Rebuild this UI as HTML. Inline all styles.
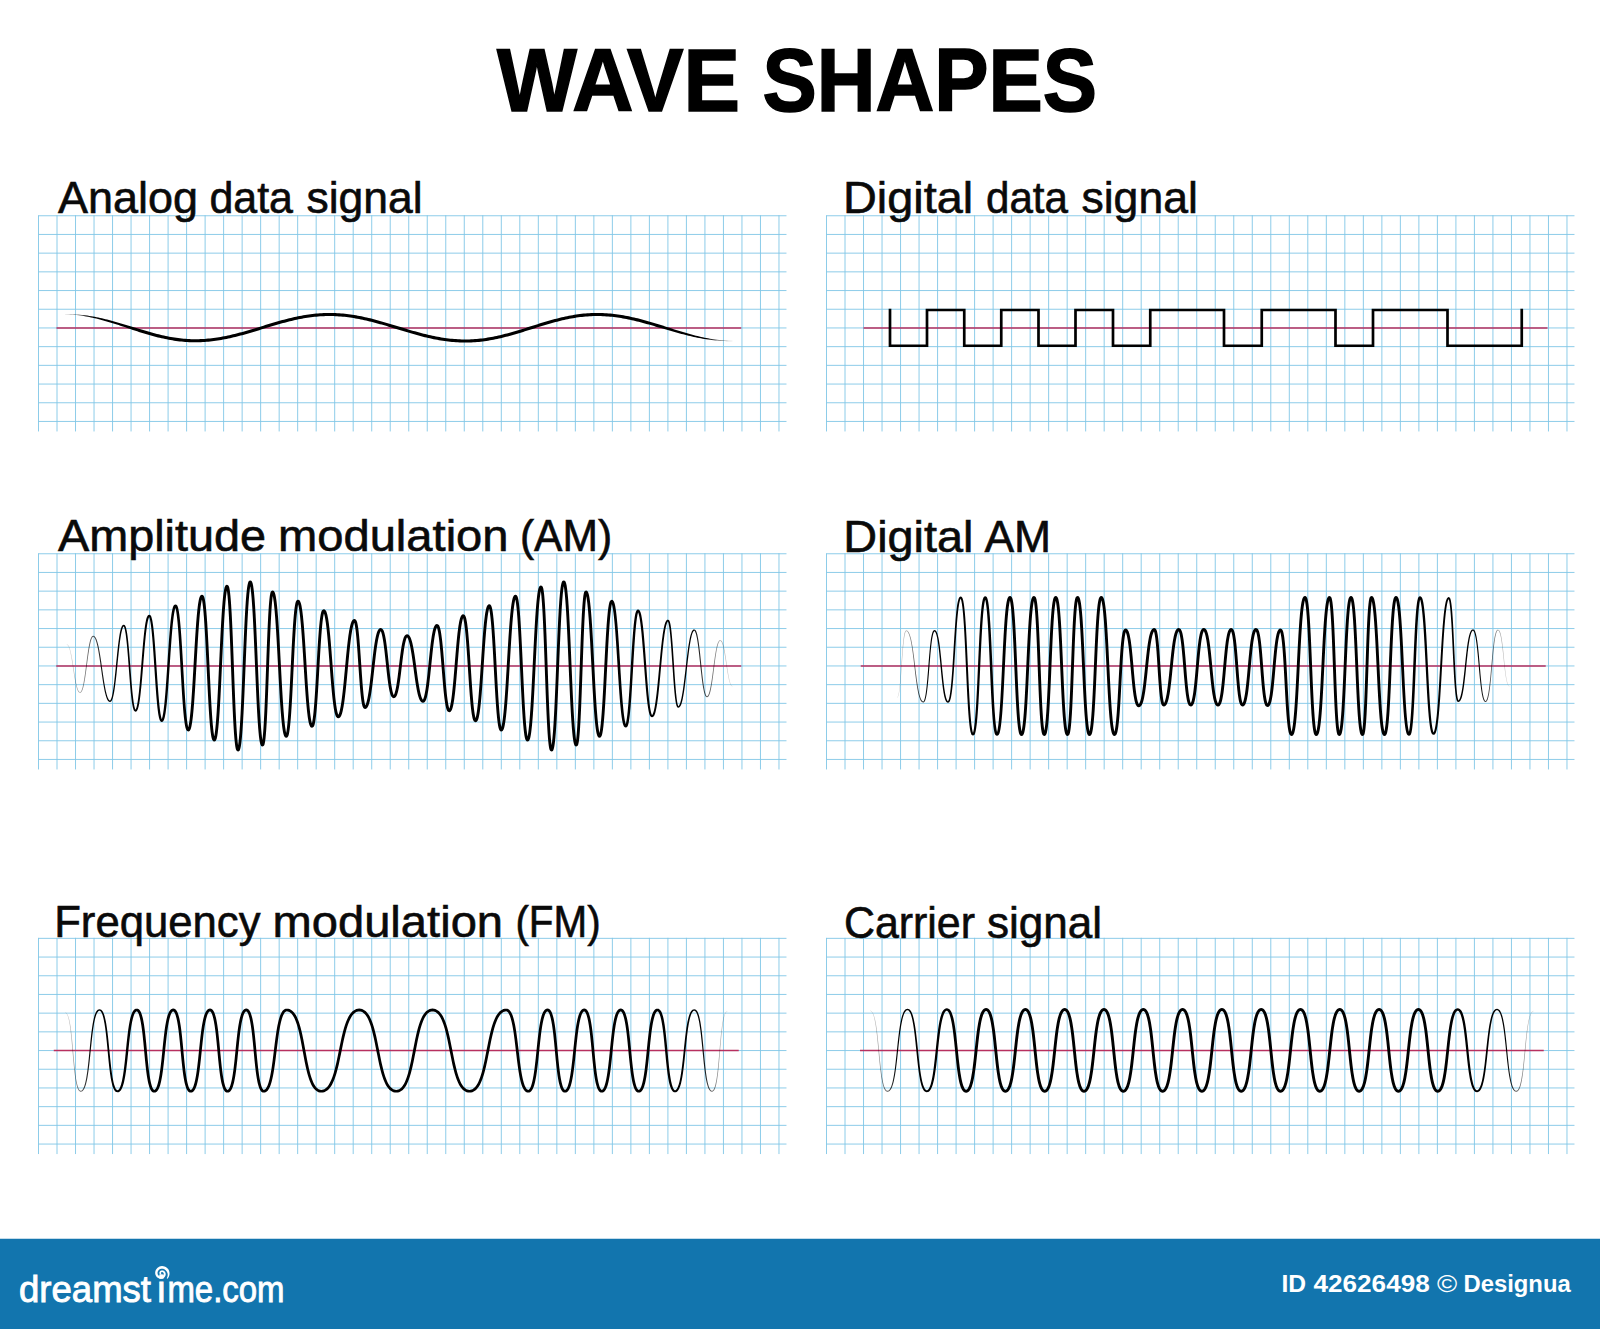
<!DOCTYPE html>
<html lang="en">
<head>
<meta charset="utf-8">
<title>Wave Shapes</title>
<style>
html,body{margin:0;padding:0;background:#fff;}
body{width:1600px;height:1329px;overflow:hidden;font-family:"Liberation Sans",sans-serif;}
svg{display:block;}
.grid{fill:none;stroke:#80c6e7;stroke-width:0.9;}
.mid{fill:none;stroke:#b8305f;stroke-width:1.4;}
.wave{stroke:none;}
.sq{fill:none;stroke:#000;stroke-width:2.7;stroke-linejoin:miter;stroke-linecap:butt;}
.lbl{font-family:"Liberation Sans",sans-serif;fill:#0a0a0a;stroke:#0a0a0a;stroke-width:0.6;}
.title{font-family:"Liberation Sans",sans-serif;font-weight:700;fill:#000;stroke:#000;stroke-width:1.6;}
.brand{font-family:"Liberation Sans",sans-serif;font-weight:400;fill:#fff;stroke:#fff;stroke-width:0.9;}
.credit{font-family:"Liberation Sans",sans-serif;font-weight:700;fill:#fff;}
</style>
</head>
<body>
<svg width="1600" height="1329" viewBox="0 0 1600 1329">
<rect width="1600" height="1329" fill="#fff"/>
<g id="title"><text class="title" y="111.2" font-size="89"><tspan x="497.01" textLength="243.01" lengthAdjust="spacingAndGlyphs">WAVE</tspan> <tspan x="762.48" textLength="334.57" lengthAdjust="spacingAndGlyphs">SHAPES</tspan></text></g>
<g id="analog"><path class="grid" d="M38.5 215.25V431.45M57.01 215.25V431.45M75.52 215.25V431.45M94.04 215.25V431.45M112.55 215.25V431.45M131.06 215.25V431.45M149.57 215.25V431.45M168.08 215.25V431.45M186.6 215.25V431.45M205.11 215.25V431.45M223.62 215.25V431.45M242.13 215.25V431.45M260.64 215.25V431.45M279.16 215.25V431.45M297.67 215.25V431.45M316.18 215.25V431.45M334.69 215.25V431.45M353.2 215.25V431.45M371.72 215.25V431.45M390.23 215.25V431.45M408.74 215.25V431.45M427.25 215.25V431.45M445.76 215.25V431.45M464.28 215.25V431.45M482.79 215.25V431.45M501.3 215.25V431.45M519.81 215.25V431.45M538.32 215.25V431.45M556.84 215.25V431.45M575.35 215.25V431.45M593.86 215.25V431.45M612.37 215.25V431.45M630.88 215.25V431.45M649.4 215.25V431.45M667.91 215.25V431.45M686.42 215.25V431.45M704.93 215.25V431.45M723.44 215.25V431.45M741.96 215.25V431.45M760.47 215.25V431.45M778.98 215.25V431.45M38.5 215.75H786.48M38.5 234.45H786.48M38.5 253.15H786.48M38.5 271.85H786.48M38.5 290.55H786.48M38.5 309.25H786.48M38.5 327.95H786.48M38.5 346.65H786.48M38.5 365.35H786.48M38.5 384.05H786.48M38.5 402.75H786.48M38.5 421.45H786.48"/><path class="mid" d="M56.5 328H741.25"/><linearGradient id="fade1" gradientUnits="userSpaceOnUse" x1="65" y1="0" x2="732.5" y2="0"><stop offset="0" stop-color="#000" stop-opacity="0.12"/><stop offset="0.04" stop-color="#000" stop-opacity="1"/><stop offset="0.96" stop-color="#000" stop-opacity="1"/><stop offset="1" stop-color="#000" stop-opacity="0.12"/></linearGradient><path class="wave" fill="url(#fade1)" d="M65 314.4L66.94 314.45L68.86 314.53L70.77 314.64L72.66 314.77L74.54 314.93L76.41 315.12L78.27 315.33L80.11 315.57L81.95 315.82L83.77 316.1L85.58 316.4L87.39 316.72L89.18 317.07L90.96 317.43L92.74 317.8L94.51 318.2L96.26 318.61L98.02 319.04L99.76 319.48L101.5 319.94L103.23 320.41L104.96 320.89L106.68 321.38L108.39 321.89L110.1 322.4L111.81 322.93L113.51 323.46L115.21 324L116.91 324.55L118.6 325.1L120.29 325.66L121.99 326.23L123.67 326.79L125.36 327.36L127.05 327.94L128.74 328.51L130.43 329.09L132.12 329.66L133.81 330.23L135.5 330.81L137.2 331.37L138.89 331.94L140.6 332.48L142.31 333.01L144.03 333.53L145.75 334.04L147.47 334.55L149.2 335.05L150.94 335.53L152.67 336.01L154.42 336.48L156.17 336.93L157.93 337.38L159.69 337.81L161.46 338.22L163.24 338.62L165.03 339.01L166.83 339.37L168.63 339.72L170.44 340.05L172.27 340.37L174.1 340.66L175.94 340.93L177.8 341.18L179.66 341.4L181.53 341.61L183.42 341.79L185.32 341.94L187.23 342.07L189.15 342.17L191.09 342.24L193.04 342.29L195 342.3L196.95 342.29L198.88 342.25L200.81 342.18L202.72 342.09L204.62 341.97L206.51 341.83L208.38 341.67L210.25 341.48L212.1 341.27L213.95 341.04L215.78 340.79L217.6 340.53L219.42 340.24L221.22 339.93L223.02 339.61L224.81 339.27L226.59 338.92L228.36 338.55L230.13 338.16L231.89 337.76L233.64 337.35L235.38 336.93L237.12 336.5L238.86 336.05L240.58 335.6L242.31 335.13L244.02 334.66L245.74 334.18L247.45 333.69L249.15 333.2L250.85 332.7L252.55 332.19L254.25 331.68L255.94 331.17L257.64 330.66L259.33 330.14L261.02 329.62L262.7 329.11L264.39 328.59L266.08 328.07L267.77 327.56L269.45 327.04L271.14 326.53L272.83 326.03L274.52 325.53L276.22 325.03L277.91 324.54L279.61 324.06L281.31 323.58L283.01 323.11L284.72 322.65L286.43 322.2L288.14 321.76L289.86 321.33L291.58 320.91L293.31 320.51L295.04 320.11L296.78 319.74L298.53 319.37L300.28 319.02L302.04 318.69L303.81 318.37L305.58 318.07L307.36 317.79L309.15 317.53L310.95 317.28L312.76 317.06L314.58 316.85L316.41 316.67L318.24 316.51L320.09 316.37L321.95 316.26L323.82 316.17L325.7 316.1L327.59 316.06L329.5 316.05L331.43 316.06L333.34 316.1L335.24 316.17L337.14 316.26L339.01 316.38L340.88 316.51L342.74 316.68L344.59 316.86L346.43 317.07L348.26 317.29L350.08 317.54L351.89 317.81L353.69 318.09L355.48 318.39L357.27 318.71L359.05 319.05L360.82 319.4L362.59 319.77L364.35 320.15L366.1 320.55L367.85 320.96L369.59 321.38L371.33 321.81L373.06 322.26L374.79 322.71L376.51 323.18L378.24 323.65L379.96 324.13L381.67 324.62L383.38 325.12L385.1 325.62L386.81 326.12L388.51 326.63L390.22 327.15L391.93 327.67L393.63 328.19L395.34 328.71L397.05 329.23L398.75 329.76L400.46 330.28L402.17 330.8L403.88 331.32L405.59 331.83L407.31 332.35L409.03 332.86L410.75 333.36L412.47 333.86L414.2 334.35L415.93 334.84L417.67 335.31L419.41 335.78L421.16 336.24L422.91 336.69L424.67 337.13L426.44 337.56L428.21 337.97L429.98 338.37L431.77 338.76L433.56 339.13L435.36 339.49L437.17 339.83L438.99 340.16L440.81 340.47L442.65 340.76L444.49 341.03L446.35 341.28L448.21 341.51L450.08 341.72L451.97 341.91L453.87 342.08L455.78 342.22L457.7 342.34L459.63 342.43L461.57 342.5L463.53 342.54L465.5 342.55L467.46 342.54L469.4 342.49L471.33 342.42L473.25 342.32L475.16 342.2L477.05 342.05L478.94 341.88L480.81 341.68L482.67 341.46L484.52 341.21L486.36 340.95L488.19 340.67L490.01 340.36L491.82 340.04L493.62 339.7L495.42 339.34L497.2 338.96L498.98 338.57L500.75 338.17L502.51 337.75L504.26 337.31L506.01 336.87L507.76 336.41L509.49 335.94L511.23 335.46L512.95 334.98L514.67 334.48L516.39 333.98L518.11 333.46L519.82 332.95L521.52 332.43L523.23 331.9L524.93 331.37L526.63 330.84L528.33 330.3L530.02 329.76L531.72 329.23L533.41 328.69L535.11 328.15L536.8 327.62L538.5 327.09L540.19 326.56L541.89 326.04L543.58 325.52L545.28 325L546.99 324.5L548.69 324L550.4 323.51L552.11 323.02L553.82 322.55L555.54 322.09L557.26 321.63L558.99 321.19L560.72 320.77L562.46 320.35L564.2 319.95L565.95 319.57L567.71 319.2L569.47 318.85L571.24 318.51L573.02 318.19L574.8 317.89L576.6 317.62L578.4 317.36L580.21 317.12L582.04 316.9L583.87 316.71L585.71 316.54L587.56 316.39L589.43 316.27L591.3 316.18L593.19 316.11L595.09 316.06L597 316.05L598.92 316.06L600.83 316.1L602.72 316.17L604.61 316.26L606.48 316.38L608.34 316.51L610.19 316.68L612.03 316.86L613.86 317.07L615.69 317.29L617.5 317.54L619.3 317.81L621.1 318.09L622.88 318.39L624.66 318.71L626.44 319.05L628.2 319.4L629.96 319.77L631.71 320.15L633.46 320.55L635.2 320.96L636.94 321.38L638.67 321.81L640.4 322.26L642.12 322.71L643.84 323.18L645.55 323.65L647.27 324.13L648.98 324.62L650.68 325.12L652.39 325.62L654.09 326.12L655.79 326.63L657.5 327.14L659.21 327.63L660.92 328.12L662.62 328.61L664.33 329.1L666.04 329.59L667.76 330.09L669.47 330.58L671.18 331.07L672.9 331.55L674.61 332.03L676.33 332.51L678.06 332.99L679.78 333.45L681.51 333.91L683.24 334.37L684.98 334.81L686.72 335.25L688.47 335.68L690.22 336.09L691.97 336.5L693.73 336.89L695.5 337.28L697.27 337.64L699.05 338L700.84 338.34L702.63 338.66L704.43 338.97L706.24 339.26L708.05 339.54L709.88 339.79L711.71 340.03L713.55 340.24L715.4 340.44L717.26 340.61L719.13 340.76L721 340.89L722.89 341L724.79 341.08L726.7 341.14L728.62 341.17L730.56 341.17L732.5 341.15L732.5 340.85L730.56 340.8L728.64 340.72L726.72 340.62L724.82 340.49L722.94 340.34L721.06 340.17L719.2 339.97L717.35 339.75L715.51 339.51L713.68 339.25L711.86 338.96L710.05 338.66L708.25 338.34L706.46 338L704.68 337.65L702.9 337.28L701.13 336.89L699.38 336.49L697.62 336.07L695.88 335.64L694.14 335.2L692.41 334.75L690.68 334.28L688.96 333.8L687.24 333.32L685.52 332.82L683.82 332.32L682.11 331.8L680.41 331.29L678.71 330.76L677.01 330.23L675.31 329.69L673.62 329.15L671.93 328.6L670.24 328.05L668.55 327.5L666.86 326.95L665.17 326.4L663.47 325.84L661.78 325.29L660.09 324.74L658.39 324.19L656.69 323.67L654.98 323.15L653.27 322.64L651.55 322.14L649.83 321.64L648.11 321.15L646.39 320.66L644.66 320.19L642.92 319.72L641.18 319.26L639.43 318.81L637.68 318.37L635.92 317.94L634.16 317.53L632.39 317.13L630.61 316.74L628.82 316.37L627.03 316.01L625.23 315.67L623.42 315.34L621.6 315.03L619.77 314.74L617.93 314.47L616.09 314.22L614.23 313.99L612.36 313.78L610.48 313.59L608.59 313.42L606.69 313.28L604.78 313.16L602.85 313.07L600.91 313L598.96 312.96L597 312.95L595.04 312.96L593.1 313.01L591.17 313.08L589.25 313.18L587.34 313.3L585.45 313.45L583.56 313.62L581.69 313.82L579.83 314.04L577.98 314.29L576.14 314.55L574.31 314.83L572.49 315.14L570.68 315.46L568.88 315.8L567.08 316.16L565.3 316.54L563.52 316.93L561.75 317.33L559.99 317.75L558.24 318.19L556.49 318.63L554.74 319.09L553.01 319.56L551.27 320.04L549.55 320.52L547.83 321.02L546.11 321.52L544.39 322.04L542.68 322.55L540.98 323.07L539.27 323.6L537.57 324.13L535.87 324.66L534.17 325.2L532.48 325.74L530.78 326.27L529.09 326.81L527.39 327.35L525.7 327.88L524 328.41L522.31 328.94L520.61 329.46L518.92 329.98L517.22 330.5L515.51 331L513.81 331.5L512.1 331.99L510.39 332.48L508.68 332.95L506.96 333.41L505.24 333.87L503.51 334.31L501.78 334.73L500.04 335.15L498.3 335.55L496.55 335.93L494.79 336.3L493.03 336.65L491.26 336.99L489.48 337.31L487.7 337.61L485.9 337.88L484.1 338.14L482.29 338.38L480.46 338.6L478.63 338.79L476.79 338.96L474.94 339.11L473.07 339.23L471.2 339.32L469.31 339.39L467.41 339.44L465.5 339.45L463.57 339.44L461.66 339.4L459.76 339.33L457.86 339.24L455.99 339.12L454.12 338.99L452.26 338.82L450.41 338.64L448.57 338.43L446.74 338.21L444.92 337.96L443.11 337.69L441.31 337.41L439.52 337.11L437.73 336.79L435.95 336.45L434.18 336.1L432.41 335.73L430.65 335.35L428.9 334.95L427.15 334.54L425.41 334.12L423.67 333.69L421.94 333.24L420.21 332.79L418.49 332.32L416.76 331.85L415.04 331.37L413.33 330.88L411.62 330.38L409.9 329.88L408.19 329.38L406.49 328.87L404.78 328.35L403.07 327.83L401.37 327.31L399.66 326.79L397.95 326.27L396.25 325.74L394.54 325.22L392.83 324.7L391.12 324.18L389.41 323.67L387.69 323.15L385.97 322.64L384.25 322.14L382.53 321.64L380.8 321.15L379.07 320.66L377.33 320.19L375.59 319.72L373.84 319.26L372.09 318.81L370.33 318.37L368.56 317.94L366.79 317.53L365.02 317.13L363.23 316.74L361.44 316.37L359.64 316.01L357.83 315.67L356.01 315.34L354.19 315.03L352.35 314.74L350.51 314.47L348.65 314.22L346.79 313.99L344.92 313.78L343.03 313.59L341.13 313.42L339.22 313.28L337.3 313.16L335.37 313.07L333.43 313L331.47 312.96L329.5 312.95L327.55 312.96L325.62 313L323.69 313.07L321.78 313.16L319.88 313.28L317.99 313.42L316.12 313.58L314.25 313.77L312.4 313.98L310.55 314.21L308.72 314.46L306.9 314.72L305.08 315.01L303.28 315.32L301.48 315.64L299.69 315.98L297.91 316.33L296.14 316.7L294.37 317.09L292.61 317.49L290.86 317.9L289.12 318.32L287.38 318.75L285.64 319.2L283.92 319.65L282.19 320.12L280.48 320.59L278.76 321.07L277.05 321.56L275.35 322.05L273.65 322.55L271.95 323.06L270.25 323.57L268.56 324.08L266.86 324.59L265.17 325.11L263.48 325.63L261.8 326.14L260.11 326.66L258.42 327.18L256.73 327.69L255.05 328.21L253.36 328.72L251.67 329.22L249.98 329.72L248.28 330.22L246.59 330.71L244.89 331.19L243.19 331.67L241.49 332.14L239.78 332.6L238.07 333.05L236.36 333.49L234.64 333.92L232.92 334.34L231.19 334.74L229.46 335.14L227.72 335.51L225.97 335.88L224.22 336.23L222.46 336.56L220.69 336.88L218.92 337.18L217.14 337.46L215.35 337.72L213.55 337.97L211.74 338.19L209.92 338.4L208.09 338.58L206.26 338.74L204.41 338.88L202.55 338.99L200.68 339.08L198.8 339.15L196.91 339.19L195 339.2L193.08 339.19L191.18 339.14L189.29 339.07L187.41 338.97L185.55 338.85L183.69 338.7L181.85 338.52L180.01 338.33L178.19 338.1L176.37 337.86L174.57 337.59L172.77 337.31L170.98 337L169.21 336.68L167.43 336.33L165.67 335.97L163.91 335.59L162.16 335.2L160.41 334.79L158.67 334.37L156.94 333.93L155.21 333.48L153.49 333.02L151.77 332.55L150.05 332.06L148.34 331.57L146.63 331.07L144.92 330.56L143.22 330.04L141.51 329.52L139.81 329L138.1 328.5L136.39 327.99L134.69 327.48L132.98 326.97L131.27 326.46L129.56 325.94L127.85 325.43L126.14 324.92L124.43 324.41L122.72 323.9L121 323.39L119.29 322.89L117.56 322.4L115.84 321.91L114.11 321.43L112.38 320.95L110.65 320.49L108.91 320.03L107.16 319.58L105.41 319.15L103.66 318.73L101.9 318.32L100.13 317.92L98.36 317.54L96.58 317.17L94.79 316.82L93 316.49L91.2 316.17L89.39 315.88L87.57 315.6L85.75 315.34L83.91 315.11L82.07 314.9L80.21 314.7L78.35 314.54L76.48 314.4L74.59 314.28L72.7 314.19L70.79 314.12L68.87 314.09L66.94 314.08L65 314.1Z"/><text class="lbl" y="213" font-size="44.2"><tspan x="57.99" textLength="140.07" lengthAdjust="spacingAndGlyphs">Analog</tspan> <tspan x="209.46" textLength="83.54" lengthAdjust="spacingAndGlyphs">data</tspan> <tspan x="306.45" textLength="116.13" lengthAdjust="spacingAndGlyphs">signal</tspan></text></g>
<g id="digital"><path class="grid" d="M826.5 215.25V431.45M845.01 215.25V431.45M863.52 215.25V431.45M882.04 215.25V431.45M900.55 215.25V431.45M919.06 215.25V431.45M937.57 215.25V431.45M956.08 215.25V431.45M974.6 215.25V431.45M993.11 215.25V431.45M1011.62 215.25V431.45M1030.13 215.25V431.45M1048.64 215.25V431.45M1067.16 215.25V431.45M1085.67 215.25V431.45M1104.18 215.25V431.45M1122.69 215.25V431.45M1141.2 215.25V431.45M1159.72 215.25V431.45M1178.23 215.25V431.45M1196.74 215.25V431.45M1215.25 215.25V431.45M1233.76 215.25V431.45M1252.28 215.25V431.45M1270.79 215.25V431.45M1289.3 215.25V431.45M1307.81 215.25V431.45M1326.32 215.25V431.45M1344.84 215.25V431.45M1363.35 215.25V431.45M1381.86 215.25V431.45M1400.37 215.25V431.45M1418.88 215.25V431.45M1437.4 215.25V431.45M1455.91 215.25V431.45M1474.42 215.25V431.45M1492.93 215.25V431.45M1511.44 215.25V431.45M1529.96 215.25V431.45M1548.47 215.25V431.45M1566.98 215.25V431.45M826.5 215.75H1574.48M826.5 234.45H1574.48M826.5 253.15H1574.48M826.5 271.85H1574.48M826.5 290.55H1574.48M826.5 309.25H1574.48M826.5 327.95H1574.48M826.5 346.65H1574.48M826.5 365.35H1574.48M826.5 384.05H1574.48M826.5 402.75H1574.48M826.5 421.45H1574.48"/><path class="mid" d="M863.5 328H1547.5"/><path class="sq" d="M890 308.8V345.75H927V310H964.25V345.75H1001.25V310H1038.5V345.75H1075.5V310H1113V345.75H1150.25V310H1224V345.75H1261.75V310H1335.5V345.75H1373V310H1447.5V345.75H1521.75V308.8"/><text class="lbl" y="212.75" font-size="44.2"><tspan x="843.05" textLength="130.1" lengthAdjust="spacingAndGlyphs">Digital</tspan> <tspan x="985.99" textLength="82.01" lengthAdjust="spacingAndGlyphs">data</tspan> <tspan x="1081.45" textLength="116.38" lengthAdjust="spacingAndGlyphs">signal</tspan></text></g>
<g id="am"><path class="grid" d="M38.5 553.25V769.45M57.01 553.25V769.45M75.52 553.25V769.45M94.04 553.25V769.45M112.55 553.25V769.45M131.06 553.25V769.45M149.57 553.25V769.45M168.08 553.25V769.45M186.6 553.25V769.45M205.11 553.25V769.45M223.62 553.25V769.45M242.13 553.25V769.45M260.64 553.25V769.45M279.16 553.25V769.45M297.67 553.25V769.45M316.18 553.25V769.45M334.69 553.25V769.45M353.2 553.25V769.45M371.72 553.25V769.45M390.23 553.25V769.45M408.74 553.25V769.45M427.25 553.25V769.45M445.76 553.25V769.45M464.28 553.25V769.45M482.79 553.25V769.45M501.3 553.25V769.45M519.81 553.25V769.45M538.32 553.25V769.45M556.84 553.25V769.45M575.35 553.25V769.45M593.86 553.25V769.45M612.37 553.25V769.45M630.88 553.25V769.45M649.4 553.25V769.45M667.91 553.25V769.45M686.42 553.25V769.45M704.93 553.25V769.45M723.44 553.25V769.45M741.96 553.25V769.45M760.47 553.25V769.45M778.98 553.25V769.45M38.5 553.75H786.48M38.5 572.45H786.48M38.5 591.15H786.48M38.5 609.85H786.48M38.5 628.55H786.48M38.5 647.25H786.48M38.5 665.95H786.48M38.5 684.65H786.48M38.5 703.35H786.48M38.5 722.05H786.48M38.5 740.75H786.48M38.5 759.45H786.48"/><path class="mid" d="M56.25 666H741.25"/><linearGradient id="fade2" gradientUnits="userSpaceOnUse" x1="66.75" y1="0" x2="732.5" y2="0"><stop offset="0" stop-color="#000" stop-opacity="0.12"/><stop offset="0.06" stop-color="#000" stop-opacity="1"/><stop offset="0.94" stop-color="#000" stop-opacity="1"/><stop offset="1" stop-color="#000" stop-opacity="0.12"/></linearGradient><path class="wave" fill="url(#fade2)" d="M66.69 644.72L67.27 644.89L67.82 645.4L68.36 646.26L68.89 647.44L69.4 648.91L69.89 650.62L70.36 652.56L70.81 654.7L71.24 656.99L71.67 659.42L72.08 661.95L72.49 664.56L72.89 667.21L73.29 669.88L73.69 672.53L74.1 675.14L74.51 677.68L74.94 680.11L75.37 682.42L75.83 684.56L76.3 686.52L76.79 688.27L77.32 689.77L77.87 691.01L78.48 691.97L79.18 692.61L79.99 692.85L80.73 692.65L81.35 692.1L81.89 691.29L82.38 690.22L82.85 688.93L83.3 687.41L83.72 685.69L84.13 683.79L84.53 681.72L84.91 679.52L85.28 677.19L85.64 674.76L86 672.25L86.35 669.68L86.7 667.06L87.04 664.43L87.39 661.8L87.73 659.19L88.08 656.62L88.44 654.11L88.8 651.69L89.17 649.37L89.55 647.17L89.94 645.13L90.35 643.25L90.76 641.56L91.2 640.08L91.64 638.84L92.1 637.86L92.55 637.18L92.95 636.82L93.26 636.73L93.64 636.83L94.08 637.16L94.56 637.75L95.05 638.6L95.54 639.68L96.01 640.99L96.48 642.49L96.93 644.18L97.36 646.03L97.78 648.03L98.2 650.17L98.6 652.42L98.99 654.77L99.38 657.21L99.76 659.72L100.14 662.28L100.51 664.89L100.88 667.51L101.25 670.15L101.62 672.78L101.99 675.38L102.37 677.95L102.75 680.46L103.14 682.91L103.53 685.28L103.94 687.54L104.35 689.69L104.78 691.72L105.23 693.6L105.68 695.32L106.16 696.87L106.66 698.24L107.19 699.42L107.76 700.4L108.39 701.16L109.13 701.69L109.99 701.9L110.76 701.69L111.36 701.17L111.83 700.47L112.26 699.57L112.66 698.49L113.03 697.23L113.4 695.79L113.74 694.19L114.08 692.43L114.41 690.52L114.73 688.48L115.03 686.33L115.34 684.06L115.63 681.69L115.92 679.25L116.21 676.72L116.49 674.14L116.77 671.51L117.04 668.84L117.31 666.15L117.59 663.45L117.86 660.74L118.13 658.05L118.41 655.39L118.69 652.76L118.97 650.18L119.25 647.67L119.54 645.23L119.83 642.87L120.13 640.62L120.44 638.48L120.76 636.46L121.08 634.58L121.41 632.85L121.75 631.28L122.1 629.89L122.45 628.7L122.81 627.72L123.17 626.98L123.49 626.5L123.71 626.3L123.76 626.28L123.64 626.26L123.76 626.41L124 626.84L124.26 627.51L124.54 628.4L124.81 629.49L125.08 630.77L125.34 632.21L125.59 633.8L125.84 635.55L126.08 637.42L126.32 639.43L126.55 641.55L126.78 643.77L127 646.08L127.22 648.49L127.44 650.96L127.65 653.5L127.86 656.1L128.07 658.74L128.27 661.41L128.48 664.11L128.68 666.83L128.89 669.55L129.09 672.26L129.3 674.97L129.5 677.64L129.71 680.29L129.92 682.89L130.14 685.43L130.35 687.91L130.57 690.32L130.8 692.65L131.02 694.88L131.26 697.01L131.5 699.03L131.74 700.93L131.99 702.7L132.25 704.33L132.52 705.81L132.8 707.13L133.09 708.3L133.4 709.3L133.73 710.13L134.12 710.82L134.66 711.37L135.48 711.65L136.3 711.43L136.87 710.94L137.3 710.32L137.66 709.56L138 708.66L138.32 707.62L138.62 706.43L138.91 705.09L139.19 703.63L139.47 702.03L139.74 700.31L140 698.47L140.26 696.52L140.51 694.47L140.75 692.33L140.99 690.1L141.23 687.79L141.46 685.41L141.69 682.96L141.91 680.46L142.14 677.91L142.36 675.31L142.58 672.68L142.8 670.03L143.01 667.36L143.23 664.67L143.45 661.98L143.66 659.3L143.88 656.63L144.1 653.97L144.32 651.35L144.54 648.76L144.76 646.21L144.99 643.71L145.21 641.27L145.45 638.9L145.68 636.6L145.92 634.38L146.16 632.25L146.41 630.22L146.67 628.29L146.92 626.47L147.19 624.78L147.46 623.22L147.73 621.79L148.01 620.51L148.3 619.4L148.59 618.45L148.87 617.68L149.14 617.13L149.35 616.81L149.42 616.74L149.26 616.78L148.97 616.71L148.99 616.75L149.16 617.03L149.38 617.55L149.61 618.26L149.85 619.14L150.08 620.19L150.31 621.38L150.54 622.72L150.77 624.19L150.99 625.79L151.2 627.5L151.41 629.33L151.62 631.26L151.82 633.29L152.02 635.41L152.22 637.62L152.41 639.9L152.6 642.26L152.79 644.68L152.98 647.16L153.16 649.69L153.34 652.27L153.52 654.88L153.7 657.53L153.88 660.2L154.06 662.9L154.23 665.61L154.41 668.32L154.58 671.04L154.76 673.74L154.94 676.44L155.11 679.12L155.29 681.77L155.47 684.39L155.66 686.97L155.84 689.51L156.03 691.99L156.21 694.42L156.4 696.78L156.6 699.07L156.8 701.29L157 703.42L157.2 705.47L157.41 707.42L157.62 709.26L157.84 711L158.07 712.63L158.3 714.13L158.53 715.51L158.78 716.77L159.03 717.89L159.29 718.87L159.57 719.72L159.89 720.45L160.27 721.08L160.84 721.63L161.73 721.91L162.62 721.67L163.2 721.17L163.6 720.59L163.93 719.91L164.23 719.12L164.5 718.22L164.76 717.19L165.02 716.04L165.26 714.78L165.5 713.39L165.73 711.9L165.96 710.3L166.18 708.59L166.4 706.79L166.62 704.89L166.83 702.9L167.03 700.83L167.24 698.69L167.44 696.47L167.63 694.18L167.83 691.83L168.02 689.42L168.21 686.96L168.39 684.45L168.58 681.9L168.76 679.32L168.95 676.7L169.13 674.06L169.31 671.39L169.49 668.71L169.67 666.02L169.85 663.33L170.02 660.64L170.2 657.95L170.38 655.27L170.56 652.61L170.75 649.97L170.93 647.35L171.11 644.77L171.3 642.23L171.48 639.72L171.67 637.27L171.86 634.87L172.06 632.53L172.25 630.25L172.45 628.04L172.65 625.9L172.86 623.85L173.07 621.88L173.28 620L173.49 618.21L173.71 616.53L173.94 614.96L174.16 613.5L174.4 612.16L174.63 610.95L174.87 609.87L175.11 608.93L175.35 608.15L175.57 607.54L175.78 607.11L175.91 606.91L175.86 606.95L175.51 607.04L175.06 606.92L174.97 606.86L175.07 607.03L175.24 607.42L175.44 608L175.64 608.73L175.84 609.6L176.04 610.62L176.24 611.76L176.44 613.02L176.64 614.39L176.83 615.88L177.02 617.47L177.2 619.16L177.39 620.94L177.56 622.82L177.74 624.78L177.91 626.82L178.09 628.93L178.25 631.12L178.42 633.37L178.59 635.68L178.75 638.05L178.91 640.48L179.07 642.95L179.22 645.46L179.38 648.02L179.54 650.61L179.69 653.22L179.84 655.87L179.99 658.53L180.15 661.21L180.3 663.9L180.45 666.6L180.6 669.3L180.75 672L180.9 674.69L181.05 677.37L181.21 680.04L181.36 682.69L181.51 685.31L181.67 687.9L181.82 690.45L181.98 692.97L182.14 695.45L182.3 697.88L182.46 700.26L182.63 702.58L182.8 704.84L182.97 707.03L183.14 709.16L183.31 711.21L183.49 713.18L183.67 715.07L183.86 716.88L184.04 718.59L184.24 720.21L184.43 721.72L184.63 723.13L184.84 724.44L185.05 725.64L185.26 726.72L185.49 727.69L185.73 728.55L185.98 729.3L186.28 729.97L186.65 730.57L187.25 731.12L188.24 731.42L189.22 731.15L189.83 730.63L190.22 730.05L190.53 729.42L190.8 728.7L191.04 727.88L191.28 726.96L191.51 725.94L191.72 724.8L191.94 723.56L192.15 722.22L192.35 720.78L192.55 719.24L192.75 717.61L192.94 715.9L193.13 714.09L193.31 712.2L193.49 710.24L193.67 708.2L193.85 706.09L194.02 703.91L194.19 701.67L194.36 699.37L194.53 697.02L194.69 694.62L194.85 692.16L195.02 689.67L195.18 687.13L195.33 684.56L195.49 681.96L195.65 679.33L195.8 676.68L195.96 674.01L196.11 671.32L196.27 668.62L196.42 665.92L196.57 663.21L196.73 660.5L196.88 657.79L197.03 655.09L197.19 652.41L197.34 649.74L197.5 647.09L197.65 644.46L197.81 641.86L197.97 639.3L198.13 636.77L198.29 634.28L198.45 631.83L198.62 629.43L198.78 627.08L198.95 624.79L199.12 622.56L199.29 620.4L199.47 618.3L199.64 616.27L199.82 614.32L200.01 612.45L200.19 610.66L200.38 608.97L200.57 607.36L200.77 605.85L200.96 604.45L201.16 603.15L201.37 601.96L201.57 600.89L201.78 599.94L201.98 599.13L202.19 598.46L202.38 597.94L202.54 597.6L202.62 597.47L202.48 597.57L202.02 597.7L201.41 597.53L201.25 597.39L201.31 597.49L201.44 597.8L201.6 598.28L201.76 598.9L201.94 599.66L202.11 600.54L202.28 601.53L202.45 602.64L202.62 603.85L202.78 605.16L202.94 606.56L203.1 608.06L203.26 609.65L203.42 611.33L203.57 613.09L203.72 614.92L203.87 616.83L204.02 618.82L204.16 620.87L204.31 622.98L204.45 625.16L204.59 627.39L204.73 629.68L204.86 632.01L205 634.4L205.13 636.83L205.27 639.3L205.4 641.81L205.53 644.35L205.66 646.92L205.79 649.52L205.92 652.14L206.04 654.79L206.17 657.45L206.3 660.12L206.42 662.81L206.55 665.5L206.68 668.19L206.8 670.89L206.93 673.58L207.06 676.26L207.18 678.94L207.31 681.6L207.44 684.25L207.57 686.87L207.7 689.47L207.83 692.05L207.96 694.59L208.09 697.1L208.22 699.58L208.36 702.01L208.49 704.4L208.63 706.75L208.77 709.04L208.91 711.28L209.05 713.46L209.19 715.58L209.34 717.64L209.49 719.64L209.64 721.56L209.79 723.41L209.94 725.18L210.1 726.87L210.26 728.48L210.42 730.01L210.59 731.44L210.76 732.78L210.93 734.03L211.11 735.18L211.29 736.24L211.48 737.19L211.67 738.04L211.87 738.8L212.1 739.47L212.35 740.06L212.69 740.61L213.25 741.15L214.24 741.45L215.23 741.16L215.79 740.64L216.13 740.11L216.38 739.53L216.6 738.89L216.81 738.17L217 737.35L217.18 736.44L217.36 735.43L217.54 734.33L217.71 733.14L217.88 731.85L218.04 730.48L218.2 729.01L218.36 727.47L218.52 725.84L218.67 724.14L218.82 722.36L218.97 720.5L219.12 718.58L219.27 716.59L219.41 714.53L219.55 712.42L219.69 710.24L219.83 708.01L219.97 705.73L220.1 703.4L220.23 701.02L220.37 698.6L220.5 696.14L220.63 693.64L220.76 691.11L220.89 688.54L221.01 685.95L221.14 683.33L221.27 680.69L221.39 678.03L221.52 675.36L221.64 672.67L221.76 669.97L221.89 667.26L222.01 664.55L222.14 661.83L222.26 659.12L222.38 656.42L222.51 653.72L222.63 651.03L222.76 648.35L222.88 645.7L223.01 643.06L223.13 640.44L223.26 637.85L223.39 635.29L223.52 632.76L223.65 630.26L223.78 627.81L223.91 625.39L224.04 623.02L224.18 620.69L224.32 618.41L224.45 616.19L224.59 614.02L224.73 611.92L224.88 609.87L225.02 607.89L225.17 605.98L225.32 604.13L225.47 602.37L225.62 600.68L225.77 599.07L225.93 597.54L226.09 596.1L226.25 594.76L226.41 593.5L226.58 592.35L226.75 591.3L226.92 590.35L227.09 589.52L227.25 588.8L227.42 588.21L227.57 587.76L227.7 587.48L227.74 587.4L227.57 587.54L227.02 587.7L226.31 587.48L226.12 587.3L226.16 587.37L226.26 587.63L226.38 588.05L226.52 588.61L226.65 589.28L226.79 590.06L226.93 590.95L227.06 591.94L227.2 593.02L227.33 594.2L227.47 595.46L227.6 596.82L227.72 598.26L227.85 599.77L227.98 601.37L228.1 603.04L228.22 604.78L228.34 606.6L228.46 608.48L228.58 610.42L228.69 612.43L228.81 614.49L228.92 616.61L229.03 618.79L229.14 621.01L229.25 623.29L229.36 625.61L229.47 627.97L229.57 630.38L229.68 632.82L229.78 635.29L229.89 637.8L229.99 640.35L230.09 642.91L230.2 645.51L230.3 648.12L230.4 650.76L230.5 653.41L230.6 656.07L230.7 658.75L230.8 661.44L230.9 664.13L231 666.83L231.1 669.53L231.2 672.23L231.3 674.92L231.4 677.61L231.5 680.29L231.6 682.95L231.7 685.61L231.8 688.24L231.91 690.86L232.01 693.45L232.11 696.02L232.21 698.56L232.32 701.08L232.42 703.56L232.53 706L232.64 708.41L232.74 710.78L232.85 713.1L232.96 715.38L233.07 717.61L233.18 719.79L233.3 721.92L233.41 723.99L233.53 726L233.65 727.95L233.77 729.84L233.89 731.66L234.01 733.42L234.13 735.1L234.26 736.71L234.39 738.24L234.52 739.7L234.65 741.07L234.78 742.37L234.92 743.57L235.06 744.69L235.2 745.72L235.35 746.66L235.5 747.51L235.65 748.27L235.82 748.95L235.99 749.54L236.2 750.07L236.48 750.58L236.98 751.11L238 751.45L238.97 751.15L239.51 750.64L239.82 750.14L240.05 749.6L240.24 749.01L240.42 748.34L240.59 747.59L240.76 746.75L240.92 745.82L241.08 744.8L241.23 743.69L241.38 742.5L241.52 741.23L241.67 739.87L241.81 738.44L241.95 736.92L242.09 735.33L242.23 733.67L242.36 731.94L242.49 730.14L242.62 728.27L242.75 726.34L242.88 724.35L243.01 722.3L243.13 720.19L243.25 718.03L243.37 715.82L243.5 713.56L243.61 711.25L243.73 708.9L243.85 706.51L243.97 704.09L244.08 701.62L244.19 699.12L244.31 696.59L244.42 694.03L244.53 691.45L244.64 688.84L244.75 686.21L244.86 683.56L244.97 680.89L245.08 678.21L245.19 675.52L245.3 672.83L245.41 670.12L245.52 667.41L245.63 664.7L245.74 662L245.85 659.29L245.95 656.59L246.06 653.9L246.17 651.23L246.28 648.56L246.39 645.91L246.5 643.29L246.62 640.68L246.73 638.1L246.84 635.54L246.95 633.01L247.07 630.51L247.18 628.05L247.3 625.63L247.41 623.24L247.53 620.89L247.65 618.59L247.77 616.34L247.89 614.13L248.01 611.98L248.14 609.88L248.26 607.83L248.39 605.85L248.52 603.93L248.65 602.07L248.78 600.28L248.91 598.56L249.05 596.91L249.19 595.34L249.32 593.84L249.47 592.42L249.61 591.09L249.75 589.84L249.9 588.68L250.04 587.62L250.19 586.65L250.34 585.78L250.49 585.01L250.64 584.35L250.79 583.82L250.92 583.41L251.03 583.16L251.06 583.1L250.87 583.27L250.24 583.45L249.63 583.27L249.45 583.11L249.49 583.18L249.6 583.44L249.74 583.87L249.89 584.42L250.04 585.1L250.2 585.9L250.35 586.8L250.51 587.8L250.66 588.9L250.81 590.09L250.96 591.38L251.1 592.75L251.25 594.21L251.39 595.75L251.53 597.37L251.67 599.07L251.8 600.84L251.94 602.67L252.07 604.58L252.2 606.55L252.33 608.59L252.46 610.68L252.59 612.83L252.71 615.03L252.84 617.29L252.96 619.59L253.08 621.94L253.2 624.33L253.32 626.76L253.44 629.23L253.56 631.74L253.68 634.28L253.79 636.85L253.91 639.44L254.02 642.06L254.14 644.7L254.25 647.36L254.36 650.03L254.48 652.72L254.59 655.42L254.7 658.13L254.81 660.84L254.93 663.56L255.04 666.28L255.15 668.99L255.26 671.7L255.38 674.4L255.49 677.09L255.6 679.77L255.72 682.43L255.83 685.07L255.95 687.69L256.06 690.28L256.18 692.85L256.29 695.39L256.41 697.9L256.53 700.38L256.65 702.81L256.77 705.21L256.89 707.56L257.02 709.87L257.14 712.13L257.27 714.34L257.39 716.5L257.52 718.6L257.65 720.64L257.79 722.62L257.92 724.53L258.06 726.38L258.19 728.16L258.33 729.87L258.47 731.51L258.62 733.06L258.76 734.54L258.91 735.94L259.06 737.25L259.22 738.48L259.37 739.62L259.53 740.67L259.7 741.63L259.87 742.49L260.04 743.27L260.23 743.96L260.43 744.57L260.67 745.12L260.98 745.63L261.52 746.15L262.51 746.45L263.56 746.07L264.05 745.51L264.31 744.99L264.5 744.44L264.67 743.82L264.82 743.11L264.97 742.3L265.12 741.4L265.26 740.41L265.39 739.32L265.53 738.13L265.66 736.85L265.79 735.49L265.91 734.04L266.04 732.5L266.16 730.88L266.28 729.19L266.4 727.42L266.52 725.57L266.63 723.66L266.75 721.68L266.86 719.64L266.97 717.53L267.08 715.37L267.19 713.15L267.3 710.88L267.4 708.56L267.51 706.19L267.61 703.79L267.71 701.34L267.82 698.85L267.92 696.33L268.02 693.78L268.12 691.2L268.22 688.59L268.31 685.97L268.41 683.32L268.51 680.66L268.61 677.98L268.71 675.29L268.8 672.6L268.9 669.9L269 667.2L269.09 664.5L269.19 661.81L269.29 659.12L269.39 656.45L269.48 653.79L269.58 651.14L269.68 648.52L269.78 645.91L269.88 643.33L269.98 640.78L270.08 638.27L270.18 635.78L270.29 633.34L270.39 630.93L270.5 628.57L270.6 626.26L270.71 623.99L270.82 621.78L270.93 619.62L271.04 617.52L271.15 615.48L271.26 613.51L271.38 611.61L271.49 609.77L271.61 608.01L271.73 606.33L271.85 604.73L271.97 603.21L272.1 601.77L272.23 600.43L272.36 599.18L272.49 598.03L272.62 596.97L272.75 596.03L272.88 595.19L273.02 594.47L273.15 593.87L273.27 593.41L273.38 593.11L273.42 593.01L273.25 593.19L272.48 593.45L272 593.32L271.85 593.2L271.91 593.3L272.06 593.61L272.23 594.08L272.42 594.7L272.61 595.45L272.8 596.33L272.99 597.33L273.18 598.43L273.37 599.64L273.56 600.96L273.74 602.37L273.92 603.87L274.09 605.47L274.27 607.15L274.44 608.91L274.61 610.75L274.78 612.67L274.94 614.66L275.11 616.71L275.27 618.83L275.43 621.02L275.58 623.26L275.74 625.55L275.89 627.9L276.04 630.29L276.19 632.73L276.34 635.21L276.49 637.73L276.64 640.28L276.78 642.86L276.93 645.47L277.07 648.1L277.22 650.75L277.36 653.42L277.5 656.1L277.64 658.8L277.79 661.5L277.93 664.2L278.07 666.91L278.21 669.61L278.35 672.3L278.5 674.98L278.64 677.66L278.78 680.31L278.93 682.94L279.07 685.56L279.22 688.14L279.36 690.69L279.51 693.21L279.66 695.7L279.81 698.14L279.96 700.54L280.12 702.89L280.27 705.19L280.43 707.44L280.59 709.63L280.75 711.76L280.92 713.83L281.08 715.83L281.25 717.76L281.42 719.61L281.6 721.39L281.77 723.09L281.95 724.71L282.13 726.24L282.32 727.68L282.51 729.03L282.71 730.28L282.9 731.44L283.11 732.5L283.32 733.46L283.54 734.32L283.77 735.09L284.02 735.76L284.31 736.37L284.69 736.92L285.29 737.43L286.26 737.7L287.28 737.38L287.84 736.82L288.17 736.25L288.43 735.63L288.65 734.93L288.86 734.13L289.05 733.23L289.24 732.22L289.42 731.11L289.6 729.89L289.78 728.57L289.95 727.15L290.11 725.64L290.28 724.04L290.44 722.34L290.6 720.56L290.75 718.7L290.91 716.77L291.06 714.75L291.21 712.67L291.35 710.52L291.5 708.31L291.64 706.04L291.78 703.71L291.92 701.33L292.06 698.91L292.19 696.44L292.33 693.93L292.46 691.38L292.6 688.8L292.73 686.2L292.86 683.57L292.99 680.91L293.12 678.24L293.25 675.56L293.38 672.87L293.51 670.17L293.64 667.47L293.77 664.77L293.9 662.08L294.03 659.4L294.16 656.73L294.29 654.08L294.42 651.45L294.55 648.84L294.68 646.27L294.82 643.73L294.95 641.22L295.09 638.75L295.23 636.33L295.37 633.96L295.51 631.64L295.65 629.38L295.79 627.17L295.94 625.03L296.09 622.96L296.24 620.96L296.39 619.03L296.54 617.19L296.7 615.42L296.86 613.75L297.02 612.17L297.18 610.68L297.35 609.29L297.52 608.01L297.69 606.84L297.87 605.78L298.04 604.84L298.22 604.04L298.39 603.37L298.55 602.85L298.69 602.51L298.76 602.38L298.61 602.52L297.98 602.7L297.55 602.58L297.44 602.5L297.53 602.65L297.71 603.03L297.92 603.59L298.14 604.31L298.37 605.18L298.59 606.19L298.81 607.34L299.03 608.6L299.24 609.98L299.46 611.47L299.67 613.07L299.87 614.77L300.07 616.56L300.27 618.44L300.47 620.41L300.66 622.46L300.85 624.59L301.04 626.79L301.22 629.05L301.4 631.38L301.58 633.76L301.76 636.2L301.94 638.69L302.11 641.22L302.29 643.79L302.46 646.39L302.63 649.02L302.8 651.68L302.97 654.36L303.13 657.06L303.3 659.77L303.47 662.48L303.64 665.2L303.8 667.91L303.97 670.62L304.14 673.32L304.31 676L304.48 678.66L304.65 681.3L304.82 683.91L304.99 686.48L305.17 689.01L305.35 691.51L305.52 693.95L305.7 696.34L305.89 698.68L306.07 700.95L306.26 703.16L306.45 705.3L306.65 707.37L306.84 709.35L307.04 711.25L307.25 713.07L307.46 714.79L307.67 716.42L307.89 717.95L308.11 719.37L308.34 720.69L308.57 721.89L308.81 722.99L309.06 723.97L309.33 724.84L309.62 725.6L309.94 726.28L310.36 726.89L311 727.43L312.02 727.7L313.06 727.36L313.66 726.77L314.03 726.14L314.31 725.44L314.56 724.64L314.8 723.73L315.02 722.69L315.23 721.54L315.44 720.26L315.65 718.87L315.84 717.37L316.04 715.76L316.22 714.04L316.41 712.23L316.59 710.32L316.77 708.33L316.94 706.25L317.11 704.09L317.28 701.86L317.45 699.56L317.61 697.2L317.78 694.78L317.94 692.31L318.09 689.79L318.25 687.23L318.41 684.64L318.56 682.01L318.71 679.35L318.87 676.68L319.02 673.99L319.17 671.29L319.32 668.58L319.47 665.88L319.63 663.17L319.78 660.48L319.93 657.81L320.08 655.16L320.24 652.53L320.39 649.94L320.55 647.38L320.71 644.87L320.87 642.41L321.03 639.99L321.19 637.64L321.36 635.35L321.53 633.13L321.7 630.99L321.87 628.92L322.05 626.94L322.23 625.05L322.41 623.26L322.6 621.57L322.79 619.99L322.98 618.53L323.17 617.18L323.37 615.96L323.57 614.88L323.78 613.94L323.98 613.15L324.17 612.53L324.34 612.11L324.44 611.93L324.32 612.03L323.73 612.2L323.38 612.11L323.32 612.07L323.46 612.28L323.68 612.73L323.94 613.38L324.2 614.22L324.47 615.22L324.73 616.37L324.99 617.67L325.25 619.1L325.5 620.65L325.75 622.33L325.99 624.11L326.23 626L326.47 627.99L326.7 630.06L326.93 632.23L327.15 634.47L327.37 636.78L327.59 639.16L327.8 641.6L328.01 644.09L328.22 646.63L328.43 649.21L328.64 651.83L328.84 654.47L329.05 657.14L329.25 659.82L329.45 662.51L329.66 665.21L329.86 667.9L330.06 670.58L330.27 673.25L330.47 675.9L330.68 678.52L330.89 681.1L331.1 683.65L331.31 686.15L331.52 688.6L331.74 690.99L331.96 693.31L332.19 695.57L332.42 697.75L332.65 699.84L332.89 701.85L333.13 703.77L333.38 705.58L333.63 707.29L333.89 708.89L334.16 710.37L334.43 711.74L334.72 712.98L335.01 714.09L335.33 715.07L335.66 715.94L336.04 716.69L336.52 717.36L337.22 717.93L338.26 718.2L339.29 717.95L340.06 717.39L340.62 716.7L341.09 715.89L341.49 714.96L341.87 713.9L342.23 712.71L342.57 711.38L342.9 709.92L343.22 708.34L343.54 706.65L343.84 704.83L344.14 702.91L344.43 700.9L344.71 698.78L344.99 696.58L345.26 694.31L345.53 691.96L345.79 689.54L346.05 687.07L346.31 684.55L346.57 681.98L346.82 679.38L347.07 676.75L347.32 674.1L347.57 671.43L347.82 668.76L348.07 666.09L348.32 663.42L348.57 660.77L348.82 658.15L349.07 655.55L349.32 652.99L349.58 650.48L349.84 648.02L350.1 645.62L350.37 643.28L350.64 641.02L350.92 638.84L351.2 636.75L351.48 634.76L351.77 632.88L352.07 631.1L352.37 629.45L352.68 627.93L353 626.55L353.32 625.32L353.64 624.25L353.96 623.35L354.26 622.65L354.54 622.16L354.73 621.92L354.74 621.9L354.47 621.95L353.91 621.76L353.85 621.72L354.01 622.04L354.23 622.65L354.46 623.49L354.69 624.53L354.93 625.76L355.16 627.16L355.38 628.72L355.6 630.43L355.82 632.27L356.03 634.24L356.23 636.33L356.43 638.51L356.63 640.8L356.83 643.17L357.02 645.62L357.21 648.13L357.39 650.71L357.58 653.33L357.76 655.98L357.94 658.67L358.12 661.38L358.3 664.1L358.48 666.81L358.66 669.52L358.85 672.21L359.03 674.87L359.21 677.5L359.4 680.08L359.59 682.6L359.78 685.06L359.98 687.44L360.18 689.74L360.38 691.95L360.59 694.05L360.8 696.05L361.02 697.92L361.24 699.67L361.48 701.28L361.72 702.74L361.97 704.05L362.23 705.22L362.51 706.22L362.82 707.09L363.21 707.84L363.82 708.54L365.01 708.95L366.13 708.68L366.97 708.05L367.59 707.25L368.11 706.31L368.57 705.22L369 703.98L369.41 702.58L369.8 701.03L370.17 699.34L370.53 697.51L370.88 695.56L371.22 693.49L371.56 691.31L371.88 689.03L372.2 686.67L372.51 684.24L372.82 681.74L373.13 679.19L373.43 676.59L373.72 673.97L374.02 671.32L374.32 668.66L374.61 666L374.91 663.36L375.2 660.74L375.5 658.15L375.81 655.61L376.11 653.12L376.42 650.7L376.74 648.36L377.06 646.12L377.39 643.97L377.72 641.93L378.07 640.02L378.42 638.25L378.78 636.63L379.14 635.17L379.51 633.89L379.89 632.81L380.25 631.94L380.59 631.33L380.85 630.98L380.93 630.91L380.72 630.95L380.45 630.88L380.51 630.95L380.78 631.37L381.11 632.11L381.46 633.12L381.81 634.37L382.16 635.82L382.5 637.46L382.83 639.28L383.16 641.25L383.47 643.35L383.78 645.58L384.08 647.91L384.38 650.33L384.67 652.83L384.96 655.39L385.24 657.99L385.53 660.63L385.81 663.28L386.09 665.93L386.37 668.57L386.66 671.18L386.95 673.75L387.24 676.26L387.54 678.7L387.85 681.06L388.16 683.31L388.48 685.45L388.81 687.47L389.15 689.34L389.51 691.06L389.88 692.61L390.27 694L390.69 695.2L391.17 696.24L391.74 697.12L392.54 697.85L393.78 698.2L395.01 697.84L395.88 697.06L396.51 696.09L397.03 694.95L397.49 693.62L397.93 692.09L398.34 690.37L398.73 688.49L399.11 686.44L399.48 684.25L399.83 681.94L400.17 679.52L400.51 677L400.84 674.42L401.17 671.78L401.49 669.11L401.81 666.42L402.14 663.74L402.46 661.07L402.78 658.44L403.11 655.87L403.45 653.38L403.79 650.99L404.14 648.71L404.5 646.56L404.86 644.57L405.24 642.76L405.63 641.14L406.02 639.75L406.42 638.62L406.8 637.77L407.12 637.27L407.24 637.15L407.02 637.2L406.93 637.19L407.09 637.33L407.43 637.77L407.85 638.51L408.29 639.54L408.73 640.8L409.16 642.28L409.59 643.95L410 645.79L410.41 647.79L410.8 649.93L411.19 652.19L411.57 654.55L411.94 657L412.31 659.52L412.67 662.1L413.03 664.72L413.38 667.37L413.74 670.02L414.1 672.67L414.46 675.3L414.82 677.89L415.19 680.43L415.57 682.9L415.95 685.29L416.34 687.58L416.74 689.76L417.16 691.81L417.59 693.73L418.04 695.49L418.51 697.08L419.01 698.51L419.54 699.75L420.14 700.82L420.85 701.72L421.79 702.41L422.98 702.7L424.16 702.38L424.97 701.69L425.54 700.86L426.01 699.88L426.43 698.74L426.83 697.44L427.2 695.97L427.55 694.34L427.9 692.57L428.23 690.65L428.55 688.6L428.86 686.43L429.17 684.16L429.47 681.79L429.76 679.33L430.05 676.81L430.33 674.22L430.61 671.59L430.89 668.92L431.17 666.23L431.44 663.52L431.72 660.82L431.99 658.13L432.27 655.47L432.55 652.84L432.83 650.26L433.12 647.75L433.41 645.32L433.71 642.97L434.01 640.72L434.32 638.58L434.63 636.57L434.95 634.7L435.29 632.99L435.62 631.44L435.97 630.08L436.32 628.92L436.66 627.99L436.98 627.32L437.23 626.94L437.28 626.88L437.02 626.95L436.55 626.82L436.52 626.82L436.7 627.14L436.96 627.75L437.23 628.59L437.51 629.65L437.79 630.9L438.06 632.32L438.32 633.91L438.58 635.64L438.84 637.51L439.09 639.51L439.33 641.62L439.57 643.84L439.8 646.15L440.03 648.55L440.26 651.02L440.48 653.56L440.7 656.15L440.92 658.79L441.14 661.47L441.36 664.16L441.57 666.88L441.79 669.6L442 672.32L442.22 675.02L442.44 677.7L442.66 680.34L442.88 682.94L443.1 685.49L443.33 687.97L443.56 690.39L443.8 692.71L444.04 694.95L444.28 697.09L444.54 699.11L444.8 701.02L445.06 702.8L445.34 704.44L445.62 705.93L445.92 707.28L446.23 708.47L446.57 709.5L446.94 710.39L447.41 711.17L448.1 711.85L449.22 712.2L450.32 711.91L451.04 711.3L451.53 710.59L451.93 709.77L452.28 708.84L452.61 707.76L452.92 706.55L453.22 705.2L453.51 703.72L453.79 702.12L454.06 700.39L454.33 698.54L454.58 696.59L454.84 694.54L455.08 692.39L455.33 690.16L455.57 687.84L455.8 685.46L456.03 683.01L456.26 680.51L456.48 677.95L456.71 675.36L456.93 672.73L457.15 670.07L457.37 667.4L457.59 664.71L457.8 662.02L458.02 659.34L458.24 656.67L458.46 654.01L458.68 651.39L458.9 648.8L459.13 646.25L459.36 643.76L459.59 641.32L459.82 638.95L460.06 636.65L460.3 634.43L460.54 632.31L460.79 630.28L461.05 628.35L461.31 626.54L461.57 624.86L461.84 623.3L462.12 621.88L462.4 620.62L462.68 619.52L462.96 618.59L463.24 617.86L463.48 617.35L463.65 617.09L463.62 617.11L463.27 617.2L462.73 617.05L462.65 616.99L462.77 617.21L462.97 617.68L463.19 618.36L463.42 619.23L463.65 620.26L463.88 621.45L464.11 622.78L464.33 624.24L464.54 625.83L464.76 627.55L464.97 629.37L465.17 631.3L465.37 633.32L465.57 635.44L465.76 637.65L465.95 639.93L466.14 642.28L466.33 644.7L466.51 647.18L466.69 649.71L466.87 652.29L467.05 654.9L467.23 657.55L467.4 660.23L467.58 662.92L467.75 665.63L467.93 668.34L468.1 671.06L468.28 673.77L468.45 676.46L468.63 679.14L468.81 681.79L468.98 684.41L469.16 686.99L469.35 689.53L469.53 692.01L469.72 694.44L469.91 696.81L470.1 699.1L470.29 701.32L470.49 703.45L470.69 705.5L470.9 707.45L471.11 709.3L471.33 711.04L471.55 712.67L471.78 714.18L472.01 715.57L472.26 716.82L472.51 717.95L472.77 718.95L473.06 719.82L473.38 720.58L473.78 721.25L474.42 721.87L475.48 722.2L476.52 721.92L477.17 721.36L477.6 720.73L477.94 720.02L478.24 719.21L478.52 718.29L478.78 717.25L479.03 716.1L479.28 714.83L479.52 713.44L479.75 711.94L479.97 710.33L480.19 708.62L480.41 706.82L480.62 704.92L480.83 702.93L481.04 700.86L481.24 698.71L481.43 696.49L481.63 694.2L481.82 691.85L482.01 689.44L482.2 686.98L482.38 684.47L482.57 681.92L482.75 679.33L482.93 676.72L483.11 674.07L483.29 671.41L483.47 668.73L483.64 666.04L483.82 663.35L484 660.65L484.18 657.96L484.35 655.28L484.53 652.62L484.71 649.98L484.89 647.37L485.07 644.79L485.26 642.24L485.44 639.74L485.63 637.29L485.82 634.89L486.01 632.54L486.2 630.26L486.4 628.05L486.6 625.92L486.8 623.87L487.01 621.9L487.22 620.02L487.43 618.24L487.65 616.56L487.87 614.99L488.1 613.53L488.33 612.19L488.56 610.98L488.79 609.91L489.03 608.98L489.26 608.2L489.48 607.6L489.67 607.19L489.79 607.02L489.69 607.09L489.27 607.2L488.68 607.03L488.54 606.92L488.63 607.07L488.79 607.45L488.97 608.02L489.16 608.74L489.35 609.62L489.54 610.63L489.74 611.77L489.92 613.03L490.11 614.4L490.29 615.89L490.47 617.48L490.65 619.16L490.82 620.95L490.99 622.82L491.16 624.78L491.32 626.82L491.48 628.93L491.65 631.12L491.8 633.37L491.96 635.68L492.11 638.06L492.27 640.48L492.42 642.95L492.57 645.47L492.72 648.02L492.86 650.61L493.01 653.23L493.15 655.87L493.3 658.53L493.44 661.21L493.59 663.9L493.73 666.6L493.87 669.3L494.02 672L494.16 674.69L494.31 677.37L494.45 680.04L494.6 682.69L494.74 685.31L494.89 687.9L495.04 690.45L495.19 692.97L495.34 695.45L495.49 697.88L495.65 700.26L495.8 702.58L495.96 704.84L496.12 707.03L496.29 709.16L496.45 711.21L496.62 713.18L496.79 715.07L496.97 716.88L497.15 718.59L497.33 720.2L497.52 721.72L497.71 723.13L497.9 724.44L498.1 725.63L498.31 726.71L498.52 727.68L498.75 728.54L498.99 729.29L499.27 729.95L499.63 730.56L500.21 731.13L501.24 731.45L502.22 731.19L502.85 730.67L503.26 730.09L503.58 729.44L503.86 728.72L504.11 727.9L504.35 726.98L504.59 725.95L504.81 724.81L505.03 723.57L505.25 722.23L505.45 720.79L505.66 719.25L505.86 717.62L506.06 715.9L506.25 714.1L506.44 712.21L506.63 710.24L506.82 708.2L507 706.09L507.18 703.92L507.35 701.68L507.53 699.38L507.7 697.02L507.87 694.62L508.04 692.17L508.21 689.67L508.37 687.14L508.54 684.57L508.7 681.97L508.86 679.34L509.02 676.69L509.19 674.01L509.35 671.33L509.5 668.63L509.66 665.92L509.82 663.21L509.98 660.5L510.14 657.79L510.3 655.1L510.46 652.41L510.62 649.74L510.78 647.09L510.94 644.46L511.11 641.87L511.27 639.3L511.44 636.77L511.6 634.28L511.77 631.83L511.94 629.43L512.11 627.09L512.29 624.8L512.46 622.57L512.64 620.4L512.82 618.3L513.01 616.28L513.19 614.32L513.38 612.45L513.57 610.67L513.77 608.97L513.97 607.37L514.17 605.86L514.37 604.46L514.58 603.16L514.79 601.97L515 600.9L515.21 599.96L515.43 599.14L515.64 598.47L515.83 597.96L516 597.62L516.08 597.49L515.96 597.58L515.52 597.7L514.9 597.52L514.73 597.38L514.79 597.48L514.92 597.79L515.07 598.27L515.24 598.9L515.41 599.65L515.58 600.53L515.74 601.53L515.91 602.63L516.07 603.84L516.23 605.15L516.39 606.56L516.55 608.06L516.71 609.65L516.86 611.33L517.01 613.08L517.16 614.92L517.3 616.83L517.45 618.81L517.59 620.86L517.73 622.98L517.87 625.15L518.01 627.39L518.14 629.67L518.27 632.01L518.41 634.4L518.54 636.83L518.67 639.3L518.8 641.81L518.93 644.35L519.05 646.92L519.18 649.52L519.31 652.14L519.43 654.79L519.56 657.45L519.68 660.12L519.8 662.81L519.93 665.5L520.05 668.19L520.18 670.89L520.3 673.58L520.42 676.26L520.55 678.94L520.67 681.6L520.8 684.24L520.92 686.87L521.05 689.47L521.18 692.05L521.31 694.59L521.44 697.1L521.57 699.58L521.7 702.01L521.83 704.4L521.96 706.74L522.1 709.04L522.24 711.28L522.38 713.46L522.52 715.58L522.66 717.64L522.8 719.63L522.95 721.56L523.1 723.41L523.25 725.18L523.41 726.87L523.56 728.48L523.72 730L523.89 731.44L524.05 732.78L524.22 734.03L524.39 735.18L524.57 736.23L524.75 737.18L524.94 738.04L525.14 738.79L525.36 739.46L525.61 740.05L525.94 740.6L526.49 741.14L527.49 741.45L528.45 741.18L529.03 740.68L529.39 740.14L529.67 739.57L529.9 738.93L530.12 738.2L530.32 737.39L530.52 736.48L530.71 735.47L530.89 734.38L531.08 733.18L531.25 731.9L531.43 730.53L531.6 729.08L531.77 727.54L531.93 725.92L532.1 724.22L532.26 722.45L532.42 720.6L532.57 718.69L532.73 716.71L532.88 714.66L533.03 712.56L533.18 710.39L533.32 708.17L533.47 705.9L533.61 703.58L533.75 701.22L533.89 698.81L534.03 696.36L534.17 693.87L534.3 691.35L534.44 688.8L534.57 686.22L534.71 683.61L534.84 680.99L534.97 678.34L535.11 675.68L535.24 673L535.37 670.31L535.5 667.62L535.63 664.92L535.76 662.22L535.89 659.52L536.03 656.83L536.16 654.14L536.29 651.47L536.42 648.81L536.55 646.16L536.69 643.53L536.82 640.93L536.96 638.35L537.09 635.8L537.23 633.29L537.37 630.8L537.5 628.36L537.64 625.95L537.79 623.59L537.93 621.28L538.07 619.01L538.22 616.8L538.37 614.65L538.51 612.55L538.67 610.51L538.82 608.54L538.97 606.64L539.13 604.8L539.29 603.05L539.45 601.37L539.62 599.76L539.78 598.25L539.95 596.82L540.12 595.48L540.29 594.23L540.47 593.08L540.65 592.04L540.82 591.1L541 590.27L541.18 589.56L541.35 588.98L541.51 588.54L541.64 588.26L541.69 588.18L541.53 588.31L541.01 588.45L540.27 588.21L540.09 588.02L540.13 588.1L540.23 588.38L540.35 588.81L540.48 589.38L540.61 590.06L540.75 590.86L540.88 591.76L541.01 592.77L541.14 593.87L541.27 595.07L541.4 596.36L541.52 597.73L541.65 599.19L541.77 600.73L541.89 602.35L542.01 604.05L542.12 605.82L542.24 607.66L542.35 609.57L542.47 611.54L542.58 613.57L542.69 615.67L542.8 617.82L542.9 620.02L543.01 622.28L543.12 624.58L543.22 626.93L543.32 629.32L543.43 631.75L543.53 634.22L543.63 636.73L543.73 639.27L543.83 641.84L543.93 644.43L544.03 647.05L544.12 649.69L544.22 652.35L544.32 655.02L544.42 657.71L544.51 660.41L544.61 663.12L544.7 665.84L544.8 668.55L544.9 671.27L544.99 673.98L545.09 676.69L545.19 679.39L545.28 682.08L545.38 684.76L545.48 687.42L545.58 690.06L545.67 692.68L545.77 695.28L545.87 697.84L545.97 700.39L546.07 702.89L546.18 705.37L546.28 707.8L546.38 710.2L546.49 712.55L546.59 714.86L546.7 717.12L546.81 719.33L546.92 721.48L547.03 723.58L547.14 725.62L547.25 727.6L547.37 729.52L547.48 731.37L547.6 733.15L547.72 734.85L547.84 736.49L547.96 738.04L548.09 739.52L548.22 740.92L548.35 742.23L548.48 743.45L548.61 744.59L548.75 745.64L548.89 746.59L549.03 747.45L549.18 748.22L549.34 748.9L549.51 749.5L549.71 750.04L549.97 750.55L550.46 751.09L551.49 751.45L552.47 751.15L553.01 750.64L553.32 750.14L553.55 749.6L553.74 749.01L553.92 748.34L554.09 747.59L554.26 746.75L554.42 745.82L554.58 744.8L554.73 743.69L554.88 742.5L555.02 741.23L555.17 739.87L555.31 738.44L555.45 736.92L555.59 735.33L555.73 733.67L555.86 731.94L555.99 730.14L556.12 728.27L556.25 726.34L556.38 724.35L556.51 722.3L556.63 720.19L556.75 718.03L556.87 715.82L557 713.56L557.11 711.25L557.23 708.9L557.35 706.51L557.47 704.09L557.58 701.62L557.69 699.12L557.81 696.59L557.92 694.03L558.03 691.45L558.14 688.84L558.25 686.21L558.36 683.56L558.47 680.89L558.58 678.21L558.69 675.52L558.8 672.83L558.91 670.12L559.02 667.41L559.13 664.7L559.24 662L559.35 659.29L559.45 656.59L559.56 653.9L559.67 651.23L559.78 648.56L559.89 645.91L560 643.29L560.12 640.68L560.23 638.1L560.34 635.54L560.45 633.01L560.57 630.51L560.68 628.05L560.8 625.63L560.91 623.24L561.03 620.89L561.15 618.59L561.27 616.34L561.39 614.13L561.51 611.98L561.64 609.88L561.76 607.83L561.89 605.85L562.02 603.93L562.15 602.07L562.28 600.28L562.41 598.56L562.55 596.91L562.69 595.34L562.82 593.84L562.97 592.42L563.11 591.09L563.25 589.84L563.4 588.68L563.54 587.62L563.69 586.65L563.84 585.78L563.99 585.01L564.14 584.35L564.29 583.82L564.42 583.41L564.53 583.16L564.56 583.1L564.37 583.27L563.74 583.45L563.15 583.28L562.97 583.12L563.01 583.19L563.12 583.45L563.26 583.87L563.41 584.43L563.57 585.11L563.73 585.9L563.88 586.8L564.04 587.8L564.2 588.9L564.35 590.1L564.5 591.38L564.65 592.76L564.8 594.21L564.94 595.75L565.08 597.37L565.22 599.07L565.36 600.84L565.5 602.68L565.64 604.58L565.77 606.55L565.9 608.59L566.04 610.68L566.16 612.83L566.29 615.03L566.42 617.29L566.55 619.59L566.67 621.94L566.79 624.33L566.91 626.77L567.04 629.24L567.16 631.74L567.28 634.28L567.39 636.85L567.51 639.44L567.63 642.06L567.75 644.7L567.86 647.36L567.98 650.03L568.09 652.72L568.21 655.42L568.32 658.13L568.44 660.84L568.55 663.56L568.67 666.28L568.78 668.99L568.9 671.7L569.01 674.4L569.13 677.09L569.24 679.77L569.36 682.43L569.47 685.07L569.59 687.69L569.71 690.29L569.83 692.86L569.95 695.4L570.07 697.9L570.19 700.38L570.31 702.81L570.43 705.21L570.56 707.56L570.68 709.87L570.81 712.13L570.94 714.34L571.07 716.5L571.2 718.6L571.33 720.64L571.47 722.62L571.61 724.53L571.74 726.38L571.88 728.17L572.03 729.87L572.17 731.51L572.32 733.07L572.47 734.55L572.62 735.94L572.77 737.26L572.93 738.48L573.09 739.62L573.25 740.67L573.42 741.63L573.59 742.5L573.77 743.28L573.96 743.97L574.17 744.58L574.41 745.13L574.73 745.65L575.28 746.16L576.26 746.45L577.32 746.06L577.8 745.5L578.05 744.98L578.24 744.43L578.4 743.81L578.55 743.1L578.7 742.3L578.84 741.4L578.98 740.4L579.11 739.31L579.24 738.13L579.37 736.85L579.49 735.49L579.62 734.03L579.74 732.5L579.86 730.88L579.97 729.19L580.09 727.41L580.2 725.57L580.32 723.66L580.43 721.68L580.54 719.63L580.65 717.53L580.75 715.37L580.86 713.15L580.96 710.88L581.07 708.56L581.17 706.19L581.27 703.78L581.37 701.34L581.47 698.85L581.57 696.33L581.67 693.78L581.76 691.2L581.86 688.59L581.96 685.97L582.05 683.32L582.15 680.66L582.24 677.98L582.34 675.29L582.43 672.6L582.53 669.9L582.62 667.2L582.72 664.5L582.81 661.81L582.91 659.12L583 656.45L583.1 653.79L583.19 651.14L583.29 648.51L583.39 645.91L583.48 643.33L583.58 640.78L583.68 638.27L583.78 635.78L583.88 633.34L583.98 630.93L584.08 628.57L584.18 626.25L584.29 623.99L584.39 621.78L584.5 619.62L584.61 617.52L584.72 615.48L584.83 613.51L584.94 611.6L585.05 609.77L585.17 608.01L585.29 606.33L585.4 604.72L585.52 603.2L585.65 601.77L585.77 600.43L585.9 599.18L586.02 598.02L586.15 596.97L586.28 596.02L586.41 595.18L586.54 594.46L586.67 593.86L586.79 593.4L586.89 593.1L586.94 593L586.77 593.18L585.98 593.45L585.48 593.31L585.33 593.19L585.39 593.29L585.54 593.6L585.71 594.07L585.89 594.69L586.08 595.45L586.27 596.33L586.46 597.32L586.64 598.43L586.83 599.64L587.01 600.95L587.19 602.36L587.37 603.87L587.54 605.46L587.71 607.14L587.88 608.91L588.05 610.75L588.21 612.67L588.37 614.65L588.53 616.71L588.69 618.83L588.85 621.02L589 623.26L589.15 625.55L589.3 627.9L589.45 630.29L589.6 632.73L589.75 635.21L589.89 637.72L590.04 640.27L590.18 642.86L590.32 645.46L590.46 648.1L590.6 650.75L590.74 653.42L590.88 656.1L591.02 658.8L591.16 661.5L591.3 664.2L591.44 666.9L591.58 669.6L591.72 672.3L591.86 674.98L592 677.65L592.14 680.31L592.28 682.94L592.43 685.55L592.57 688.14L592.71 690.69L592.86 693.21L593.01 695.69L593.15 698.14L593.3 700.54L593.45 702.89L593.61 705.19L593.76 707.44L593.92 709.63L594.08 711.76L594.24 713.83L594.4 715.83L594.56 717.76L594.73 719.61L594.9 721.39L595.08 723.09L595.25 724.71L595.43 726.24L595.62 727.68L595.8 729.03L595.99 730.28L596.19 731.44L596.39 732.5L596.59 733.46L596.81 734.32L597.04 735.08L597.28 735.76L597.57 736.36L597.94 736.91L598.53 737.43L599.51 737.7L600.51 737.39L601.09 736.84L601.44 736.27L601.71 735.65L601.94 734.94L602.15 734.14L602.36 733.24L602.55 732.23L602.75 731.12L602.93 729.9L603.11 728.58L603.29 727.16L603.47 725.65L603.64 724.04L603.8 722.35L603.97 720.57L604.13 718.71L604.29 716.77L604.45 714.76L604.6 712.68L604.76 710.53L604.91 708.31L605.06 706.04L605.2 703.72L605.35 701.34L605.49 698.91L605.63 696.44L605.78 693.93L605.92 691.39L606.05 688.81L606.19 686.2L606.33 683.57L606.46 680.92L606.6 678.25L606.74 675.56L606.87 672.87L607.01 670.17L607.14 667.47L607.28 664.77L607.41 662.08L607.55 659.4L607.68 656.73L607.82 654.08L607.95 651.45L608.09 648.85L608.23 646.27L608.37 643.73L608.51 641.22L608.65 638.76L608.8 636.34L608.94 633.96L609.09 631.64L609.23 629.38L609.38 627.18L609.53 625.03L609.69 622.96L609.84 620.96L610 619.04L610.16 617.19L610.32 615.43L610.48 613.75L610.65 612.17L610.82 610.68L610.99 609.3L611.17 608.01L611.34 606.84L611.52 605.79L611.7 604.85L611.88 604.04L612.06 603.37L612.23 602.86L612.37 602.51L612.44 602.39L612.3 602.5L611.73 602.66L611.32 602.55L611.22 602.47L611.33 602.63L611.51 603.01L611.72 603.57L611.95 604.29L612.17 605.17L612.4 606.18L612.62 607.32L612.84 608.59L613.06 609.97L613.28 611.46L613.49 613.06L613.69 614.76L613.9 616.55L614.1 618.44L614.3 620.41L614.49 622.46L614.68 624.58L614.87 626.78L615.06 629.05L615.24 631.37L615.42 633.76L615.6 636.2L615.78 638.68L615.96 641.21L616.13 643.78L616.31 646.38L616.48 649.02L616.65 651.68L616.82 654.36L616.99 657.05L617.16 659.76L617.33 662.47L617.5 665.19L617.67 667.91L617.84 670.61L618.01 673.31L618.18 675.99L618.35 678.65L618.52 681.29L618.69 683.9L618.87 686.47L619.05 689.01L619.22 691.5L619.4 693.94L619.59 696.33L619.77 698.67L619.96 700.94L620.15 703.15L620.34 705.29L620.54 707.35L620.73 709.34L620.94 711.24L621.14 713.05L621.35 714.77L621.57 716.4L621.79 717.92L622.01 719.34L622.24 720.66L622.48 721.86L622.72 722.95L622.97 723.92L623.24 724.79L623.52 725.54L623.84 726.19L624.25 726.77L624.84 727.28L625.76 727.52L626.7 727.23L627.27 726.68L627.63 726.08L627.92 725.39L628.18 724.6L628.42 723.69L628.64 722.66L628.87 721.51L629.08 720.24L629.29 718.85L629.49 717.35L629.69 715.74L629.89 714.03L630.08 712.21L630.26 710.31L630.45 708.31L630.63 706.24L630.8 704.08L630.98 701.85L631.15 699.55L631.32 697.19L631.49 694.77L631.65 692.3L631.82 689.78L631.98 687.22L632.14 684.63L632.3 682L632.46 679.34L632.61 676.67L632.77 673.98L632.93 671.28L633.08 668.57L633.24 665.86L633.4 663.16L633.55 660.47L633.71 657.8L633.87 655.15L634.03 652.52L634.19 649.93L634.35 647.37L634.51 644.86L634.68 642.39L634.85 639.98L635.02 637.63L635.19 635.34L635.36 633.12L635.54 630.97L635.72 628.9L635.9 626.92L636.08 625.03L636.27 623.24L636.46 621.55L636.66 619.97L636.86 618.5L637.06 617.15L637.27 615.92L637.48 614.83L637.69 613.88L637.9 613.08L638.1 612.45L638.29 612L638.42 611.78L638.38 611.8L637.99 611.9L637.75 611.84L637.76 611.86L637.93 612.11L638.17 612.59L638.43 613.26L638.69 614.11L638.95 615.12L639.21 616.27L639.47 617.57L639.72 619L639.97 620.55L640.21 622.22L640.45 624L640.68 625.88L640.91 627.86L641.14 629.93L641.36 632.09L641.58 634.32L641.79 636.63L642 639L642.21 641.42L642.42 643.91L642.62 646.43L642.83 649L643.03 651.61L643.23 654.24L643.43 656.89L643.62 659.56L643.82 662.24L644.02 664.92L644.22 667.6L644.42 670.27L644.61 672.92L644.81 675.56L645.02 678.16L645.22 680.74L645.42 683.27L645.63 685.76L645.84 688.19L646.05 690.57L646.27 692.88L646.49 695.13L646.71 697.29L646.94 699.38L647.17 701.37L647.4 703.27L647.64 705.08L647.89 706.77L648.14 708.36L648.4 709.82L648.67 711.17L648.94 712.39L649.23 713.48L649.52 714.44L649.84 715.26L650.19 715.97L650.61 716.56L651.18 717.04L652.02 717.26L652.86 717.05L653.51 716.56L654.01 715.91L654.44 715.13L654.83 714.21L655.19 713.15L655.54 711.94L655.88 710.59L656.2 709.11L656.51 707.49L656.82 705.75L657.12 703.9L657.41 701.93L657.7 699.87L657.98 697.7L658.25 695.45L658.52 693.13L658.79 690.72L659.05 688.26L659.31 685.73L659.56 683.16L659.81 680.54L660.06 677.89L660.31 675.22L660.56 672.52L660.81 669.82L661.05 667.11L661.3 664.4L661.55 661.71L661.8 659.03L662.05 656.39L662.3 653.78L662.55 651.21L662.81 648.69L663.07 646.23L663.34 643.84L663.6 641.52L663.88 639.28L664.16 637.13L664.44 635.09L664.73 633.14L665.02 631.31L665.32 629.6L665.63 628.03L665.95 626.59L666.27 625.3L666.59 624.17L666.92 623.21L667.25 622.43L667.56 621.86L667.83 621.5L667.99 621.37L667.99 621.36L667.76 621.28L667.84 621.39L668.04 621.8L668.27 622.45L668.51 623.32L668.75 624.38L668.98 625.63L669.21 627.03L669.44 628.59L669.65 630.3L669.87 632.14L670.07 634.1L670.28 636.17L670.48 638.36L670.67 640.63L670.86 642.99L671.05 645.43L671.24 647.93L671.42 650.49L671.6 653.09L671.78 655.74L671.96 658.41L672.14 661.1L672.32 663.8L672.5 666.5L672.68 669.2L672.86 671.87L673.04 674.52L673.22 677.13L673.4 679.69L673.59 682.19L673.78 684.64L673.97 687L674.17 689.29L674.37 691.48L674.57 693.56L674.78 695.54L674.99 697.39L675.21 699.12L675.44 700.71L675.68 702.15L675.92 703.44L676.17 704.56L676.43 705.52L676.72 706.32L677.05 706.97L677.5 707.49L678.26 707.76L679.08 707.55L679.75 707.04L680.3 706.33L680.79 705.45L681.24 704.38L681.66 703.14L682.07 701.73L682.46 700.16L682.84 698.44L683.21 696.58L683.56 694.58L683.91 692.47L684.25 690.25L684.58 687.93L684.91 685.52L685.23 683.04L685.54 680.5L685.85 677.9L686.16 675.26L686.47 672.6L686.77 669.92L687.08 667.23L687.38 664.55L687.69 661.89L687.99 659.26L688.3 656.67L688.62 654.13L688.94 651.66L689.26 649.26L689.59 646.95L689.93 644.75L690.27 642.65L690.62 640.68L690.99 638.84L691.36 637.15L691.74 635.62L692.13 634.27L692.53 633.1L692.93 632.14L693.34 631.41L693.71 630.91L694.03 630.66L694.24 630.6L694.39 630.65L694.68 630.93L695.04 631.51L695.42 632.38L695.8 633.49L696.17 634.84L696.53 636.38L696.88 638.12L697.22 640.02L697.54 642.08L697.86 644.27L698.18 646.58L698.48 649L698.78 651.5L699.08 654.08L699.37 656.71L699.66 659.38L699.95 662.08L700.23 664.78L700.52 667.48L700.81 670.16L701.1 672.79L701.4 675.37L701.7 677.88L702.01 680.31L702.32 682.63L702.64 684.83L702.97 686.91L703.32 688.83L703.67 690.59L704.04 692.17L704.42 693.57L704.82 694.75L705.25 695.73L705.73 696.48L706.29 697.01L707.01 697.22L707.79 696.99L708.42 696.41L708.97 695.58L709.46 694.5L709.92 693.2L710.36 691.67L710.78 689.95L711.18 688.05L711.56 685.98L711.94 683.77L712.3 681.44L712.66 679.01L713.01 676.5L713.35 673.93L713.69 671.31L714.03 668.68L714.37 666.04L714.71 663.43L715.05 660.86L715.4 658.35L715.76 655.93L716.12 653.61L716.49 651.41L716.88 649.36L717.27 647.48L717.69 645.79L718.11 644.3L718.55 643.05L719 642.06L719.46 641.36L719.88 640.96L720.24 640.84L720.68 640.98L721.18 641.47L721.71 642.33L722.22 643.53L722.71 645.02L723.18 646.76L723.64 648.73L724.07 650.89L724.49 653.2L724.9 655.64L725.3 658.18L725.7 660.78L726.09 663.42L726.49 666.05L726.88 668.65L727.28 671.2L727.7 673.65L728.12 675.97L728.56 678.14L729.01 680.13L729.49 681.9L730 683.42L730.53 684.67L731.11 685.62L731.76 686.25L732.43 686.46L732.57 686.04L732.01 685.86L731.49 685.34L730.97 684.46L730.46 683.25L729.98 681.75L729.51 680L729.07 678.03L728.64 675.87L728.23 673.55L727.82 671.11L727.43 668.57L727.04 665.97L726.66 663.33L726.27 660.7L725.88 658.09L725.49 655.55L725.09 653.1L724.67 650.77L724.24 648.6L723.79 646.61L723.32 644.83L722.82 643.3L722.29 642.04L721.72 641.07L721.05 640.41L720.26 640.16L719.53 640.36L718.91 640.91L718.37 641.72L717.87 642.78L717.41 644.08L716.96 645.59L716.54 647.31L716.13 649.21L715.73 651.28L715.35 653.48L714.98 655.81L714.62 658.24L714.26 660.75L713.91 663.33L713.56 665.94L713.22 668.57L712.87 671.2L712.53 673.82L712.18 676.39L711.82 678.89L711.46 681.31L711.09 683.63L710.71 685.83L710.32 687.87L709.91 689.75L709.49 691.44L709.06 692.92L708.61 694.16L708.16 695.14L707.71 695.82L707.31 696.18L706.99 696.28L706.8 696.2L706.49 695.89L706.12 695.28L705.74 694.4L705.37 693.28L705.01 691.93L704.65 690.38L704.31 688.64L703.98 686.74L703.66 684.68L703.34 682.49L703.04 680.17L702.74 677.76L702.44 675.25L702.15 672.67L701.87 670.04L701.58 667.37L701.3 664.67L701.02 661.97L700.74 659.27L700.45 656.59L700.17 653.96L699.88 651.37L699.58 648.86L699.28 646.44L698.97 644.11L698.66 641.91L698.33 639.83L697.99 637.91L697.65 636.14L697.29 634.56L696.91 633.16L696.51 631.96L696.08 630.98L695.61 630.2L695.02 629.64L694.26 629.4L693.49 629.58L692.85 630.06L692.31 630.74L691.82 631.61L691.37 632.66L690.94 633.89L690.52 635.29L690.12 636.86L689.74 638.58L689.36 640.44L689 642.43L688.65 644.54L688.3 646.76L687.96 649.08L687.63 651.49L687.31 653.97L686.98 656.51L686.67 659.1L686.35 661.74L686.04 664.4L685.73 667.08L685.42 669.77L685.11 672.44L684.8 675.11L684.49 677.74L684.17 680.33L683.85 682.86L683.52 685.34L683.19 687.73L682.86 690.04L682.51 692.24L682.16 694.34L681.8 696.31L681.43 698.14L681.06 699.83L680.67 701.35L680.27 702.7L679.87 703.86L679.46 704.8L679.06 705.52L678.69 705.99L678.41 706.2L678.24 706.24L678.44 706.29L678.34 706.16L678.13 705.74L677.9 705.07L677.66 704.2L677.43 703.13L677.2 701.89L676.98 700.48L676.76 698.91L676.54 697.21L676.34 695.37L676.13 693.41L675.93 691.33L675.74 689.15L675.55 686.87L675.36 684.51L675.17 682.08L674.99 679.57L674.81 677.01L674.63 674.41L674.46 671.76L674.28 669.09L674.1 666.4L673.93 663.7L673.76 661L673.58 658.3L673.4 655.63L673.23 652.98L673.05 650.37L672.87 647.81L672.69 645.3L672.5 642.86L672.31 640.49L672.12 638.21L671.92 636.02L671.72 633.93L671.52 631.96L671.31 630.1L671.09 628.37L670.87 626.78L670.64 625.34L670.4 624.05L670.15 622.92L669.89 621.95L669.61 621.15L669.28 620.48L668.81 619.94L668.01 619.64L667.21 619.83L666.59 620.29L666.1 620.91L665.67 621.68L665.28 622.58L664.92 623.64L664.56 624.84L664.22 626.18L663.89 627.66L663.57 629.28L663.26 631.01L662.95 632.86L662.66 634.83L662.36 636.89L662.08 639.05L661.8 641.3L661.52 643.63L661.25 646.03L660.99 648.5L660.72 651.02L660.46 653.59L660.21 656.21L659.95 658.86L659.7 661.53L659.45 664.23L659.19 666.93L658.94 669.64L658.69 672.35L658.44 675.04L658.19 677.72L657.93 680.36L657.67 682.97L657.41 685.54L657.15 688.06L656.89 690.52L656.62 692.91L656.34 695.23L656.06 697.46L655.78 699.61L655.49 701.65L655.2 703.6L654.9 705.42L654.59 707.13L654.28 708.7L653.96 710.14L653.63 711.42L653.3 712.55L652.97 713.5L652.64 714.26L652.33 714.82L652.07 715.15L651.95 715.25L651.98 715.24L652.19 715.28L652.15 715.23L651.96 714.95L651.73 714.46L651.47 713.78L651.21 712.92L650.95 711.91L650.7 710.75L650.45 709.45L650.2 708.01L649.96 706.46L649.72 704.79L649.48 703.01L649.26 701.12L649.03 699.14L648.81 697.07L648.59 694.92L648.38 692.68L648.17 690.38L647.96 688.01L647.76 685.58L647.55 683.1L647.35 680.57L647.15 678L646.96 675.4L646.76 672.76L646.56 670.11L646.37 667.44L646.18 664.76L645.98 662.08L645.79 659.4L645.59 656.73L645.4 654.08L645.2 651.44L645.01 648.83L644.81 646.26L644.61 643.73L644.4 641.24L644.2 638.8L643.99 636.43L643.78 634.11L643.56 631.87L643.34 629.7L643.12 627.62L642.89 625.62L642.66 623.72L642.43 621.91L642.18 620.22L641.94 618.63L641.68 617.16L641.42 615.81L641.15 614.59L640.87 613.49L640.58 612.53L640.26 611.69L639.92 610.97L639.49 610.35L638.88 609.84L638.01 609.6L637.11 609.87L636.57 610.39L636.22 610.97L635.93 611.64L635.67 612.43L635.42 613.33L635.19 614.36L634.97 615.5L634.75 616.77L634.54 618.16L634.33 619.66L634.13 621.27L633.93 622.98L633.73 624.79L633.54 626.7L633.36 628.69L633.17 630.77L632.99 632.92L632.81 635.15L632.64 637.45L632.46 639.81L632.29 642.23L632.13 644.7L631.96 647.22L631.79 649.78L631.63 652.37L631.47 655L631.31 657.66L631.15 660.33L630.99 663.02L630.83 665.72L630.67 668.43L630.51 671.14L630.35 673.84L630.19 676.53L630.03 679.2L629.86 681.85L629.7 684.48L629.54 687.07L629.37 689.63L629.21 692.14L629.04 694.61L628.87 697.02L628.7 699.37L628.52 701.66L628.34 703.88L628.16 706.03L627.98 708.09L627.8 710.07L627.61 711.96L627.42 713.75L627.22 715.44L627.02 717.03L626.82 718.49L626.61 719.84L626.4 721.06L626.19 722.15L625.97 723.1L625.76 723.89L625.55 724.51L625.37 724.95L625.24 725.16L625.31 725.11L625.74 724.98L626.12 725.07L626.18 725.11L626.07 724.93L625.88 724.54L625.67 723.97L625.45 723.23L625.23 722.35L625.01 721.34L624.79 720.19L624.57 718.92L624.35 717.54L624.14 716.05L623.94 714.45L623.73 712.75L623.53 710.95L623.34 709.07L623.14 707.1L622.95 705.05L622.76 702.92L622.58 700.72L622.4 698.46L622.22 696.13L622.04 693.74L621.86 691.31L621.69 688.82L621.51 686.29L621.34 683.72L621.17 681.12L621 678.48L620.84 675.82L620.67 673.14L620.5 670.45L620.34 667.74L620.17 665.03L620 662.31L619.84 659.59L619.67 656.89L619.51 654.19L619.34 651.51L619.17 648.84L619 646.21L618.83 643.6L618.66 641.03L618.49 638.49L618.31 636L618.13 633.56L617.96 631.16L617.78 628.83L617.59 626.55L617.41 624.35L617.22 622.21L617.02 620.14L616.83 618.16L616.63 616.25L616.43 614.44L616.22 612.72L616.01 611.09L615.8 609.56L615.58 608.14L615.35 606.83L615.12 605.62L614.88 604.53L614.63 603.55L614.37 602.68L614.09 601.92L613.76 601.25L613.35 600.65L612.72 600.11L611.77 599.84L610.76 600.14L610.19 600.68L609.84 601.25L609.58 601.87L609.34 602.57L609.13 603.36L608.92 604.27L608.72 605.27L608.53 606.39L608.34 607.61L608.16 608.92L607.98 610.34L607.8 611.85L607.63 613.46L607.46 615.15L607.29 616.93L607.13 618.79L606.97 620.73L606.81 622.74L606.65 624.83L606.5 626.97L606.35 629.19L606.2 631.46L606.05 633.78L605.9 636.16L605.76 638.59L605.62 641.06L605.47 643.57L605.33 646.11L605.2 648.69L605.06 651.3L604.92 653.93L604.79 656.58L604.65 659.25L604.51 661.94L604.38 664.63L604.24 667.33L604.11 670.03L603.97 672.73L603.84 675.42L603.7 678.1L603.57 680.77L603.43 683.42L603.3 686.05L603.16 688.65L603.02 691.23L602.88 693.77L602.74 696.28L602.6 698.74L602.45 701.16L602.31 703.54L602.16 705.86L602.01 708.12L601.86 710.32L601.71 712.46L601.56 714.54L601.4 716.54L601.24 718.46L601.08 720.31L600.92 722.07L600.75 723.75L600.58 725.33L600.41 726.81L600.24 728.2L600.06 729.48L599.88 730.65L599.7 731.71L599.52 732.64L599.34 733.45L599.16 734.12L598.99 734.63L598.84 734.97L598.78 735.09L598.92 734.97L599.49 734.8L600.02 734.94L600.17 735.06L600.11 734.96L599.96 734.65L599.79 734.18L599.61 733.56L599.42 732.8L599.23 731.92L599.04 730.93L598.86 729.82L598.67 728.61L598.49 727.3L598.31 725.89L598.13 724.38L597.96 722.79L597.79 721.11L597.62 719.34L597.45 717.5L597.29 715.58L597.13 713.6L596.97 711.54L596.81 709.42L596.65 707.23L596.5 704.99L596.35 702.7L596.2 700.35L596.05 697.96L595.9 695.52L595.75 693.04L595.61 690.53L595.46 687.98L595.32 685.39L595.18 682.79L595.04 680.15L594.9 677.5L594.76 674.83L594.62 672.15L594.48 669.45L594.34 666.75L594.2 664.05L594.06 661.35L593.92 658.65L593.78 655.95L593.64 653.27L593.5 650.6L593.36 647.94L593.22 645.31L593.07 642.7L592.93 640.11L592.79 637.56L592.64 635.04L592.49 632.56L592.35 630.11L592.2 627.71L592.05 625.36L591.89 623.06L591.74 620.81L591.58 618.62L591.42 616.49L591.26 614.42L591.1 612.42L590.94 610.49L590.77 608.64L590.6 606.86L590.42 605.16L590.25 603.54L590.07 602.01L589.88 600.57L589.7 599.22L589.51 597.97L589.31 596.81L589.11 595.75L588.91 594.79L588.69 593.93L588.46 593.17L588.22 592.49L587.93 591.89L587.56 591.34L586.97 590.82L586.02 590.55L584.93 590.94L584.45 591.5L584.2 592.02L584.01 592.57L583.85 593.19L583.7 593.9L583.55 594.7L583.41 595.6L583.27 596.6L583.14 597.69L583.01 598.87L582.88 600.15L582.76 601.51L582.63 602.97L582.51 604.5L582.39 606.12L582.28 607.81L582.16 609.59L582.05 611.43L581.93 613.34L581.82 615.32L581.71 617.37L581.6 619.47L581.5 621.63L581.39 623.85L581.29 626.12L581.18 628.44L581.08 630.81L580.98 633.22L580.88 635.66L580.78 638.15L580.68 640.67L580.58 643.22L580.49 645.8L580.39 648.41L580.29 651.03L580.2 653.68L580.1 656.34L580.01 659.02L579.91 661.71L579.82 664.4L579.72 667.1L579.63 669.8L579.53 672.5L579.44 675.19L579.34 677.88L579.25 680.55L579.15 683.21L579.06 685.86L578.96 688.49L578.86 691.09L578.77 693.67L578.67 696.22L578.57 698.73L578.47 701.22L578.37 703.66L578.27 706.07L578.17 708.43L578.07 710.75L577.96 713.01L577.86 715.22L577.75 717.38L577.64 719.48L577.53 721.52L577.42 723.49L577.31 725.4L577.2 727.23L577.08 728.99L576.96 730.67L576.85 732.28L576.73 733.8L576.6 735.23L576.48 736.57L576.35 737.82L576.23 738.98L576.1 740.03L575.97 740.98L575.84 741.82L575.71 742.54L575.58 743.14L575.46 743.6L575.36 743.9L575.31 744L575.48 743.82L576.24 743.55L576.85 743.72L577.03 743.88L576.99 743.81L576.88 743.55L576.74 743.13L576.59 742.57L576.43 741.89L576.27 741.1L576.12 740.2L575.96 739.2L575.8 738.1L575.65 736.9L575.5 735.62L575.35 734.24L575.2 732.79L575.06 731.25L574.92 729.63L574.78 727.93L574.64 726.16L574.5 724.32L574.36 722.42L574.23 720.45L574.1 718.41L573.96 716.32L573.84 714.17L573.71 711.97L573.58 709.71L573.45 707.41L573.33 705.06L573.21 702.67L573.09 700.23L572.96 697.76L572.84 695.26L572.72 692.72L572.61 690.15L572.49 687.56L572.37 684.94L572.25 682.3L572.14 679.64L572.02 676.97L571.91 674.28L571.79 671.58L571.68 668.87L571.56 666.16L571.45 663.44L571.33 660.72L571.22 658.01L571.1 655.3L570.99 652.6L570.87 649.91L570.76 647.23L570.64 644.57L570.53 641.93L570.41 639.31L570.29 636.71L570.17 634.14L570.05 631.6L569.93 629.1L569.81 626.62L569.69 624.19L569.57 621.79L569.44 619.44L569.32 617.13L569.19 614.87L569.06 612.66L568.93 610.5L568.8 608.4L568.67 606.36L568.53 604.38L568.39 602.47L568.26 600.62L568.12 598.83L567.97 597.13L567.83 595.49L567.68 593.93L567.53 592.45L567.38 591.06L567.23 589.74L567.07 588.52L566.91 587.38L566.75 586.33L566.58 585.37L566.41 584.5L566.23 583.72L566.04 583.03L565.83 582.42L565.59 581.87L565.27 581.35L564.72 580.84L563.76 580.55L562.78 580.85L562.24 581.36L561.93 581.86L561.7 582.4L561.51 582.99L561.33 583.66L561.16 584.41L560.99 585.25L560.83 586.18L560.67 587.2L560.52 588.31L560.37 589.5L560.23 590.77L560.08 592.13L559.94 593.56L559.8 595.08L559.66 596.67L559.52 598.33L559.39 600.06L559.26 601.86L559.13 603.73L559 605.66L558.87 607.65L558.74 609.7L558.62 611.81L558.5 613.97L558.38 616.18L558.25 618.44L558.14 620.75L558.02 623.1L557.9 625.49L557.78 627.91L557.67 630.38L557.56 632.88L557.44 635.41L557.33 637.97L557.22 640.55L557.11 643.16L557 645.79L556.89 648.44L556.78 651.11L556.67 653.79L556.56 656.48L556.45 659.17L556.34 661.88L556.23 664.59L556.12 667.3L556.01 670L555.9 672.71L555.8 675.41L555.69 678.1L555.58 680.77L555.47 683.44L555.36 686.09L555.25 688.71L555.13 691.32L555.02 693.9L554.91 696.46L554.8 698.99L554.68 701.49L554.57 703.95L554.45 706.37L554.34 708.76L554.22 711.11L554.1 713.41L553.98 715.66L553.86 717.87L553.74 720.02L553.61 722.12L553.49 724.17L553.36 726.15L553.23 728.07L553.1 729.93L552.97 731.72L552.84 733.44L552.7 735.09L552.56 736.66L552.43 738.16L552.28 739.58L552.14 740.91L552 742.16L551.85 743.32L551.71 744.38L551.56 745.35L551.41 746.22L551.26 746.99L551.11 747.65L550.96 748.18L550.83 748.59L550.72 748.84L550.69 748.9L550.88 748.73L551.51 748.55L552.23 748.79L552.41 748.98L552.37 748.9L552.27 748.62L552.15 748.19L552.02 747.62L551.89 746.94L551.75 746.14L551.62 745.24L551.49 744.23L551.36 743.13L551.23 741.93L551.1 740.64L550.98 739.27L550.85 737.81L550.73 736.27L550.61 734.65L550.49 732.95L550.38 731.18L550.26 729.34L550.15 727.43L550.03 725.46L549.92 723.43L549.81 721.33L549.7 719.18L549.6 716.98L549.49 714.72L549.38 712.42L549.28 710.07L549.18 707.68L549.07 705.25L548.97 702.78L548.87 700.27L548.77 697.73L548.67 695.16L548.57 692.57L548.47 689.95L548.38 687.31L548.28 684.65L548.18 681.98L548.08 679.29L547.99 676.59L547.89 673.88L547.8 671.16L547.7 668.45L547.6 665.73L547.51 663.02L547.41 660.31L547.31 657.61L547.22 654.92L547.12 652.24L547.02 649.58L546.92 646.94L546.83 644.32L546.73 641.72L546.63 639.16L546.53 636.61L546.43 634.11L546.32 631.63L546.22 629.2L546.12 626.8L546.01 624.45L545.91 622.14L545.8 619.88L545.69 617.67L545.58 615.52L545.47 613.42L545.36 611.38L545.25 609.4L545.13 607.48L545.02 605.63L544.9 603.85L544.78 602.15L544.66 600.51L544.54 598.96L544.41 597.48L544.28 596.08L544.15 594.77L544.02 593.55L543.89 592.41L543.75 591.36L543.61 590.41L543.47 589.55L543.32 588.78L543.16 588.1L542.99 587.5L542.79 586.96L542.53 586.45L542.04 585.91L540.99 585.55L540.05 585.82L539.47 586.32L539.11 586.86L538.83 587.43L538.6 588.07L538.38 588.8L538.18 589.61L537.98 590.52L537.79 591.53L537.61 592.62L537.42 593.82L537.25 595.1L537.07 596.47L536.9 597.92L536.73 599.46L536.57 601.08L536.4 602.78L536.24 604.55L536.08 606.4L535.93 608.31L535.77 610.29L535.62 612.34L535.47 614.44L535.32 616.61L535.18 618.83L535.03 621.1L534.89 623.42L534.75 625.78L534.61 628.19L534.47 630.64L534.33 633.13L534.2 635.65L534.06 638.2L533.93 640.78L533.79 643.39L533.66 646.01L533.53 648.66L533.39 651.32L533.26 654L533.13 656.69L533 659.38L532.87 662.08L532.74 664.78L532.61 667.48L532.47 670.17L532.34 672.86L532.21 675.53L532.08 678.19L531.95 680.84L531.81 683.47L531.68 686.07L531.54 688.65L531.41 691.2L531.27 693.71L531.13 696.2L531 698.64L530.86 701.05L530.71 703.41L530.57 705.72L530.43 707.99L530.28 710.2L530.13 712.35L529.99 714.45L529.83 716.49L529.68 718.46L529.53 720.36L529.37 722.2L529.21 723.95L529.05 725.63L528.88 727.24L528.72 728.75L528.55 730.18L528.38 731.52L528.21 732.77L528.03 733.92L527.85 734.96L527.68 735.9L527.5 736.73L527.32 737.44L527.15 738.02L526.99 738.46L526.86 738.74L526.81 738.82L526.97 738.69L527.51 738.55L528.1 738.73L528.27 738.87L528.21 738.77L528.08 738.46L527.93 737.98L527.76 737.35L527.59 736.6L527.42 735.72L527.26 734.72L527.09 733.62L526.93 732.41L526.77 731.1L526.61 729.69L526.45 728.19L526.29 726.6L526.14 724.92L525.99 723.17L525.84 721.33L525.7 719.42L525.55 717.44L525.41 715.39L525.27 713.27L525.13 711.1L524.99 708.86L524.86 706.58L524.73 704.24L524.59 701.85L524.46 699.42L524.33 696.95L524.2 694.44L524.07 691.9L523.95 689.33L523.82 686.73L523.69 684.11L523.57 681.46L523.44 678.8L523.32 676.13L523.2 673.44L523.07 670.75L522.95 668.06L522.82 665.36L522.7 662.67L522.58 659.99L522.45 657.31L522.33 654.65L522.2 652.01L522.08 649.38L521.95 646.78L521.82 644.2L521.69 641.66L521.56 639.15L521.43 636.67L521.3 634.24L521.17 631.85L521.04 629.51L520.9 627.21L520.76 624.97L520.62 622.79L520.48 620.67L520.34 618.61L520.2 616.62L520.05 614.69L519.9 612.84L519.75 611.07L519.59 609.38L519.44 607.77L519.28 606.25L519.11 604.81L518.95 603.47L518.78 602.22L518.61 601.07L518.43 600.02L518.25 599.07L518.06 598.21L517.86 597.46L517.64 596.79L517.39 596.2L517.06 595.65L516.51 595.11L515.48 594.8L514.53 595.06L513.9 595.58L513.49 596.16L513.17 596.81L512.89 597.53L512.64 598.35L512.4 599.27L512.16 600.3L511.94 601.44L511.72 602.68L511.5 604.02L511.3 605.46L511.09 607L510.89 608.63L510.69 610.35L510.5 612.15L510.31 614.04L510.12 616.01L509.93 618.05L509.75 620.16L509.57 622.33L509.4 624.57L509.22 626.87L509.05 629.23L508.88 631.63L508.71 634.08L508.54 636.58L508.38 639.11L508.21 641.68L508.05 644.28L507.89 646.91L507.73 649.56L507.56 652.24L507.4 654.92L507.25 657.62L507.09 660.33L506.93 663.04L506.77 665.75L506.61 668.46L506.45 671.15L506.29 673.84L506.13 676.51L505.97 679.16L505.81 681.79L505.64 684.38L505.48 686.95L505.31 689.48L505.15 691.97L504.98 694.42L504.81 696.82L504.64 699.16L504.46 701.45L504.29 703.68L504.11 705.85L503.93 707.95L503.74 709.97L503.56 711.93L503.37 713.8L503.18 715.58L502.98 717.28L502.78 718.88L502.58 720.39L502.38 721.79L502.17 723.09L501.96 724.28L501.75 725.35L501.54 726.29L501.32 727.11L501.11 727.78L500.92 728.29L500.75 728.63L500.67 728.76L500.79 728.67L501.26 728.55L501.82 728.72L501.96 728.83L501.87 728.68L501.71 728.3L501.53 727.73L501.34 727.01L501.15 726.13L500.96 725.12L500.76 723.98L500.58 722.72L500.39 721.35L500.21 719.86L500.03 718.27L499.85 716.59L499.68 714.8L499.51 712.93L499.34 710.97L499.18 708.93L499.02 706.82L498.85 704.63L498.7 702.38L498.54 700.07L498.39 697.69L498.23 695.27L498.08 692.8L497.93 690.28L497.78 687.73L497.64 685.14L497.49 682.52L497.35 679.88L497.2 677.22L497.06 674.54L496.91 671.85L496.77 669.15L496.63 666.45L496.48 663.75L496.34 661.06L496.19 658.38L496.05 655.71L495.9 653.06L495.76 650.44L495.61 647.85L495.46 645.3L495.31 642.78L495.16 640.3L495.01 637.87L494.85 635.49L494.7 633.17L494.54 630.91L494.38 628.72L494.21 626.59L494.05 624.54L493.88 622.57L493.71 620.68L493.53 618.87L493.35 617.16L493.17 615.55L492.98 614.03L492.79 612.62L492.6 611.31L492.4 610.12L492.19 609.04L491.98 608.07L491.75 607.21L491.51 606.46L491.23 605.8L490.87 605.19L490.29 604.62L489.23 604.3L488.23 604.58L487.58 605.14L487.15 605.77L486.81 606.48L486.51 607.29L486.23 608.21L485.97 609.25L485.72 610.4L485.47 611.67L485.23 613.06L485 614.56L484.78 616.17L484.56 617.88L484.34 619.68L484.13 621.58L483.92 623.57L483.71 625.64L483.51 627.79L483.32 630.01L483.12 632.3L482.93 634.65L482.74 637.06L482.55 639.52L482.37 642.03L482.18 644.58L482 647.17L481.82 649.78L481.64 652.43L481.46 655.09L481.28 657.77L481.11 660.46L480.93 663.15L480.75 665.85L480.57 668.54L480.4 671.22L480.22 673.88L480.04 676.52L479.86 679.13L479.68 681.71L479.49 684.26L479.31 686.76L479.12 689.21L478.93 691.61L478.74 693.96L478.55 696.24L478.35 698.45L478.15 700.58L477.95 702.63L477.74 704.6L477.53 706.48L477.32 708.26L477.1 709.94L476.88 711.51L476.65 712.97L476.42 714.31L476.19 715.52L475.96 716.59L475.72 717.52L475.49 718.3L475.27 718.9L475.08 719.31L474.96 719.48L475.06 719.41L475.52 719.3L476.02 719.45L476.1 719.51L475.98 719.29L475.78 718.82L475.56 718.14L475.33 717.27L475.1 716.24L474.87 715.05L474.64 713.72L474.42 712.26L474.21 710.67L473.99 708.95L473.78 707.13L473.58 705.2L473.38 703.18L473.18 701.06L472.99 698.85L472.8 696.57L472.61 694.22L472.42 691.8L472.24 689.32L472.06 686.79L471.88 684.21L471.7 681.6L471.52 678.95L471.35 676.27L471.17 673.58L471 670.87L470.82 668.16L470.65 665.44L470.47 662.73L470.3 660.04L470.12 657.36L469.94 654.71L469.77 652.09L469.59 649.51L469.4 646.97L469.22 644.49L469.03 642.06L468.84 639.69L468.65 637.4L468.46 635.18L468.26 633.05L468.06 631L467.85 629.05L467.64 627.2L467.42 625.46L467.2 623.83L466.97 622.32L466.74 620.93L466.49 619.68L466.24 618.55L465.98 617.55L465.69 616.68L465.37 615.92L464.97 615.25L464.33 614.63L463.23 614.3L462.18 614.59L461.46 615.2L460.97 615.91L460.57 616.73L460.22 617.66L459.89 618.74L459.58 619.95L459.28 621.3L458.99 622.78L458.71 624.38L458.44 626.11L458.17 627.96L457.92 629.91L457.66 631.96L457.42 634.11L457.17 636.34L456.93 638.66L456.7 641.04L456.47 643.49L456.24 645.99L456.02 648.55L455.79 651.14L455.57 653.77L455.35 656.43L455.13 659.1L454.91 661.79L454.7 664.48L454.48 667.16L454.26 669.83L454.04 672.49L453.82 675.11L453.6 677.7L453.37 680.25L453.14 682.74L452.91 685.18L452.68 687.55L452.44 689.85L452.2 692.07L451.96 694.19L451.71 696.22L451.45 698.15L451.19 699.96L450.93 701.64L450.66 703.2L450.38 704.62L450.1 705.88L449.82 706.98L449.54 707.91L449.26 708.64L449.02 709.15L448.85 709.41L448.88 709.39L449.28 709.3L449.7 709.43L449.73 709.43L449.55 709.11L449.29 708.5L449.02 707.66L448.74 706.6L448.46 705.35L448.19 703.93L447.93 702.34L447.67 700.61L447.41 698.74L447.16 696.74L446.92 694.63L446.68 692.41L446.45 690.1L446.22 687.7L445.99 685.23L445.77 682.69L445.55 680.1L445.33 677.46L445.11 674.78L444.89 672.09L444.68 669.37L444.46 666.65L444.25 663.93L444.03 661.23L443.81 658.55L443.59 655.91L443.37 653.31L443.15 650.76L442.92 648.28L442.69 645.86L442.45 643.54L442.21 641.3L441.97 639.16L441.71 637.14L441.45 635.23L441.19 633.45L440.91 631.81L440.63 630.32L440.33 628.97L440.02 627.78L439.68 626.75L439.31 625.86L438.84 625.08L438.15 624.4L436.98 624.05L435.84 624.37L435.03 625.06L434.46 625.89L433.99 626.87L433.57 628.01L433.17 629.31L432.8 630.78L432.45 632.41L432.1 634.18L431.77 636.1L431.45 638.15L431.14 640.32L430.83 642.59L430.53 644.96L430.24 647.42L429.95 649.94L429.67 652.53L429.39 655.16L429.11 657.83L428.83 660.52L428.56 663.23L428.28 665.93L428.01 668.62L427.73 671.28L427.45 673.91L427.17 676.49L426.88 679L426.59 681.43L426.29 683.78L425.99 686.03L425.68 688.17L425.37 690.18L425.05 692.05L424.71 693.76L424.38 695.31L424.03 696.67L423.68 697.83L423.34 698.76L423.02 699.43L422.77 699.81L422.72 699.87L423.02 699.8L423.07 699.81L422.91 699.67L422.57 699.23L422.15 698.49L421.71 697.46L421.27 696.2L420.84 694.72L420.41 693.05L420 691.21L419.59 689.21L419.2 687.07L418.81 684.81L418.43 682.45L418.06 680L417.69 677.48L417.33 674.9L416.97 672.28L416.62 669.63L416.26 666.98L415.9 664.33L415.54 661.7L415.18 659.11L414.81 656.57L414.43 654.1L414.05 651.71L413.66 649.42L413.26 647.24L412.84 645.19L412.41 643.27L411.96 641.51L411.49 639.92L410.99 638.49L410.46 637.25L409.86 636.18L409.15 635.28L408.21 634.59L406.98 634.3L405.74 634.66L404.87 635.44L404.24 636.41L403.72 637.55L403.26 638.88L402.82 640.41L402.41 642.13L402.02 644.01L401.64 646.06L401.27 648.25L400.92 650.56L400.58 652.98L400.24 655.5L399.91 658.08L399.58 660.72L399.26 663.39L398.94 666.08L398.61 668.76L398.29 671.43L397.97 674.06L397.64 676.63L397.3 679.12L396.96 681.51L396.61 683.79L396.25 685.94L395.89 687.93L395.51 689.74L395.12 691.36L394.73 692.75L394.33 693.88L393.95 694.73L393.63 695.23L393.51 695.35L393.72 695.3L394.05 695.37L393.99 695.3L393.72 694.88L393.39 694.14L393.04 693.13L392.69 691.88L392.34 690.43L392 688.79L391.67 686.97L391.34 685L391.03 682.9L390.72 680.67L390.42 678.34L390.12 675.92L389.83 673.42L389.54 670.86L389.26 668.26L388.97 665.62L388.69 662.97L388.41 660.32L388.13 657.68L387.84 655.07L387.55 652.5L387.26 649.99L386.96 647.55L386.65 645.19L386.34 642.94L386.02 640.8L385.69 638.78L385.35 636.91L384.99 635.19L384.62 633.64L384.23 632.25L383.81 631.05L383.33 630.01L382.76 629.13L381.96 628.4L380.78 628.05L379.62 628.32L378.78 628.95L378.16 629.75L377.64 630.69L377.18 631.78L376.75 633.02L376.34 634.42L375.95 635.97L375.58 637.66L375.22 639.49L374.87 641.44L374.53 643.51L374.19 645.69L373.87 647.97L373.55 650.33L373.24 652.76L372.93 655.26L372.62 657.81L372.32 660.41L372.03 663.03L371.73 665.68L371.43 668.34L371.14 671L370.84 673.64L370.55 676.26L370.25 678.85L369.94 681.39L369.64 683.88L369.33 686.3L369.01 688.64L368.69 690.88L368.36 693.03L368.03 695.07L367.68 696.98L367.33 698.75L366.97 700.37L366.61 701.83L366.24 703.11L365.86 704.19L365.5 705.06L365.16 705.67L364.9 706.02L364.82 706.09L364.99 706.05L365.59 706.24L365.65 706.28L365.49 705.96L365.27 705.35L365.04 704.51L364.81 703.47L364.57 702.24L364.34 700.84L364.12 699.28L363.9 697.57L363.68 695.73L363.47 693.76L363.27 691.67L363.07 689.49L362.87 687.2L362.67 684.83L362.48 682.38L362.29 679.87L362.11 677.29L361.92 674.67L361.74 672.02L361.56 669.33L361.38 666.62L361.2 663.9L361.02 661.19L360.84 658.48L360.65 655.79L360.47 653.13L360.29 650.5L360.1 647.92L359.91 645.4L359.72 642.94L359.52 640.56L359.32 638.26L359.12 636.05L358.91 633.95L358.7 631.95L358.48 630.08L358.26 628.33L358.02 626.72L357.78 625.26L357.53 623.95L357.27 622.78L356.99 621.78L356.68 620.91L356.29 620.16L355.68 619.46L354.53 619.05L353.46 619.3L352.69 619.86L352.13 620.55L351.66 621.36L351.26 622.29L350.88 623.35L350.52 624.54L350.18 625.87L349.85 627.33L349.53 628.91L349.21 630.6L348.91 632.42L348.61 634.34L348.32 636.35L348.04 638.47L347.76 640.67L347.49 642.94L347.22 645.29L346.96 647.71L346.7 650.18L346.44 652.7L346.18 655.27L345.93 657.87L345.68 660.5L345.43 663.15L345.18 665.82L344.93 668.49L344.68 671.16L344.43 673.83L344.18 676.48L343.93 679.1L343.68 681.7L343.43 684.26L343.17 686.77L342.91 689.23L342.65 691.63L342.38 693.97L342.11 696.23L341.83 698.41L341.55 700.5L341.27 702.49L340.98 704.37L340.68 706.15L340.38 707.8L340.07 709.32L339.75 710.7L339.43 711.93L339.11 713L338.79 713.9L338.49 714.6L338.21 715.09L338.02 715.33L338.01 715.35L338.24 715.3L338.62 715.39L338.68 715.43L338.54 715.22L338.32 714.77L338.06 714.12L337.8 713.28L337.53 712.28L337.27 711.13L337.01 709.83L336.75 708.4L336.5 706.85L336.25 705.17L336.01 703.39L335.77 701.5L335.53 699.51L335.3 697.44L335.07 695.27L334.85 693.03L334.63 690.72L334.41 688.34L334.2 685.9L333.99 683.41L333.78 680.87L333.57 678.29L333.36 675.67L333.16 673.03L332.95 670.36L332.75 667.68L332.55 664.99L332.34 662.29L332.14 659.6L331.94 656.92L331.73 654.25L331.53 651.6L331.32 648.98L331.11 646.4L330.9 643.85L330.69 641.35L330.48 638.9L330.26 636.51L330.04 634.19L329.81 631.93L329.58 629.75L329.35 627.66L329.11 625.65L328.87 623.73L328.62 621.92L328.37 620.21L328.11 618.61L327.84 617.13L327.57 615.76L327.28 614.52L326.99 613.41L326.67 612.43L326.34 611.56L325.96 610.81L325.48 610.14L324.78 609.57L323.77 609.3L322.69 609.64L322.09 610.23L321.72 610.86L321.44 611.56L321.19 612.36L320.95 613.27L320.73 614.31L320.52 615.46L320.31 616.74L320.1 618.13L319.91 619.63L319.71 621.24L319.53 622.96L319.34 624.77L319.16 626.68L318.98 628.67L318.81 630.75L318.64 632.91L318.47 635.14L318.3 637.44L318.14 639.8L317.97 642.22L317.81 644.69L317.66 647.21L317.5 649.77L317.34 652.36L317.19 654.99L317.04 657.65L316.88 660.32L316.73 663.01L316.58 665.71L316.43 668.42L316.28 671.12L316.12 673.83L315.97 676.52L315.82 679.19L315.67 681.84L315.51 684.47L315.36 687.06L315.2 689.62L315.04 692.13L314.88 694.59L314.72 697.01L314.56 699.36L314.39 701.65L314.22 703.87L314.05 706.01L313.88 708.08L313.7 710.06L313.52 711.95L313.34 713.74L313.15 715.43L312.96 717.01L312.77 718.47L312.58 719.82L312.38 721.04L312.18 722.12L311.97 723.06L311.77 723.85L311.58 724.47L311.41 724.89L311.31 725.07L311.43 724.97L311.98 724.8L312.45 724.92L312.56 725L312.47 724.85L312.29 724.47L312.08 723.91L311.86 723.19L311.63 722.32L311.41 721.31L311.19 720.16L310.97 718.9L310.76 717.52L310.54 716.03L310.33 714.43L310.13 712.73L309.93 710.94L309.73 709.06L309.53 707.09L309.34 705.04L309.15 702.91L308.96 700.71L308.78 698.45L308.6 696.12L308.42 693.74L308.24 691.3L308.06 688.81L307.89 686.28L307.71 683.71L307.54 681.11L307.37 678.48L307.2 675.82L307.03 673.14L306.87 670.44L306.7 667.73L306.53 665.02L306.36 662.3L306.2 659.59L306.03 656.88L305.86 654.18L305.69 651.5L305.52 648.84L305.35 646.2L305.18 643.59L305.01 641.02L304.83 638.49L304.65 635.99L304.48 633.55L304.3 631.16L304.11 628.82L303.93 626.55L303.74 624.34L303.55 622.2L303.35 620.13L303.16 618.15L302.96 616.25L302.75 614.43L302.54 612.71L302.33 611.08L302.11 609.55L301.89 608.13L301.66 606.81L301.43 605.61L301.19 604.51L300.94 603.53L300.67 602.66L300.38 601.9L300.06 601.22L299.64 600.61L299 600.07L298.02 599.8L296.97 600.12L296.41 600.68L296.08 601.25L295.82 601.87L295.6 602.57L295.39 603.37L295.2 604.27L295.01 605.28L294.83 606.39L294.65 607.61L294.47 608.93L294.3 610.35L294.14 611.86L293.97 613.46L293.81 615.16L293.65 616.94L293.5 618.8L293.34 620.73L293.19 622.75L293.04 624.83L292.9 626.98L292.75 629.19L292.61 631.46L292.47 633.79L292.33 636.17L292.19 638.59L292.06 641.06L291.92 643.57L291.79 646.12L291.65 648.7L291.52 651.3L291.39 653.93L291.26 656.59L291.13 659.26L291 661.94L290.87 664.63L290.74 667.33L290.61 670.03L290.48 672.73L290.35 675.42L290.22 678.1L290.09 680.77L289.96 683.42L289.83 686.05L289.7 688.66L289.57 691.23L289.43 693.77L289.3 696.28L289.16 698.75L289.02 701.17L288.88 703.54L288.74 705.86L288.6 708.12L288.46 710.33L288.31 712.47L288.16 714.54L288.01 716.54L287.86 718.47L287.71 720.31L287.55 722.08L287.39 723.75L287.23 725.33L287.07 726.82L286.9 728.21L286.73 729.49L286.56 730.66L286.38 731.72L286.21 732.66L286.03 733.46L285.86 734.13L285.7 734.65L285.56 734.99L285.49 735.12L285.64 734.98L286.24 734.8L286.75 734.93L286.9 735.05L286.84 734.95L286.69 734.64L286.52 734.17L286.33 733.55L286.14 732.8L285.95 731.92L285.76 730.92L285.57 729.82L285.38 728.61L285.19 727.29L285.01 725.88L284.83 724.38L284.66 722.78L284.48 721.1L284.31 719.34L284.14 717.5L283.97 715.58L283.81 713.59L283.64 711.54L283.48 709.42L283.32 707.23L283.17 704.99L283.01 702.7L282.86 700.35L282.71 697.96L282.56 695.52L282.41 693.04L282.26 690.52L282.11 687.97L281.97 685.39L281.82 682.78L281.68 680.15L281.53 677.5L281.39 674.83L281.25 672.15L281.11 669.45L280.96 666.75L280.82 664.05L280.68 661.34L280.54 658.64L280.4 655.95L280.25 653.27L280.11 650.59L279.97 647.94L279.82 645.31L279.68 642.69L279.53 640.11L279.39 637.56L279.24 635.04L279.09 632.55L278.94 630.11L278.79 627.71L278.63 625.36L278.48 623.06L278.32 620.81L278.16 618.62L278 616.49L277.83 614.42L277.67 612.42L277.5 610.49L277.33 608.64L277.15 606.86L276.98 605.16L276.8 603.54L276.62 602.01L276.43 600.57L276.24 599.22L276.04 597.97L275.85 596.81L275.64 595.75L275.43 594.79L275.21 593.93L274.98 593.16L274.73 592.49L274.44 591.88L274.06 591.33L273.46 590.82L272.52 590.55L271.44 590.93L270.95 591.49L270.69 592.01L270.5 592.56L270.33 593.18L270.18 593.89L270.03 594.7L269.88 595.6L269.74 596.59L269.61 597.68L269.47 598.87L269.34 600.15L269.21 601.51L269.09 602.96L268.96 604.5L268.84 606.12L268.72 607.81L268.6 609.58L268.48 611.43L268.37 613.34L268.25 615.32L268.14 617.36L268.03 619.47L267.92 621.63L267.81 623.85L267.7 626.12L267.6 628.44L267.49 630.81L267.39 633.21L267.29 635.66L267.18 638.15L267.08 640.67L266.98 643.22L266.88 645.8L266.78 648.41L266.69 651.03L266.59 653.68L266.49 656.34L266.39 659.02L266.29 661.71L266.2 664.4L266.1 667.1L266 669.8L265.91 672.5L265.81 675.19L265.71 677.88L265.61 680.55L265.52 683.21L265.42 685.86L265.32 688.48L265.22 691.09L265.12 693.67L265.02 696.22L264.92 698.73L264.82 701.22L264.71 703.66L264.61 706.07L264.5 708.43L264.4 710.74L264.29 713.01L264.18 715.22L264.07 717.38L263.96 719.48L263.85 721.52L263.74 723.49L263.62 725.39L263.51 727.23L263.39 728.99L263.27 730.67L263.15 732.27L263.03 733.79L262.9 735.23L262.77 736.57L262.64 737.82L262.51 738.97L262.38 740.03L262.25 740.97L262.12 741.81L261.98 742.53L261.85 743.13L261.73 743.59L261.62 743.89L261.58 743.99L261.75 743.81L262.49 743.55L263.12 743.73L263.3 743.89L263.26 743.82L263.15 743.56L263.01 743.13L262.86 742.58L262.71 741.9L262.55 741.1L262.4 740.2L262.24 739.2L262.09 738.1L261.94 736.91L261.79 735.62L261.65 734.25L261.5 732.79L261.36 731.25L261.22 729.63L261.08 727.93L260.95 726.16L260.81 724.33L260.68 722.42L260.55 720.45L260.42 718.41L260.29 716.32L260.16 714.17L260.04 711.97L259.91 709.71L259.79 707.41L259.67 705.06L259.55 702.67L259.43 700.24L259.31 697.77L259.19 695.26L259.07 692.72L258.96 690.15L258.84 687.56L258.73 684.94L258.61 682.3L258.5 679.64L258.39 676.97L258.27 674.28L258.16 671.58L258.05 668.87L257.94 666.16L257.82 663.44L257.71 660.72L257.6 658.01L257.49 655.3L257.37 652.6L257.26 649.91L257.15 647.23L257.03 644.57L256.92 641.93L256.8 639.31L256.69 636.72L256.57 634.15L256.46 631.61L256.34 629.1L256.22 626.62L256.1 624.19L255.98 621.79L255.86 619.44L255.73 617.13L255.61 614.87L255.48 612.66L255.36 610.5L255.23 608.4L255.1 606.36L254.96 604.38L254.83 602.47L254.69 600.62L254.56 598.84L254.42 597.13L254.28 595.49L254.13 593.94L253.99 592.46L253.84 591.06L253.69 589.75L253.53 588.52L253.38 587.38L253.22 586.33L253.05 585.37L252.88 584.51L252.71 583.73L252.52 583.04L252.32 582.43L252.08 581.88L251.77 581.37L251.23 580.85L250.26 580.55L249.28 580.85L248.74 581.36L248.43 581.86L248.2 582.4L248.01 582.99L247.83 583.66L247.66 584.41L247.49 585.25L247.33 586.18L247.17 587.2L247.02 588.31L246.87 589.5L246.73 590.77L246.58 592.13L246.44 593.56L246.3 595.08L246.16 596.67L246.02 598.33L245.89 600.06L245.76 601.86L245.63 603.73L245.5 605.66L245.37 607.65L245.24 609.7L245.12 611.81L245 613.97L244.88 616.18L244.75 618.44L244.64 620.75L244.52 623.1L244.4 625.49L244.28 627.91L244.17 630.38L244.06 632.88L243.94 635.41L243.83 637.97L243.72 640.55L243.61 643.16L243.5 645.79L243.39 648.44L243.28 651.11L243.17 653.79L243.06 656.48L242.95 659.17L242.84 661.88L242.73 664.59L242.62 667.3L242.51 670L242.4 672.71L242.3 675.41L242.19 678.1L242.08 680.77L241.97 683.44L241.86 686.09L241.75 688.71L241.63 691.32L241.52 693.9L241.41 696.46L241.3 698.99L241.18 701.49L241.07 703.95L240.95 706.37L240.84 708.76L240.72 711.11L240.6 713.41L240.48 715.66L240.36 717.87L240.24 720.02L240.11 722.12L239.99 724.17L239.86 726.15L239.73 728.07L239.6 729.93L239.47 731.72L239.34 733.44L239.2 735.09L239.06 736.66L238.93 738.16L238.78 739.58L238.64 740.91L238.5 742.16L238.35 743.32L238.21 744.38L238.06 745.35L237.91 746.22L237.76 746.99L237.61 747.65L237.46 748.18L237.33 748.59L237.22 748.84L237.19 748.9L237.38 748.73L238 748.55L238.69 748.77L238.88 748.95L238.84 748.88L238.74 748.62L238.62 748.2L238.48 747.64L238.35 746.97L238.21 746.19L238.07 745.3L237.94 744.31L237.8 743.23L237.67 742.05L237.53 740.79L237.4 739.43L237.28 737.99L237.15 736.48L237.02 734.88L236.9 733.21L236.78 731.47L236.66 729.65L236.54 727.77L236.42 725.83L236.31 723.82L236.19 721.76L236.08 719.64L235.97 717.46L235.86 715.24L235.75 712.96L235.64 710.64L235.53 708.28L235.43 705.87L235.32 703.43L235.22 700.96L235.11 698.45L235.01 695.9L234.91 693.34L234.8 690.74L234.7 688.13L234.6 685.49L234.5 682.84L234.4 680.18L234.3 677.5L234.2 674.81L234.1 672.12L234 669.42L233.9 666.72L233.8 664.02L233.7 661.33L233.6 658.64L233.5 655.96L233.4 653.3L233.3 650.64L233.2 648.01L233.09 645.39L232.99 642.8L232.89 640.23L232.79 637.69L232.68 635.17L232.58 632.69L232.47 630.25L232.36 627.84L232.26 625.47L232.15 623.15L232.04 620.87L231.93 618.64L231.82 616.46L231.7 614.33L231.59 612.26L231.47 610.25L231.35 608.3L231.23 606.41L231.11 604.59L230.99 602.83L230.87 601.15L230.74 599.54L230.61 598.01L230.48 596.55L230.35 595.18L230.22 593.88L230.08 592.68L229.94 591.56L229.8 590.53L229.65 589.59L229.5 588.74L229.35 587.98L229.18 587.3L229.01 586.71L228.8 586.18L228.52 585.67L228.02 585.14L226.98 584.8L226.02 585.09L225.46 585.61L225.12 586.14L224.87 586.72L224.65 587.36L224.44 588.08L224.25 588.9L224.07 589.81L223.89 590.82L223.71 591.92L223.54 593.11L223.37 594.4L223.21 595.77L223.05 597.24L222.89 598.78L222.73 600.41L222.58 602.11L222.43 603.89L222.28 605.75L222.13 607.67L221.98 609.66L221.84 611.72L221.7 613.83L221.56 616.01L221.42 618.24L221.28 620.52L221.15 622.85L221.02 625.23L220.88 627.65L220.75 630.11L220.62 632.61L220.49 635.14L220.36 637.71L220.24 640.3L220.11 642.92L219.98 645.56L219.86 648.22L219.73 650.89L219.61 653.58L219.49 656.28L219.36 658.99L219.24 661.7L219.11 664.42L218.99 667.13L218.87 669.83L218.74 672.53L218.62 675.22L218.49 677.9L218.37 680.55L218.24 683.19L218.12 685.81L217.99 688.4L217.86 690.96L217.73 693.49L217.6 695.99L217.47 698.44L217.34 700.86L217.21 703.23L217.07 705.56L216.93 707.84L216.8 710.06L216.66 712.23L216.52 714.33L216.37 716.38L216.23 718.36L216.08 720.27L215.93 722.12L215.78 723.88L215.63 725.57L215.48 727.18L215.32 728.71L215.16 730.15L215 731.49L214.84 732.75L214.67 733.9L214.5 734.95L214.33 735.9L214.16 736.73L214 737.45L213.83 738.04L213.68 738.49L213.55 738.77L213.51 738.85L213.68 738.71L214.26 738.55L214.84 738.72L215 738.86L214.94 738.76L214.81 738.45L214.65 737.97L214.49 737.35L214.31 736.59L214.14 735.71L213.97 734.72L213.8 733.61L213.63 732.4L213.47 731.09L213.31 729.69L213.15 728.19L212.99 726.6L212.83 724.92L212.68 723.16L212.53 721.33L212.38 719.42L212.23 717.43L212.09 715.38L211.94 713.27L211.8 711.09L211.66 708.86L211.52 706.57L211.39 704.24L211.25 701.85L211.12 699.42L210.98 696.95L210.85 694.44L210.72 691.9L210.59 689.33L210.46 686.73L210.33 684.11L210.21 681.46L210.08 678.8L209.95 676.13L209.83 673.44L209.7 670.75L209.57 668.06L209.45 665.36L209.32 662.67L209.19 659.99L209.07 657.31L208.94 654.65L208.81 652L208.68 649.38L208.55 646.78L208.42 644.2L208.29 641.66L208.16 639.15L208.03 636.67L207.89 634.24L207.76 631.85L207.62 629.5L207.48 627.21L207.34 624.97L207.2 622.79L207.06 620.67L206.91 618.61L206.76 616.61L206.61 614.69L206.46 612.84L206.31 611.07L206.15 609.38L205.99 607.77L205.83 606.24L205.66 604.81L205.49 603.47L205.32 602.22L205.14 601.07L204.96 600.01L204.77 599.06L204.58 598.21L204.38 597.45L204.15 596.78L203.9 596.19L203.56 595.64L203 595.1L201.98 594.8L201.02 595.07L200.4 595.6L200.01 596.18L199.7 596.82L199.43 597.54L199.19 598.36L198.95 599.28L198.73 600.31L198.51 601.45L198.3 602.69L198.09 604.03L197.89 605.47L197.69 607L197.5 608.63L197.31 610.35L197.12 612.16L196.94 614.05L196.76 616.01L196.58 618.05L196.4 620.16L196.23 622.34L196.06 624.58L195.89 626.88L195.72 629.23L195.56 631.63L195.4 634.09L195.23 636.58L195.07 639.12L194.92 641.69L194.76 644.29L194.6 646.92L194.45 649.57L194.29 652.24L194.14 654.93L193.98 657.63L193.83 660.33L193.68 663.04L193.52 665.75L193.37 668.46L193.22 671.16L193.06 673.84L192.91 676.51L192.75 679.16L192.6 681.79L192.44 684.39L192.28 686.95L192.12 689.48L191.96 691.97L191.8 694.42L191.63 696.82L191.47 699.17L191.3 701.46L191.13 703.69L190.96 705.85L190.78 707.95L190.61 709.98L190.43 711.93L190.24 713.8L190.06 715.59L189.87 717.28L189.68 718.89L189.49 720.4L189.3 721.8L189.1 723.1L188.9 724.29L188.7 725.36L188.49 726.31L188.29 727.13L188.09 727.8L187.9 728.32L187.74 728.66L187.66 728.79L187.78 728.7L188.26 728.58L188.76 728.73L188.87 728.82L188.78 728.67L188.61 728.29L188.41 727.72L188.21 727L188 726.13L187.79 725.12L187.59 723.98L187.39 722.72L187.19 721.35L186.99 719.86L186.8 718.27L186.61 716.58L186.43 714.8L186.24 712.93L186.06 710.97L185.89 708.93L185.71 706.82L185.54 704.63L185.37 702.38L185.2 700.06L185.04 697.69L184.87 695.27L184.71 692.8L184.55 690.28L184.39 687.73L184.23 685.14L184.08 682.53L183.92 679.88L183.77 677.22L183.61 674.54L183.46 671.85L183.3 669.15L183.15 666.45L183 663.75L182.84 661.06L182.69 658.38L182.53 655.71L182.37 653.07L182.22 650.45L182.06 647.85L181.9 645.3L181.74 642.78L181.58 640.3L181.41 637.87L181.25 635.5L181.08 633.17L180.91 630.91L180.74 628.72L180.56 626.59L180.38 624.54L180.2 622.57L180.02 620.68L179.83 618.88L179.64 617.17L179.44 615.55L179.24 614.04L179.04 612.63L178.83 611.32L178.62 610.13L178.39 609.05L178.17 608.08L177.93 607.23L177.67 606.48L177.38 605.84L177.01 605.26L176.44 604.73L175.49 604.46L174.57 604.72L173.95 605.25L173.54 605.86L173.21 606.55L172.92 607.34L172.65 608.25L172.39 609.29L172.14 610.44L171.9 611.71L171.67 613.09L171.44 614.59L171.21 616.19L171 617.9L170.78 619.71L170.57 621.61L170.37 623.59L170.16 625.66L169.96 627.81L169.77 630.03L169.57 632.32L169.38 634.67L169.2 637.08L169.01 639.54L168.83 642.05L168.65 644.6L168.47 647.18L168.29 649.8L168.11 652.44L167.93 655.11L167.76 657.79L167.58 660.48L167.4 663.17L167.23 665.86L167.05 668.55L166.88 671.23L166.7 673.89L166.52 676.53L166.34 679.15L166.16 681.73L165.98 684.28L165.8 686.78L165.61 689.23L165.43 691.63L165.24 693.98L165.04 696.26L164.85 698.47L164.65 700.6L164.45 702.66L164.25 704.63L164.04 706.51L163.83 708.3L163.61 709.98L163.39 711.55L163.17 713.02L162.94 714.36L162.71 715.57L162.48 716.66L162.24 717.6L162.01 718.39L161.78 719.01L161.57 719.45L161.43 719.67L161.45 719.67L161.77 719.59L162.09 719.69L162.1 719.68L161.94 719.42L161.72 718.92L161.48 718.22L161.24 717.34L161 716.3L160.77 715.1L160.53 713.77L160.3 712.3L160.08 710.7L159.86 708.99L159.65 707.16L159.43 705.23L159.23 703.2L159.02 701.08L158.82 698.88L158.63 696.6L158.43 694.24L158.24 691.82L158.05 689.34L157.86 686.81L157.68 684.23L157.5 681.62L157.31 678.97L157.13 676.29L156.95 673.6L156.77 670.89L156.59 668.18L156.41 665.46L156.23 662.76L156.05 660.06L155.87 657.38L155.69 654.73L155.51 652.11L155.32 649.53L155.13 647L154.94 644.51L154.75 642.09L154.56 639.72L154.36 637.43L154.16 635.21L153.95 633.08L153.74 631.04L153.53 629.09L153.31 627.25L153.09 625.51L152.86 623.88L152.63 622.38L152.39 621L152.14 619.75L151.88 618.64L151.62 617.66L151.33 616.81L151.02 616.09L150.64 615.48L150.1 614.97L149.24 614.72L148.39 614.96L147.79 615.48L147.35 616.13L146.99 616.9L146.65 617.81L146.34 618.86L146.04 620.05L145.76 621.39L145.48 622.86L145.21 624.46L144.94 626.18L144.69 628.02L144.44 629.97L144.19 632.02L143.95 634.16L143.71 636.39L143.48 638.7L143.25 641.09L143.03 643.53L142.81 646.04L142.59 648.59L142.37 651.19L142.16 653.81L141.94 656.47L141.73 659.14L141.52 661.83L141.31 664.52L141.09 667.2L140.88 669.87L140.67 672.53L140.45 675.15L140.24 677.74L140.02 680.29L139.8 682.79L139.57 685.23L139.35 687.61L139.11 689.91L138.88 692.13L138.64 694.26L138.4 696.29L138.15 698.22L137.9 700.04L137.64 701.73L137.37 703.3L137.1 704.73L136.83 706.01L136.55 707.13L136.26 708.09L135.98 708.86L135.71 709.43L135.49 709.77L135.39 709.87L135.52 709.85L135.68 709.9L135.57 709.78L135.34 709.37L135.07 708.71L134.79 707.82L134.52 706.74L134.25 705.47L133.98 704.03L133.72 702.44L133.47 700.7L133.22 698.82L132.98 696.82L132.74 694.7L132.51 692.48L132.28 690.16L132.06 687.76L131.84 685.29L131.62 682.75L131.41 680.15L131.2 677.51L130.99 674.84L130.78 672.14L130.57 669.42L130.36 666.7L130.15 663.99L129.94 661.28L129.73 658.61L129.52 655.96L129.3 653.37L129.09 650.82L128.87 648.34L128.64 645.93L128.41 643.6L128.18 641.37L127.94 639.24L127.7 637.22L127.45 635.33L127.19 633.56L126.93 631.93L126.66 630.45L126.37 629.13L126.08 627.97L125.77 626.98L125.43 626.16L125.05 625.49L124.53 624.97L123.74 624.72L122.92 624.95L122.3 625.5L121.82 626.23L121.4 627.14L121 628.23L120.63 629.5L120.28 630.94L119.93 632.55L119.6 634.31L119.28 636.22L118.97 638.26L118.67 640.42L118.37 642.69L118.08 645.05L117.8 647.5L117.52 650.02L117.24 652.61L116.97 655.24L116.7 657.91L116.43 660.6L116.16 663.3L115.89 666.01L115.63 668.7L115.36 671.36L115.08 673.99L114.81 676.57L114.53 679.09L114.25 681.53L113.96 683.88L113.66 686.14L113.36 688.28L113.05 690.3L112.74 692.19L112.41 693.92L112.08 695.49L111.74 696.88L111.39 698.08L111.03 699.07L110.68 699.83L110.35 700.33L110.1 700.56L110.01 700.6L109.67 700.53L109.27 700.24L108.8 699.68L108.3 698.85L107.81 697.78L107.33 696.48L106.86 694.98L106.4 693.3L105.96 691.45L105.53 689.45L105.11 687.32L104.7 685.07L104.3 682.72L103.9 680.28L103.52 677.78L103.13 675.21L102.75 672.61L102.37 669.99L102 667.35L101.62 664.73L101.24 662.12L100.86 659.55L100.47 657.04L100.07 654.6L99.67 652.23L99.26 649.97L98.83 647.82L98.4 645.8L97.95 643.92L97.48 642.2L96.99 640.66L96.49 639.3L95.95 638.13L95.39 637.18L94.77 636.44L94.06 635.95L93.24 635.77L92.46 636L91.82 636.58L91.28 637.42L90.78 638.49L90.32 639.8L89.88 641.32L89.47 643.05L89.06 644.95L88.68 647.02L88.3 649.22L87.94 651.55L87.58 653.99L87.23 656.5L86.89 659.07L86.55 661.69L86.21 664.32L85.87 666.95L85.53 669.57L85.19 672.14L84.84 674.64L84.48 677.07L84.12 679.39L83.75 681.58L83.36 683.63L82.97 685.52L82.56 687.21L82.13 688.69L81.69 689.94L81.24 690.93L80.78 691.64L80.36 692.03L80.01 692.15L79.54 692.01L79.01 691.53L78.47 690.69L77.93 689.53L77.42 688.07L76.92 686.36L76.45 684.42L75.99 682.29L75.54 680L75.11 677.57L74.69 675.04L74.28 672.44L73.87 669.79L73.46 667.12L73.05 664.47L72.63 661.87L72.21 659.33L71.78 656.9L71.33 654.59L70.87 652.45L70.39 650.49L69.89 648.75L69.36 647.26L68.79 646.03L68.19 645.1L67.51 644.49L66.81 644.28Z"/><text class="lbl" y="551.3" font-size="44.2"><tspan x="58" textLength="208.02" lengthAdjust="spacingAndGlyphs">Amplitude</tspan> <tspan x="277.93" textLength="230.63" lengthAdjust="spacingAndGlyphs">modulation</tspan> <tspan x="519.89" textLength="92.26" lengthAdjust="spacingAndGlyphs">(AM)</tspan></text></g>
<g id="dam"><path class="grid" d="M826.5 553.25V769.45M845.01 553.25V769.45M863.52 553.25V769.45M882.04 553.25V769.45M900.55 553.25V769.45M919.06 553.25V769.45M937.57 553.25V769.45M956.08 553.25V769.45M974.6 553.25V769.45M993.11 553.25V769.45M1011.62 553.25V769.45M1030.13 553.25V769.45M1048.64 553.25V769.45M1067.16 553.25V769.45M1085.67 553.25V769.45M1104.18 553.25V769.45M1122.69 553.25V769.45M1141.2 553.25V769.45M1159.72 553.25V769.45M1178.23 553.25V769.45M1196.74 553.25V769.45M1215.25 553.25V769.45M1233.76 553.25V769.45M1252.28 553.25V769.45M1270.79 553.25V769.45M1289.3 553.25V769.45M1307.81 553.25V769.45M1326.32 553.25V769.45M1344.84 553.25V769.45M1363.35 553.25V769.45M1381.86 553.25V769.45M1400.37 553.25V769.45M1418.88 553.25V769.45M1437.4 553.25V769.45M1455.91 553.25V769.45M1474.42 553.25V769.45M1492.93 553.25V769.45M1511.44 553.25V769.45M1529.96 553.25V769.45M1548.47 553.25V769.45M1566.98 553.25V769.45M826.5 553.75H1574.48M826.5 572.45H1574.48M826.5 591.15H1574.48M826.5 609.85H1574.48M826.5 628.55H1574.48M826.5 647.25H1574.48M826.5 665.95H1574.48M826.5 684.65H1574.48M826.5 703.35H1574.48M826.5 722.05H1574.48M826.5 740.75H1574.48M826.5 759.45H1574.48"/><path class="mid" d="M860.75 666H1545.75"/><linearGradient id="fade3" gradientUnits="userSpaceOnUse" x1="897" y1="0" x2="1509.5" y2="0"><stop offset="0" stop-color="#000" stop-opacity="0.12"/><stop offset="0.05" stop-color="#000" stop-opacity="1"/><stop offset="0.95" stop-color="#000" stop-opacity="1"/><stop offset="1" stop-color="#000" stop-opacity="0.12"/></linearGradient><path class="wave" fill="url(#fade3)" d="M897.07 697.69L897.49 697.52L897.89 697.04L898.24 696.33L898.56 695.39L898.86 694.22L899.14 692.84L899.41 691.27L899.67 689.52L899.92 687.6L900.15 685.53L900.38 683.33L900.59 681.01L900.8 678.59L901.01 676.08L901.21 673.5L901.4 670.87L901.59 668.19L901.78 665.5L901.97 662.79L902.16 660.09L902.35 657.42L902.55 654.79L902.75 652.21L902.95 649.7L903.16 647.28L903.38 644.97L903.6 642.77L903.84 640.71L904.08 638.8L904.34 637.06L904.6 635.5L904.88 634.14L905.18 633L905.48 632.1L905.79 631.47L906.07 631.13L906.25 631.06L906.75 631.17L907.25 631.51L907.77 632.09L908.27 632.9L908.76 633.94L909.24 635.19L909.69 636.63L910.12 638.25L910.54 640.03L910.94 641.95L911.33 644.02L911.7 646.2L912.06 648.49L912.4 650.88L912.74 653.35L913.07 655.88L913.4 658.47L913.72 661.1L914.04 663.75L914.35 666.42L914.67 669.09L914.98 671.75L915.3 674.38L915.63 676.97L915.96 679.51L916.3 681.99L916.65 684.38L917.01 686.68L917.38 688.88L917.77 690.95L918.17 692.9L918.6 694.7L919.04 696.35L919.51 697.82L920 699.12L920.52 700.23L921.09 701.14L921.72 701.85L922.44 702.32L923.25 702.5L923.93 702.29L924.46 701.79L924.88 701.08L925.27 700.18L925.62 699.08L925.95 697.79L926.26 696.32L926.56 694.68L926.85 692.88L927.12 690.94L927.38 688.86L927.64 686.67L927.88 684.37L928.12 681.98L928.35 679.51L928.57 676.97L928.79 674.38L929.01 671.75L929.22 669.09L929.44 666.42L929.65 663.75L929.86 661.09L930.08 658.47L930.3 655.88L930.52 653.35L930.75 650.88L930.99 648.49L931.23 646.2L931.48 644.02L931.74 641.96L932.01 640.03L932.3 638.26L932.59 636.65L932.9 635.21L933.21 633.98L933.54 632.95L933.87 632.16L934.19 631.64L934.42 631.4L934.5 631.38L934.7 631.44L934.99 631.69L935.36 632.22L935.74 633L936.12 634.02L936.5 635.25L936.85 636.68L937.2 638.29L937.53 640.06L937.84 641.99L938.15 644.05L938.44 646.23L938.73 648.52L939.01 650.9L939.27 653.37L939.54 655.9L939.79 658.49L940.05 661.12L940.3 663.77L940.55 666.44L940.8 669.11L941.05 671.77L941.31 674.4L941.57 676.99L941.83 679.53L942.1 682.01L942.38 684.4L942.66 686.7L942.96 688.9L943.27 690.98L943.59 692.93L943.93 694.74L944.28 696.39L944.65 697.87L945.04 699.18L945.47 700.31L945.93 701.25L946.47 702L947.14 702.55L947.96 702.78L948.71 702.59L949.23 702.15L949.63 701.58L949.97 700.88L950.27 700.05L950.56 699.08L950.84 697.98L951.1 696.74L951.35 695.37L951.6 693.87L951.83 692.26L952.06 690.53L952.28 688.7L952.5 686.76L952.71 684.73L952.91 682.61L953.11 680.4L953.3 678.12L953.49 675.77L953.68 673.35L953.86 670.88L954.04 668.36L954.21 665.79L954.38 663.18L954.55 660.55L954.72 657.88L954.89 655.2L955.06 652.5L955.23 649.8L955.39 647.1L955.56 644.41L955.73 641.72L955.9 639.06L956.07 636.43L956.24 633.82L956.41 631.26L956.59 628.74L956.77 626.27L956.96 623.86L957.15 621.52L957.34 619.25L957.54 617.05L957.74 614.94L957.95 612.92L958.16 611L958.38 609.18L958.61 607.47L958.84 605.88L959.08 604.42L959.32 603.09L959.58 601.9L959.84 600.86L960.1 599.98L960.36 599.27L960.61 598.76L960.81 598.46L960.88 598.39L960.79 598.42L960.52 598.37L960.51 598.37L960.63 598.57L960.8 598.95L960.99 599.49L961.18 600.17L961.38 600.98L961.57 601.91L961.76 602.97L961.94 604.13L962.12 605.41L962.3 606.78L962.47 608.26L962.64 609.83L962.8 611.5L962.96 613.25L963.12 615.08L963.27 616.99L963.42 618.98L963.57 621.04L963.72 623.16L963.86 625.36L964 627.61L964.13 629.91L964.27 632.28L964.4 634.68L964.53 637.14L964.66 639.63L964.79 642.17L964.91 644.74L965.04 647.33L965.16 649.96L965.28 652.6L965.4 655.27L965.52 657.95L965.64 660.64L965.76 663.34L965.88 666.04L966 668.75L966.12 671.45L966.24 674.14L966.36 676.82L966.48 679.49L966.61 682.14L966.73 684.76L966.85 687.36L966.98 689.93L967.11 692.47L967.23 694.97L967.36 697.42L967.5 699.84L967.63 702.2L967.77 704.51L967.91 706.77L968.05 708.97L968.2 711.1L968.34 713.17L968.5 715.17L968.65 717.09L968.81 718.93L968.97 720.7L969.14 722.37L969.31 723.96L969.48 725.46L969.66 726.86L969.84 728.16L970.03 729.37L970.23 730.46L970.43 731.45L970.64 732.34L970.87 733.12L971.11 733.8L971.38 734.38L971.71 734.9L972.22 735.34L973 735.56L973.78 735.35L974.29 734.9L974.64 734.39L974.91 733.8L975.16 733.13L975.39 732.35L975.6 731.46L975.81 730.47L976.01 729.37L976.2 728.17L976.39 726.87L976.58 725.47L976.75 723.97L976.93 722.38L977.1 720.7L977.26 718.94L977.43 717.09L977.58 715.17L977.74 713.18L977.89 711.11L978.04 708.97L978.18 706.78L978.33 704.52L978.47 702.21L978.61 699.84L978.74 697.43L978.87 694.97L979.01 692.47L979.14 689.94L979.26 687.37L979.39 684.77L979.52 682.14L979.64 679.49L979.77 676.83L979.89 674.15L980.01 671.45L980.13 668.75L980.26 666.05L980.38 663.35L980.5 660.65L980.62 657.96L980.75 655.28L980.87 652.61L981 649.96L981.12 647.34L981.25 644.74L981.38 642.18L981.51 639.64L981.64 637.15L981.77 634.69L981.91 632.29L982.05 629.93L982.19 627.62L982.33 625.37L982.47 623.18L982.62 621.05L982.77 618.99L982.93 617.01L983.08 615.1L983.24 613.26L983.41 611.52L983.58 609.86L983.75 608.29L983.92 606.81L984.1 605.44L984.29 604.17L984.48 603.01L984.67 601.96L984.86 601.03L985.06 600.23L985.25 599.56L985.44 599.05L985.6 598.7L985.7 598.54L985.62 598.6L985.25 598.7L984.84 598.6L984.76 598.53L984.85 598.68L985 599.04L985.17 599.56L985.36 600.22L985.54 601.03L985.72 601.96L985.9 603.01L986.08 604.17L986.25 605.44L986.42 606.81L986.58 608.29L986.74 609.86L986.9 611.52L987.06 613.27L987.21 615.1L987.35 617.01L987.5 618.99L987.64 621.05L987.78 623.18L987.92 625.37L988.05 627.62L988.18 629.93L988.31 632.29L988.44 634.7L988.56 637.15L988.68 639.65L988.81 642.18L988.93 644.75L989.05 647.34L989.16 649.97L989.28 652.61L989.4 655.28L989.51 657.96L989.63 660.65L989.74 663.35L989.86 666.05L989.97 668.76L990.09 671.46L990.2 674.15L990.32 676.83L990.43 679.5L990.55 682.15L990.67 684.77L990.79 687.37L990.91 689.94L991.03 692.48L991.15 694.98L991.28 697.44L991.41 699.85L991.53 702.22L991.67 704.53L991.8 706.79L991.94 708.98L992.08 711.12L992.22 713.19L992.36 715.18L992.51 717.11L992.66 718.95L992.82 720.72L992.98 722.4L993.14 723.99L993.31 725.49L993.48 726.89L993.66 728.2L993.84 729.4L994.03 730.51L994.23 731.5L994.43 732.4L994.65 733.19L994.88 733.88L995.15 734.49L995.51 735.05L996.07 735.56L997 735.84L997.91 735.6L998.51 735.11L998.9 734.55L999.21 733.93L999.48 733.23L999.73 732.44L999.96 731.54L1000.18 730.54L1000.4 729.43L1000.6 728.22L1000.8 726.92L1001 725.51L1001.19 724.01L1001.37 722.42L1001.55 720.74L1001.73 718.97L1001.9 717.12L1002.07 715.2L1002.24 713.2L1002.4 711.13L1002.55 709L1002.71 706.8L1002.86 704.54L1003.01 702.23L1003.16 699.86L1003.3 697.45L1003.44 694.99L1003.58 692.49L1003.72 689.95L1003.86 687.38L1003.99 684.78L1004.12 682.16L1004.26 679.51L1004.39 676.84L1004.52 674.16L1004.65 671.47L1004.78 668.77L1004.91 666.07L1005.04 663.36L1005.17 660.66L1005.3 657.97L1005.43 655.29L1005.56 652.63L1005.69 649.98L1005.83 647.36L1005.96 644.76L1006.1 642.2L1006.24 639.66L1006.38 637.17L1006.52 634.71L1006.66 632.31L1006.81 629.95L1006.95 627.64L1007.11 625.39L1007.26 623.2L1007.42 621.08L1007.58 619.02L1007.74 617.03L1007.91 615.13L1008.08 613.3L1008.25 611.55L1008.43 609.89L1008.61 608.33L1008.79 606.86L1008.98 605.49L1009.17 604.22L1009.37 603.07L1009.57 602.03L1009.77 601.11L1009.97 600.32L1010.17 599.67L1010.36 599.17L1010.51 598.85L1010.59 598.74L1010.45 598.84L1010 598.95L1009.45 598.8L1009.3 598.67L1009.36 598.78L1009.51 599.11L1009.67 599.62L1009.85 600.27L1010.03 601.07L1010.21 601.99L1010.39 603.04L1010.56 604.2L1010.73 605.46L1010.9 606.83L1011.06 608.31L1011.22 609.87L1011.38 611.53L1011.53 613.28L1011.68 615.11L1011.82 617.02L1011.97 619.01L1012.11 621.07L1012.24 623.19L1012.38 625.38L1012.51 627.63L1012.64 629.94L1012.77 632.3L1012.89 634.71L1013.02 637.16L1013.14 639.65L1013.26 642.19L1013.38 644.75L1013.5 647.35L1013.61 649.98L1013.73 652.62L1013.85 655.29L1013.96 657.97L1014.07 660.66L1014.19 663.36L1014.3 666.06L1014.41 668.76L1014.53 671.46L1014.64 674.16L1014.76 676.84L1014.87 679.5L1014.99 682.15L1015.1 684.78L1015.22 687.38L1015.34 689.95L1015.46 692.49L1015.59 694.98L1015.71 697.44L1015.83 699.86L1015.96 702.22L1016.09 704.54L1016.23 706.79L1016.36 708.99L1016.5 711.13L1016.64 713.19L1016.78 715.19L1016.93 717.12L1017.08 718.96L1017.23 720.73L1017.39 722.41L1017.55 724L1017.72 725.5L1017.89 726.9L1018.07 728.21L1018.25 729.42L1018.44 730.52L1018.63 731.52L1018.83 732.42L1019.05 733.22L1019.28 733.92L1019.55 734.54L1019.91 735.11L1020.5 735.65L1021.5 735.95L1022.47 735.68L1023.09 735.16L1023.48 734.58L1023.78 733.95L1024.03 733.25L1024.27 732.45L1024.49 731.55L1024.7 730.55L1024.91 729.44L1025.1 728.23L1025.3 726.92L1025.48 725.51L1025.66 724.01L1025.84 722.42L1026.01 720.74L1026.18 718.97L1026.34 717.13L1026.5 715.2L1026.66 713.2L1026.81 711.14L1026.96 709L1027.11 706.8L1027.25 704.54L1027.39 702.23L1027.53 699.86L1027.67 697.45L1027.8 694.99L1027.94 692.49L1028.07 689.95L1028.2 687.38L1028.33 684.78L1028.45 682.16L1028.58 679.51L1028.7 676.84L1028.83 674.16L1028.95 671.47L1029.08 668.77L1029.2 666.07L1029.32 663.36L1029.45 660.66L1029.57 657.97L1029.69 655.29L1029.82 652.63L1029.94 649.98L1030.07 647.36L1030.2 644.76L1030.33 642.19L1030.46 639.66L1030.59 637.17L1030.73 634.71L1030.86 632.3L1031 629.94L1031.14 627.64L1031.29 625.39L1031.43 623.2L1031.58 621.07L1031.73 619.02L1031.89 617.03L1032.05 615.12L1032.21 613.29L1032.38 611.55L1032.55 609.89L1032.72 608.32L1032.9 606.85L1033.08 605.48L1033.26 604.21L1033.45 603.06L1033.64 602.01L1033.84 601.09L1034.03 600.3L1034.22 599.65L1034.4 599.15L1034.56 598.83L1034.63 598.72L1034.49 598.82L1034 598.95L1033.36 598.75L1033.2 598.61L1033.26 598.73L1033.39 599.06L1033.55 599.58L1033.71 600.24L1033.87 601.04L1034.03 601.97L1034.19 603.01L1034.34 604.17L1034.49 605.44L1034.64 606.82L1034.79 608.29L1034.93 609.86L1035.07 611.52L1035.21 613.27L1035.34 615.1L1035.47 617.01L1035.6 619L1035.72 621.05L1035.84 623.18L1035.96 625.37L1036.08 627.62L1036.2 629.93L1036.31 632.29L1036.42 634.7L1036.53 637.15L1036.64 639.65L1036.75 642.18L1036.86 644.75L1036.96 647.34L1037.06 649.97L1037.17 652.61L1037.27 655.28L1037.37 657.96L1037.47 660.65L1037.57 663.35L1037.68 666.05L1037.78 668.76L1037.88 671.46L1037.98 674.15L1038.08 676.83L1038.18 679.5L1038.29 682.15L1038.39 684.77L1038.5 687.37L1038.6 689.94L1038.71 692.48L1038.82 694.98L1038.93 697.44L1039.04 699.85L1039.16 702.21L1039.27 704.53L1039.39 706.78L1039.51 708.98L1039.63 711.12L1039.76 713.18L1039.89 715.18L1040.02 717.1L1040.15 718.95L1040.29 720.71L1040.43 722.39L1040.58 723.98L1040.72 725.48L1040.87 726.88L1041.03 728.19L1041.19 729.4L1041.36 730.5L1041.53 731.49L1041.71 732.38L1041.9 733.17L1042.11 733.87L1042.35 734.48L1042.66 735.05L1043.21 735.61L1044.25 735.95L1045.25 735.65L1045.84 735.11L1046.2 734.54L1046.47 733.92L1046.7 733.22L1046.92 732.42L1047.12 731.52L1047.31 730.52L1047.5 729.42L1047.68 728.21L1047.86 726.9L1048.03 725.5L1048.2 724L1048.36 722.41L1048.52 720.73L1048.67 718.96L1048.82 717.12L1048.97 715.19L1049.11 713.19L1049.25 711.13L1049.39 708.99L1049.52 706.79L1049.66 704.54L1049.79 702.22L1049.92 699.86L1050.04 697.44L1050.16 694.98L1050.29 692.49L1050.41 689.95L1050.53 687.38L1050.65 684.78L1050.76 682.15L1050.88 679.5L1050.99 676.84L1051.11 674.16L1051.22 671.46L1051.34 668.76L1051.45 666.06L1051.56 663.36L1051.68 660.66L1051.79 657.97L1051.9 655.29L1052.02 652.62L1052.14 649.98L1052.25 647.35L1052.37 644.75L1052.49 642.19L1052.61 639.65L1052.73 637.16L1052.86 634.71L1052.98 632.3L1053.11 629.94L1053.24 627.63L1053.37 625.38L1053.51 623.19L1053.64 621.07L1053.78 619.01L1053.93 617.02L1054.07 615.11L1054.22 613.28L1054.37 611.53L1054.53 609.87L1054.69 608.31L1054.85 606.83L1055.02 605.46L1055.19 604.2L1055.36 603.04L1055.54 601.99L1055.72 601.07L1055.9 600.27L1056.08 599.62L1056.24 599.11L1056.39 598.78L1056.45 598.67L1056.3 598.8L1055.75 598.95L1055.22 598.8L1055.07 598.68L1055.13 598.8L1055.28 599.12L1055.45 599.63L1055.63 600.28L1055.82 601.08L1056 602L1056.18 603.04L1056.36 604.2L1056.53 605.47L1056.7 606.84L1056.87 608.31L1057.03 609.88L1057.19 611.54L1057.34 613.28L1057.5 615.11L1057.65 617.02L1057.79 619.01L1057.94 621.07L1058.08 623.19L1058.21 625.38L1058.35 627.63L1058.48 629.94L1058.61 632.3L1058.74 634.71L1058.87 637.16L1058.99 639.66L1059.11 642.19L1059.24 644.76L1059.36 647.35L1059.47 649.98L1059.59 652.62L1059.71 655.29L1059.83 657.97L1059.94 660.66L1060.06 663.36L1060.18 666.06L1060.29 668.77L1060.41 671.47L1060.52 674.16L1060.64 676.84L1060.76 679.51L1060.88 682.15L1061 684.78L1061.12 687.38L1061.24 689.95L1061.36 692.49L1061.49 694.99L1061.61 697.44L1061.74 699.86L1061.87 702.22L1062.01 704.54L1062.14 706.8L1062.28 708.99L1062.42 711.13L1062.57 713.2L1062.71 715.2L1062.86 717.12L1063.02 718.97L1063.17 720.73L1063.34 722.41L1063.5 724L1063.67 725.5L1063.84 726.91L1064.02 728.22L1064.21 729.42L1064.4 730.53L1064.6 731.53L1064.81 732.43L1065.03 733.22L1065.27 733.93L1065.55 734.55L1065.91 735.12L1066.51 735.66L1067.5 735.95L1068.55 735.6L1069.09 735.03L1069.39 734.47L1069.63 733.86L1069.83 733.16L1070.01 732.38L1070.19 731.49L1070.36 730.49L1070.52 729.39L1070.68 728.19L1070.83 726.88L1070.98 725.48L1071.12 723.98L1071.26 722.39L1071.4 720.71L1071.53 718.95L1071.66 717.1L1071.79 715.18L1071.92 713.18L1072.04 711.11L1072.16 708.98L1072.28 706.78L1072.39 704.53L1072.5 702.21L1072.62 699.85L1072.72 697.43L1072.83 694.98L1072.94 692.48L1073.04 689.94L1073.15 687.37L1073.25 684.77L1073.35 682.14L1073.45 679.5L1073.55 676.83L1073.65 674.15L1073.75 671.46L1073.85 668.76L1073.95 666.05L1074.05 663.35L1074.15 660.65L1074.25 657.96L1074.35 655.28L1074.45 652.61L1074.55 649.97L1074.65 647.34L1074.75 644.75L1074.85 642.18L1074.96 639.65L1075.06 637.15L1075.17 634.7L1075.28 632.29L1075.39 629.93L1075.51 627.62L1075.62 625.37L1075.74 623.18L1075.86 621.05L1075.98 618.99L1076.1 617.01L1076.23 615.1L1076.36 613.27L1076.49 611.52L1076.63 609.86L1076.77 608.29L1076.91 606.81L1077.05 605.44L1077.2 604.17L1077.35 603.01L1077.51 601.96L1077.66 601.03L1077.82 600.23L1077.98 599.57L1078.13 599.05L1078.26 598.71L1078.32 598.59L1078.16 598.74L1077.5 598.95L1076.98 598.81L1076.84 598.69L1076.9 598.81L1077.05 599.13L1077.23 599.63L1077.41 600.29L1077.6 601.08L1077.78 602L1077.97 603.05L1078.15 604.2L1078.33 605.47L1078.5 606.84L1078.67 608.31L1078.84 609.88L1079 611.54L1079.16 613.29L1079.31 615.12L1079.47 617.03L1079.62 619.01L1079.76 621.07L1079.91 623.19L1080.05 625.38L1080.18 627.63L1080.32 629.94L1080.45 632.3L1080.58 634.71L1080.71 637.16L1080.84 639.66L1080.97 642.19L1081.09 644.76L1081.21 647.35L1081.34 649.98L1081.46 652.62L1081.58 655.29L1081.7 657.97L1081.81 660.66L1081.93 663.36L1082.05 666.06L1082.17 668.77L1082.29 671.47L1082.41 674.16L1082.53 676.84L1082.65 679.51L1082.77 682.16L1082.89 684.78L1083.01 687.38L1083.14 689.95L1083.26 692.49L1083.39 694.99L1083.52 697.45L1083.65 699.86L1083.79 702.23L1083.92 704.54L1084.06 706.8L1084.2 709L1084.34 711.13L1084.49 713.2L1084.64 715.2L1084.79 717.12L1084.95 718.97L1085.11 720.73L1085.28 722.41L1085.45 724.01L1085.62 725.51L1085.8 726.91L1085.98 728.22L1086.17 729.43L1086.37 730.53L1086.57 731.54L1086.78 732.43L1087.01 733.23L1087.25 733.94L1087.54 734.56L1087.91 735.13L1088.51 735.67L1089.5 735.95L1090.49 735.66L1091.09 735.12L1091.45 734.55L1091.73 733.93L1091.97 733.22L1092.19 732.43L1092.4 731.53L1092.6 730.53L1092.79 729.42L1092.98 728.22L1093.16 726.91L1093.33 725.5L1093.5 724L1093.66 722.41L1093.83 720.73L1093.98 718.97L1094.14 717.12L1094.29 715.2L1094.43 713.2L1094.58 711.13L1094.72 708.99L1094.86 706.8L1094.99 704.54L1095.13 702.22L1095.26 699.86L1095.39 697.44L1095.51 694.99L1095.64 692.49L1095.76 689.95L1095.88 687.38L1096 684.78L1096.12 682.15L1096.24 679.51L1096.36 676.84L1096.48 674.16L1096.59 671.47L1096.71 668.77L1096.82 666.06L1096.94 663.36L1097.06 660.66L1097.17 657.97L1097.29 655.29L1097.41 652.62L1097.53 649.98L1097.64 647.35L1097.76 644.76L1097.89 642.19L1098.01 639.66L1098.13 637.16L1098.26 634.71L1098.39 632.3L1098.52 629.94L1098.65 627.63L1098.79 625.38L1098.92 623.19L1099.06 621.07L1099.21 619.01L1099.35 617.02L1099.5 615.11L1099.66 613.28L1099.81 611.54L1099.97 609.88L1100.13 608.31L1100.3 606.84L1100.47 605.47L1100.64 604.2L1100.82 603.04L1101 602L1101.18 601.08L1101.37 600.28L1101.55 599.63L1101.72 599.12L1101.87 598.8L1101.93 598.68L1101.78 598.8L1101.25 598.95L1100.81 598.84L1100.68 598.75L1100.76 598.86L1100.91 599.18L1101.1 599.67L1101.31 600.32L1101.51 601.11L1101.72 602.03L1101.92 603.07L1102.12 604.23L1102.32 605.49L1102.51 606.86L1102.7 608.33L1102.88 609.9L1103.06 611.55L1103.23 613.3L1103.41 615.13L1103.57 617.04L1103.74 619.02L1103.9 621.08L1104.06 623.2L1104.21 625.39L1104.36 627.64L1104.51 629.95L1104.66 632.31L1104.81 634.72L1104.95 637.17L1105.09 639.67L1105.23 642.2L1105.37 644.76L1105.5 647.36L1105.64 649.98L1105.77 652.63L1105.9 655.3L1106.03 657.98L1106.16 660.67L1106.3 663.37L1106.43 666.07L1106.56 668.77L1106.69 671.47L1106.82 674.17L1106.95 676.85L1107.08 679.51L1107.22 682.16L1107.35 684.79L1107.49 687.39L1107.63 689.96L1107.76 692.5L1107.91 695L1108.05 697.45L1108.19 699.87L1108.34 702.23L1108.49 704.55L1108.64 706.81L1108.8 709.01L1108.96 711.14L1109.12 713.21L1109.29 715.21L1109.46 717.13L1109.63 718.98L1109.81 720.75L1109.99 722.43L1110.18 724.02L1110.37 725.52L1110.56 726.93L1110.77 728.24L1110.98 729.45L1111.19 730.56L1111.42 731.57L1111.65 732.47L1111.9 733.27L1112.18 733.98L1112.5 734.61L1112.91 735.19L1113.54 735.7L1114.56 735.95L1115.58 735.62L1116.22 735L1116.62 734.32L1116.93 733.57L1117.2 732.7L1117.46 731.7L1117.69 730.58L1117.92 729.33L1118.14 727.94L1118.35 726.44L1118.55 724.82L1118.75 723.09L1118.94 721.25L1119.12 719.31L1119.3 717.27L1119.47 715.14L1119.64 712.94L1119.81 710.65L1119.97 708.3L1120.13 705.88L1120.28 703.41L1120.43 700.89L1120.58 698.32L1120.73 695.71L1120.88 693.07L1121.02 690.41L1121.16 687.72L1121.31 685.03L1121.45 682.33L1121.59 679.62L1121.73 676.93L1121.88 674.25L1122.02 671.59L1122.17 668.95L1122.31 666.35L1122.46 663.78L1122.61 661.27L1122.77 658.8L1122.93 656.39L1123.09 654.05L1123.25 651.78L1123.42 649.58L1123.59 647.48L1123.77 645.46L1123.95 643.54L1124.14 641.72L1124.33 640.02L1124.53 638.44L1124.73 636.98L1124.94 635.66L1125.15 634.48L1125.37 633.45L1125.59 632.59L1125.8 631.91L1125.99 631.44L1126.12 631.23L1126.02 631.3L1125.43 631.45L1125.26 631.4L1125.31 631.46L1125.57 631.83L1125.89 632.49L1126.23 633.42L1126.57 634.57L1126.91 635.93L1127.23 637.48L1127.55 639.19L1127.85 641.06L1128.14 643.07L1128.43 645.2L1128.7 647.45L1128.97 649.8L1129.22 652.23L1129.48 654.75L1129.72 657.32L1129.97 659.95L1130.21 662.61L1130.44 665.3L1130.68 668L1130.92 670.71L1131.16 673.4L1131.4 676.07L1131.64 678.7L1131.89 681.29L1132.14 683.81L1132.4 686.27L1132.67 688.64L1132.95 690.92L1133.23 693.08L1133.53 695.13L1133.84 697.05L1134.17 698.83L1134.51 700.46L1134.88 701.93L1135.27 703.24L1135.69 704.38L1136.17 705.37L1136.76 706.21L1137.59 706.89L1138.74 707.2L1139.89 706.94L1140.78 706.32L1141.46 705.51L1142.02 704.54L1142.51 703.43L1142.96 702.16L1143.38 700.73L1143.78 699.15L1144.16 697.42L1144.52 695.56L1144.87 693.57L1145.2 691.47L1145.52 689.26L1145.83 686.95L1146.13 684.56L1146.42 682.1L1146.71 679.58L1146.99 677.01L1147.26 674.4L1147.54 671.76L1147.81 669.1L1148.08 666.44L1148.35 663.79L1148.62 661.16L1148.9 658.55L1149.18 655.99L1149.46 653.48L1149.75 651.04L1150.05 648.67L1150.35 646.39L1150.67 644.22L1150.99 642.15L1151.33 640.22L1151.68 638.41L1152.04 636.77L1152.41 635.28L1152.8 633.98L1153.19 632.88L1153.57 632.01L1153.93 631.38L1154.22 631.03L1154.33 630.94L1154.24 630.95L1153.7 630.78L1153.67 630.77L1153.86 631.15L1154.1 631.84L1154.35 632.79L1154.6 633.96L1154.84 635.33L1155.08 636.88L1155.3 638.59L1155.52 640.46L1155.73 642.47L1155.94 644.6L1156.13 646.84L1156.32 649.19L1156.51 651.62L1156.69 654.12L1156.87 656.69L1157.04 659.31L1157.21 661.97L1157.38 664.65L1157.55 667.34L1157.72 670.04L1157.89 672.72L1158.07 675.38L1158.24 678L1158.42 680.58L1158.6 683.1L1158.79 685.54L1158.98 687.9L1159.18 690.16L1159.38 692.32L1159.6 694.36L1159.82 696.26L1160.05 698.03L1160.3 699.64L1160.55 701.09L1160.83 702.38L1161.13 703.5L1161.46 704.45L1161.88 705.28L1162.54 706.02L1163.75 706.45L1164.91 706.18L1165.8 705.53L1166.46 704.69L1167.01 703.7L1167.49 702.55L1167.94 701.24L1168.35 699.77L1168.74 698.14L1169.11 696.36L1169.46 694.45L1169.8 692.4L1170.13 690.24L1170.44 687.97L1170.74 685.6L1171.04 683.16L1171.33 680.64L1171.61 678.06L1171.88 675.43L1172.16 672.77L1172.42 670.09L1172.69 667.39L1172.96 664.7L1173.23 662.02L1173.5 659.37L1173.78 656.75L1174.06 654.18L1174.34 651.68L1174.63 649.25L1174.93 646.91L1175.24 644.67L1175.56 642.55L1175.89 640.55L1176.24 638.69L1176.59 636.99L1176.96 635.46L1177.34 634.11L1177.72 632.96L1178.11 632.05L1178.47 631.39L1178.75 631.02L1178.86 630.93L1178.75 630.95L1178.42 630.87L1178.44 630.9L1178.66 631.27L1178.96 631.94L1179.27 632.87L1179.58 634.03L1179.89 635.39L1180.18 636.93L1180.47 638.64L1180.74 640.5L1181.01 642.51L1181.26 644.63L1181.51 646.88L1181.75 649.22L1181.99 651.65L1182.21 654.15L1182.44 656.72L1182.66 659.34L1182.87 661.99L1183.09 664.67L1183.3 667.37L1183.52 670.06L1183.73 672.74L1183.95 675.4L1184.17 678.03L1184.4 680.61L1184.63 683.12L1184.86 685.57L1185.11 687.93L1185.36 690.2L1185.62 692.36L1185.89 694.4L1186.17 696.31L1186.46 698.08L1186.77 699.7L1187.1 701.16L1187.45 702.46L1187.83 703.59L1188.27 704.57L1188.8 705.41L1189.58 706.11L1190.75 706.45L1191.91 706.14L1192.73 705.45L1193.31 704.61L1193.78 703.63L1194.2 702.49L1194.58 701.19L1194.93 699.72L1195.27 698.1L1195.59 696.33L1195.9 694.42L1196.19 692.37L1196.47 690.21L1196.74 687.94L1197.01 685.58L1197.26 683.13L1197.51 680.62L1197.75 678.04L1197.99 675.41L1198.23 672.75L1198.46 670.07L1198.69 667.37L1198.93 664.68L1199.16 662L1199.4 659.35L1199.63 656.73L1199.88 654.16L1200.12 651.66L1200.38 649.23L1200.64 646.89L1200.91 644.65L1201.18 642.52L1201.47 640.52L1201.77 638.66L1202.08 636.95L1202.4 635.41L1202.73 634.05L1203.06 632.9L1203.4 631.98L1203.71 631.31L1203.96 630.95L1204.01 630.89L1203.75 630.95L1203.59 630.92L1203.67 631L1203.94 631.36L1204.28 632.02L1204.65 632.94L1205.02 634.09L1205.38 635.44L1205.73 636.97L1206.06 638.68L1206.39 640.54L1206.7 642.54L1207.01 644.66L1207.3 646.9L1207.59 649.24L1207.87 651.67L1208.14 654.18L1208.4 656.74L1208.66 659.36L1208.92 662.01L1209.18 664.69L1209.43 667.39L1209.69 670.08L1209.94 672.77L1210.2 675.43L1210.46 678.05L1210.73 680.63L1211 683.15L1211.28 685.6L1211.57 687.96L1211.87 690.23L1212.18 692.39L1212.5 694.44L1212.84 696.35L1213.19 698.13L1213.56 699.75L1213.95 701.22L1214.37 702.53L1214.83 703.68L1215.34 704.66L1215.98 705.5L1216.84 706.16L1218 706.45L1219.16 706.14L1219.99 705.46L1220.58 704.62L1221.06 703.64L1221.48 702.5L1221.87 701.2L1222.24 699.73L1222.58 698.11L1222.91 696.33L1223.22 694.42L1223.52 692.38L1223.8 690.22L1224.08 687.95L1224.35 685.58L1224.61 683.14L1224.86 680.62L1225.11 678.04L1225.35 675.42L1225.59 672.76L1225.83 670.07L1226.07 667.38L1226.31 664.68L1226.54 662L1226.78 659.35L1227.03 656.73L1227.27 654.16L1227.53 651.66L1227.78 649.23L1228.05 646.89L1228.32 644.65L1228.61 642.52L1228.9 640.52L1229.2 638.66L1229.52 636.95L1229.84 635.42L1230.18 634.06L1230.52 632.91L1230.86 631.99L1231.18 631.32L1231.43 630.96L1231.49 630.9L1231.25 630.95L1230.85 630.84L1230.86 630.87L1231.07 631.24L1231.35 631.91L1231.64 632.85L1231.94 634.01L1232.22 635.37L1232.5 636.91L1232.77 638.63L1233.03 640.49L1233.27 642.49L1233.51 644.62L1233.75 646.87L1233.97 649.21L1234.19 651.64L1234.41 654.14L1234.62 656.71L1234.82 659.33L1235.03 661.98L1235.23 664.66L1235.43 667.36L1235.63 670.05L1235.83 672.74L1236.04 675.4L1236.24 678.02L1236.45 680.6L1236.67 683.12L1236.89 685.56L1237.12 687.92L1237.35 690.19L1237.6 692.35L1237.85 694.39L1238.11 696.3L1238.39 698.07L1238.68 699.68L1238.99 701.14L1239.32 702.44L1239.67 703.57L1240.07 704.54L1240.57 705.37L1241.32 706.09L1242.5 706.45L1243.66 706.15L1244.5 705.47L1245.1 704.63L1245.59 703.65L1246.02 702.51L1246.42 701.2L1246.79 699.74L1247.14 698.11L1247.47 696.34L1247.79 694.42L1248.09 692.38L1248.39 690.22L1248.67 687.95L1248.94 685.59L1249.21 683.14L1249.46 680.62L1249.72 678.04L1249.97 675.42L1250.21 672.76L1250.45 670.07L1250.69 667.38L1250.94 664.69L1251.18 662.01L1251.42 659.35L1251.67 656.73L1251.92 654.17L1252.18 651.66L1252.44 649.24L1252.71 646.89L1252.99 644.65L1253.28 642.53L1253.58 640.53L1253.89 638.67L1254.21 636.96L1254.54 635.42L1254.88 634.07L1255.23 632.92L1255.58 632L1255.9 631.33L1256.16 630.97L1256.22 630.9L1256 630.95L1255.62 630.85L1255.63 630.88L1255.85 631.25L1256.13 631.93L1256.43 632.87L1256.73 634.04L1257.03 635.41L1257.31 636.96L1257.58 638.69L1257.85 640.56L1258.1 642.58L1258.35 644.73L1258.59 646.98L1258.82 649.34L1259.04 651.79L1259.26 654.31L1259.47 656.89L1259.68 659.53L1259.89 662.2L1260.1 664.9L1260.3 667.61L1260.51 670.32L1260.72 673.02L1260.92 675.7L1261.14 678.34L1261.35 680.94L1261.57 683.47L1261.8 685.93L1262.03 688.31L1262.27 690.59L1262.52 692.76L1262.78 694.82L1263.05 696.74L1263.33 698.52L1263.63 700.15L1263.94 701.62L1264.28 702.92L1264.64 704.06L1265.05 705.04L1265.56 705.88L1266.32 706.59L1267.5 706.95L1268.66 706.64L1269.48 705.95L1270.06 705.11L1270.53 704.13L1270.95 702.99L1271.33 701.69L1271.68 700.22L1272.02 698.6L1272.34 696.83L1272.65 694.92L1272.94 692.87L1273.22 690.71L1273.49 688.44L1273.76 686.08L1274.01 683.63L1274.26 681.12L1274.5 678.54L1274.74 675.91L1274.98 673.25L1275.21 670.57L1275.44 667.87L1275.68 665.18L1275.91 662.5L1276.15 659.85L1276.38 657.23L1276.63 654.66L1276.87 652.16L1277.13 649.73L1277.39 647.39L1277.66 645.15L1277.93 643.02L1278.22 641.02L1278.52 639.16L1278.83 637.45L1279.15 635.91L1279.48 634.55L1279.81 633.4L1280.15 632.48L1280.46 631.81L1280.71 631.45L1280.76 631.39L1280.57 631.45L1279.98 631.3L1279.88 631.23L1280.01 631.44L1280.2 631.91L1280.41 632.59L1280.63 633.45L1280.85 634.48L1281.06 635.66L1281.27 636.98L1281.47 638.44L1281.67 640.02L1281.86 641.72L1282.05 643.54L1282.23 645.46L1282.41 647.48L1282.58 649.58L1282.75 651.78L1282.91 654.05L1283.07 656.39L1283.23 658.8L1283.39 661.27L1283.54 663.78L1283.69 666.35L1283.83 668.95L1283.98 671.59L1284.12 674.25L1284.27 676.93L1284.41 679.62L1284.55 682.33L1284.69 685.03L1284.84 687.72L1284.98 690.41L1285.12 693.07L1285.27 695.71L1285.42 698.32L1285.57 700.89L1285.72 703.41L1285.87 705.88L1286.03 708.3L1286.19 710.65L1286.36 712.94L1286.53 715.14L1286.7 717.27L1286.88 719.31L1287.06 721.25L1287.25 723.09L1287.45 724.82L1287.65 726.44L1287.86 727.94L1288.08 729.33L1288.31 730.58L1288.54 731.7L1288.8 732.7L1289.07 733.57L1289.38 734.32L1289.78 735L1290.42 735.62L1291.44 735.95L1292.45 735.71L1293.09 735.2L1293.51 734.62L1293.84 733.99L1294.12 733.28L1294.37 732.48L1294.61 731.57L1294.84 730.57L1295.06 729.46L1295.27 728.25L1295.48 726.94L1295.68 725.53L1295.88 724.03L1296.07 722.43L1296.25 720.75L1296.43 718.98L1296.61 717.14L1296.78 715.21L1296.95 713.21L1297.12 711.14L1297.28 709.01L1297.44 706.81L1297.59 704.55L1297.75 702.24L1297.9 699.87L1298.05 697.46L1298.19 695L1298.33 692.5L1298.48 689.96L1298.62 687.39L1298.75 684.79L1298.89 682.16L1299.03 679.52L1299.16 676.85L1299.3 674.17L1299.43 671.47L1299.56 668.77L1299.7 666.07L1299.83 663.37L1299.96 660.67L1300.1 657.98L1300.23 655.3L1300.37 652.63L1300.5 649.99L1300.64 647.36L1300.78 644.77L1300.92 642.2L1301.06 639.67L1301.2 637.17L1301.35 634.72L1301.5 632.31L1301.65 629.95L1301.8 627.65L1301.95 625.4L1302.11 623.21L1302.27 621.08L1302.44 619.02L1302.61 617.04L1302.78 615.13L1302.95 613.3L1303.13 611.56L1303.31 609.9L1303.5 608.33L1303.69 606.86L1303.89 605.49L1304.09 604.23L1304.29 603.07L1304.5 602.04L1304.7 601.12L1304.91 600.33L1305.12 599.68L1305.31 599.19L1305.47 598.87L1305.55 598.76L1305.42 598.85L1305 598.95L1304.43 598.79L1304.28 598.66L1304.34 598.77L1304.48 599.1L1304.65 599.61L1304.82 600.27L1305 601.06L1305.17 601.99L1305.35 603.03L1305.52 604.19L1305.68 605.46L1305.85 606.83L1306.01 608.3L1306.16 609.87L1306.32 611.53L1306.46 613.28L1306.61 615.11L1306.75 617.02L1306.89 619.01L1307.03 621.06L1307.16 623.19L1307.3 625.38L1307.43 627.63L1307.55 629.94L1307.68 632.3L1307.8 634.7L1307.92 637.16L1308.04 639.65L1308.16 642.19L1308.28 644.75L1308.39 647.35L1308.5 649.97L1308.62 652.62L1308.73 655.29L1308.84 657.97L1308.95 660.66L1309.07 663.36L1309.18 666.06L1309.29 668.76L1309.4 671.46L1309.51 674.16L1309.62 676.84L1309.73 679.5L1309.85 682.15L1309.96 684.78L1310.08 687.38L1310.19 689.95L1310.31 692.48L1310.43 694.98L1310.55 697.44L1310.68 699.86L1310.8 702.22L1310.93 704.53L1311.06 706.79L1311.19 708.99L1311.33 711.12L1311.46 713.19L1311.6 715.19L1311.75 717.11L1311.9 718.96L1312.05 720.72L1312.2 722.4L1312.36 724L1312.52 725.5L1312.69 726.9L1312.86 728.21L1313.04 729.41L1313.22 730.52L1313.41 731.52L1313.61 732.41L1313.82 733.21L1314.05 733.91L1314.31 734.53L1314.66 735.1L1315.24 735.65L1316.25 735.95L1317.21 735.7L1317.84 735.19L1318.25 734.61L1318.57 733.98L1318.85 733.27L1319.1 732.47L1319.33 731.57L1319.56 730.56L1319.77 729.45L1319.98 728.24L1320.19 726.93L1320.38 725.52L1320.57 724.02L1320.76 722.43L1320.94 720.75L1321.12 718.98L1321.29 717.13L1321.46 715.21L1321.63 713.21L1321.79 711.14L1321.95 709.01L1322.11 706.81L1322.26 704.55L1322.41 702.23L1322.56 699.87L1322.7 697.45L1322.84 695L1322.99 692.5L1323.12 689.96L1323.26 687.39L1323.4 684.79L1323.53 682.16L1323.67 679.51L1323.8 676.85L1323.93 674.17L1324.06 671.47L1324.19 668.77L1324.32 666.07L1324.45 663.37L1324.59 660.67L1324.72 657.98L1324.85 655.3L1324.98 652.63L1325.11 649.98L1325.25 647.36L1325.38 644.76L1325.52 642.2L1325.66 639.67L1325.8 637.17L1325.94 634.72L1326.09 632.31L1326.24 629.95L1326.39 627.64L1326.54 625.39L1326.69 623.2L1326.85 621.08L1327.01 619.02L1327.18 617.04L1327.34 615.13L1327.52 613.3L1327.69 611.55L1327.87 609.9L1328.05 608.33L1328.24 606.86L1328.43 605.49L1328.63 604.23L1328.83 603.07L1329.03 602.03L1329.24 601.11L1329.44 600.32L1329.65 599.67L1329.84 599.18L1329.99 598.86L1330.07 598.75L1329.94 598.84L1329.5 598.95L1328.82 598.73L1328.66 598.58L1328.73 598.7L1328.85 599.04L1329 599.56L1329.15 600.22L1329.3 601.03L1329.46 601.95L1329.61 603L1329.75 604.16L1329.9 605.44L1330.04 606.81L1330.18 608.28L1330.31 609.85L1330.45 611.51L1330.58 613.26L1330.7 615.09L1330.83 617.01L1330.95 618.99L1331.07 621.05L1331.18 623.18L1331.3 625.37L1331.41 627.62L1331.52 629.93L1331.63 632.29L1331.73 634.69L1331.84 637.15L1331.94 639.64L1332.04 642.18L1332.14 644.74L1332.24 647.34L1332.34 649.97L1332.44 652.61L1332.54 655.28L1332.64 657.96L1332.73 660.65L1332.83 663.35L1332.93 666.05L1333.02 668.75L1333.12 671.45L1333.22 674.15L1333.31 676.83L1333.41 679.5L1333.51 682.14L1333.61 684.77L1333.71 687.37L1333.81 689.94L1333.91 692.47L1334.01 694.97L1334.12 697.43L1334.23 699.85L1334.33 702.21L1334.44 704.52L1334.56 706.78L1334.67 708.98L1334.79 711.11L1334.91 713.18L1335.03 715.18L1335.15 717.1L1335.28 718.94L1335.41 720.71L1335.55 722.39L1335.68 723.98L1335.82 725.47L1335.97 726.88L1336.12 728.18L1336.27 729.39L1336.43 730.49L1336.59 731.48L1336.76 732.37L1336.94 733.16L1337.14 733.85L1337.36 734.45L1337.67 735.02L1338.19 735.59L1339.25 735.95L1340.24 735.66L1340.84 735.12L1341.2 734.55L1341.48 733.93L1341.72 733.22L1341.94 732.43L1342.15 731.53L1342.35 730.53L1342.54 729.42L1342.73 728.22L1342.91 726.91L1343.08 725.5L1343.25 724L1343.41 722.41L1343.58 720.73L1343.73 718.97L1343.89 717.12L1344.04 715.2L1344.18 713.2L1344.33 711.13L1344.47 708.99L1344.61 706.8L1344.74 704.54L1344.88 702.22L1345.01 699.86L1345.14 697.44L1345.26 694.99L1345.39 692.49L1345.51 689.95L1345.63 687.38L1345.75 684.78L1345.87 682.15L1345.99 679.51L1346.11 676.84L1346.23 674.16L1346.34 671.47L1346.46 668.77L1346.57 666.06L1346.69 663.36L1346.81 660.66L1346.92 657.97L1347.04 655.29L1347.16 652.62L1347.28 649.98L1347.39 647.35L1347.51 644.76L1347.64 642.19L1347.76 639.66L1347.88 637.16L1348.01 634.71L1348.14 632.3L1348.27 629.94L1348.4 627.63L1348.54 625.38L1348.67 623.19L1348.81 621.07L1348.96 619.01L1349.1 617.02L1349.25 615.11L1349.41 613.28L1349.56 611.54L1349.72 609.88L1349.88 608.31L1350.05 606.84L1350.22 605.47L1350.39 604.2L1350.57 603.04L1350.75 602L1350.93 601.08L1351.12 600.28L1351.3 599.63L1351.47 599.12L1351.62 598.8L1351.68 598.68L1351.53 598.8L1351 598.95L1350.45 598.8L1350.3 598.67L1350.36 598.78L1350.51 599.11L1350.67 599.62L1350.85 600.27L1351.03 601.07L1351.21 601.99L1351.39 603.04L1351.56 604.2L1351.73 605.46L1351.9 606.83L1352.06 608.31L1352.22 609.87L1352.38 611.53L1352.53 613.28L1352.68 615.11L1352.82 617.02L1352.97 619.01L1353.11 621.07L1353.24 623.19L1353.38 625.38L1353.51 627.63L1353.64 629.94L1353.77 632.3L1353.89 634.71L1354.02 637.16L1354.14 639.65L1354.26 642.19L1354.38 644.75L1354.5 647.35L1354.61 649.98L1354.73 652.62L1354.85 655.29L1354.96 657.97L1355.07 660.66L1355.19 663.36L1355.3 666.06L1355.41 668.76L1355.53 671.46L1355.64 674.16L1355.76 676.84L1355.87 679.5L1355.99 682.15L1356.1 684.78L1356.22 687.38L1356.34 689.95L1356.46 692.49L1356.59 694.98L1356.71 697.44L1356.83 699.86L1356.96 702.22L1357.09 704.54L1357.23 706.79L1357.36 708.99L1357.5 711.13L1357.64 713.19L1357.78 715.19L1357.93 717.12L1358.08 718.96L1358.23 720.73L1358.39 722.41L1358.55 724L1358.72 725.5L1358.89 726.9L1359.07 728.21L1359.25 729.42L1359.44 730.52L1359.63 731.52L1359.83 732.42L1360.05 733.22L1360.28 733.92L1360.55 734.54L1360.91 735.11L1361.5 735.65L1362.5 735.95L1363.59 735.56L1364.08 734.98L1364.36 734.42L1364.56 733.81L1364.74 733.13L1364.91 732.35L1365.07 731.46L1365.22 730.47L1365.36 729.37L1365.5 728.17L1365.64 726.86L1365.77 725.46L1365.9 723.97L1366.03 722.38L1366.15 720.7L1366.27 718.94L1366.39 717.09L1366.51 715.17L1366.62 713.17L1366.73 711.11L1366.84 708.97L1366.94 706.77L1367.05 704.52L1367.15 702.21L1367.25 699.84L1367.35 697.43L1367.44 694.97L1367.54 692.47L1367.63 689.93L1367.73 687.36L1367.82 684.76L1367.91 682.14L1368 679.49L1368.09 676.82L1368.18 674.14L1368.27 671.45L1368.36 668.75L1368.45 666.05L1368.54 663.34L1368.63 660.64L1368.72 657.95L1368.81 655.27L1368.9 652.61L1368.99 649.96L1369.08 647.34L1369.17 644.74L1369.26 642.17L1369.36 639.64L1369.45 637.14L1369.55 634.69L1369.65 632.28L1369.75 629.92L1369.85 627.61L1369.95 625.36L1370.06 623.17L1370.17 621.04L1370.28 618.99L1370.39 617L1370.5 615.09L1370.62 613.25L1370.74 611.51L1370.86 609.84L1370.99 608.27L1371.11 606.8L1371.24 605.42L1371.38 604.15L1371.51 602.99L1371.65 601.94L1371.8 601.01L1371.94 600.2L1372.08 599.53L1372.22 599.01L1372.33 598.66L1372.39 598.53L1372.24 598.7L1371.5 598.95L1371.05 598.84L1370.91 598.74L1370.99 598.85L1371.14 599.17L1371.33 599.67L1371.53 600.32L1371.73 601.11L1371.93 602.03L1372.13 603.07L1372.33 604.22L1372.52 605.49L1372.71 606.86L1372.89 608.33L1373.07 609.89L1373.25 611.55L1373.42 613.3L1373.59 615.13L1373.75 617.04L1373.91 619.02L1374.07 621.08L1374.23 623.2L1374.38 625.39L1374.53 627.64L1374.68 629.95L1374.82 632.31L1374.96 634.72L1375.1 637.17L1375.24 639.66L1375.38 642.2L1375.51 644.76L1375.64 647.36L1375.78 649.98L1375.91 652.63L1376.04 655.29L1376.17 657.97L1376.29 660.67L1376.42 663.37L1376.55 666.07L1376.68 668.77L1376.81 671.47L1376.94 674.16L1377.07 676.85L1377.2 679.51L1377.33 682.16L1377.46 684.79L1377.59 687.39L1377.73 689.96L1377.86 692.49L1378 694.99L1378.14 697.45L1378.29 699.87L1378.43 702.23L1378.58 704.55L1378.73 706.8L1378.88 709L1379.04 711.14L1379.2 713.21L1379.36 715.21L1379.52 717.13L1379.69 718.98L1379.87 720.74L1380.05 722.43L1380.23 724.02L1380.42 725.52L1380.61 726.93L1380.81 728.24L1381.02 729.45L1381.23 730.56L1381.45 731.56L1381.68 732.46L1381.92 733.26L1382.19 733.97L1382.51 734.6L1382.91 735.18L1383.54 735.69L1384.5 735.95L1385.5 735.65L1386.09 735.11L1386.45 734.54L1386.72 733.92L1386.95 733.22L1387.17 732.42L1387.37 731.52L1387.56 730.52L1387.75 729.42L1387.93 728.21L1388.11 726.9L1388.28 725.5L1388.45 724L1388.61 722.41L1388.77 720.73L1388.92 718.96L1389.07 717.12L1389.22 715.19L1389.36 713.19L1389.5 711.13L1389.64 708.99L1389.77 706.79L1389.91 704.54L1390.04 702.22L1390.17 699.86L1390.29 697.44L1390.41 694.98L1390.54 692.49L1390.66 689.95L1390.78 687.38L1390.9 684.78L1391.01 682.15L1391.13 679.5L1391.24 676.84L1391.36 674.16L1391.47 671.46L1391.59 668.76L1391.7 666.06L1391.81 663.36L1391.93 660.66L1392.04 657.97L1392.15 655.29L1392.27 652.62L1392.39 649.98L1392.5 647.35L1392.62 644.75L1392.74 642.19L1392.86 639.65L1392.98 637.16L1393.11 634.71L1393.23 632.3L1393.36 629.94L1393.49 627.63L1393.62 625.38L1393.76 623.19L1393.89 621.07L1394.03 619.01L1394.18 617.02L1394.32 615.11L1394.47 613.28L1394.62 611.53L1394.78 609.87L1394.94 608.31L1395.1 606.83L1395.27 605.46L1395.44 604.2L1395.61 603.04L1395.79 601.99L1395.97 601.07L1396.15 600.27L1396.33 599.62L1396.49 599.11L1396.64 598.78L1396.7 598.67L1396.55 598.8L1396 598.95L1395.55 598.84L1395.41 598.74L1395.49 598.85L1395.64 599.17L1395.83 599.67L1396.03 600.32L1396.23 601.11L1396.43 602.03L1396.63 603.07L1396.83 604.22L1397.02 605.49L1397.21 606.86L1397.39 608.33L1397.57 609.89L1397.75 611.55L1397.92 613.3L1398.09 615.13L1398.25 617.04L1398.42 619.02L1398.58 621.08L1398.73 623.2L1398.89 625.39L1399.04 627.64L1399.19 629.95L1399.33 632.31L1399.48 634.71L1399.62 637.17L1399.76 639.66L1399.9 642.2L1400.03 644.76L1400.17 647.36L1400.3 649.98L1400.43 652.63L1400.56 655.29L1400.7 657.97L1400.83 660.66L1400.96 663.36L1401.09 666.07L1401.22 668.77L1401.35 671.47L1401.48 674.16L1401.61 676.84L1401.74 679.51L1401.87 682.16L1402 684.78L1402.14 687.38L1402.28 689.95L1402.41 692.49L1402.55 694.99L1402.7 697.45L1402.84 699.86L1402.99 702.23L1403.13 704.54L1403.29 706.8L1403.44 709L1403.6 711.13L1403.76 713.2L1403.92 715.2L1404.09 717.13L1404.26 718.97L1404.44 720.74L1404.62 722.42L1404.81 724.01L1405 725.51L1405.19 726.92L1405.39 728.22L1405.6 729.43L1405.81 730.54L1406.04 731.54L1406.27 732.44L1406.51 733.23L1406.78 733.93L1407.09 734.55L1407.49 735.11L1408.09 735.6L1409 735.84L1409.95 735.55L1410.5 735.02L1410.83 734.46L1411.08 733.86L1411.3 733.17L1411.5 732.38L1411.69 731.49L1411.87 730.49L1412.05 729.39L1412.22 728.19L1412.38 726.88L1412.55 725.48L1412.7 723.98L1412.86 722.39L1413 720.71L1413.15 718.95L1413.29 717.1L1413.43 715.18L1413.57 713.18L1413.7 711.11L1413.83 708.98L1413.96 706.78L1414.08 704.52L1414.21 702.21L1414.33 699.85L1414.45 697.43L1414.56 694.97L1414.68 692.47L1414.79 689.94L1414.91 687.37L1415.02 684.77L1415.13 682.14L1415.24 679.5L1415.35 676.83L1415.46 674.15L1415.56 671.45L1415.67 668.75L1415.78 666.05L1415.89 663.35L1415.99 660.65L1416.1 657.96L1416.21 655.28L1416.32 652.61L1416.43 649.96L1416.54 647.34L1416.65 644.74L1416.76 642.18L1416.88 639.64L1416.99 637.15L1417.11 634.69L1417.23 632.28L1417.35 629.92L1417.47 627.62L1417.6 625.37L1417.72 623.18L1417.85 621.05L1417.99 618.99L1418.12 617L1418.26 615.09L1418.4 613.26L1418.54 611.51L1418.69 609.85L1418.84 608.28L1419 606.8L1419.16 605.43L1419.32 604.16L1419.48 602.99L1419.65 601.95L1419.82 601.01L1419.99 600.21L1420.16 599.54L1420.33 599.02L1420.47 598.66L1420.56 598.51L1420.46 598.59L1420 598.72L1419.69 598.64L1419.63 598.6L1419.73 598.75L1419.91 599.09L1420.11 599.59L1420.33 600.25L1420.54 601.04L1420.75 601.96L1420.96 603L1421.17 604.15L1421.37 605.41L1421.57 606.78L1421.76 608.24L1421.95 609.8L1422.14 611.45L1422.32 613.19L1422.5 615.01L1422.67 616.91L1422.84 618.89L1423.01 620.93L1423.17 623.05L1423.33 625.22L1423.49 627.46L1423.64 629.76L1423.79 632.1L1423.94 634.5L1424.09 636.94L1424.23 639.42L1424.38 641.94L1424.52 644.49L1424.66 647.07L1424.8 649.68L1424.93 652.32L1425.07 654.97L1425.21 657.63L1425.34 660.31L1425.48 662.99L1425.61 665.68L1425.75 668.37L1425.88 671.05L1426.02 673.73L1426.15 676.4L1426.29 679.05L1426.43 681.68L1426.57 684.3L1426.71 686.88L1426.85 689.44L1426.99 691.96L1427.14 694.45L1427.28 696.89L1427.43 699.29L1427.58 701.64L1427.74 703.94L1427.9 706.19L1428.06 708.37L1428.22 710.5L1428.39 712.55L1428.56 714.54L1428.73 716.45L1428.91 718.29L1429.09 720.04L1429.28 721.71L1429.47 723.29L1429.67 724.78L1429.87 726.18L1430.08 727.47L1430.29 728.67L1430.52 729.77L1430.74 730.75L1430.98 731.64L1431.24 732.42L1431.51 733.1L1431.81 733.68L1432.19 734.2L1432.73 734.62L1433.5 734.81L1434.26 734.63L1434.83 734.22L1435.25 733.71L1435.6 733.1L1435.9 732.41L1436.18 731.61L1436.45 730.7L1436.71 729.69L1436.96 728.57L1437.2 727.34L1437.43 726.02L1437.65 724.59L1437.87 723.07L1438.09 721.46L1438.3 719.75L1438.5 717.96L1438.7 716.09L1438.89 714.14L1439.08 712.12L1439.27 710.03L1439.45 707.87L1439.63 705.64L1439.8 703.36L1439.98 701.02L1440.15 698.63L1440.31 696.19L1440.48 693.7L1440.64 691.18L1440.8 688.62L1440.95 686.03L1441.11 683.4L1441.27 680.76L1441.42 678.09L1441.57 675.41L1441.72 672.71L1441.87 670L1442.03 667.29L1442.18 664.57L1442.33 661.86L1442.48 659.15L1442.63 656.46L1442.78 653.77L1442.94 651.11L1443.09 648.46L1443.25 645.84L1443.4 643.25L1443.56 640.7L1443.72 638.18L1443.89 635.7L1444.05 633.26L1444.22 630.88L1444.39 628.54L1444.57 626.26L1444.75 624.05L1444.93 621.89L1445.11 619.81L1445.3 617.8L1445.5 615.86L1445.69 614L1445.89 612.23L1446.1 610.54L1446.31 608.95L1446.53 607.45L1446.75 606.06L1446.98 604.77L1447.21 603.58L1447.44 602.52L1447.68 601.57L1447.92 600.75L1448.17 600.06L1448.4 599.52L1448.62 599.14L1448.78 598.93L1448.84 598.88L1448.71 598.89L1448.45 598.8L1448.49 598.85L1448.65 599.17L1448.84 599.71L1449.04 600.45L1449.24 601.36L1449.44 602.43L1449.63 603.66L1449.82 605.02L1450 606.52L1450.18 608.14L1450.35 609.88L1450.51 611.73L1450.67 613.69L1450.83 615.75L1450.98 617.9L1451.13 620.13L1451.28 622.44L1451.42 624.82L1451.56 627.26L1451.69 629.76L1451.83 632.31L1451.96 634.91L1452.09 637.54L1452.22 640.2L1452.35 642.89L1452.47 645.59L1452.6 648.31L1452.73 651.02L1452.85 653.74L1452.98 656.44L1453.11 659.13L1453.24 661.79L1453.37 664.42L1453.5 667.02L1453.63 669.58L1453.77 672.08L1453.91 674.53L1454.05 676.91L1454.2 679.23L1454.35 681.47L1454.5 683.62L1454.66 685.69L1454.82 687.66L1454.99 689.52L1455.16 691.28L1455.34 692.92L1455.52 694.44L1455.71 695.83L1455.91 697.09L1456.11 698.21L1456.33 699.19L1456.56 700.03L1456.81 700.73L1457.1 701.3L1457.52 701.78L1458.29 702.03L1459.13 701.82L1459.85 701.28L1460.43 700.52L1460.94 699.58L1461.41 698.45L1461.84 697.14L1462.25 695.65L1462.63 694L1463 692.19L1463.35 690.24L1463.69 688.16L1464.01 685.96L1464.33 683.66L1464.63 681.26L1464.92 678.79L1465.21 676.25L1465.49 673.66L1465.77 671.03L1466.05 668.37L1466.32 665.7L1466.59 663.03L1466.87 660.37L1467.15 657.74L1467.43 655.16L1467.71 652.62L1468.01 650.16L1468.31 647.77L1468.62 645.49L1468.94 643.3L1469.28 641.25L1469.62 639.32L1469.98 637.55L1470.36 635.94L1470.75 634.52L1471.15 633.28L1471.57 632.27L1471.99 631.48L1472.39 630.96L1472.73 630.69L1473 630.61L1473.15 630.66L1473.43 630.91L1473.78 631.43L1474.15 632.22L1474.51 633.25L1474.86 634.49L1475.2 635.93L1475.53 637.54L1475.84 639.32L1476.14 641.25L1476.43 643.32L1476.71 645.51L1476.98 647.81L1477.24 650.2L1477.5 652.68L1477.75 655.22L1477.99 657.82L1478.23 660.45L1478.47 663.12L1478.71 665.8L1478.95 668.48L1479.18 671.14L1479.42 673.78L1479.67 676.38L1479.92 678.93L1480.17 681.41L1480.44 683.81L1480.71 686.12L1480.99 688.32L1481.28 690.4L1481.58 692.35L1481.9 694.16L1482.23 695.8L1482.58 697.28L1482.95 698.58L1483.34 699.68L1483.77 700.59L1484.24 701.29L1484.8 701.78L1485.5 701.97L1486.19 701.77L1486.75 701.28L1487.21 700.57L1487.62 699.67L1488 698.56L1488.36 697.27L1488.71 695.79L1489.03 694.14L1489.34 692.34L1489.64 690.39L1489.92 688.31L1490.2 686.11L1490.46 683.8L1490.72 681.4L1490.97 678.92L1491.21 676.37L1491.45 673.77L1491.69 671.13L1491.92 668.46L1492.15 665.79L1492.38 663.11L1492.62 660.44L1492.85 657.8L1493.09 655.2L1493.33 652.66L1493.58 650.19L1493.84 647.79L1494.1 645.49L1494.37 643.3L1494.66 641.23L1494.95 639.29L1495.26 637.5L1495.58 635.88L1495.91 634.43L1496.26 633.18L1496.63 632.13L1497 631.31L1497.37 630.74L1497.71 630.42L1497.99 630.33L1498.36 630.44L1498.79 630.86L1499.24 631.62L1499.67 632.67L1500.09 634L1500.48 635.57L1500.86 637.36L1501.21 639.35L1501.55 641.51L1501.87 643.82L1502.18 646.25L1502.48 648.79L1502.78 651.41L1503.06 654.08L1503.35 656.79L1503.63 659.51L1503.91 662.22L1504.2 664.9L1504.49 667.52L1504.79 670.06L1505.1 672.5L1505.42 674.81L1505.76 676.98L1506.12 678.99L1506.5 680.8L1506.9 682.39L1507.33 683.76L1507.79 684.87L1508.29 685.7L1508.85 686.25L1509.44 686.44L1509.56 686.06L1509.07 685.9L1508.63 685.45L1508.18 684.68L1507.75 683.61L1507.34 682.27L1506.95 680.69L1506.58 678.9L1506.24 676.91L1505.91 674.74L1505.59 672.43L1505.29 670L1504.99 667.46L1504.71 664.84L1504.43 662.17L1504.15 659.46L1503.88 656.74L1503.6 654.03L1503.32 651.35L1503.03 648.73L1502.74 646.19L1502.44 643.75L1502.12 641.43L1501.79 639.26L1501.44 637.25L1501.07 635.44L1500.67 633.84L1500.25 632.46L1499.8 631.34L1499.3 630.48L1498.71 629.9L1498.01 629.67L1497.37 629.84L1496.85 630.3L1496.39 630.98L1495.97 631.87L1495.59 632.97L1495.22 634.25L1494.87 635.73L1494.54 637.37L1494.22 639.17L1493.92 641.12L1493.63 643.2L1493.35 645.4L1493.08 647.71L1492.82 650.1L1492.56 652.58L1492.31 655.13L1492.07 657.73L1491.83 660.37L1491.59 663.04L1491.35 665.71L1491.11 668.39L1490.87 671.06L1490.63 673.7L1490.39 676.29L1490.14 678.84L1489.89 681.31L1489.62 683.71L1489.35 686.01L1489.07 688.2L1488.78 690.27L1488.48 692.2L1488.17 693.98L1487.84 695.6L1487.5 697.05L1487.15 698.29L1486.78 699.33L1486.4 700.13L1486.04 700.68L1485.72 700.96L1485.5 701.03L1485.28 700.95L1484.98 700.67L1484.62 700.12L1484.26 699.32L1483.9 698.28L1483.55 697.03L1483.22 695.59L1482.9 693.97L1482.59 692.19L1482.3 690.25L1482.02 688.18L1481.74 685.99L1481.48 683.69L1481.22 681.3L1480.97 678.82L1480.73 676.28L1480.49 673.68L1480.26 671.05L1480.02 668.38L1479.79 665.7L1479.56 663.02L1479.33 660.36L1479.09 657.72L1478.85 655.12L1478.61 652.57L1478.36 650.09L1478.1 647.68L1477.84 645.38L1477.56 643.17L1477.28 641.09L1476.98 639.14L1476.67 637.33L1476.34 635.68L1476 634.2L1475.64 632.9L1475.25 631.78L1474.83 630.86L1474.36 630.13L1473.76 629.6L1473 629.39L1472.19 629.57L1471.5 630.08L1470.93 630.8L1470.42 631.72L1469.95 632.84L1469.51 634.14L1469.09 635.62L1468.7 637.27L1468.33 639.07L1467.97 641.02L1467.62 643.1L1467.29 645.29L1466.97 647.6L1466.66 649.99L1466.36 652.46L1466.06 655L1465.78 657.6L1465.49 660.23L1465.21 662.88L1464.93 665.55L1464.65 668.22L1464.37 670.88L1464.09 673.5L1463.8 676.09L1463.5 678.62L1463.2 681.09L1462.89 683.47L1462.58 685.76L1462.25 687.94L1461.91 689.99L1461.55 691.91L1461.18 693.68L1460.8 695.28L1460.4 696.7L1459.99 697.93L1459.57 698.93L1459.15 699.69L1458.76 700.19L1458.45 700.42L1458.21 700.47L1458.48 700.53L1458.43 700.46L1458.27 700.12L1458.07 699.56L1457.88 698.82L1457.68 697.9L1457.49 696.83L1457.3 695.6L1457.12 694.24L1456.94 692.74L1456.77 691.12L1456.6 689.37L1456.44 687.52L1456.28 685.56L1456.13 683.5L1455.98 681.36L1455.83 679.12L1455.69 676.81L1455.55 674.43L1455.42 671.99L1455.28 669.49L1455.15 666.94L1455.02 664.34L1454.9 661.71L1454.77 659.05L1454.65 656.36L1454.52 653.66L1454.4 650.94L1454.27 648.23L1454.15 645.51L1454.03 642.81L1453.9 640.12L1453.77 637.46L1453.65 634.82L1453.52 632.23L1453.39 629.67L1453.25 627.17L1453.12 624.72L1452.98 622.33L1452.84 620.02L1452.69 617.78L1452.54 615.63L1452.39 613.56L1452.23 611.59L1452.07 609.72L1451.9 607.96L1451.72 606.32L1451.54 604.8L1451.36 603.41L1451.16 602.14L1450.96 601.02L1450.75 600.04L1450.52 599.2L1450.28 598.49L1449.98 597.9L1449.54 597.39L1448.79 597.11L1448.06 597.27L1447.53 597.64L1447.12 598.13L1446.78 598.71L1446.48 599.4L1446.19 600.19L1445.92 601.08L1445.66 602.09L1445.41 603.21L1445.17 604.43L1444.93 605.75L1444.7 607.17L1444.47 608.69L1444.25 610.31L1444.04 612.01L1443.83 613.79L1443.63 615.66L1443.43 617.61L1443.24 619.64L1443.05 621.73L1442.86 623.89L1442.68 626.11L1442.5 628.4L1442.32 630.74L1442.15 633.13L1441.98 635.57L1441.81 638.05L1441.65 640.57L1441.48 643.13L1441.32 645.73L1441.16 648.35L1441 650.99L1440.85 653.66L1440.69 656.34L1440.54 659.04L1440.38 661.75L1440.23 664.46L1440.07 667.18L1439.92 669.89L1439.76 672.6L1439.61 675.29L1439.45 677.98L1439.3 680.64L1439.14 683.29L1438.98 685.91L1438.82 688.5L1438.65 691.05L1438.49 693.57L1438.32 696.05L1438.15 698.49L1437.98 700.87L1437.8 703.2L1437.62 705.48L1437.44 707.7L1437.26 709.85L1437.07 711.93L1436.87 713.95L1436.68 715.88L1436.47 717.74L1436.27 719.51L1436.06 721.19L1435.84 722.79L1435.62 724.28L1435.39 725.68L1435.16 726.96L1434.93 728.14L1434.69 729.2L1434.44 730.15L1434.2 730.96L1433.95 731.64L1433.72 732.16L1433.51 732.53L1433.36 732.71L1433.34 732.72L1433.5 732.69L1433.74 732.74L1433.77 732.75L1433.65 732.57L1433.47 732.22L1433.27 731.7L1433.06 731.03L1432.85 730.24L1432.64 729.31L1432.43 728.27L1432.23 727.11L1432.03 725.85L1431.84 724.48L1431.65 723.02L1431.46 721.46L1431.28 719.81L1431.11 718.07L1430.93 716.25L1430.76 714.35L1430.6 712.37L1430.44 710.32L1430.28 708.21L1430.12 706.03L1429.97 703.79L1429.82 701.5L1429.67 699.15L1429.52 696.75L1429.38 694.31L1429.24 691.83L1429.1 689.31L1428.96 686.76L1428.82 684.18L1428.69 681.57L1428.55 678.94L1428.42 676.28L1428.28 673.62L1428.15 670.94L1428.02 668.26L1427.89 665.57L1427.76 662.88L1427.63 660.19L1427.49 657.52L1427.36 654.85L1427.23 652.2L1427.09 649.56L1426.96 646.95L1426.82 644.37L1426.68 641.81L1426.54 639.29L1426.4 636.8L1426.26 634.36L1426.11 631.96L1425.96 629.6L1425.81 627.3L1425.66 625.06L1425.5 622.87L1425.34 620.75L1425.18 618.69L1425.01 616.71L1424.84 614.79L1424.66 612.96L1424.48 611.2L1424.3 609.53L1424.11 607.95L1423.92 606.46L1423.72 605.06L1423.52 603.76L1423.31 602.56L1423.09 601.46L1422.87 600.47L1422.63 599.58L1422.38 598.79L1422.11 598.1L1421.8 597.49L1421.41 596.96L1420.84 596.5L1420 596.28L1419.11 596.55L1418.6 597.05L1418.27 597.58L1418.02 598.18L1417.8 598.86L1417.6 599.64L1417.4 600.53L1417.22 601.52L1417.04 602.62L1416.86 603.83L1416.69 605.13L1416.53 606.53L1416.37 608.03L1416.21 609.62L1416.06 611.3L1415.91 613.06L1415.76 614.9L1415.62 616.83L1415.48 618.82L1415.35 620.89L1415.21 623.02L1415.08 625.22L1414.95 627.48L1414.83 629.79L1414.7 632.16L1414.58 634.57L1414.46 637.03L1414.35 639.53L1414.23 642.06L1414.11 644.63L1414 647.23L1413.89 649.86L1413.77 652.51L1413.66 655.17L1413.55 657.85L1413.44 660.55L1413.33 663.25L1413.22 665.95L1413.11 668.65L1413 671.35L1412.89 674.04L1412.78 676.72L1412.67 679.39L1412.56 682.03L1412.44 684.66L1412.33 687.26L1412.22 689.82L1412.1 692.36L1411.98 694.85L1411.86 697.31L1411.74 699.71L1411.62 702.07L1411.49 704.38L1411.36 706.63L1411.23 708.82L1411.1 710.95L1410.96 713.01L1410.83 714.99L1410.68 716.9L1410.54 718.74L1410.39 720.48L1410.24 722.14L1410.09 723.71L1409.93 725.19L1409.77 726.56L1409.6 727.83L1409.43 728.99L1409.26 730.04L1409.09 730.97L1408.91 731.77L1408.74 732.43L1408.57 732.95L1408.43 733.29L1408.35 733.42L1408.48 733.31L1409 733.16L1409.4 733.26L1409.51 733.33L1409.43 733.2L1409.27 732.87L1409.08 732.36L1408.88 731.71L1408.68 730.91L1408.48 729.99L1408.29 728.95L1408.09 727.79L1407.9 726.53L1407.72 725.15L1407.53 723.68L1407.36 722.11L1407.18 720.46L1407.01 718.71L1406.85 716.88L1406.68 714.97L1406.52 712.98L1406.37 710.93L1406.21 708.8L1406.06 706.61L1405.91 704.36L1405.77 702.06L1405.63 699.7L1405.49 697.29L1405.35 694.83L1405.21 692.34L1405.08 689.81L1404.94 687.24L1404.81 684.64L1404.68 682.02L1404.55 679.37L1404.42 676.71L1404.3 674.03L1404.17 671.34L1404.04 668.64L1403.91 665.93L1403.79 663.23L1403.66 660.53L1403.53 657.84L1403.41 655.16L1403.28 652.49L1403.15 649.84L1403.02 647.21L1402.88 644.61L1402.75 642.04L1402.62 639.51L1402.48 637.01L1402.34 634.55L1402.2 632.13L1402.06 629.77L1401.91 627.45L1401.76 625.2L1401.61 623L1401.46 620.86L1401.3 618.79L1401.14 616.79L1400.98 614.87L1400.81 613.02L1400.63 611.26L1400.45 609.57L1400.27 607.98L1400.08 606.48L1399.89 605.07L1399.69 603.76L1399.48 602.55L1399.27 601.44L1399.05 600.44L1398.82 599.54L1398.58 598.74L1398.31 598.03L1397.99 597.4L1397.59 596.82L1396.96 596.31L1396 596.05L1395 596.35L1394.41 596.89L1394.05 597.46L1393.78 598.08L1393.55 598.78L1393.33 599.58L1393.13 600.48L1392.94 601.48L1392.75 602.58L1392.57 603.79L1392.39 605.1L1392.22 606.5L1392.05 608L1391.89 609.59L1391.73 611.27L1391.58 613.04L1391.43 614.88L1391.28 616.81L1391.14 618.81L1391 620.87L1390.86 623.01L1390.73 625.21L1390.59 627.46L1390.46 629.78L1390.33 632.14L1390.21 634.56L1390.09 637.02L1389.96 639.51L1389.84 642.05L1389.72 644.62L1389.6 647.22L1389.49 649.85L1389.37 652.5L1389.26 655.16L1389.14 657.84L1389.03 660.54L1388.91 663.24L1388.8 665.94L1388.69 668.64L1388.57 671.34L1388.46 674.03L1388.35 676.71L1388.23 679.38L1388.11 682.02L1388 684.65L1387.88 687.25L1387.76 689.81L1387.64 692.35L1387.52 694.84L1387.39 697.29L1387.27 699.7L1387.14 702.06L1387.01 704.37L1386.88 706.62L1386.74 708.81L1386.61 710.93L1386.47 712.99L1386.32 714.98L1386.18 716.89L1386.03 718.72L1385.88 720.47L1385.72 722.13L1385.56 723.69L1385.4 725.17L1385.23 726.54L1385.06 727.8L1384.89 728.96L1384.71 730.01L1384.53 730.93L1384.35 731.73L1384.17 732.38L1384.01 732.89L1383.86 733.22L1383.8 733.33L1383.95 733.2L1384.5 733.05L1384.95 733.16L1385.09 733.26L1385.01 733.15L1384.86 732.83L1384.67 732.33L1384.47 731.68L1384.27 730.89L1384.07 729.97L1383.87 728.93L1383.67 727.78L1383.48 726.51L1383.29 725.14L1383.11 723.67L1382.93 722.11L1382.75 720.45L1382.58 718.7L1382.41 716.87L1382.25 714.96L1382.09 712.98L1381.93 710.92L1381.77 708.8L1381.62 706.61L1381.47 704.36L1381.32 702.05L1381.18 699.69L1381.04 697.28L1380.9 694.83L1380.76 692.34L1380.62 689.8L1380.49 687.24L1380.36 684.64L1380.22 682.02L1380.09 679.37L1379.96 676.71L1379.83 674.03L1379.71 671.33L1379.58 668.63L1379.45 665.93L1379.32 663.23L1379.19 660.53L1379.06 657.84L1378.93 655.15L1378.8 652.49L1378.67 649.84L1378.54 647.21L1378.41 644.61L1378.27 642.04L1378.14 639.51L1378 637.01L1377.86 634.55L1377.71 632.13L1377.57 629.77L1377.42 627.45L1377.27 625.2L1377.12 623L1376.96 620.86L1376.8 618.79L1376.64 616.79L1376.48 614.87L1376.31 613.02L1376.13 611.26L1375.95 609.57L1375.77 607.98L1375.58 606.48L1375.39 605.07L1375.19 603.76L1374.98 602.55L1374.77 601.44L1374.55 600.44L1374.32 599.54L1374.08 598.74L1373.81 598.03L1373.49 597.4L1373.09 596.82L1372.46 596.31L1371.5 596.05L1370.41 596.44L1369.92 597.02L1369.64 597.58L1369.44 598.19L1369.26 598.87L1369.09 599.65L1368.93 600.54L1368.78 601.53L1368.64 602.63L1368.5 603.83L1368.36 605.14L1368.23 606.54L1368.1 608.03L1367.97 609.62L1367.85 611.3L1367.73 613.06L1367.61 614.91L1367.49 616.83L1367.38 618.83L1367.27 620.89L1367.16 623.03L1367.06 625.23L1366.95 627.48L1366.85 629.79L1366.75 632.16L1366.65 634.57L1366.56 637.03L1366.46 639.53L1366.37 642.07L1366.27 644.64L1366.18 647.24L1366.09 649.86L1366 652.51L1365.91 655.18L1365.82 657.86L1365.73 660.55L1365.64 663.25L1365.55 665.95L1365.46 668.66L1365.37 671.36L1365.28 674.05L1365.19 676.73L1365.1 679.39L1365.01 682.04L1364.92 684.66L1364.83 687.26L1364.74 689.83L1364.64 692.36L1364.55 694.86L1364.45 697.31L1364.35 699.72L1364.25 702.08L1364.15 704.39L1364.05 706.64L1363.94 708.83L1363.83 710.96L1363.72 713.01L1363.61 715L1363.5 716.91L1363.38 718.75L1363.26 720.49L1363.14 722.16L1363.01 723.73L1362.89 725.2L1362.76 726.58L1362.62 727.85L1362.49 729.01L1362.35 730.06L1362.2 730.99L1362.06 731.8L1361.92 732.47L1361.78 732.99L1361.67 733.34L1361.61 733.47L1361.76 733.3L1362.5 733.05L1363.05 733.2L1363.2 733.33L1363.14 733.22L1362.99 732.89L1362.83 732.38L1362.65 731.73L1362.47 730.93L1362.29 730.01L1362.11 728.96L1361.94 727.8L1361.77 726.54L1361.6 725.17L1361.44 723.69L1361.28 722.13L1361.12 720.47L1360.97 718.72L1360.82 716.89L1360.68 714.98L1360.53 712.99L1360.39 710.93L1360.26 708.81L1360.12 706.62L1359.99 704.37L1359.86 702.06L1359.73 699.7L1359.61 697.29L1359.48 694.84L1359.36 692.35L1359.24 689.81L1359.12 687.25L1359 684.65L1358.89 682.02L1358.77 679.38L1358.65 676.71L1358.54 674.03L1358.43 671.34L1358.31 668.64L1358.2 665.94L1358.09 663.24L1357.97 660.54L1357.86 657.84L1357.74 655.16L1357.63 652.5L1357.51 649.85L1357.4 647.22L1357.28 644.62L1357.16 642.05L1357.04 639.51L1356.91 637.02L1356.79 634.56L1356.67 632.14L1356.54 629.78L1356.41 627.46L1356.27 625.21L1356.14 623.01L1356 620.87L1355.86 618.81L1355.72 616.81L1355.57 614.88L1355.42 613.04L1355.27 611.27L1355.11 609.59L1354.95 608L1354.78 606.5L1354.61 605.1L1354.43 603.79L1354.25 602.58L1354.06 601.48L1353.87 600.48L1353.67 599.58L1353.45 598.78L1353.22 598.08L1352.95 597.46L1352.59 596.89L1352 596.35L1351 596.05L1350.01 596.34L1349.41 596.88L1349.05 597.45L1348.77 598.07L1348.53 598.78L1348.31 599.57L1348.1 600.47L1347.9 601.47L1347.71 602.58L1347.52 603.78L1347.34 605.09L1347.17 606.5L1347 608L1346.84 609.59L1346.67 611.27L1346.52 613.03L1346.36 614.88L1346.21 616.8L1346.07 618.8L1345.92 620.87L1345.78 623.01L1345.64 625.2L1345.51 627.46L1345.37 629.78L1345.24 632.14L1345.11 634.56L1344.99 637.01L1344.86 639.51L1344.74 642.05L1344.62 644.62L1344.5 647.22L1344.38 649.85L1344.26 652.49L1344.14 655.16L1344.02 657.84L1343.91 660.53L1343.79 663.23L1343.68 665.94L1343.56 668.64L1343.44 671.34L1343.33 674.03L1343.21 676.71L1343.09 679.38L1342.97 682.02L1342.86 684.65L1342.74 687.24L1342.61 689.81L1342.49 692.34L1342.37 694.84L1342.24 697.29L1342.11 699.7L1341.98 702.06L1341.85 704.37L1341.71 706.62L1341.58 708.81L1341.44 710.93L1341.29 712.99L1341.15 714.98L1341 716.89L1340.84 718.72L1340.69 720.46L1340.53 722.12L1340.37 723.69L1340.2 725.16L1340.03 726.53L1339.86 727.8L1339.68 728.96L1339.5 730L1339.32 730.92L1339.13 731.72L1338.95 732.37L1338.78 732.88L1338.63 733.2L1338.57 733.32L1338.72 733.2L1339.25 733.05L1339.93 733.27L1340.09 733.42L1340.02 733.3L1339.9 732.96L1339.75 732.44L1339.6 731.78L1339.45 730.97L1339.29 730.05L1339.14 729L1339 727.84L1338.85 726.56L1338.71 725.19L1338.57 723.72L1338.44 722.15L1338.3 720.49L1338.17 718.74L1338.05 716.91L1337.92 714.99L1337.8 713.01L1337.68 710.95L1337.57 708.82L1337.45 706.63L1337.34 704.38L1337.23 702.07L1337.12 699.71L1337.02 697.31L1336.91 694.85L1336.81 692.36L1336.71 689.82L1336.61 687.26L1336.51 684.66L1336.41 682.03L1336.31 679.39L1336.21 676.72L1336.11 674.04L1336.02 671.35L1335.92 668.65L1335.82 665.95L1335.73 663.25L1335.63 660.55L1335.53 657.85L1335.44 655.17L1335.34 652.5L1335.24 649.86L1335.14 647.23L1335.04 644.63L1334.94 642.06L1334.84 639.53L1334.74 637.03L1334.63 634.57L1334.52 632.15L1334.42 629.79L1334.31 627.48L1334.19 625.22L1334.08 623.02L1333.96 620.89L1333.84 618.82L1333.72 616.82L1333.6 614.9L1333.47 613.06L1333.34 611.29L1333.2 609.61L1333.07 608.02L1332.93 606.53L1332.78 605.12L1332.63 603.82L1332.48 602.61L1332.32 601.51L1332.16 600.52L1331.99 599.63L1331.81 598.84L1331.61 598.15L1331.39 597.55L1331.08 596.98L1330.56 596.41L1329.5 596.05L1328.54 596.3L1327.91 596.81L1327.5 597.39L1327.18 598.02L1326.9 598.73L1326.65 599.53L1326.42 600.43L1326.19 601.44L1325.98 602.55L1325.77 603.76L1325.56 605.07L1325.37 606.48L1325.18 607.98L1324.99 609.57L1324.81 611.25L1324.63 613.02L1324.46 614.87L1324.29 616.79L1324.12 618.79L1323.96 620.86L1323.8 622.99L1323.64 625.19L1323.49 627.45L1323.34 629.77L1323.19 632.13L1323.05 634.55L1322.91 637L1322.76 639.5L1322.63 642.04L1322.49 644.61L1322.35 647.21L1322.22 649.84L1322.08 652.49L1321.95 655.15L1321.82 657.83L1321.69 660.53L1321.56 663.23L1321.43 665.93L1321.3 668.63L1321.16 671.33L1321.03 674.02L1320.9 676.7L1320.77 679.37L1320.64 682.02L1320.5 684.64L1320.37 687.24L1320.23 689.8L1320.09 692.33L1319.95 694.83L1319.81 697.28L1319.66 699.69L1319.51 702.05L1319.36 704.36L1319.21 706.61L1319.06 708.8L1318.9 710.92L1318.74 712.98L1318.57 714.96L1318.41 716.87L1318.23 718.7L1318.06 720.45L1317.88 722.1L1317.7 723.67L1317.51 725.14L1317.32 726.51L1317.12 727.77L1316.92 728.93L1316.72 729.97L1316.51 730.89L1316.31 731.68L1316.1 732.33L1315.91 732.82L1315.76 733.14L1315.68 733.25L1315.81 733.16L1316.25 733.05L1316.82 733.21L1316.97 733.34L1316.91 733.23L1316.77 732.9L1316.6 732.39L1316.43 731.73L1316.25 730.94L1316.08 730.01L1315.9 728.97L1315.73 727.81L1315.57 726.54L1315.4 725.17L1315.24 723.7L1315.09 722.13L1314.93 720.47L1314.79 718.72L1314.64 716.89L1314.5 714.98L1314.36 712.99L1314.22 710.94L1314.09 708.81L1313.95 706.62L1313.82 704.37L1313.7 702.06L1313.57 699.7L1313.45 697.3L1313.33 694.84L1313.21 692.35L1313.09 689.81L1312.97 687.25L1312.86 684.65L1312.75 682.03L1312.63 679.38L1312.52 676.71L1312.41 674.03L1312.3 671.34L1312.18 668.64L1312.07 665.94L1311.96 663.24L1311.85 660.54L1311.74 657.84L1311.63 655.16L1311.52 652.5L1311.4 649.85L1311.29 647.22L1311.17 644.62L1311.06 642.05L1310.94 639.52L1310.82 637.02L1310.7 634.56L1310.57 632.14L1310.45 629.78L1310.32 627.47L1310.19 625.21L1310.06 623.01L1309.92 620.88L1309.79 618.81L1309.65 616.81L1309.5 614.89L1309.35 613.04L1309.2 611.28L1309.05 609.6L1308.89 608L1308.73 606.5L1308.56 605.1L1308.39 603.79L1308.21 602.59L1308.03 601.48L1307.84 600.48L1307.64 599.59L1307.43 598.79L1307.2 598.09L1306.94 597.47L1306.59 596.9L1306.01 596.35L1305 596.05L1304.05 596.29L1303.41 596.8L1302.99 597.38L1302.66 598.01L1302.38 598.72L1302.13 599.52L1301.89 600.43L1301.66 601.43L1301.44 602.54L1301.23 603.75L1301.02 605.06L1300.82 606.47L1300.62 607.97L1300.43 609.57L1300.25 611.25L1300.07 613.02L1299.89 614.86L1299.72 616.79L1299.55 618.79L1299.38 620.86L1299.22 622.99L1299.06 625.19L1298.91 627.45L1298.75 629.76L1298.6 632.13L1298.45 634.54L1298.31 637L1298.17 639.5L1298.02 642.04L1297.88 644.61L1297.75 647.21L1297.61 649.84L1297.47 652.48L1297.34 655.15L1297.2 657.83L1297.07 660.53L1296.94 663.23L1296.8 665.93L1296.67 668.63L1296.54 671.33L1296.4 674.02L1296.27 676.7L1296.13 679.37L1296 682.01L1295.86 684.64L1295.72 687.23L1295.58 689.8L1295.44 692.33L1295.3 694.83L1295.15 697.28L1295 699.69L1294.85 702.05L1294.7 704.35L1294.55 706.6L1294.39 708.79L1294.23 710.92L1294.06 712.98L1293.89 714.96L1293.72 716.87L1293.55 718.7L1293.37 720.44L1293.19 722.1L1293 723.67L1292.81 725.14L1292.61 726.51L1292.41 727.77L1292.21 728.93L1292 729.96L1291.8 730.88L1291.59 731.67L1291.38 732.32L1291.19 732.81L1291.03 733.13L1290.95 733.24L1291.08 733.15L1291.56 733.05L1292.02 733.2L1292.12 733.27L1291.99 733.06L1291.8 732.59L1291.59 731.91L1291.37 731.05L1291.15 730.02L1290.94 728.84L1290.73 727.52L1290.53 726.06L1290.33 724.48L1290.14 722.78L1289.95 720.96L1289.77 719.04L1289.59 717.02L1289.42 714.92L1289.25 712.72L1289.09 710.45L1288.93 708.11L1288.77 705.7L1288.61 703.23L1288.46 700.72L1288.31 698.15L1288.17 695.55L1288.02 692.91L1287.88 690.25L1287.73 687.57L1287.59 684.88L1287.45 682.17L1287.31 679.47L1287.16 676.78L1287.02 674.09L1286.88 671.43L1286.73 668.79L1286.58 666.18L1286.43 663.61L1286.28 661.09L1286.13 658.62L1285.97 656.2L1285.81 653.85L1285.64 651.56L1285.47 649.36L1285.3 647.23L1285.12 645.19L1284.94 643.25L1284.75 641.41L1284.55 639.68L1284.35 638.06L1284.14 636.56L1283.92 635.17L1283.69 633.92L1283.46 632.8L1283.2 631.8L1282.93 630.93L1282.62 630.18L1282.22 629.5L1281.58 628.88L1280.43 628.55L1279.34 628.86L1278.52 629.55L1277.94 630.39L1277.47 631.37L1277.05 632.51L1276.67 633.81L1276.32 635.28L1275.98 636.9L1275.66 638.67L1275.35 640.58L1275.06 642.63L1274.78 644.79L1274.51 647.06L1274.24 649.42L1273.99 651.87L1273.74 654.38L1273.5 656.96L1273.26 659.59L1273.02 662.25L1272.79 664.93L1272.56 667.63L1272.32 670.32L1272.09 673L1271.85 675.65L1271.62 678.27L1271.37 680.84L1271.13 683.34L1270.87 685.77L1270.61 688.11L1270.34 690.35L1270.07 692.48L1269.78 694.48L1269.48 696.34L1269.17 698.05L1268.85 699.59L1268.52 700.95L1268.19 702.1L1267.85 703.02L1267.54 703.69L1267.29 704.05L1267.24 704.11L1267.5 704.05L1267.88 704.15L1267.87 704.12L1267.65 703.75L1267.37 703.07L1267.07 702.13L1266.77 700.96L1266.47 699.59L1266.19 698.04L1265.92 696.31L1265.65 694.44L1265.4 692.42L1265.15 690.27L1264.91 688.02L1264.68 685.66L1264.46 683.21L1264.24 680.69L1264.03 678.11L1263.82 675.47L1263.61 672.8L1263.4 670.1L1263.2 667.39L1262.99 664.68L1262.78 661.98L1262.58 659.3L1262.36 656.66L1262.15 654.06L1261.93 651.53L1261.7 649.07L1261.47 646.69L1261.23 644.41L1260.98 642.24L1260.72 640.18L1260.45 638.26L1260.17 636.48L1259.87 634.85L1259.56 633.38L1259.22 632.08L1258.86 630.94L1258.45 629.96L1257.94 629.12L1257.18 628.41L1256 628.05L1254.84 628.35L1254 629.03L1253.4 629.87L1252.91 630.85L1252.48 631.99L1252.08 633.3L1251.71 634.76L1251.36 636.39L1251.03 638.16L1250.71 640.08L1250.41 642.12L1250.11 644.28L1249.83 646.55L1249.56 648.91L1249.29 651.36L1249.04 653.88L1248.78 656.46L1248.53 659.08L1248.29 661.74L1248.05 664.43L1247.81 667.12L1247.56 669.81L1247.32 672.49L1247.08 675.15L1246.83 677.77L1246.58 680.33L1246.32 682.84L1246.06 685.26L1245.79 687.61L1245.51 689.85L1245.22 691.97L1244.92 693.97L1244.61 695.83L1244.29 697.54L1243.96 699.08L1243.62 700.43L1243.27 701.58L1242.92 702.5L1242.6 703.17L1242.34 703.53L1242.28 703.6L1242.5 703.55L1242.9 703.66L1242.89 703.63L1242.68 703.26L1242.4 702.59L1242.11 701.65L1241.81 700.49L1241.53 699.13L1241.25 697.59L1240.98 695.87L1240.72 694.01L1240.48 692.01L1240.24 689.88L1240 687.63L1239.78 685.29L1239.56 682.86L1239.34 680.36L1239.13 677.79L1238.93 675.17L1238.72 672.52L1238.52 669.84L1238.32 667.14L1238.12 664.45L1237.92 661.76L1237.71 659.1L1237.51 656.48L1237.3 653.9L1237.08 651.38L1236.86 648.94L1236.63 646.58L1236.4 644.31L1236.15 642.15L1235.9 640.11L1235.64 638.2L1235.36 636.43L1235.07 634.82L1234.76 633.36L1234.43 632.06L1234.08 630.93L1233.68 629.96L1233.18 629.13L1232.43 628.41L1231.25 628.05L1230.09 628.36L1229.26 629.04L1228.67 629.88L1228.19 630.86L1227.77 632L1227.38 633.3L1227.01 634.77L1226.67 636.39L1226.34 638.17L1226.03 640.08L1225.73 642.12L1225.45 644.28L1225.17 646.55L1224.9 648.92L1224.64 651.36L1224.39 653.88L1224.14 656.46L1223.9 659.08L1223.66 661.74L1223.42 664.43L1223.18 667.12L1222.94 669.82L1222.71 672.5L1222.47 675.15L1222.22 677.77L1221.98 680.34L1221.72 682.84L1221.47 685.27L1221.2 687.61L1220.93 689.85L1220.64 691.98L1220.35 693.98L1220.05 695.84L1219.73 697.55L1219.41 699.08L1219.07 700.44L1218.73 701.59L1218.39 702.51L1218.07 703.18L1217.82 703.54L1217.76 703.6L1218 703.55L1218.16 703.58L1218.08 703.5L1217.81 703.14L1217.47 702.48L1217.1 701.56L1216.73 700.41L1216.37 699.06L1216.02 697.53L1215.69 695.82L1215.36 693.96L1215.05 691.96L1214.74 689.84L1214.45 687.6L1214.16 685.26L1213.88 682.83L1213.61 680.32L1213.35 677.76L1213.09 675.14L1212.83 672.49L1212.57 669.81L1212.32 667.11L1212.06 664.42L1211.81 661.73L1211.55 659.07L1211.29 656.45L1211.02 653.87L1210.75 651.35L1210.47 648.9L1210.18 646.54L1209.88 644.27L1209.57 642.11L1209.25 640.06L1208.91 638.15L1208.56 636.37L1208.19 634.75L1207.8 633.28L1207.38 631.97L1206.92 630.82L1206.41 629.84L1205.77 629L1204.91 628.34L1203.75 628.05L1202.59 628.36L1201.77 629.05L1201.19 629.89L1200.72 630.87L1200.3 632.01L1199.92 633.31L1199.57 634.78L1199.23 636.4L1198.91 638.17L1198.6 640.08L1198.31 642.13L1198.03 644.29L1197.76 646.56L1197.49 648.92L1197.24 651.37L1196.99 653.88L1196.75 656.46L1196.51 659.09L1196.27 661.75L1196.04 664.43L1195.81 667.13L1195.57 669.82L1195.34 672.5L1195.1 675.15L1194.87 677.77L1194.62 680.34L1194.38 682.84L1194.12 685.27L1193.86 687.61L1193.59 689.85L1193.32 691.98L1193.03 693.98L1192.73 695.84L1192.42 697.55L1192.1 699.09L1191.77 700.45L1191.44 701.6L1191.1 702.52L1190.79 703.19L1190.54 703.55L1190.49 703.61L1190.75 703.55L1191.08 703.63L1191.06 703.6L1190.84 703.23L1190.54 702.56L1190.23 701.63L1189.92 700.47L1189.61 699.11L1189.32 697.57L1189.03 695.86L1188.76 694L1188.49 691.99L1188.24 689.87L1187.99 687.62L1187.75 685.28L1187.51 682.85L1187.29 680.35L1187.06 677.78L1186.84 675.16L1186.63 672.51L1186.41 669.83L1186.2 667.13L1185.98 664.44L1185.77 661.76L1185.55 659.1L1185.33 656.47L1185.1 653.89L1184.87 651.38L1184.64 648.93L1184.39 646.57L1184.14 644.3L1183.88 642.14L1183.61 640.1L1183.33 638.19L1183.04 636.42L1182.73 634.8L1182.4 633.34L1182.05 632.04L1181.67 630.91L1181.23 629.93L1180.7 629.09L1179.92 628.39L1178.75 628.05L1177.59 628.32L1176.7 628.97L1176.04 629.81L1175.49 630.8L1175.01 631.95L1174.56 633.26L1174.15 634.73L1173.76 636.36L1173.39 638.14L1173.04 640.05L1172.7 642.1L1172.37 644.26L1172.06 646.53L1171.76 648.9L1171.46 651.34L1171.17 653.86L1170.89 656.44L1170.62 659.07L1170.34 661.73L1170.08 664.41L1169.81 667.11L1169.54 669.8L1169.27 672.48L1169 675.13L1168.72 677.75L1168.44 680.32L1168.16 682.82L1167.87 685.25L1167.57 687.59L1167.26 689.83L1166.94 691.95L1166.61 693.95L1166.26 695.81L1165.91 697.51L1165.54 699.04L1165.16 700.39L1164.78 701.54L1164.39 702.45L1164.03 703.11L1163.75 703.48L1163.64 703.57L1163.75 703.55L1164.3 703.72L1164.33 703.73L1164.14 703.35L1163.9 702.66L1163.65 701.71L1163.4 700.54L1163.16 699.17L1162.92 697.62L1162.7 695.91L1162.48 694.04L1162.27 692.03L1162.06 689.9L1161.87 687.66L1161.68 685.31L1161.49 682.88L1161.31 680.38L1161.13 677.81L1160.96 675.19L1160.79 672.53L1160.62 669.85L1160.45 667.16L1160.28 664.46L1160.11 661.78L1159.93 659.12L1159.76 656.5L1159.58 653.92L1159.4 651.4L1159.21 648.96L1159.02 646.6L1158.82 644.34L1158.62 642.18L1158.4 640.14L1158.18 638.24L1157.95 636.47L1157.7 634.86L1157.45 633.41L1157.17 632.12L1156.87 631L1156.54 630.05L1156.12 629.22L1155.46 628.48L1154.26 628.05L1153.11 628.31L1152.22 628.93L1151.54 629.74L1150.98 630.71L1150.49 631.82L1150.04 633.09L1149.62 634.52L1149.22 636.1L1148.84 637.83L1148.48 639.69L1148.13 641.68L1147.8 643.78L1147.48 645.99L1147.17 648.3L1146.87 650.69L1146.58 653.15L1146.29 655.67L1146.01 658.24L1145.74 660.85L1145.46 663.49L1145.19 666.15L1144.92 668.81L1144.65 671.46L1144.38 674.09L1144.1 676.7L1143.82 679.26L1143.54 681.77L1143.25 684.21L1142.95 686.58L1142.65 688.86L1142.33 691.03L1142.01 693.1L1141.67 695.03L1141.32 696.84L1140.96 698.48L1140.59 699.97L1140.2 701.27L1139.81 702.37L1139.43 703.24L1139.07 703.87L1138.78 704.22L1138.67 704.31L1138.76 704.3L1138.99 704.35L1138.94 704.29L1138.68 703.92L1138.36 703.26L1138.02 702.33L1137.68 701.18L1137.34 699.82L1137.02 698.27L1136.7 696.56L1136.4 694.69L1136.11 692.68L1135.82 690.55L1135.55 688.3L1135.28 685.95L1135.03 683.52L1134.77 681L1134.53 678.43L1134.28 675.8L1134.04 673.14L1133.81 670.45L1133.57 667.75L1133.33 665.04L1133.09 662.35L1132.85 659.68L1132.61 657.05L1132.36 654.46L1132.11 651.94L1131.85 649.48L1131.58 647.11L1131.3 644.83L1131.02 642.67L1130.72 640.62L1130.41 638.7L1130.08 636.92L1129.74 635.29L1129.37 633.82L1128.98 632.51L1128.56 631.37L1128.08 630.38L1127.49 629.54L1126.66 628.86L1125.57 628.55L1124.42 628.88L1123.78 629.5L1123.38 630.18L1123.07 630.93L1122.8 631.8L1122.54 632.8L1122.31 633.92L1122.08 635.17L1121.86 636.56L1121.65 638.06L1121.45 639.68L1121.25 641.41L1121.06 643.25L1120.88 645.19L1120.7 647.23L1120.53 649.36L1120.36 651.56L1120.19 653.85L1120.03 656.2L1119.87 658.62L1119.72 661.09L1119.57 663.61L1119.42 666.18L1119.27 668.79L1119.12 671.43L1118.98 674.09L1118.84 676.78L1118.69 679.47L1118.55 682.17L1118.41 684.88L1118.27 687.57L1118.12 690.25L1117.98 692.91L1117.83 695.55L1117.69 698.15L1117.54 700.72L1117.39 703.23L1117.23 705.7L1117.07 708.11L1116.91 710.45L1116.75 712.72L1116.58 714.92L1116.41 717.02L1116.23 719.04L1116.05 720.96L1115.86 722.78L1115.67 724.48L1115.47 726.06L1115.27 727.52L1115.06 728.84L1114.85 730.02L1114.63 731.05L1114.41 731.91L1114.2 732.59L1114.01 733.06L1113.88 733.27L1113.98 733.2L1114.44 733.05L1114.94 733.16L1115.07 733.25L1114.99 733.14L1114.84 732.82L1114.65 732.33L1114.44 731.68L1114.24 730.89L1114.03 729.97L1113.83 728.93L1113.63 727.77L1113.43 726.51L1113.24 725.14L1113.05 723.67L1112.87 722.1L1112.69 720.45L1112.52 718.7L1112.34 716.87L1112.18 714.96L1112.01 712.98L1111.85 710.92L1111.69 708.8L1111.54 706.61L1111.39 704.36L1111.24 702.05L1111.09 699.69L1110.94 697.28L1110.8 694.83L1110.66 692.33L1110.52 689.8L1110.38 687.24L1110.25 684.64L1110.11 682.02L1109.98 679.37L1109.85 676.7L1109.72 674.02L1109.59 671.33L1109.45 668.63L1109.32 665.93L1109.19 663.23L1109.06 660.53L1108.93 657.83L1108.8 655.15L1108.67 652.49L1108.53 649.84L1108.4 647.21L1108.26 644.61L1108.12 642.04L1107.99 639.5L1107.84 637L1107.7 634.55L1107.56 632.13L1107.41 629.77L1107.26 627.45L1107.11 625.19L1106.95 622.99L1106.79 620.86L1106.63 618.79L1106.46 616.79L1106.29 614.87L1106.12 613.02L1105.94 611.25L1105.76 609.57L1105.57 607.98L1105.38 606.48L1105.19 605.07L1104.98 603.76L1104.77 602.55L1104.56 601.44L1104.33 600.43L1104.1 599.53L1103.85 598.73L1103.57 598.02L1103.25 597.39L1102.84 596.81L1102.21 596.3L1101.25 596.05L1100.26 596.34L1099.66 596.88L1099.3 597.45L1099.02 598.07L1098.78 598.78L1098.56 599.57L1098.35 600.47L1098.15 601.47L1097.96 602.58L1097.77 603.78L1097.59 605.09L1097.42 606.5L1097.25 608L1097.09 609.59L1096.92 611.27L1096.77 613.03L1096.61 614.88L1096.46 616.8L1096.32 618.8L1096.17 620.87L1096.03 623.01L1095.89 625.2L1095.76 627.46L1095.62 629.78L1095.49 632.14L1095.36 634.56L1095.24 637.01L1095.11 639.51L1094.99 642.05L1094.87 644.62L1094.75 647.22L1094.63 649.85L1094.51 652.49L1094.39 655.16L1094.27 657.84L1094.16 660.53L1094.04 663.23L1093.93 665.94L1093.81 668.64L1093.69 671.34L1093.58 674.03L1093.46 676.71L1093.34 679.38L1093.22 682.02L1093.11 684.65L1092.99 687.24L1092.86 689.81L1092.74 692.34L1092.62 694.84L1092.49 697.29L1092.36 699.7L1092.23 702.06L1092.1 704.37L1091.96 706.62L1091.83 708.81L1091.69 710.93L1091.54 712.99L1091.4 714.98L1091.25 716.89L1091.09 718.72L1090.94 720.46L1090.78 722.12L1090.62 723.69L1090.45 725.16L1090.28 726.53L1090.11 727.8L1089.93 728.96L1089.75 730L1089.57 730.92L1089.38 731.72L1089.2 732.37L1089.03 732.88L1088.88 733.2L1088.82 733.32L1088.97 733.2L1089.5 733.05L1090.02 733.19L1090.16 733.31L1090.1 733.19L1089.95 732.87L1089.77 732.37L1089.59 731.71L1089.4 730.92L1089.22 730L1089.03 728.95L1088.85 727.8L1088.67 726.53L1088.5 725.16L1088.33 723.69L1088.16 722.12L1088 720.46L1087.84 718.71L1087.69 716.88L1087.53 714.97L1087.38 712.99L1087.24 710.93L1087.09 708.81L1086.95 706.62L1086.82 704.37L1086.68 702.06L1086.55 699.7L1086.42 697.29L1086.29 694.84L1086.16 692.34L1086.03 689.81L1085.91 687.24L1085.79 684.65L1085.66 682.02L1085.54 679.38L1085.42 676.71L1085.3 674.03L1085.19 671.34L1085.07 668.64L1084.95 665.94L1084.83 663.23L1084.71 660.53L1084.59 657.84L1084.47 655.16L1084.35 652.49L1084.23 649.84L1084.11 647.22L1083.99 644.62L1083.86 642.05L1083.74 639.51L1083.61 637.01L1083.48 634.55L1083.35 632.14L1083.21 629.77L1083.08 627.46L1082.94 625.2L1082.8 623L1082.66 620.87L1082.51 618.8L1082.36 616.8L1082.21 614.88L1082.05 613.03L1081.89 611.27L1081.72 609.59L1081.55 607.99L1081.38 606.49L1081.2 605.09L1081.02 603.78L1080.83 602.57L1080.63 601.47L1080.43 600.46L1080.22 599.57L1079.99 598.77L1079.75 598.06L1079.46 597.44L1079.09 596.87L1078.49 596.33L1077.5 596.05L1076.45 596.4L1075.91 596.97L1075.61 597.53L1075.37 598.14L1075.17 598.84L1074.99 599.62L1074.81 600.51L1074.64 601.51L1074.48 602.61L1074.32 603.81L1074.17 605.12L1074.02 606.52L1073.88 608.02L1073.74 609.61L1073.6 611.29L1073.47 613.05L1073.34 614.9L1073.21 616.82L1073.08 618.82L1072.96 620.89L1072.84 623.02L1072.72 625.22L1072.61 627.47L1072.5 629.79L1072.38 632.15L1072.28 634.57L1072.17 637.02L1072.06 639.52L1071.96 642.06L1071.85 644.63L1071.75 647.23L1071.65 649.86L1071.55 652.5L1071.45 655.17L1071.35 657.85L1071.25 660.54L1071.15 663.24L1071.05 665.95L1070.95 668.65L1070.85 671.35L1070.75 674.04L1070.65 676.72L1070.55 679.39L1070.45 682.03L1070.35 684.66L1070.25 687.25L1070.15 689.82L1070.04 692.35L1069.94 694.85L1069.83 697.3L1069.72 699.71L1069.61 702.07L1069.49 704.38L1069.38 706.63L1069.26 708.82L1069.14 710.95L1069.02 713.01L1068.9 714.99L1068.77 716.9L1068.64 718.73L1068.51 720.48L1068.37 722.14L1068.23 723.71L1068.09 725.19L1067.95 726.56L1067.8 727.83L1067.65 728.99L1067.49 730.04L1067.34 730.97L1067.18 731.77L1067.02 732.43L1066.87 732.95L1066.74 733.29L1066.68 733.41L1066.84 733.26L1067.5 733.05L1068.03 733.2L1068.18 733.32L1068.12 733.2L1067.97 732.88L1067.8 732.37L1067.62 731.72L1067.43 730.92L1067.25 730L1067.07 728.96L1066.89 727.8L1066.72 726.53L1066.55 725.16L1066.38 723.69L1066.22 722.12L1066.06 720.46L1065.91 718.72L1065.75 716.89L1065.6 714.98L1065.46 712.99L1065.31 710.93L1065.17 708.81L1065.04 706.62L1064.9 704.37L1064.77 702.06L1064.64 699.7L1064.51 697.29L1064.38 694.84L1064.26 692.34L1064.14 689.81L1064.01 687.24L1063.89 684.65L1063.78 682.02L1063.66 679.38L1063.54 676.71L1063.42 674.03L1063.31 671.34L1063.19 668.64L1063.07 665.94L1062.96 663.23L1062.84 660.53L1062.73 657.84L1062.61 655.16L1062.49 652.49L1062.37 649.85L1062.25 647.22L1062.13 644.62L1062.01 642.05L1061.89 639.51L1061.76 637.01L1061.64 634.56L1061.51 632.14L1061.38 629.78L1061.24 627.46L1061.11 625.2L1060.97 623.01L1060.83 620.87L1060.68 618.8L1060.54 616.8L1060.39 614.88L1060.23 613.03L1060.08 611.27L1059.91 609.59L1059.75 608L1059.58 606.5L1059.41 605.09L1059.23 603.78L1059.04 602.58L1058.85 601.47L1058.65 600.47L1058.44 599.57L1058.22 598.78L1057.98 598.07L1057.7 597.45L1057.34 596.88L1056.74 596.34L1055.75 596.05L1054.75 596.35L1054.16 596.89L1053.8 597.46L1053.53 598.08L1053.3 598.78L1053.08 599.58L1052.88 600.48L1052.69 601.48L1052.5 602.58L1052.32 603.79L1052.14 605.1L1051.97 606.5L1051.8 608L1051.64 609.59L1051.48 611.27L1051.33 613.04L1051.18 614.88L1051.03 616.81L1050.89 618.81L1050.75 620.87L1050.61 623.01L1050.48 625.21L1050.34 627.46L1050.21 629.78L1050.08 632.14L1049.96 634.56L1049.84 637.02L1049.71 639.51L1049.59 642.05L1049.47 644.62L1049.35 647.22L1049.24 649.85L1049.12 652.5L1049.01 655.16L1048.89 657.84L1048.78 660.54L1048.66 663.24L1048.55 665.94L1048.44 668.64L1048.32 671.34L1048.21 674.03L1048.1 676.71L1047.98 679.38L1047.86 682.02L1047.75 684.65L1047.63 687.25L1047.51 689.81L1047.39 692.35L1047.27 694.84L1047.14 697.29L1047.02 699.7L1046.89 702.06L1046.76 704.37L1046.63 706.62L1046.49 708.81L1046.36 710.93L1046.22 712.99L1046.07 714.98L1045.93 716.89L1045.78 718.72L1045.63 720.47L1045.47 722.13L1045.31 723.69L1045.15 725.17L1044.98 726.54L1044.81 727.8L1044.64 728.96L1044.46 730.01L1044.28 730.93L1044.1 731.73L1043.92 732.38L1043.76 732.89L1043.61 733.22L1043.55 733.33L1043.7 733.2L1044.25 733.05L1044.89 733.25L1045.05 733.39L1044.99 733.27L1044.86 732.94L1044.7 732.42L1044.54 731.76L1044.38 730.96L1044.22 730.03L1044.06 728.99L1043.91 727.83L1043.76 726.56L1043.61 725.18L1043.46 723.71L1043.32 722.14L1043.18 720.48L1043.04 718.73L1042.91 716.9L1042.78 714.99L1042.65 713L1042.53 710.95L1042.41 708.82L1042.29 706.63L1042.17 704.38L1042.05 702.07L1041.94 699.71L1041.83 697.3L1041.72 694.85L1041.61 692.35L1041.5 689.82L1041.39 687.25L1041.29 684.66L1041.19 682.03L1041.08 679.39L1040.98 676.72L1040.88 674.04L1040.78 671.35L1040.68 668.65L1040.57 665.95L1040.47 663.24L1040.37 660.54L1040.27 657.85L1040.17 655.17L1040.07 652.5L1039.96 649.85L1039.86 647.23L1039.75 644.63L1039.65 642.06L1039.54 639.52L1039.43 637.02L1039.32 634.56L1039.21 632.15L1039.09 629.79L1038.98 627.47L1038.86 625.22L1038.74 623.02L1038.62 620.88L1038.49 618.82L1038.36 616.82L1038.23 614.9L1038.1 613.05L1037.96 611.29L1037.82 609.61L1037.67 608.02L1037.53 606.52L1037.38 605.12L1037.22 603.81L1037.06 602.6L1036.89 601.5L1036.72 600.51L1036.54 599.62L1036.35 598.83L1036.14 598.13L1035.9 597.52L1035.59 596.95L1035.04 596.39L1034 596.05L1033.03 596.32L1032.41 596.84L1032.02 597.42L1031.72 598.05L1031.47 598.75L1031.23 599.55L1031.01 600.45L1030.8 601.45L1030.59 602.56L1030.4 603.77L1030.2 605.08L1030.02 606.49L1029.84 607.99L1029.66 609.58L1029.49 611.26L1029.32 613.03L1029.16 614.87L1029 616.8L1028.84 618.8L1028.69 620.86L1028.54 623L1028.39 625.2L1028.25 627.46L1028.11 629.77L1027.97 632.14L1027.83 634.55L1027.7 637.01L1027.56 639.51L1027.43 642.05L1027.3 644.62L1027.17 647.22L1027.05 649.84L1026.92 652.49L1026.8 655.16L1026.67 657.84L1026.55 660.53L1026.42 663.23L1026.3 665.93L1026.18 668.64L1026.05 671.34L1025.93 674.03L1025.81 676.71L1025.68 679.37L1025.56 682.02L1025.43 684.64L1025.3 687.24L1025.17 689.81L1025.04 692.34L1024.91 694.83L1024.77 697.29L1024.64 699.7L1024.5 702.06L1024.36 704.36L1024.21 706.61L1024.07 708.8L1023.92 710.93L1023.77 712.98L1023.61 714.97L1023.45 716.88L1023.29 718.71L1023.12 720.45L1022.95 722.11L1022.78 723.68L1022.6 725.15L1022.42 726.52L1022.24 727.79L1022.05 728.94L1021.86 729.99L1021.66 730.91L1021.47 731.7L1021.28 732.35L1021.1 732.85L1020.94 733.17L1020.87 733.28L1021.01 733.18L1021.5 733.05L1022.05 733.2L1022.2 733.33L1022.14 733.22L1021.99 732.89L1021.83 732.38L1021.65 731.73L1021.47 730.93L1021.29 730.01L1021.11 728.96L1020.94 727.8L1020.77 726.54L1020.6 725.17L1020.44 723.69L1020.28 722.13L1020.12 720.47L1019.97 718.72L1019.82 716.89L1019.68 714.98L1019.53 712.99L1019.39 710.93L1019.26 708.81L1019.12 706.62L1018.99 704.37L1018.86 702.06L1018.73 699.7L1018.61 697.29L1018.48 694.84L1018.36 692.35L1018.24 689.81L1018.12 687.25L1018 684.65L1017.89 682.02L1017.77 679.38L1017.65 676.71L1017.54 674.03L1017.43 671.34L1017.31 668.64L1017.2 665.94L1017.09 663.24L1016.97 660.54L1016.86 657.84L1016.74 655.16L1016.63 652.5L1016.51 649.85L1016.4 647.22L1016.28 644.62L1016.16 642.05L1016.04 639.51L1015.91 637.02L1015.79 634.56L1015.67 632.14L1015.54 629.78L1015.41 627.46L1015.27 625.21L1015.14 623.01L1015 620.87L1014.86 618.81L1014.72 616.81L1014.57 614.88L1014.42 613.04L1014.27 611.27L1014.11 609.59L1013.95 608L1013.78 606.5L1013.61 605.1L1013.43 603.79L1013.25 602.58L1013.06 601.48L1012.87 600.48L1012.67 599.58L1012.45 598.78L1012.22 598.08L1011.95 597.46L1011.59 596.89L1011 596.35L1010 596.05L1009.04 596.31L1008.41 596.82L1008.01 597.4L1007.69 598.03L1007.42 598.74L1007.18 599.54L1006.95 600.44L1006.73 601.44L1006.52 602.55L1006.31 603.76L1006.11 605.07L1005.92 606.48L1005.73 607.98L1005.55 609.57L1005.37 611.26L1005.2 613.02L1005.03 614.87L1004.87 616.79L1004.7 618.79L1004.55 620.86L1004.39 623L1004.24 625.2L1004.09 627.45L1003.95 629.77L1003.81 632.13L1003.66 634.55L1003.53 637.01L1003.39 639.51L1003.25 642.04L1003.12 644.61L1002.99 647.21L1002.86 649.84L1002.73 652.49L1002.6 655.16L1002.47 657.84L1002.35 660.53L1002.22 663.23L1002.09 665.93L1001.96 668.64L1001.84 671.34L1001.71 674.03L1001.58 676.71L1001.45 679.37L1001.32 682.02L1001.19 684.64L1001.06 687.24L1000.93 689.81L1000.79 692.34L1000.66 694.83L1000.52 697.29L1000.38 699.7L1000.24 702.06L1000.09 704.36L999.94 706.61L999.79 708.8L999.64 710.93L999.48 712.98L999.32 714.97L999.16 716.88L998.99 718.71L998.82 720.46L998.65 722.12L998.47 723.68L998.29 725.15L998.1 726.53L997.91 727.79L997.72 728.95L997.52 729.99L997.32 730.92L997.12 731.71L996.92 732.37L996.74 732.87L996.58 733.2L996.49 733.33L996.6 733.26L997 733.16L997.47 733.3L997.59 733.39L997.51 733.26L997.36 732.92L997.18 732.41L996.99 731.75L996.81 730.95L996.62 730.03L996.44 728.98L996.26 727.82L996.08 726.55L995.91 725.18L995.74 723.7L995.58 722.14L995.42 720.48L995.26 718.73L995.1 716.9L994.95 714.99L994.81 713L994.66 710.94L994.52 708.82L994.38 706.63L994.24 704.38L994.11 702.07L993.98 699.71L993.85 697.3L993.72 694.85L993.59 692.35L993.47 689.82L993.35 687.25L993.22 684.65L993.1 682.03L992.98 679.39L992.86 676.72L992.75 674.04L992.63 671.35L992.51 668.65L992.39 665.95L992.28 663.24L992.16 660.54L992.04 657.85L991.92 655.17L991.8 652.5L991.68 649.85L991.56 647.23L991.44 644.63L991.32 642.06L991.19 639.52L991.07 637.02L990.94 634.57L990.81 632.15L990.68 629.79L990.54 627.47L990.41 625.22L990.27 623.02L990.12 620.89L989.98 618.82L989.83 616.82L989.68 614.9L989.52 613.05L989.36 611.29L989.2 609.61L989.03 608.02L988.86 606.52L988.69 605.12L988.5 603.82L988.32 602.61L988.13 601.51L987.93 600.52L987.72 599.63L987.5 598.84L987.26 598.16L986.99 597.56L986.65 597.03L986.11 596.55L985.25 596.3L984.4 596.54L983.86 597.02L983.5 597.55L983.23 598.15L982.98 598.84L982.76 599.62L982.55 600.51L982.34 601.51L982.15 602.61L981.96 603.82L981.77 605.12L981.59 606.52L981.42 608.02L981.25 609.61L981.08 611.29L980.92 613.06L980.76 614.9L980.61 616.82L980.45 618.82L980.31 620.89L980.16 623.02L980.02 625.22L979.88 627.48L979.74 629.79L979.61 632.15L979.48 634.57L979.34 637.03L979.22 639.53L979.09 642.06L978.96 644.63L978.84 647.23L978.72 649.86L978.59 652.51L978.47 655.17L978.35 657.85L978.23 660.55L978.11 663.25L977.99 665.95L977.87 668.65L977.75 671.35L977.63 674.04L977.51 676.72L977.39 679.39L977.27 682.04L977.15 684.66L977.02 687.26L976.9 689.82L976.77 692.36L976.64 694.85L976.51 697.31L976.38 699.72L976.24 702.08L976.11 704.38L975.97 706.64L975.83 708.83L975.68 710.95L975.53 713.01L975.38 715L975.23 716.91L975.07 718.74L974.91 720.49L974.75 722.15L974.58 723.72L974.41 725.2L974.23 726.57L974.05 727.85L973.87 729.01L973.68 730.06L973.49 730.99L973.3 731.8L973.11 732.47L972.92 733L972.76 733.36L972.65 733.54L972.69 733.51L973 733.44L973.3 733.52L973.34 733.54L973.23 733.37L973.06 733.01L972.87 732.48L972.67 731.81L972.47 731L972.28 730.07L972.09 729.02L971.9 727.85L971.72 726.58L971.54 725.21L971.36 723.73L971.19 722.16L971.02 720.5L970.86 718.75L970.69 716.92L970.54 715L970.38 713.02L970.23 710.96L970.08 708.83L969.94 706.64L969.8 704.39L969.66 702.08L969.52 699.72L969.38 697.31L969.25 694.86L969.12 692.36L968.99 689.83L968.86 687.26L968.73 684.67L968.61 682.04L968.48 679.4L968.36 676.73L968.24 674.05L968.11 671.36L967.99 668.66L967.87 665.96L967.75 663.25L967.62 660.55L967.5 657.86L967.38 655.18L967.25 652.51L967.13 649.86L967 647.24L966.88 644.64L966.75 642.07L966.62 639.53L966.49 637.04L966.35 634.58L966.22 632.16L966.08 629.8L965.94 627.49L965.8 625.23L965.65 623.03L965.5 620.9L965.35 618.83L965.2 616.84L965.04 614.92L964.87 613.07L964.71 611.31L964.54 609.63L964.37 608.05L964.19 606.55L964 605.15L963.82 603.85L963.62 602.65L963.42 601.56L963.22 600.57L963 599.69L962.78 598.92L962.53 598.25L962.27 597.68L961.94 597.19L961.46 596.77L960.71 596.58L959.97 596.79L959.42 597.27L959.01 597.86L958.68 598.57L958.37 599.41L958.09 600.39L957.82 601.5L957.56 602.74L957.31 604.12L957.07 605.61L956.84 607.23L956.62 608.96L956.4 610.8L956.19 612.73L955.99 614.77L955.79 616.89L955.59 619.09L955.4 621.38L955.22 623.73L955.04 626.14L954.86 628.62L954.69 631.14L954.52 633.71L954.35 636.32L954.18 638.95L954.02 641.62L953.85 644.3L953.69 647L953.52 649.7L953.36 652.4L953.2 655.09L953.03 657.78L952.87 660.44L952.7 663.07L952.53 665.68L952.36 668.24L952.19 670.76L952.01 673.23L951.83 675.64L951.65 677.99L951.46 680.26L951.27 682.45L951.07 684.57L950.86 686.59L950.66 688.51L950.44 690.33L950.22 692.04L949.99 693.63L949.76 695.1L949.52 696.43L949.27 697.62L949.02 698.67L948.76 699.56L948.5 700.27L948.25 700.8L948.04 701.12L947.94 701.23L948.04 701.22L947.87 701.19L947.61 700.97L947.25 700.47L946.86 699.7L946.47 698.7L946.09 697.47L945.73 696.05L945.38 694.44L945.04 692.67L944.72 690.75L944.41 688.7L944.1 686.52L943.81 684.23L943.53 681.84L943.26 679.38L942.99 676.85L942.72 674.26L942.46 671.63L942.21 668.98L941.95 666.31L941.69 663.64L941.44 660.98L941.18 658.35L940.91 655.76L940.64 653.22L940.37 650.75L940.08 648.35L939.79 646.05L939.49 643.86L939.17 641.78L938.84 639.83L938.5 638.03L938.14 636.38L937.76 634.9L937.36 633.6L936.93 632.49L936.46 631.57L935.94 630.84L935.29 630.32L934.5 630.12L933.75 630.36L933.2 630.89L932.77 631.62L932.4 632.54L932.05 633.65L931.72 634.94L931.42 636.42L931.12 638.06L930.84 639.86L930.58 641.81L930.32 643.88L930.07 646.08L929.84 648.38L929.6 650.77L929.38 653.24L929.16 655.78L928.95 658.37L928.73 661L928.52 663.66L928.31 666.33L928.11 669L927.9 671.66L927.68 674.28L927.47 676.87L927.25 679.41L927.03 681.87L926.8 684.26L926.56 686.55L926.31 688.73L926.06 690.8L925.79 692.72L925.52 694.5L925.23 696.12L924.93 697.55L924.62 698.8L924.29 699.83L923.97 700.63L923.65 701.18L923.39 701.45L923.25 701.5L922.82 701.42L922.36 701.12L921.86 700.57L921.35 699.78L920.86 698.76L920.38 697.52L919.91 696.09L919.47 694.48L919.04 692.71L918.64 690.78L918.24 688.72L917.86 686.54L917.5 684.25L917.14 681.87L916.79 679.4L916.45 676.87L916.12 674.28L915.8 671.65L915.47 669L915.15 666.33L914.83 663.66L914.5 661L914.17 658.37L913.84 655.78L913.5 653.24L913.16 650.77L912.8 648.38L912.43 646.08L912.05 643.89L911.65 641.81L911.24 639.87L910.81 638.07L910.36 636.43L909.88 634.97L909.38 633.68L908.85 632.59L908.29 631.7L907.67 631.03L906.99 630.59L906.25 630.44L905.7 630.66L905.29 631.16L904.94 631.89L904.62 632.84L904.33 634.01L904.05 635.39L903.78 636.97L903.53 638.72L903.29 640.64L903.06 642.71L902.84 644.92L902.63 647.24L902.42 649.66L902.22 652.17L902.03 654.75L901.84 657.38L901.65 660.06L901.47 662.75L901.28 665.46L901.09 668.16L900.91 670.83L900.72 673.47L900.52 676.04L900.32 678.55L900.12 680.97L899.91 683.29L899.69 685.48L899.46 687.55L899.22 689.46L898.97 691.2L898.71 692.76L898.43 694.12L898.14 695.27L897.84 696.18L897.53 696.83L897.24 697.2L896.93 697.31Z"/><text class="lbl" y="552" font-size="44.2"><tspan x="843.33" textLength="130.1" lengthAdjust="spacingAndGlyphs">Digital</tspan> <tspan x="984.48" textLength="66.68" lengthAdjust="spacingAndGlyphs">AM</tspan></text></g>
<g id="fm"><path class="grid" d="M38.5 937.85V1154.05M57.01 937.85V1154.05M75.52 937.85V1154.05M94.04 937.85V1154.05M112.55 937.85V1154.05M131.06 937.85V1154.05M149.57 937.85V1154.05M168.08 937.85V1154.05M186.6 937.85V1154.05M205.11 937.85V1154.05M223.62 937.85V1154.05M242.13 937.85V1154.05M260.64 937.85V1154.05M279.16 937.85V1154.05M297.67 937.85V1154.05M316.18 937.85V1154.05M334.69 937.85V1154.05M353.2 937.85V1154.05M371.72 937.85V1154.05M390.23 937.85V1154.05M408.74 937.85V1154.05M427.25 937.85V1154.05M445.76 937.85V1154.05M464.28 937.85V1154.05M482.79 937.85V1154.05M501.3 937.85V1154.05M519.81 937.85V1154.05M538.32 937.85V1154.05M556.84 937.85V1154.05M575.35 937.85V1154.05M593.86 937.85V1154.05M612.37 937.85V1154.05M630.88 937.85V1154.05M649.4 937.85V1154.05M667.91 937.85V1154.05M686.42 937.85V1154.05M704.93 937.85V1154.05M723.44 937.85V1154.05M741.96 937.85V1154.05M760.47 937.85V1154.05M778.98 937.85V1154.05M38.5 938.35H786.48M38.5 957.05H786.48M38.5 975.75H786.48M38.5 994.45H786.48M38.5 1013.15H786.48M38.5 1031.85H786.48M38.5 1050.55H786.48M38.5 1069.25H786.48M38.5 1087.95H786.48M38.5 1106.65H786.48M38.5 1125.35H786.48M38.5 1144.05H786.48"/><path class="mid" d="M53.75 1050.55H738.75"/><linearGradient id="fade4" gradientUnits="userSpaceOnUse" x1="65" y1="0" x2="727.5" y2="0"><stop offset="0" stop-color="#000" stop-opacity="0.12"/><stop offset="0.04" stop-color="#000" stop-opacity="1"/><stop offset="0.96" stop-color="#000" stop-opacity="1"/><stop offset="1" stop-color="#000" stop-opacity="0.12"/></linearGradient><path class="wave" fill="url(#fade4)" d="M64.96 1012.7L65.52 1012.81L66.02 1013.14L66.51 1013.69L66.98 1014.45L67.44 1015.41L67.87 1016.57L68.28 1017.92L68.67 1019.43L69.03 1021.09L69.38 1022.9L69.71 1024.85L70.02 1026.92L70.32 1029.1L70.6 1031.38L70.87 1033.75L71.13 1036.2L71.38 1038.71L71.62 1041.28L71.86 1043.9L72.09 1046.55L72.32 1049.22L72.55 1051.9L72.78 1054.59L73 1057.26L73.24 1059.91L73.47 1062.53L73.72 1065.1L73.97 1067.62L74.23 1070.07L74.5 1072.45L74.78 1074.74L75.08 1076.93L75.39 1079.01L75.72 1080.96L76.07 1082.79L76.45 1084.48L76.84 1086.01L77.26 1087.39L77.71 1088.59L78.19 1089.62L78.72 1090.46L79.31 1091.11L79.99 1091.54L80.75 1091.71L81.58 1091.58L82.35 1091.19L83.04 1090.59L83.67 1089.79L84.25 1088.81L84.79 1087.66L85.29 1086.35L85.77 1084.88L86.21 1083.27L86.64 1081.52L87.04 1079.64L87.42 1077.64L87.78 1075.54L88.12 1073.34L88.45 1071.04L88.76 1068.67L89.07 1066.23L89.36 1063.73L89.65 1061.18L89.92 1058.59L90.2 1055.97L90.46 1053.33L90.73 1050.69L91 1048.04L91.27 1045.4L91.54 1042.79L91.82 1040.2L92.1 1037.66L92.39 1035.16L92.7 1032.73L93.01 1030.37L93.34 1028.09L93.68 1025.9L94.03 1023.82L94.41 1021.85L94.8 1020L95.22 1018.28L95.65 1016.71L96.11 1015.3L96.59 1014.06L97.09 1013L97.6 1012.14L98.11 1011.49L98.61 1011.05L99.06 1010.83L99.5 1010.76L99.89 1010.84L100.31 1011.08L100.76 1011.52L101.23 1012.17L101.7 1013.03L102.16 1014.09L102.6 1015.33L103.03 1016.74L103.43 1018.31L103.81 1020.03L104.18 1021.88L104.53 1023.85L104.86 1025.93L105.18 1028.12L105.48 1030.4L105.77 1032.76L106.05 1035.19L106.32 1037.68L106.59 1040.23L106.84 1042.81L107.1 1045.43L107.35 1048.06L107.59 1050.71L107.84 1053.36L108.09 1056L108.35 1058.62L108.6 1061.21L108.87 1063.76L109.14 1066.27L109.42 1068.71L109.72 1071.09L110.02 1073.39L110.34 1075.6L110.68 1077.71L111.03 1079.71L111.41 1081.6L111.8 1083.37L112.22 1085L112.67 1086.49L113.15 1087.84L113.67 1089.03L114.24 1090.06L114.88 1090.94L115.62 1091.64L116.5 1092.12L117.5 1092.31L118.53 1092.15L119.47 1091.69L120.27 1091.01L120.98 1090.13L121.61 1089.1L122.18 1087.9L122.72 1086.56L123.21 1085.06L123.68 1083.42L124.12 1081.66L124.53 1079.76L124.92 1077.75L125.29 1075.64L125.65 1073.43L125.99 1071.13L126.31 1068.75L126.62 1066.3L126.92 1063.8L127.22 1061.25L127.5 1058.66L127.78 1056.04L128.06 1053.4L128.33 1050.75L128.61 1048.1L128.88 1045.47L129.16 1042.85L129.45 1040.27L129.74 1037.73L130.04 1035.24L130.35 1032.81L130.67 1030.46L131 1028.18L131.35 1026.01L131.72 1023.93L132.1 1021.97L132.5 1020.14L132.92 1018.44L133.36 1016.89L133.82 1015.51L134.3 1014.3L134.79 1013.29L135.28 1012.49L135.74 1011.91L136.16 1011.56L136.48 1011.4L136.75 1011.37L136.91 1011.41L137.16 1011.55L137.51 1011.89L137.92 1012.46L138.36 1013.27L138.79 1014.28L139.22 1015.5L139.63 1016.88L140.03 1018.43L140.4 1020.13L140.76 1021.97L141.1 1023.93L141.43 1026L141.74 1028.18L142.04 1030.46L142.33 1032.81L142.61 1035.24L142.87 1037.73L143.13 1040.27L143.39 1042.85L143.64 1045.47L143.89 1048.1L144.13 1050.75L144.38 1053.4L144.62 1056.04L144.87 1058.66L145.13 1061.25L145.39 1063.81L145.66 1066.31L145.94 1068.76L146.23 1071.14L146.53 1073.44L146.85 1075.65L147.18 1077.77L147.53 1079.78L147.9 1081.68L148.3 1083.45L148.72 1085.1L149.16 1086.6L149.64 1087.96L150.17 1089.18L150.75 1090.24L151.41 1091.15L152.19 1091.9L153.15 1092.43L154.25 1092.62L155.37 1092.44L156.37 1091.93L157.21 1091.19L157.93 1090.28L158.56 1089.22L159.13 1088L159.65 1086.63L160.14 1085.13L160.59 1083.48L161.02 1081.7L161.42 1079.8L161.8 1077.79L162.17 1075.67L162.51 1073.46L162.84 1071.15L163.15 1068.77L163.46 1066.33L163.75 1063.82L164.03 1061.27L164.31 1058.67L164.58 1056.05L164.85 1053.41L165.12 1050.76L165.38 1048.12L165.65 1045.48L165.92 1042.87L166.2 1040.28L166.48 1037.74L166.77 1035.25L167.07 1032.83L167.39 1030.47L167.71 1028.2L168.05 1026.02L168.4 1023.95L168.77 1021.99L169.16 1020.15L169.57 1018.46L170 1016.91L170.45 1015.53L170.91 1014.32L171.38 1013.31L171.85 1012.51L172.3 1011.93L172.7 1011.58L173 1011.42L173.25 1011.38L173.41 1011.41L173.66 1011.55L174.01 1011.89L174.42 1012.46L174.86 1013.27L175.29 1014.28L175.72 1015.5L176.13 1016.88L176.53 1018.43L176.9 1020.13L177.26 1021.97L177.6 1023.93L177.93 1026L178.24 1028.18L178.54 1030.46L178.83 1032.81L179.11 1035.24L179.37 1037.73L179.63 1040.27L179.89 1042.85L180.14 1045.47L180.39 1048.1L180.63 1050.75L180.88 1053.4L181.12 1056.04L181.37 1058.66L181.63 1061.25L181.89 1063.81L182.16 1066.31L182.44 1068.76L182.73 1071.14L183.03 1073.44L183.35 1075.65L183.68 1077.77L184.03 1079.78L184.4 1081.68L184.8 1083.45L185.22 1085.1L185.66 1086.6L186.14 1087.96L186.67 1089.18L187.25 1090.24L187.91 1091.15L188.69 1091.9L189.65 1092.43L190.75 1092.62L191.88 1092.44L192.88 1091.94L193.73 1091.2L194.46 1090.29L195.09 1089.22L195.67 1088L196.2 1086.64L196.69 1085.13L197.16 1083.48L197.59 1081.71L198 1079.81L198.38 1077.79L198.75 1075.67L199.1 1073.46L199.43 1071.16L199.75 1068.78L200.06 1066.33L200.36 1063.82L200.64 1061.27L200.92 1058.67L201.2 1056.05L201.47 1053.41L201.74 1050.76L202.01 1048.12L202.28 1045.48L202.56 1042.87L202.84 1040.29L203.13 1037.74L203.42 1035.26L203.72 1032.83L204.04 1030.47L204.37 1028.2L204.71 1026.02L205.07 1023.95L205.45 1021.99L205.84 1020.16L206.25 1018.46L206.69 1016.92L207.14 1015.53L207.61 1014.33L208.09 1013.31L208.56 1012.51L209.02 1011.93L209.42 1011.58L209.73 1011.42L210 1011.38L210.16 1011.41L210.41 1011.55L210.76 1011.89L211.17 1012.46L211.61 1013.27L212.04 1014.28L212.47 1015.5L212.88 1016.88L213.28 1018.43L213.65 1020.13L214.01 1021.97L214.35 1023.93L214.68 1026L214.99 1028.18L215.29 1030.46L215.58 1032.81L215.86 1035.24L216.12 1037.73L216.38 1040.27L216.64 1042.85L216.89 1045.47L217.14 1048.1L217.38 1050.75L217.63 1053.4L217.87 1056.04L218.12 1058.66L218.38 1061.25L218.64 1063.81L218.91 1066.31L219.19 1068.76L219.48 1071.14L219.78 1073.44L220.1 1075.65L220.43 1077.77L220.78 1079.78L221.15 1081.68L221.55 1083.45L221.97 1085.1L222.41 1086.6L222.89 1087.96L223.42 1089.18L224 1090.24L224.66 1091.15L225.44 1091.9L226.4 1092.43L227.5 1092.62L228.62 1092.44L229.61 1091.93L230.44 1091.19L231.15 1090.28L231.77 1089.21L232.33 1087.99L232.85 1086.63L233.33 1085.12L233.78 1083.48L234.2 1081.7L234.6 1079.8L234.97 1077.79L235.33 1075.67L235.67 1073.45L235.99 1071.15L236.3 1068.77L236.6 1066.32L236.89 1063.82L237.17 1061.26L237.45 1058.67L237.71 1056.05L237.98 1053.41L238.24 1050.76L238.51 1048.11L238.77 1045.48L239.04 1042.86L239.31 1040.28L239.59 1037.74L239.88 1035.25L240.17 1032.82L240.48 1030.47L240.8 1028.2L241.14 1026.02L241.48 1023.94L241.85 1021.98L242.24 1020.15L242.64 1018.45L243.06 1016.91L243.5 1015.52L243.96 1014.32L244.42 1013.3L244.89 1012.5L245.33 1011.92L245.72 1011.57L246.01 1011.42L246.25 1011.38L246.41 1011.41L246.66 1011.55L247.01 1011.89L247.42 1012.46L247.86 1013.27L248.29 1014.28L248.72 1015.5L249.13 1016.88L249.53 1018.43L249.9 1020.13L250.26 1021.97L250.6 1023.93L250.93 1026L251.24 1028.18L251.54 1030.46L251.83 1032.81L252.11 1035.24L252.37 1037.73L252.63 1040.27L252.89 1042.85L253.14 1045.47L253.39 1048.1L253.63 1050.75L253.88 1053.4L254.12 1056.04L254.37 1058.66L254.63 1061.25L254.89 1063.81L255.16 1066.31L255.44 1068.76L255.73 1071.14L256.03 1073.44L256.35 1075.65L256.68 1077.77L257.03 1079.78L257.4 1081.68L257.8 1083.45L258.22 1085.1L258.66 1086.6L259.14 1087.96L259.67 1089.18L260.25 1090.24L260.91 1091.15L261.69 1091.9L262.65 1092.43L263.75 1092.62L264.95 1092.46L266.05 1092L267.03 1091.29L267.89 1090.38L268.65 1089.31L269.34 1088.09L269.98 1086.72L270.57 1085.2L271.13 1083.55L271.65 1081.76L272.14 1079.86L272.6 1077.84L273.04 1075.72L273.46 1073.5L273.85 1071.19L274.24 1068.81L274.6 1066.36L274.96 1063.85L275.3 1061.3L275.64 1058.7L275.97 1056.08L276.29 1053.44L276.61 1050.79L276.94 1048.14L277.26 1045.51L277.59 1042.9L277.92 1040.31L278.27 1037.77L278.62 1035.29L278.98 1032.86L279.36 1030.51L279.75 1028.24L280.16 1026.07L280.59 1024L281.04 1022.04L281.51 1020.21L282 1018.52L282.51 1016.98L283.05 1015.61L283.61 1014.41L284.17 1013.41L284.74 1012.61L285.3 1012.02L285.81 1011.64L286.28 1011.44L286.76 1011.37L287.69 1011.46L288.58 1011.69L289.43 1012.08L290.27 1012.63L291.09 1013.35L291.9 1014.23L292.69 1015.28L293.45 1016.48L294.18 1017.84L294.89 1019.33L295.57 1020.95L296.21 1022.69L296.83 1024.54L297.43 1026.49L298 1028.54L298.55 1030.66L299.08 1032.87L299.59 1035.13L300.09 1037.46L300.57 1039.83L301.04 1042.24L301.51 1044.68L301.97 1047.15L302.42 1049.63L302.87 1052.12L303.33 1054.6L303.79 1057.08L304.26 1059.53L304.73 1061.96L305.22 1064.36L305.72 1066.71L306.24 1069.01L306.78 1071.25L307.34 1073.43L307.93 1075.53L308.55 1077.55L309.19 1079.48L309.88 1081.31L310.6 1083.04L311.36 1084.65L312.18 1086.15L313.05 1087.53L313.98 1088.77L314.98 1089.87L316.07 1090.81L317.24 1091.58L318.5 1092.15L319.84 1092.5L321.25 1092.62L322.76 1092.51L324.2 1092.16L325.55 1091.6L326.83 1090.85L328.01 1089.91L329.11 1088.82L330.13 1087.58L331.09 1086.2L331.99 1084.7L332.83 1083.08L333.63 1081.35L334.38 1079.52L335.1 1077.58L335.78 1075.56L336.42 1073.46L337.04 1071.28L337.64 1069.04L338.21 1066.74L338.76 1064.38L339.3 1061.99L339.82 1059.56L340.34 1057.1L340.85 1054.63L341.35 1052.14L341.85 1049.65L342.35 1047.17L342.85 1044.71L343.37 1042.26L343.89 1039.85L344.42 1037.48L344.96 1035.16L345.53 1032.9L346.11 1030.7L346.71 1028.57L347.34 1026.53L348 1024.58L348.68 1022.73L349.39 1020.99L350.14 1019.38L350.91 1017.89L351.72 1016.54L352.56 1015.33L353.42 1014.28L354.32 1013.39L355.24 1012.67L356.18 1012.11L357.15 1011.7L358.17 1011.46L359.25 1011.38L360.29 1011.46L361.27 1011.7L362.21 1012.1L363.12 1012.66L364.01 1013.38L364.88 1014.27L365.73 1015.32L366.54 1016.52L367.33 1017.87L368.09 1019.36L368.81 1020.98L369.5 1022.72L370.17 1024.57L370.81 1026.52L371.42 1028.56L372.01 1030.69L372.57 1032.89L373.12 1035.15L373.66 1037.48L374.17 1039.85L374.68 1042.26L375.18 1044.7L375.67 1047.17L376.16 1049.65L376.64 1052.13L377.13 1054.62L377.63 1057.09L378.13 1059.55L378.64 1061.98L379.16 1064.38L379.7 1066.73L380.26 1069.03L380.84 1071.27L381.44 1073.45L382.07 1075.55L382.73 1077.57L383.42 1079.51L384.16 1081.34L384.93 1083.07L385.75 1084.69L386.63 1086.19L387.56 1087.57L388.56 1088.81L389.63 1089.9L390.79 1090.84L392.03 1091.6L393.36 1092.16L394.77 1092.51L396.25 1092.62L397.71 1092.51L399.1 1092.16L400.41 1091.59L401.63 1090.83L402.76 1089.89L403.82 1088.79L404.79 1087.55L405.71 1086.18L406.56 1084.68L407.37 1083.06L408.13 1081.33L408.84 1079.5L409.53 1077.57L410.17 1075.55L410.79 1073.44L411.38 1071.27L411.95 1069.02L412.49 1066.72L413.02 1064.37L413.53 1061.97L414.03 1059.54L414.52 1057.09L415.01 1054.61L415.49 1052.13L415.96 1049.64L416.44 1047.16L416.92 1044.69L417.41 1042.25L417.91 1039.84L418.42 1037.47L418.94 1035.15L419.47 1032.88L420.03 1030.68L420.61 1028.55L421.21 1026.51L421.83 1024.56L422.48 1022.71L423.16 1020.97L423.87 1019.35L424.61 1017.86L425.38 1016.51L426.18 1015.31L427.01 1014.26L427.86 1013.37L428.73 1012.65L429.62 1012.09L430.54 1011.7L431.49 1011.46L432.5 1011.38L433.54 1011.46L434.52 1011.7L435.46 1012.1L436.37 1012.66L437.26 1013.38L438.13 1014.27L438.98 1015.32L439.79 1016.52L440.58 1017.87L441.34 1019.36L442.06 1020.98L442.75 1022.72L443.42 1024.57L444.06 1026.52L444.67 1028.56L445.26 1030.69L445.82 1032.89L446.37 1035.15L446.91 1037.48L447.42 1039.85L447.93 1042.26L448.43 1044.7L448.92 1047.17L449.41 1049.65L449.89 1052.13L450.38 1054.62L450.88 1057.09L451.38 1059.55L451.89 1061.98L452.41 1064.38L452.95 1066.73L453.51 1069.03L454.09 1071.27L454.69 1073.45L455.32 1075.55L455.98 1077.57L456.67 1079.51L457.41 1081.34L458.18 1083.07L459 1084.69L459.88 1086.19L460.81 1087.57L461.81 1088.81L462.88 1089.9L464.04 1090.84L465.28 1091.6L466.61 1092.16L468.02 1092.51L469.5 1092.62L470.97 1092.51L472.38 1092.16L473.7 1091.59L474.94 1090.83L476.08 1089.9L477.15 1088.8L478.14 1087.56L479.07 1086.19L479.94 1084.69L480.75 1083.07L481.52 1081.34L482.25 1079.5L482.94 1077.57L483.6 1075.55L484.22 1073.45L484.82 1071.27L485.39 1069.03L485.95 1066.73L486.48 1064.37L487 1061.98L487.51 1059.55L488.01 1057.09L488.5 1054.62L488.98 1052.13L489.47 1049.64L489.95 1047.16L490.44 1044.7L490.93 1042.26L491.44 1039.84L491.95 1037.47L492.48 1035.15L493.02 1032.88L493.59 1030.68L494.17 1028.56L494.78 1026.52L495.41 1024.57L496.08 1022.72L496.76 1020.98L497.48 1019.36L498.24 1017.87L499.02 1016.52L499.83 1015.31L500.67 1014.26L501.53 1013.38L502.41 1012.66L503.32 1012.1L504.25 1011.7L505.22 1011.46L506.24 1011.37L506.66 1011.43L507.09 1011.63L507.58 1012L508.1 1012.58L508.65 1013.38L509.19 1014.39L509.73 1015.59L510.24 1016.97L510.73 1018.51L511.2 1020.2L511.65 1022.03L512.08 1023.98L512.49 1026.05L512.88 1028.23L513.26 1030.5L513.62 1032.85L513.97 1035.28L514.3 1037.77L514.63 1040.31L514.95 1042.89L515.27 1045.5L515.58 1048.14L515.88 1050.78L516.19 1053.43L516.5 1056.07L516.82 1058.69L517.14 1061.29L517.47 1063.84L517.81 1066.35L518.16 1068.8L518.52 1071.18L518.91 1073.49L519.3 1075.71L519.72 1077.83L520.17 1079.84L520.64 1081.75L521.13 1083.53L521.66 1085.18L522.23 1086.7L522.84 1088.07L523.5 1089.29L524.23 1090.36L525.05 1091.27L525.99 1091.98L527.07 1092.46L528.25 1092.62L529.38 1092.44L530.38 1091.94L531.23 1091.2L531.96 1090.29L532.59 1089.22L533.17 1088L533.7 1086.64L534.19 1085.13L534.66 1083.48L535.09 1081.71L535.5 1079.81L535.88 1077.79L536.25 1075.67L536.6 1073.46L536.93 1071.16L537.25 1068.78L537.56 1066.33L537.86 1063.82L538.14 1061.27L538.42 1058.67L538.7 1056.05L538.97 1053.41L539.24 1050.76L539.51 1048.12L539.78 1045.48L540.06 1042.87L540.34 1040.29L540.63 1037.74L540.92 1035.26L541.22 1032.83L541.54 1030.47L541.87 1028.2L542.21 1026.02L542.57 1023.95L542.95 1021.99L543.34 1020.16L543.75 1018.46L544.19 1016.92L544.64 1015.53L545.11 1014.33L545.59 1013.31L546.06 1012.51L546.52 1011.93L546.92 1011.58L547.23 1011.42L547.5 1011.38L547.66 1011.41L547.91 1011.55L548.26 1011.89L548.67 1012.46L549.11 1013.27L549.54 1014.28L549.97 1015.5L550.38 1016.88L550.78 1018.43L551.15 1020.13L551.51 1021.97L551.85 1023.93L552.18 1026L552.49 1028.18L552.79 1030.46L553.08 1032.81L553.36 1035.24L553.62 1037.73L553.88 1040.27L554.14 1042.85L554.39 1045.47L554.64 1048.1L554.88 1050.75L555.13 1053.4L555.37 1056.04L555.62 1058.66L555.88 1061.25L556.14 1063.81L556.41 1066.31L556.69 1068.76L556.98 1071.14L557.28 1073.44L557.6 1075.65L557.93 1077.77L558.28 1079.78L558.65 1081.68L559.05 1083.45L559.47 1085.1L559.91 1086.6L560.39 1087.96L560.92 1089.18L561.5 1090.24L562.16 1091.15L562.94 1091.9L563.9 1092.43L565 1092.62L566.13 1092.44L567.13 1091.94L567.98 1091.2L568.71 1090.29L569.34 1089.22L569.92 1088L570.45 1086.64L570.94 1085.13L571.41 1083.48L571.84 1081.71L572.25 1079.81L572.63 1077.79L573 1075.67L573.35 1073.46L573.68 1071.16L574 1068.78L574.31 1066.33L574.61 1063.82L574.89 1061.27L575.17 1058.67L575.45 1056.05L575.72 1053.41L575.99 1050.76L576.26 1048.12L576.53 1045.48L576.81 1042.87L577.09 1040.29L577.38 1037.74L577.67 1035.26L577.97 1032.83L578.29 1030.47L578.62 1028.2L578.96 1026.02L579.32 1023.95L579.7 1021.99L580.09 1020.16L580.5 1018.46L580.94 1016.92L581.39 1015.53L581.86 1014.33L582.34 1013.31L582.81 1012.51L583.27 1011.93L583.67 1011.58L583.98 1011.42L584.25 1011.38L584.41 1011.41L584.66 1011.55L585.01 1011.89L585.42 1012.46L585.86 1013.27L586.29 1014.28L586.72 1015.5L587.13 1016.88L587.53 1018.43L587.9 1020.13L588.26 1021.97L588.6 1023.93L588.93 1026L589.24 1028.18L589.54 1030.46L589.83 1032.81L590.11 1035.24L590.37 1037.73L590.63 1040.27L590.89 1042.85L591.14 1045.47L591.39 1048.1L591.63 1050.75L591.88 1053.4L592.12 1056.04L592.37 1058.66L592.63 1061.25L592.89 1063.81L593.16 1066.31L593.44 1068.76L593.73 1071.14L594.03 1073.44L594.35 1075.65L594.68 1077.77L595.03 1079.78L595.4 1081.68L595.8 1083.45L596.22 1085.1L596.66 1086.6L597.14 1087.96L597.67 1089.18L598.25 1090.24L598.91 1091.15L599.69 1091.9L600.65 1092.43L601.75 1092.62L602.87 1092.44L603.87 1091.93L604.71 1091.19L605.43 1090.28L606.06 1089.22L606.63 1088L607.15 1086.63L607.64 1085.13L608.09 1083.48L608.52 1081.7L608.92 1079.8L609.3 1077.79L609.67 1075.67L610.01 1073.46L610.34 1071.15L610.65 1068.77L610.96 1066.33L611.25 1063.82L611.53 1061.27L611.81 1058.67L612.08 1056.05L612.35 1053.41L612.62 1050.76L612.88 1048.12L613.15 1045.48L613.42 1042.87L613.7 1040.28L613.98 1037.74L614.27 1035.25L614.57 1032.83L614.89 1030.47L615.21 1028.2L615.55 1026.02L615.9 1023.95L616.27 1021.99L616.66 1020.15L617.07 1018.46L617.5 1016.91L617.95 1015.53L618.41 1014.32L618.88 1013.31L619.35 1012.51L619.8 1011.93L620.2 1011.58L620.5 1011.42L620.75 1011.38L620.94 1011.41L621.21 1011.56L621.57 1011.9L622 1012.48L622.44 1013.28L622.89 1014.3L623.33 1015.51L623.75 1016.89L624.16 1018.44L624.55 1020.14L624.92 1021.97L625.27 1023.93L625.6 1026.01L625.93 1028.19L626.23 1030.46L626.53 1032.82L626.81 1035.24L627.09 1037.73L627.36 1040.28L627.62 1042.86L627.87 1045.47L628.13 1048.11L628.38 1050.76L628.63 1053.4L628.89 1056.04L629.15 1058.66L629.41 1061.26L629.68 1063.81L629.95 1066.32L630.24 1068.76L630.54 1071.14L630.85 1073.45L631.18 1075.66L631.52 1077.78L631.88 1079.79L632.26 1081.69L632.67 1083.46L633.1 1085.11L633.56 1086.61L634.05 1087.97L634.59 1089.19L635.19 1090.25L635.87 1091.17L636.67 1091.91L637.64 1092.43L638.75 1092.62L639.87 1092.44L640.86 1091.93L641.69 1091.19L642.4 1090.28L643.02 1089.21L643.58 1087.99L644.1 1086.63L644.58 1085.12L645.03 1083.48L645.45 1081.7L645.85 1079.8L646.22 1077.79L646.58 1075.67L646.92 1073.45L647.24 1071.15L647.55 1068.77L647.85 1066.32L648.14 1063.82L648.42 1061.26L648.7 1058.67L648.96 1056.05L649.23 1053.41L649.49 1050.76L649.76 1048.11L650.02 1045.48L650.29 1042.86L650.56 1040.28L650.84 1037.74L651.13 1035.25L651.42 1032.82L651.73 1030.47L652.05 1028.2L652.39 1026.02L652.73 1023.94L653.1 1021.98L653.49 1020.15L653.89 1018.45L654.31 1016.91L654.75 1015.52L655.21 1014.32L655.67 1013.3L656.14 1012.5L656.58 1011.92L656.96 1011.56L657.26 1011.4L657.5 1011.34L657.68 1011.37L657.94 1011.5L658.3 1011.85L658.73 1012.42L659.18 1013.23L659.62 1014.25L660.06 1015.47L660.48 1016.86L660.88 1018.41L661.26 1020.11L661.63 1021.94L661.98 1023.91L662.31 1025.98L662.63 1028.17L662.93 1030.44L663.22 1032.8L663.51 1035.22L663.78 1037.71L664.04 1040.26L664.3 1042.84L664.55 1045.45L664.81 1048.09L665.06 1050.74L665.31 1053.38L665.56 1056.02L665.81 1058.64L666.07 1061.23L666.34 1063.79L666.61 1066.29L666.89 1068.74L667.19 1071.11L667.49 1073.41L667.82 1075.62L668.15 1077.73L668.51 1079.74L668.89 1081.63L669.28 1083.4L669.71 1085.03L670.16 1086.52L670.64 1087.87L671.16 1089.06L671.73 1090.09L672.38 1090.96L673.12 1091.66L674 1092.14L675 1092.31L676.02 1092.13L676.94 1091.66L677.73 1090.96L678.41 1090.09L679.02 1089.05L679.57 1087.86L680.09 1086.51L680.57 1085.02L681.02 1083.38L681.44 1081.62L681.84 1079.72L682.22 1077.72L682.58 1075.6L682.92 1073.39L683.25 1071.1L683.56 1068.72L683.87 1066.27L684.16 1063.77L684.44 1061.22L684.72 1058.63L684.99 1056L685.25 1053.37L685.52 1050.72L685.79 1048.07L686.05 1045.43L686.32 1042.82L686.6 1040.23L686.88 1037.69L687.17 1035.19L687.47 1032.76L687.78 1030.4L688.11 1028.12L688.44 1025.94L688.8 1023.85L689.17 1021.88L689.56 1020.04L689.97 1018.32L690.4 1016.75L690.86 1015.34L691.33 1014.1L691.82 1013.04L692.33 1012.18L692.83 1011.52L693.33 1011.08L693.79 1010.83L694.25 1010.74L694.65 1010.8L695.07 1011.03L695.54 1011.46L696.02 1012.11L696.51 1012.98L696.98 1014.04L697.44 1015.28L697.87 1016.7L698.28 1018.27L698.67 1019.99L699.05 1021.84L699.4 1023.81L699.74 1025.9L700.06 1028.08L700.37 1030.36L700.67 1032.73L700.96 1035.16L701.23 1037.65L701.5 1040.2L701.76 1042.78L702.02 1045.4L702.28 1048.03L702.53 1050.68L702.78 1053.33L703.04 1055.97L703.3 1058.59L703.56 1061.17L703.83 1063.72L704.11 1066.23L704.39 1068.67L704.69 1071.04L705 1073.33L705.33 1075.53L705.67 1077.64L706.03 1079.63L706.41 1081.51L706.81 1083.26L707.23 1084.87L707.68 1086.34L708.16 1087.65L708.67 1088.8L709.21 1089.78L709.81 1090.57L710.47 1091.18L711.2 1091.57L712 1091.7L712.74 1091.54L713.4 1091.12L713.97 1090.49L714.48 1089.67L714.95 1088.67L715.38 1087.49L715.79 1086.15L716.17 1084.66L716.53 1083.01L716.87 1081.22L717.2 1079.31L717.5 1077.27L717.79 1075.13L718.07 1072.88L718.34 1070.55L718.59 1068.14L718.83 1065.66L719.07 1063.12L719.3 1060.54L719.53 1057.92L719.75 1055.27L719.97 1052.61L720.18 1049.94L720.4 1047.28L720.63 1044.64L720.85 1042.02L721.08 1039.44L721.32 1036.91L721.56 1034.43L721.81 1032.02L722.08 1029.7L722.35 1027.46L722.64 1025.32L722.95 1023.3L723.27 1021.4L723.61 1019.62L723.96 1018L724.34 1016.52L724.74 1015.22L725.16 1014.09L725.6 1013.15L726.05 1012.41L726.53 1011.88L727.01 1011.56L727.54 1011.45L727.46 1011.05L726.85 1011.17L726.24 1011.54L725.69 1012.13L725.18 1012.92L724.71 1013.9L724.27 1015.06L723.85 1016.39L723.45 1017.87L723.08 1019.52L722.73 1021.3L722.4 1023.21L722.08 1025.24L721.78 1027.38L721.5 1029.63L721.22 1031.96L720.96 1034.37L720.71 1036.85L720.46 1039.38L720.23 1041.96L719.99 1044.58L719.76 1047.23L719.54 1049.89L719.31 1052.56L719.09 1055.22L718.86 1057.86L718.62 1060.48L718.39 1063.06L718.14 1065.59L717.89 1068.06L717.63 1070.47L717.36 1072.8L717.07 1075.03L716.77 1077.16L716.46 1079.19L716.13 1081.09L715.78 1082.85L715.41 1084.47L715.02 1085.94L714.62 1087.23L714.19 1088.35L713.74 1089.27L713.29 1089.97L712.83 1090.46L712.4 1090.72L712 1090.8L711.51 1090.7L711.03 1090.42L710.54 1089.94L710.05 1089.25L709.56 1088.36L709.1 1087.28L708.66 1086.02L708.24 1084.59L707.83 1083.01L707.45 1081.29L707.09 1079.43L706.75 1077.46L706.42 1075.37L706.11 1073.18L705.81 1070.89L705.52 1068.53L705.24 1066.1L704.98 1063.6L704.72 1061.06L704.46 1058.47L704.21 1055.85L703.97 1053.22L703.72 1050.57L703.48 1047.92L703.23 1045.28L702.98 1042.66L702.72 1040.07L702.46 1037.52L702.19 1035.02L701.92 1032.58L701.63 1030.2L701.33 1027.91L701.01 1025.7L700.68 1023.6L700.33 1021.6L699.97 1019.71L699.58 1017.96L699.17 1016.34L698.73 1014.86L698.26 1013.53L697.76 1012.37L697.22 1011.36L696.61 1010.52L695.93 1009.87L695.14 1009.42L694.25 1009.26L693.32 1009.4L692.46 1009.82L691.71 1010.46L691.03 1011.29L690.42 1012.3L689.86 1013.47L689.33 1014.8L688.84 1016.28L688.38 1017.9L687.94 1019.66L687.53 1021.55L687.14 1023.55L686.77 1025.66L686.41 1027.87L686.07 1030.17L685.75 1032.54L685.44 1034.98L685.14 1037.49L684.85 1040.04L684.56 1042.63L684.28 1045.25L684 1047.89L683.73 1050.53L683.46 1053.18L683.18 1055.82L682.9 1058.43L682.62 1061.02L682.32 1063.56L682.02 1066.05L681.71 1068.48L681.39 1070.84L681.06 1073.11L680.71 1075.3L680.34 1077.38L679.96 1079.34L679.56 1081.18L679.13 1082.89L678.69 1084.45L678.22 1085.85L677.74 1087.07L677.24 1088.11L676.73 1088.94L676.23 1089.56L675.77 1089.95L675.37 1090.14L675 1090.19L674.73 1090.13L674.41 1089.94L674.02 1089.55L673.59 1088.94L673.15 1088.1L672.71 1087.06L672.29 1085.83L671.88 1084.43L671.49 1082.87L671.12 1081.17L670.76 1079.33L670.42 1077.36L670.1 1075.28L669.79 1073.1L669.5 1070.82L669.22 1068.46L668.94 1066.03L668.68 1063.54L668.43 1061L668.17 1058.41L667.93 1055.8L667.69 1053.16L667.44 1050.51L667.2 1047.87L666.96 1045.23L666.71 1042.6L666.46 1040.01L666.2 1037.46L665.94 1034.95L665.67 1032.51L665.38 1030.13L665.08 1027.83L664.77 1025.62L664.44 1023.5L664.1 1021.49L663.73 1019.59L663.35 1017.82L662.94 1016.18L662.5 1014.68L662.02 1013.32L661.51 1012.11L660.94 1011.05L660.3 1010.14L659.53 1009.39L658.59 1008.86L657.5 1008.66L656.39 1008.83L655.4 1009.33L654.56 1010.06L653.85 1010.97L653.23 1012.04L652.67 1013.26L652.15 1014.62L651.67 1016.13L651.22 1017.77L650.8 1019.55L650.4 1021.45L650.03 1023.46L649.67 1025.58L649.33 1027.8L649.01 1030.1L648.7 1032.48L648.4 1034.93L648.11 1037.43L647.83 1039.99L647.55 1042.58L647.29 1045.2L647.02 1047.84L646.76 1050.49L646.49 1053.14L646.23 1055.77L645.96 1058.39L645.69 1060.97L645.41 1063.51L645.12 1066L644.83 1068.43L644.52 1070.78L644.2 1073.05L643.86 1075.23L643.52 1077.31L643.15 1079.27L642.76 1081.1L642.36 1082.8L641.94 1084.34L641.5 1085.73L641.04 1086.93L640.58 1087.95L640.11 1088.75L639.67 1089.33L639.28 1089.68L638.99 1089.83L638.75 1089.88L638.56 1089.84L638.29 1089.69L637.93 1089.35L637.5 1088.77L637.06 1087.97L636.61 1086.95L636.17 1085.74L635.75 1084.36L635.34 1082.81L634.95 1081.11L634.58 1079.28L634.23 1077.32L633.9 1075.24L633.57 1073.06L633.27 1070.79L632.97 1068.43L632.69 1066.01L632.41 1063.52L632.14 1060.97L631.88 1058.39L631.63 1055.78L631.37 1053.14L631.12 1050.49L630.87 1047.85L630.61 1045.21L630.35 1042.59L630.09 1039.99L629.82 1037.44L629.55 1034.93L629.26 1032.49L628.96 1030.11L628.65 1027.8L628.32 1025.59L627.98 1023.47L627.62 1021.46L627.24 1019.56L626.83 1017.79L626.4 1016.14L625.94 1014.64L625.45 1013.28L624.91 1012.06L624.31 1011L623.63 1010.08L622.83 1009.34L621.86 1008.82L620.75 1008.62L619.63 1008.81L618.63 1009.32L617.79 1010.06L617.07 1010.97L616.44 1012.03L615.87 1013.25L615.35 1014.62L614.86 1016.12L614.41 1017.77L613.98 1019.55L613.58 1021.45L613.2 1023.46L612.83 1025.58L612.49 1027.79L612.16 1030.1L611.85 1032.48L611.54 1034.92L611.25 1037.43L610.97 1039.98L610.69 1042.58L610.42 1045.2L610.15 1047.84L609.88 1050.49L609.62 1053.13L609.35 1055.77L609.08 1058.38L608.8 1060.97L608.52 1063.51L608.23 1066L607.93 1068.42L607.61 1070.78L607.29 1073.05L606.95 1075.23L606.6 1077.3L606.23 1079.26L605.84 1081.1L605.43 1082.79L605 1084.34L604.55 1085.72L604.09 1086.93L603.62 1087.94L603.15 1088.74L602.7 1089.32L602.3 1089.67L602 1089.83L601.75 1089.88L601.59 1089.84L601.34 1089.7L600.99 1089.36L600.58 1088.79L600.14 1087.98L599.71 1086.97L599.28 1085.75L598.87 1084.37L598.47 1082.82L598.1 1081.12L597.74 1079.28L597.4 1077.32L597.07 1075.25L596.76 1073.07L596.46 1070.79L596.17 1068.44L595.89 1066.01L595.63 1063.52L595.37 1060.98L595.11 1058.4L594.86 1055.78L594.61 1053.15L594.37 1050.5L594.12 1047.85L593.88 1045.21L593.63 1042.59L593.37 1040L593.11 1037.44L592.84 1034.94L592.56 1032.49L592.27 1030.11L591.97 1027.81L591.65 1025.6L591.32 1023.48L590.97 1021.47L590.6 1019.57L590.2 1017.8L589.78 1016.15L589.34 1014.65L588.86 1013.29L588.33 1012.07L587.75 1011.01L587.09 1010.1L586.31 1009.35L585.35 1008.82L584.25 1008.62L583.12 1008.81L582.12 1009.31L581.27 1010.05L580.54 1010.96L579.91 1012.03L579.33 1013.25L578.8 1014.61L578.31 1016.12L577.84 1017.77L577.41 1019.54L577 1021.44L576.62 1023.46L576.25 1025.58L575.9 1027.79L575.57 1030.09L575.25 1032.47L574.94 1034.92L574.64 1037.43L574.36 1039.98L574.08 1042.58L573.8 1045.2L573.53 1047.84L573.26 1050.49L572.99 1053.13L572.72 1055.77L572.44 1058.38L572.16 1060.96L571.87 1063.51L571.58 1065.99L571.28 1068.42L570.96 1070.78L570.63 1073.05L570.29 1075.23L569.93 1077.3L569.55 1079.26L569.16 1081.09L568.75 1082.79L568.31 1084.33L567.86 1085.72L567.39 1086.92L566.91 1087.94L566.44 1088.74L565.98 1089.32L565.58 1089.67L565.27 1089.83L565 1089.88L564.84 1089.84L564.59 1089.7L564.24 1089.36L563.83 1088.79L563.39 1087.98L562.96 1086.97L562.53 1085.75L562.12 1084.37L561.72 1082.82L561.35 1081.12L560.99 1079.28L560.65 1077.32L560.32 1075.25L560.01 1073.07L559.71 1070.79L559.42 1068.44L559.14 1066.01L558.88 1063.52L558.62 1060.98L558.36 1058.4L558.11 1055.78L557.86 1053.15L557.62 1050.5L557.37 1047.85L557.13 1045.21L556.88 1042.59L556.62 1040L556.36 1037.44L556.09 1034.94L555.81 1032.49L555.52 1030.11L555.22 1027.81L554.9 1025.6L554.57 1023.48L554.22 1021.47L553.85 1019.57L553.45 1017.8L553.03 1016.15L552.59 1014.65L552.11 1013.29L551.58 1012.07L551 1011.01L550.34 1010.1L549.56 1009.35L548.6 1008.82L547.5 1008.62L546.37 1008.81L545.37 1009.31L544.52 1010.05L543.79 1010.96L543.16 1012.03L542.58 1013.25L542.05 1014.61L541.56 1016.12L541.09 1017.77L540.66 1019.54L540.25 1021.44L539.87 1023.46L539.5 1025.58L539.15 1027.79L538.82 1030.09L538.5 1032.47L538.19 1034.92L537.89 1037.43L537.61 1039.98L537.33 1042.58L537.05 1045.2L536.78 1047.84L536.51 1050.49L536.24 1053.13L535.97 1055.77L535.69 1058.38L535.41 1060.96L535.12 1063.51L534.83 1065.99L534.53 1068.42L534.21 1070.78L533.88 1073.05L533.54 1075.23L533.18 1077.3L532.8 1079.26L532.41 1081.09L532 1082.79L531.56 1084.33L531.11 1085.72L530.64 1086.92L530.16 1087.94L529.69 1088.74L529.23 1089.32L528.83 1089.67L528.52 1089.83L528.25 1089.88L527.84 1089.82L527.41 1089.62L526.92 1089.25L526.4 1088.67L525.85 1087.87L525.31 1086.86L524.77 1085.66L524.26 1084.28L523.77 1082.74L523.3 1081.05L522.85 1079.22L522.42 1077.27L522.01 1075.2L521.62 1073.02L521.24 1070.75L520.88 1068.4L520.53 1065.97L520.2 1063.48L519.87 1060.94L519.55 1058.36L519.23 1055.75L518.92 1053.11L518.62 1050.47L518.31 1047.82L518 1045.18L517.68 1042.56L517.36 1039.96L517.03 1037.41L516.69 1034.9L516.34 1032.45L515.98 1030.07L515.59 1027.76L515.2 1025.54L514.78 1023.42L514.33 1021.41L513.86 1019.5L513.37 1017.72L512.84 1016.07L512.27 1014.55L511.66 1013.18L511 1011.96L510.27 1010.89L509.45 1009.98L508.51 1009.27L507.43 1008.79L506.26 1008.63L504.78 1008.74L503.37 1009.09L502.05 1009.66L500.81 1010.42L499.67 1011.35L498.6 1012.45L497.61 1013.69L496.68 1015.06L495.81 1016.56L495 1018.18L494.23 1019.91L493.5 1021.75L492.81 1023.68L492.15 1025.7L491.53 1027.8L490.93 1029.98L490.36 1032.22L489.8 1034.52L489.27 1036.88L488.75 1039.27L488.24 1041.7L487.74 1044.16L487.25 1046.63L486.77 1049.12L486.28 1051.61L485.8 1054.09L485.31 1056.55L484.82 1058.99L484.31 1061.41L483.8 1063.78L483.27 1066.1L482.73 1068.37L482.16 1070.57L481.58 1072.69L480.97 1074.73L480.34 1076.68L479.67 1078.53L478.99 1080.27L478.27 1081.89L477.51 1083.38L476.73 1084.73L475.92 1085.94L475.08 1086.99L474.22 1087.87L473.34 1088.59L472.43 1089.15L471.5 1089.55L470.53 1089.79L469.5 1089.88L468.46 1089.79L467.48 1089.55L466.54 1089.15L465.63 1088.59L464.74 1087.87L463.87 1086.98L463.02 1085.93L462.21 1084.73L461.42 1083.38L460.66 1081.89L459.94 1080.27L459.25 1078.53L458.58 1076.68L457.94 1074.73L457.33 1072.69L456.74 1070.56L456.18 1068.36L455.63 1066.1L455.09 1063.77L454.58 1061.4L454.07 1058.99L453.57 1056.55L453.08 1054.08L452.59 1051.6L452.11 1049.12L451.62 1046.63L451.12 1044.16L450.62 1041.7L450.11 1039.27L449.59 1036.87L449.05 1034.52L448.49 1032.22L447.91 1029.98L447.31 1027.8L446.68 1025.7L446.02 1023.68L445.33 1021.74L444.59 1019.91L443.82 1018.18L443 1016.56L442.12 1015.06L441.19 1013.68L440.19 1012.44L439.12 1011.35L437.96 1010.41L436.72 1009.65L435.39 1009.09L433.98 1008.74L432.5 1008.62L431.04 1008.74L429.65 1009.09L428.34 1009.66L427.12 1010.42L425.99 1011.36L424.93 1012.46L423.96 1013.7L423.04 1015.07L422.19 1016.57L421.38 1018.19L420.62 1019.92L419.91 1021.75L419.22 1023.68L418.58 1025.7L417.96 1027.81L417.37 1029.98L416.8 1032.23L416.26 1034.53L415.73 1036.88L415.22 1039.28L414.72 1041.71L414.23 1044.16L413.74 1046.64L413.26 1049.12L412.79 1051.61L412.31 1054.09L411.83 1056.56L411.34 1059L410.84 1061.41L410.33 1063.78L409.81 1066.1L409.28 1068.37L408.72 1070.57L408.14 1072.7L407.54 1074.74L406.92 1076.69L406.27 1078.54L405.59 1080.28L404.88 1081.9L404.14 1083.39L403.37 1084.74L402.57 1085.94L401.74 1086.99L400.89 1087.88L400.02 1088.6L399.13 1089.16L398.21 1089.55L397.26 1089.79L396.25 1089.88L395.21 1089.79L394.23 1089.55L393.29 1089.15L392.38 1088.59L391.49 1087.87L390.62 1086.98L389.77 1085.93L388.96 1084.73L388.17 1083.38L387.41 1081.89L386.69 1080.27L386 1078.53L385.33 1076.68L384.69 1074.73L384.08 1072.69L383.49 1070.56L382.93 1068.36L382.38 1066.1L381.84 1063.77L381.33 1061.4L380.82 1058.99L380.32 1056.55L379.83 1054.08L379.34 1051.6L378.86 1049.12L378.37 1046.63L377.87 1044.16L377.37 1041.7L376.86 1039.27L376.34 1036.87L375.8 1034.52L375.24 1032.22L374.66 1029.98L374.06 1027.8L373.43 1025.7L372.77 1023.68L372.08 1021.74L371.34 1019.91L370.57 1018.18L369.75 1016.56L368.87 1015.06L367.94 1013.68L366.94 1012.44L365.87 1011.35L364.71 1010.41L363.47 1009.65L362.14 1009.09L360.73 1008.74L359.25 1008.62L357.74 1008.74L356.3 1009.09L354.95 1009.65L353.67 1010.4L352.49 1011.34L351.39 1012.43L350.37 1013.67L349.41 1015.05L348.51 1016.55L347.67 1018.17L346.87 1019.9L346.12 1021.73L345.4 1023.67L344.72 1025.69L344.08 1027.79L343.46 1029.97L342.86 1032.21L342.29 1034.51L341.74 1036.87L341.2 1039.26L340.68 1041.69L340.16 1044.15L339.65 1046.62L339.15 1049.11L338.65 1051.6L338.15 1054.08L337.65 1056.54L337.13 1058.99L336.61 1061.4L336.08 1063.77L335.54 1066.09L334.97 1068.35L334.39 1070.55L333.79 1072.68L333.16 1074.72L332.5 1076.67L331.82 1078.52L331.11 1080.26L330.36 1081.87L329.59 1083.36L328.78 1084.71L327.94 1085.92L327.08 1086.97L326.18 1087.86L325.26 1088.58L324.32 1089.14L323.35 1089.55L322.33 1089.79L321.25 1089.88L320.31 1089.79L319.42 1089.56L318.57 1089.17L317.73 1088.62L316.91 1087.9L316.1 1087.02L315.31 1085.97L314.55 1084.77L313.82 1083.41L313.11 1081.92L312.43 1080.3L311.79 1078.56L311.17 1076.71L310.57 1074.76L310 1072.71L309.45 1070.59L308.92 1068.38L308.41 1066.12L307.91 1063.79L307.43 1061.42L306.96 1059.01L306.49 1056.57L306.03 1054.1L305.58 1051.62L305.13 1049.13L304.67 1046.65L304.21 1044.17L303.74 1041.72L303.27 1039.29L302.78 1036.89L302.28 1034.54L301.76 1032.24L301.22 1030L300.66 1027.82L300.07 1025.72L299.45 1023.7L298.81 1021.77L298.12 1019.94L297.4 1018.21L296.64 1016.6L295.82 1015.1L294.95 1013.72L294.02 1012.48L293.02 1011.38L291.93 1010.44L290.76 1009.67L289.5 1009.1L288.16 1008.75L286.74 1008.63L285.55 1008.79L284.45 1009.25L283.47 1009.96L282.61 1010.87L281.85 1011.94L281.16 1013.16L280.52 1014.53L279.93 1016.05L279.37 1017.7L278.85 1019.49L278.36 1021.39L277.9 1023.41L277.46 1025.53L277.04 1027.75L276.65 1030.06L276.26 1032.44L275.9 1034.89L275.54 1037.4L275.2 1039.95L274.86 1042.55L274.53 1045.17L274.21 1047.81L273.89 1050.46L273.56 1053.11L273.24 1055.74L272.91 1058.35L272.58 1060.94L272.23 1063.48L271.88 1065.96L271.52 1068.39L271.14 1070.74L270.75 1073.01L270.34 1075.18L269.91 1077.25L269.46 1079.21L268.99 1081.04L268.5 1082.73L267.99 1084.27L267.45 1085.64L266.89 1086.84L266.33 1087.84L265.76 1088.64L265.2 1089.23L264.69 1089.61L264.22 1089.81L263.75 1089.88L263.59 1089.84L263.34 1089.7L262.99 1089.36L262.58 1088.79L262.14 1087.98L261.71 1086.97L261.28 1085.75L260.87 1084.37L260.47 1082.82L260.1 1081.12L259.74 1079.28L259.4 1077.32L259.07 1075.25L258.76 1073.07L258.46 1070.79L258.17 1068.44L257.89 1066.01L257.63 1063.52L257.37 1060.98L257.11 1058.4L256.86 1055.78L256.61 1053.15L256.37 1050.5L256.12 1047.85L255.88 1045.21L255.63 1042.59L255.37 1040L255.11 1037.44L254.84 1034.94L254.56 1032.49L254.27 1030.11L253.97 1027.81L253.65 1025.6L253.32 1023.48L252.97 1021.47L252.6 1019.57L252.2 1017.8L251.78 1016.15L251.34 1014.65L250.86 1013.29L250.33 1012.07L249.75 1011.01L249.09 1010.1L248.31 1009.35L247.35 1008.82L246.25 1008.62L245.13 1008.81L244.14 1009.32L243.31 1010.06L242.6 1010.97L241.98 1012.04L241.42 1013.26L240.9 1014.62L240.42 1016.13L239.97 1017.77L239.55 1019.55L239.15 1021.45L238.78 1023.46L238.42 1025.58L238.08 1027.8L237.76 1030.1L237.45 1032.48L237.15 1034.93L236.86 1037.43L236.58 1039.99L236.3 1042.58L236.04 1045.2L235.77 1047.84L235.51 1050.49L235.24 1053.14L234.98 1055.77L234.71 1058.39L234.44 1060.97L234.16 1063.51L233.87 1066L233.58 1068.43L233.27 1070.78L232.95 1073.05L232.61 1075.23L232.27 1077.31L231.9 1079.27L231.51 1081.1L231.11 1082.8L230.69 1084.34L230.25 1085.73L229.79 1086.93L229.33 1087.95L228.86 1088.75L228.42 1089.33L228.03 1089.68L227.74 1089.83L227.5 1089.88L227.34 1089.84L227.09 1089.7L226.74 1089.36L226.33 1088.79L225.89 1087.98L225.46 1086.97L225.03 1085.75L224.62 1084.37L224.22 1082.82L223.85 1081.12L223.49 1079.28L223.15 1077.32L222.82 1075.25L222.51 1073.07L222.21 1070.79L221.92 1068.44L221.64 1066.01L221.38 1063.52L221.12 1060.98L220.86 1058.4L220.61 1055.78L220.36 1053.15L220.12 1050.5L219.87 1047.85L219.63 1045.21L219.38 1042.59L219.12 1040L218.86 1037.44L218.59 1034.94L218.31 1032.49L218.02 1030.11L217.72 1027.81L217.4 1025.6L217.07 1023.48L216.72 1021.47L216.35 1019.57L215.95 1017.8L215.53 1016.15L215.09 1014.65L214.61 1013.29L214.08 1012.07L213.5 1011.01L212.84 1010.1L212.06 1009.35L211.1 1008.82L210 1008.62L208.87 1008.81L207.87 1009.31L207.02 1010.05L206.29 1010.96L205.66 1012.03L205.08 1013.25L204.55 1014.61L204.06 1016.12L203.59 1017.77L203.16 1019.54L202.75 1021.44L202.37 1023.46L202 1025.58L201.65 1027.79L201.32 1030.09L201 1032.47L200.69 1034.92L200.39 1037.43L200.11 1039.98L199.83 1042.58L199.55 1045.2L199.28 1047.84L199.01 1050.49L198.74 1053.13L198.47 1055.77L198.19 1058.38L197.91 1060.96L197.62 1063.51L197.33 1065.99L197.03 1068.42L196.71 1070.78L196.38 1073.05L196.04 1075.23L195.68 1077.3L195.3 1079.26L194.91 1081.09L194.5 1082.79L194.06 1084.33L193.61 1085.72L193.14 1086.92L192.66 1087.94L192.19 1088.74L191.73 1089.32L191.33 1089.67L191.02 1089.83L190.75 1089.88L190.59 1089.84L190.34 1089.7L189.99 1089.36L189.58 1088.79L189.14 1087.98L188.71 1086.97L188.28 1085.75L187.87 1084.37L187.47 1082.82L187.1 1081.12L186.74 1079.28L186.4 1077.32L186.07 1075.25L185.76 1073.07L185.46 1070.79L185.17 1068.44L184.89 1066.01L184.63 1063.52L184.37 1060.98L184.11 1058.4L183.86 1055.78L183.61 1053.15L183.37 1050.5L183.12 1047.85L182.88 1045.21L182.63 1042.59L182.37 1040L182.11 1037.44L181.84 1034.94L181.56 1032.49L181.27 1030.11L180.97 1027.81L180.65 1025.6L180.32 1023.48L179.97 1021.47L179.6 1019.57L179.2 1017.8L178.78 1016.15L178.34 1014.65L177.86 1013.29L177.33 1012.07L176.75 1011.01L176.09 1010.1L175.31 1009.35L174.35 1008.82L173.25 1008.62L172.13 1008.81L171.13 1009.32L170.29 1010.06L169.57 1010.97L168.94 1012.03L168.37 1013.25L167.85 1014.62L167.36 1016.12L166.91 1017.77L166.48 1019.55L166.08 1021.45L165.7 1023.46L165.33 1025.58L164.99 1027.79L164.66 1030.1L164.35 1032.48L164.04 1034.92L163.75 1037.43L163.47 1039.98L163.19 1042.58L162.92 1045.2L162.65 1047.84L162.38 1050.49L162.12 1053.13L161.85 1055.77L161.58 1058.38L161.3 1060.97L161.02 1063.51L160.73 1066L160.43 1068.42L160.11 1070.78L159.79 1073.05L159.45 1075.23L159.1 1077.3L158.73 1079.26L158.34 1081.1L157.93 1082.79L157.5 1084.34L157.05 1085.72L156.59 1086.93L156.12 1087.94L155.65 1088.74L155.2 1089.32L154.8 1089.67L154.5 1089.83L154.25 1089.88L154.09 1089.84L153.84 1089.7L153.49 1089.36L153.08 1088.79L152.64 1087.98L152.21 1086.97L151.78 1085.75L151.37 1084.37L150.97 1082.82L150.6 1081.12L150.24 1079.28L149.9 1077.32L149.57 1075.25L149.26 1073.07L148.96 1070.79L148.67 1068.44L148.39 1066.01L148.13 1063.52L147.87 1060.98L147.61 1058.4L147.36 1055.78L147.11 1053.15L146.87 1050.5L146.62 1047.85L146.38 1045.21L146.13 1042.59L145.87 1040L145.61 1037.44L145.34 1034.94L145.06 1032.49L144.77 1030.11L144.47 1027.81L144.15 1025.6L143.82 1023.48L143.47 1021.47L143.1 1019.57L142.7 1017.8L142.28 1016.15L141.84 1014.65L141.36 1013.29L140.83 1012.07L140.25 1011.01L139.59 1010.1L138.81 1009.35L137.85 1008.82L136.75 1008.63L135.63 1008.82L134.63 1009.33L133.8 1010.07L133.08 1010.99L132.46 1012.05L131.89 1013.27L131.37 1014.64L130.88 1016.14L130.43 1017.79L130 1019.56L129.6 1021.46L129.22 1023.48L128.86 1025.59L128.52 1027.81L128.19 1030.11L127.87 1032.49L127.57 1034.94L127.28 1037.44L127 1040L126.72 1042.59L126.45 1045.21L126.18 1047.85L125.92 1050.5L125.65 1053.15L125.38 1055.79L125.11 1058.4L124.84 1060.98L124.56 1063.53L124.27 1066.02L123.97 1068.45L123.66 1070.8L123.33 1073.08L123 1075.26L122.64 1077.34L122.27 1079.3L121.88 1081.14L121.47 1082.85L121.04 1084.4L120.6 1085.8L120.13 1087.02L119.65 1088.06L119.16 1088.89L118.69 1089.51L118.25 1089.91L117.86 1090.12L117.5 1090.19L117.2 1090.15L116.84 1089.97L116.42 1089.58L115.95 1088.97L115.48 1088.13L115.01 1087.09L114.56 1085.86L114.12 1084.46L113.71 1082.9L113.31 1081.2L112.93 1079.35L112.57 1077.39L112.23 1075.3L111.9 1073.12L111.59 1070.84L111.29 1068.49L111 1066.06L110.72 1063.56L110.45 1061.02L110.18 1058.44L109.92 1055.82L109.66 1053.19L109.41 1050.54L109.15 1047.89L108.89 1045.25L108.63 1042.63L108.36 1040.04L108.09 1037.49L107.81 1034.99L107.52 1032.55L107.21 1030.17L106.9 1027.88L106.57 1025.67L106.22 1023.56L105.86 1021.56L105.47 1019.67L105.06 1017.91L104.63 1016.29L104.17 1014.81L103.68 1013.48L103.15 1012.31L102.58 1011.3L101.95 1010.47L101.23 1009.81L100.41 1009.38L99.5 1009.24L98.58 1009.4L97.75 1009.84L97.03 1010.5L96.4 1011.34L95.82 1012.34L95.29 1013.52L94.79 1014.84L94.33 1016.32L93.9 1017.95L93.48 1019.7L93.1 1021.59L92.73 1023.59L92.38 1025.7L92.05 1027.9L91.73 1030.2L91.42 1032.57L91.13 1035.01L90.85 1037.52L90.57 1040.07L90.3 1042.66L90.04 1045.28L89.78 1047.92L89.52 1050.56L89.26 1053.21L89 1055.85L88.74 1058.47L88.47 1061.05L88.19 1063.6L87.91 1066.09L87.62 1068.53L87.31 1070.89L87 1073.17L86.67 1075.36L86.32 1077.45L85.96 1079.43L85.57 1081.28L85.17 1083L84.75 1084.58L84.3 1086.01L83.84 1087.27L83.35 1088.35L82.84 1089.24L82.32 1089.93L81.8 1090.41L81.28 1090.69L80.75 1090.79L80.32 1090.72L79.88 1090.44L79.4 1089.94L78.93 1089.21L78.47 1088.27L78.03 1087.12L77.61 1085.8L77.21 1084.29L76.83 1082.63L76.47 1080.83L76.13 1078.89L75.81 1076.82L75.51 1074.64L75.21 1072.36L74.94 1069.99L74.67 1067.55L74.41 1065.03L74.16 1062.46L73.91 1059.85L73.67 1057.2L73.44 1054.53L73.2 1051.85L72.97 1049.16L72.73 1046.49L72.49 1043.84L72.25 1041.23L72 1038.65L71.74 1036.13L71.47 1033.68L71.19 1031.31L70.89 1029.02L70.59 1026.84L70.26 1024.76L69.92 1022.8L69.56 1020.98L69.18 1019.3L68.77 1017.77L68.34 1016.41L67.88 1015.22L67.39 1014.22L66.87 1013.41L66.3 1012.81L65.67 1012.43L65.04 1012.3Z"/><text class="lbl" y="937" font-size="44.2"><tspan x="54.21" textLength="206.29" lengthAdjust="spacingAndGlyphs">Frequency</tspan> <tspan x="272.44" textLength="230.63" lengthAdjust="spacingAndGlyphs">modulation</tspan> <tspan x="515.41" textLength="85.22" lengthAdjust="spacingAndGlyphs">(FM)</tspan></text></g>
<g id="carrier"><path class="grid" d="M826.5 937.85V1154.05M845.01 937.85V1154.05M863.52 937.85V1154.05M882.04 937.85V1154.05M900.55 937.85V1154.05M919.06 937.85V1154.05M937.57 937.85V1154.05M956.08 937.85V1154.05M974.6 937.85V1154.05M993.11 937.85V1154.05M1011.62 937.85V1154.05M1030.13 937.85V1154.05M1048.64 937.85V1154.05M1067.16 937.85V1154.05M1085.67 937.85V1154.05M1104.18 937.85V1154.05M1122.69 937.85V1154.05M1141.2 937.85V1154.05M1159.72 937.85V1154.05M1178.23 937.85V1154.05M1196.74 937.85V1154.05M1215.25 937.85V1154.05M1233.76 937.85V1154.05M1252.28 937.85V1154.05M1270.79 937.85V1154.05M1289.3 937.85V1154.05M1307.81 937.85V1154.05M1326.32 937.85V1154.05M1344.84 937.85V1154.05M1363.35 937.85V1154.05M1381.86 937.85V1154.05M1400.37 937.85V1154.05M1418.88 937.85V1154.05M1437.4 937.85V1154.05M1455.91 937.85V1154.05M1474.42 937.85V1154.05M1492.93 937.85V1154.05M1511.44 937.85V1154.05M1529.96 937.85V1154.05M1548.47 937.85V1154.05M1566.98 937.85V1154.05M826.5 938.35H1574.48M826.5 957.05H1574.48M826.5 975.75H1574.48M826.5 994.45H1574.48M826.5 1013.15H1574.48M826.5 1031.85H1574.48M826.5 1050.55H1574.48M826.5 1069.25H1574.48M826.5 1087.95H1574.48M826.5 1106.65H1574.48M826.5 1125.35H1574.48M826.5 1144.05H1574.48"/><path class="mid" d="M860 1050.55H1543.75"/><linearGradient id="fade5" gradientUnits="userSpaceOnUse" x1="870" y1="0" x2="1533.75" y2="0"><stop offset="0" stop-color="#000" stop-opacity="0.12"/><stop offset="0.04" stop-color="#000" stop-opacity="1"/><stop offset="0.96" stop-color="#000" stop-opacity="1"/><stop offset="1" stop-color="#000" stop-opacity="0.12"/></linearGradient><path class="wave" fill="url(#fade5)" d="M869.96 1010.95L870.57 1011.06L871.13 1011.39L871.66 1011.92L872.18 1012.67L872.68 1013.61L873.16 1014.75L873.61 1016.06L874.03 1017.55L874.43 1019.18L874.82 1020.96L875.18 1022.88L875.52 1024.92L875.85 1027.06L876.16 1029.32L876.46 1031.66L876.75 1034.08L877.03 1036.57L877.29 1039.12L877.55 1041.71L877.81 1044.35L878.06 1047.01L878.31 1049.69L878.55 1052.37L878.8 1055.05L879.05 1057.71L879.31 1060.35L879.57 1062.95L879.84 1065.5L880.11 1068L880.4 1070.42L880.7 1072.77L881.01 1075.03L881.34 1077.19L881.69 1079.24L882.05 1081.17L882.44 1082.96L882.85 1084.62L883.28 1086.13L883.74 1087.48L884.24 1088.66L884.77 1089.67L885.34 1090.49L885.98 1091.13L886.7 1091.54L887.5 1091.69L888.36 1091.57L889.16 1091.19L889.9 1090.58L890.56 1089.78L891.18 1088.8L891.75 1087.64L892.29 1086.32L892.8 1084.84L893.27 1083.22L893.72 1081.46L894.15 1079.57L894.55 1077.56L894.94 1075.44L895.3 1073.23L895.65 1070.92L895.99 1068.53L896.31 1066.08L896.62 1063.56L896.92 1060.99L897.22 1058.39L897.51 1055.75L897.79 1053.1L898.08 1050.44L898.36 1047.77L898.65 1045.12L898.94 1042.49L899.23 1039.89L899.54 1037.33L899.85 1034.82L900.17 1032.37L900.5 1030L900.85 1027.7L901.21 1025.5L901.59 1023.4L901.99 1021.42L902.41 1019.56L902.85 1017.83L903.32 1016.25L903.8 1014.83L904.31 1013.58L904.84 1012.51L905.39 1011.64L905.94 1010.98L906.48 1010.53L906.99 1010.29L907.5 1010.22L907.97 1010.31L908.44 1010.56L908.94 1011.01L909.45 1011.67L909.96 1012.54L910.46 1013.61L910.93 1014.86L911.39 1016.28L911.82 1017.86L912.24 1019.59L912.63 1021.45L913 1023.43L913.36 1025.53L913.7 1027.73L914.03 1030.02L914.34 1032.4L914.64 1034.84L914.93 1037.35L915.21 1039.91L915.49 1042.51L915.76 1045.14L916.03 1047.8L916.3 1050.46L916.57 1053.13L916.84 1055.78L917.11 1058.42L917.39 1061.03L917.67 1063.59L917.96 1066.11L918.27 1068.57L918.58 1070.96L918.91 1073.27L919.25 1075.5L919.61 1077.62L920 1079.64L920.4 1081.54L920.82 1083.32L921.27 1084.96L921.76 1086.46L922.27 1087.81L922.83 1089L923.44 1090.04L924.11 1090.91L924.89 1091.6L925.79 1092.07L926.8 1092.24L927.83 1092.09L928.77 1091.64L929.59 1090.96L930.31 1090.09L930.96 1089.06L931.55 1087.86L932.1 1086.51L932.62 1085.01L933.1 1083.36L933.55 1081.59L933.98 1079.68L934.39 1077.66L934.77 1075.54L935.14 1073.31L935.49 1071L935.83 1068.61L936.15 1066.14L936.46 1063.62L936.76 1061.06L937.06 1058.45L937.35 1055.81L937.64 1053.16L937.92 1050.49L938.21 1047.83L938.49 1045.18L938.78 1042.55L939.08 1039.95L939.38 1037.39L939.69 1034.89L940.01 1032.44L940.34 1030.07L940.69 1027.79L941.05 1025.59L941.43 1023.5L941.83 1021.53L942.24 1019.68L942.68 1017.97L943.14 1016.42L943.61 1015.02L944.11 1013.8L944.62 1012.77L945.13 1011.96L945.63 1011.36L946.08 1010.99L946.46 1010.81L946.8 1010.77L947.1 1010.83L947.43 1011.01L947.84 1011.38L948.3 1011.98L948.78 1012.8L949.25 1013.83L949.72 1015.05L950.17 1016.44L950.59 1018L951 1019.71L951.39 1021.56L951.77 1023.53L952.12 1025.62L952.46 1027.81L952.79 1030.1L953.1 1032.47L953.4 1034.91L953.69 1037.41L953.97 1039.97L954.25 1042.57L954.52 1045.2L954.79 1047.85L955.06 1050.52L955.32 1053.18L955.59 1055.84L955.87 1058.48L956.14 1061.09L956.43 1063.66L956.72 1066.18L957.02 1068.64L957.34 1071.04L957.67 1073.36L958.01 1075.59L958.38 1077.72L958.76 1079.75L959.17 1081.66L959.61 1083.45L960.07 1085.11L960.57 1086.63L961.1 1088.01L961.68 1089.24L962.32 1090.32L963.06 1091.24L963.92 1092L964.95 1092.51L966.1 1092.7L967.27 1092.52L968.31 1092.01L969.2 1091.26L969.95 1090.34L970.62 1089.26L971.23 1088.03L971.78 1086.65L972.29 1085.12L972.77 1083.46L973.22 1081.67L973.65 1079.76L974.05 1077.73L974.43 1075.6L974.8 1073.37L975.14 1071.05L975.47 1068.65L975.79 1066.19L976.1 1063.67L976.4 1061.09L976.69 1058.49L976.98 1055.85L977.26 1053.19L977.54 1050.53L977.82 1047.86L978.1 1045.21L978.39 1042.58L978.68 1039.98L978.98 1037.43L979.28 1034.92L979.6 1032.48L979.93 1030.12L980.27 1027.83L980.63 1025.64L981 1023.56L981.39 1021.59L981.8 1019.74L982.23 1018.04L982.68 1016.49L983.14 1015.1L983.63 1013.9L984.12 1012.88L984.61 1012.08L985.08 1011.51L985.49 1011.16L985.82 1011L986.1 1010.95L986.34 1010.99L986.64 1011.15L987.03 1011.49L987.48 1012.06L987.95 1012.86L988.43 1013.88L988.9 1015.09L989.35 1016.48L989.79 1018.03L990.2 1019.73L990.59 1021.58L990.97 1023.55L991.33 1025.63L991.68 1027.82L992 1030.11L992.32 1032.48L992.63 1034.92L992.92 1037.42L993.21 1039.98L993.49 1042.58L993.76 1045.21L994.04 1047.86L994.31 1050.52L994.58 1053.19L994.85 1055.84L995.13 1058.48L995.41 1061.09L995.7 1063.66L996 1066.18L996.3 1068.64L996.62 1071.04L996.96 1073.36L997.31 1075.59L997.67 1077.72L998.06 1079.75L998.47 1081.66L998.91 1083.45L999.37 1085.11L999.87 1086.63L1000.4 1088.01L1000.98 1089.24L1001.62 1090.32L1002.36 1091.24L1003.22 1092L1004.25 1092.51L1005.4 1092.7L1006.57 1092.52L1007.61 1092.01L1008.5 1091.26L1009.25 1090.34L1009.92 1089.26L1010.53 1088.03L1011.08 1086.65L1011.59 1085.12L1012.07 1083.46L1012.52 1081.67L1012.95 1079.76L1013.35 1077.73L1013.73 1075.6L1014.1 1073.37L1014.44 1071.05L1014.77 1068.65L1015.09 1066.19L1015.4 1063.67L1015.7 1061.09L1015.99 1058.49L1016.28 1055.85L1016.56 1053.19L1016.84 1050.53L1017.12 1047.86L1017.4 1045.21L1017.69 1042.58L1017.98 1039.98L1018.28 1037.43L1018.58 1034.92L1018.9 1032.48L1019.23 1030.12L1019.57 1027.83L1019.93 1025.64L1020.3 1023.56L1020.69 1021.59L1021.1 1019.74L1021.53 1018.04L1021.98 1016.49L1022.44 1015.1L1022.93 1013.9L1023.42 1012.88L1023.91 1012.08L1024.38 1011.51L1024.79 1011.16L1025.12 1011L1025.4 1010.95L1025.64 1010.99L1025.94 1011.15L1026.33 1011.49L1026.78 1012.06L1027.25 1012.86L1027.73 1013.88L1028.2 1015.09L1028.65 1016.48L1029.09 1018.03L1029.5 1019.73L1029.89 1021.58L1030.27 1023.55L1030.63 1025.63L1030.98 1027.82L1031.3 1030.11L1031.62 1032.48L1031.93 1034.92L1032.22 1037.42L1032.51 1039.98L1032.79 1042.58L1033.06 1045.21L1033.34 1047.86L1033.61 1050.52L1033.88 1053.19L1034.15 1055.84L1034.43 1058.48L1034.71 1061.09L1035 1063.66L1035.3 1066.18L1035.6 1068.64L1035.92 1071.04L1036.26 1073.36L1036.61 1075.59L1036.97 1077.72L1037.36 1079.75L1037.77 1081.66L1038.21 1083.45L1038.67 1085.11L1039.17 1086.63L1039.7 1088.01L1040.28 1089.24L1040.92 1090.32L1041.66 1091.24L1042.52 1092L1043.55 1092.51L1044.7 1092.7L1045.87 1092.52L1046.91 1092.01L1047.8 1091.26L1048.55 1090.34L1049.22 1089.26L1049.83 1088.03L1050.38 1086.65L1050.89 1085.12L1051.37 1083.46L1051.82 1081.67L1052.25 1079.76L1052.65 1077.73L1053.03 1075.6L1053.4 1073.37L1053.74 1071.05L1054.07 1068.65L1054.39 1066.19L1054.7 1063.67L1055 1061.09L1055.29 1058.49L1055.58 1055.85L1055.86 1053.19L1056.14 1050.53L1056.42 1047.86L1056.7 1045.21L1056.99 1042.58L1057.28 1039.98L1057.58 1037.43L1057.88 1034.92L1058.2 1032.48L1058.53 1030.12L1058.87 1027.83L1059.23 1025.64L1059.6 1023.56L1059.99 1021.59L1060.4 1019.74L1060.83 1018.04L1061.28 1016.49L1061.74 1015.1L1062.23 1013.9L1062.72 1012.88L1063.21 1012.08L1063.68 1011.51L1064.09 1011.16L1064.42 1011L1064.7 1010.95L1064.94 1010.99L1065.24 1011.15L1065.63 1011.49L1066.08 1012.06L1066.55 1012.86L1067.03 1013.88L1067.5 1015.09L1067.95 1016.48L1068.39 1018.03L1068.8 1019.73L1069.19 1021.58L1069.57 1023.55L1069.93 1025.63L1070.28 1027.82L1070.6 1030.11L1070.92 1032.48L1071.23 1034.92L1071.52 1037.42L1071.81 1039.98L1072.09 1042.58L1072.36 1045.21L1072.64 1047.86L1072.91 1050.52L1073.18 1053.19L1073.45 1055.84L1073.73 1058.48L1074.01 1061.09L1074.3 1063.66L1074.6 1066.18L1074.9 1068.64L1075.22 1071.04L1075.56 1073.36L1075.91 1075.59L1076.27 1077.72L1076.66 1079.75L1077.07 1081.66L1077.51 1083.45L1077.97 1085.11L1078.47 1086.63L1079 1088.01L1079.58 1089.24L1080.22 1090.32L1080.96 1091.24L1081.82 1092L1082.85 1092.51L1084 1092.7L1085.17 1092.52L1086.21 1092.01L1087.1 1091.26L1087.85 1090.34L1088.52 1089.26L1089.13 1088.03L1089.68 1086.65L1090.19 1085.12L1090.67 1083.46L1091.12 1081.67L1091.55 1079.76L1091.95 1077.73L1092.33 1075.6L1092.7 1073.37L1093.04 1071.05L1093.37 1068.65L1093.69 1066.19L1094 1063.67L1094.3 1061.09L1094.59 1058.49L1094.88 1055.85L1095.16 1053.19L1095.44 1050.53L1095.72 1047.86L1096 1045.21L1096.29 1042.58L1096.58 1039.98L1096.88 1037.43L1097.18 1034.92L1097.5 1032.48L1097.83 1030.12L1098.17 1027.83L1098.53 1025.64L1098.9 1023.56L1099.29 1021.59L1099.7 1019.74L1100.13 1018.04L1100.58 1016.49L1101.04 1015.1L1101.53 1013.9L1102.02 1012.88L1102.51 1012.08L1102.98 1011.51L1103.39 1011.16L1103.72 1011L1104 1010.95L1104.24 1010.99L1104.54 1011.15L1104.93 1011.49L1105.38 1012.06L1105.85 1012.86L1106.33 1013.88L1106.8 1015.09L1107.25 1016.48L1107.69 1018.03L1108.1 1019.73L1108.49 1021.58L1108.87 1023.55L1109.23 1025.63L1109.58 1027.82L1109.9 1030.11L1110.22 1032.48L1110.53 1034.92L1110.82 1037.42L1111.11 1039.98L1111.39 1042.58L1111.66 1045.21L1111.94 1047.86L1112.21 1050.52L1112.48 1053.19L1112.75 1055.84L1113.03 1058.48L1113.31 1061.09L1113.6 1063.66L1113.9 1066.18L1114.2 1068.64L1114.52 1071.04L1114.86 1073.36L1115.21 1075.59L1115.57 1077.72L1115.96 1079.75L1116.37 1081.66L1116.81 1083.45L1117.27 1085.11L1117.77 1086.63L1118.3 1088.01L1118.88 1089.24L1119.52 1090.32L1120.26 1091.24L1121.12 1092L1122.15 1092.51L1123.3 1092.7L1124.47 1092.52L1125.51 1092.01L1126.4 1091.26L1127.15 1090.34L1127.82 1089.26L1128.43 1088.03L1128.98 1086.65L1129.49 1085.12L1129.97 1083.46L1130.42 1081.67L1130.85 1079.76L1131.25 1077.73L1131.63 1075.6L1132 1073.37L1132.34 1071.05L1132.67 1068.65L1132.99 1066.19L1133.3 1063.67L1133.6 1061.09L1133.89 1058.49L1134.18 1055.85L1134.46 1053.19L1134.74 1050.53L1135.02 1047.86L1135.3 1045.21L1135.59 1042.58L1135.88 1039.98L1136.18 1037.43L1136.48 1034.92L1136.8 1032.48L1137.13 1030.12L1137.47 1027.83L1137.83 1025.64L1138.2 1023.56L1138.59 1021.59L1139 1019.74L1139.43 1018.04L1139.88 1016.49L1140.34 1015.1L1140.83 1013.9L1141.32 1012.88L1141.81 1012.08L1142.28 1011.51L1142.69 1011.16L1143.02 1011L1143.3 1010.95L1143.54 1010.99L1143.84 1011.15L1144.23 1011.49L1144.68 1012.06L1145.15 1012.86L1145.63 1013.88L1146.1 1015.09L1146.55 1016.48L1146.99 1018.03L1147.4 1019.73L1147.79 1021.58L1148.17 1023.55L1148.53 1025.63L1148.88 1027.82L1149.2 1030.11L1149.52 1032.48L1149.83 1034.92L1150.12 1037.42L1150.41 1039.98L1150.69 1042.58L1150.96 1045.21L1151.24 1047.86L1151.51 1050.52L1151.78 1053.19L1152.05 1055.84L1152.33 1058.48L1152.61 1061.09L1152.9 1063.66L1153.2 1066.18L1153.5 1068.64L1153.82 1071.04L1154.16 1073.36L1154.51 1075.59L1154.87 1077.72L1155.26 1079.75L1155.67 1081.66L1156.11 1083.45L1156.57 1085.11L1157.07 1086.63L1157.6 1088.01L1158.18 1089.24L1158.82 1090.32L1159.56 1091.24L1160.42 1092L1161.45 1092.51L1162.6 1092.7L1163.77 1092.52L1164.81 1092.01L1165.7 1091.26L1166.45 1090.34L1167.12 1089.26L1167.73 1088.03L1168.28 1086.65L1168.79 1085.12L1169.27 1083.46L1169.72 1081.67L1170.15 1079.76L1170.55 1077.73L1170.93 1075.6L1171.3 1073.37L1171.64 1071.05L1171.97 1068.65L1172.29 1066.19L1172.6 1063.67L1172.9 1061.09L1173.19 1058.49L1173.48 1055.85L1173.76 1053.19L1174.04 1050.53L1174.32 1047.86L1174.6 1045.21L1174.89 1042.58L1175.18 1039.98L1175.48 1037.43L1175.78 1034.92L1176.1 1032.48L1176.43 1030.12L1176.77 1027.83L1177.13 1025.64L1177.5 1023.56L1177.89 1021.59L1178.3 1019.74L1178.73 1018.04L1179.18 1016.49L1179.64 1015.1L1180.13 1013.9L1180.62 1012.88L1181.11 1012.08L1181.58 1011.51L1181.99 1011.16L1182.32 1011L1182.6 1010.95L1182.84 1010.99L1183.14 1011.15L1183.53 1011.49L1183.98 1012.06L1184.45 1012.86L1184.93 1013.88L1185.4 1015.09L1185.85 1016.48L1186.29 1018.03L1186.7 1019.73L1187.09 1021.58L1187.47 1023.55L1187.83 1025.63L1188.18 1027.82L1188.5 1030.11L1188.82 1032.48L1189.13 1034.92L1189.42 1037.42L1189.71 1039.98L1189.99 1042.58L1190.26 1045.21L1190.54 1047.86L1190.81 1050.52L1191.08 1053.19L1191.35 1055.84L1191.63 1058.48L1191.91 1061.09L1192.2 1063.66L1192.5 1066.18L1192.8 1068.64L1193.12 1071.04L1193.46 1073.36L1193.81 1075.59L1194.17 1077.72L1194.56 1079.75L1194.97 1081.66L1195.41 1083.45L1195.87 1085.11L1196.37 1086.63L1196.9 1088.01L1197.48 1089.24L1198.12 1090.32L1198.86 1091.24L1199.72 1092L1200.75 1092.51L1201.9 1092.7L1203.07 1092.52L1204.11 1092.01L1205 1091.26L1205.75 1090.34L1206.42 1089.26L1207.03 1088.03L1207.58 1086.65L1208.09 1085.12L1208.57 1083.46L1209.02 1081.67L1209.45 1079.76L1209.85 1077.73L1210.23 1075.6L1210.6 1073.37L1210.94 1071.05L1211.27 1068.65L1211.59 1066.19L1211.9 1063.67L1212.2 1061.09L1212.49 1058.49L1212.78 1055.85L1213.06 1053.19L1213.34 1050.53L1213.62 1047.86L1213.9 1045.21L1214.19 1042.58L1214.48 1039.98L1214.78 1037.43L1215.08 1034.92L1215.4 1032.48L1215.73 1030.12L1216.07 1027.83L1216.43 1025.64L1216.8 1023.56L1217.19 1021.59L1217.6 1019.74L1218.03 1018.04L1218.48 1016.49L1218.94 1015.1L1219.43 1013.9L1219.92 1012.88L1220.41 1012.08L1220.88 1011.51L1221.29 1011.16L1221.62 1011L1221.9 1010.95L1222.14 1010.99L1222.44 1011.15L1222.83 1011.49L1223.28 1012.06L1223.75 1012.86L1224.23 1013.88L1224.7 1015.09L1225.15 1016.48L1225.59 1018.03L1226 1019.73L1226.39 1021.58L1226.77 1023.55L1227.13 1025.63L1227.48 1027.82L1227.8 1030.11L1228.12 1032.48L1228.43 1034.92L1228.72 1037.42L1229.01 1039.98L1229.29 1042.58L1229.56 1045.21L1229.84 1047.86L1230.11 1050.52L1230.38 1053.19L1230.65 1055.84L1230.93 1058.48L1231.21 1061.09L1231.5 1063.66L1231.8 1066.18L1232.1 1068.64L1232.42 1071.04L1232.76 1073.36L1233.11 1075.59L1233.47 1077.72L1233.86 1079.75L1234.27 1081.66L1234.71 1083.45L1235.17 1085.11L1235.67 1086.63L1236.2 1088.01L1236.78 1089.24L1237.42 1090.32L1238.16 1091.24L1239.02 1092L1240.05 1092.51L1241.2 1092.7L1242.37 1092.52L1243.41 1092.01L1244.3 1091.26L1245.05 1090.34L1245.72 1089.26L1246.33 1088.03L1246.88 1086.65L1247.39 1085.12L1247.87 1083.46L1248.32 1081.67L1248.75 1079.76L1249.15 1077.73L1249.53 1075.6L1249.9 1073.37L1250.24 1071.05L1250.57 1068.65L1250.89 1066.19L1251.2 1063.67L1251.5 1061.09L1251.79 1058.49L1252.08 1055.85L1252.36 1053.19L1252.64 1050.53L1252.92 1047.86L1253.2 1045.21L1253.49 1042.58L1253.78 1039.98L1254.08 1037.43L1254.38 1034.92L1254.7 1032.48L1255.03 1030.12L1255.37 1027.83L1255.73 1025.64L1256.1 1023.56L1256.49 1021.59L1256.9 1019.74L1257.33 1018.04L1257.78 1016.49L1258.24 1015.1L1258.73 1013.9L1259.22 1012.88L1259.71 1012.08L1260.18 1011.51L1260.59 1011.16L1260.92 1011L1261.2 1010.95L1261.44 1010.99L1261.74 1011.15L1262.13 1011.49L1262.58 1012.06L1263.05 1012.86L1263.53 1013.88L1264 1015.09L1264.45 1016.48L1264.89 1018.03L1265.3 1019.73L1265.69 1021.58L1266.07 1023.55L1266.43 1025.63L1266.78 1027.82L1267.1 1030.11L1267.42 1032.48L1267.73 1034.92L1268.02 1037.42L1268.31 1039.98L1268.59 1042.58L1268.86 1045.21L1269.14 1047.86L1269.41 1050.52L1269.68 1053.19L1269.95 1055.84L1270.23 1058.48L1270.51 1061.09L1270.8 1063.66L1271.1 1066.18L1271.4 1068.64L1271.72 1071.04L1272.06 1073.36L1272.41 1075.59L1272.77 1077.72L1273.16 1079.75L1273.57 1081.66L1274.01 1083.45L1274.47 1085.11L1274.97 1086.63L1275.5 1088.01L1276.08 1089.24L1276.72 1090.32L1277.46 1091.24L1278.32 1092L1279.35 1092.51L1280.5 1092.7L1281.67 1092.52L1282.71 1092.01L1283.6 1091.26L1284.35 1090.34L1285.02 1089.26L1285.63 1088.03L1286.18 1086.65L1286.69 1085.12L1287.17 1083.46L1287.62 1081.67L1288.05 1079.76L1288.45 1077.73L1288.83 1075.6L1289.2 1073.37L1289.54 1071.05L1289.87 1068.65L1290.19 1066.19L1290.5 1063.67L1290.8 1061.09L1291.09 1058.49L1291.38 1055.85L1291.66 1053.19L1291.94 1050.53L1292.22 1047.86L1292.5 1045.21L1292.79 1042.58L1293.08 1039.98L1293.38 1037.43L1293.68 1034.92L1294 1032.48L1294.33 1030.12L1294.67 1027.83L1295.03 1025.64L1295.4 1023.56L1295.79 1021.59L1296.2 1019.74L1296.63 1018.04L1297.08 1016.49L1297.54 1015.1L1298.03 1013.9L1298.52 1012.88L1299.01 1012.08L1299.48 1011.51L1299.89 1011.16L1300.22 1011L1300.5 1010.95L1300.74 1010.99L1301.04 1011.15L1301.43 1011.49L1301.88 1012.06L1302.35 1012.86L1302.83 1013.88L1303.3 1015.09L1303.75 1016.48L1304.19 1018.03L1304.6 1019.73L1304.99 1021.58L1305.37 1023.55L1305.73 1025.63L1306.08 1027.82L1306.4 1030.11L1306.72 1032.48L1307.03 1034.92L1307.32 1037.42L1307.61 1039.98L1307.89 1042.58L1308.16 1045.21L1308.44 1047.86L1308.71 1050.52L1308.98 1053.19L1309.25 1055.84L1309.53 1058.48L1309.81 1061.09L1310.1 1063.66L1310.4 1066.18L1310.7 1068.64L1311.02 1071.04L1311.36 1073.36L1311.71 1075.59L1312.07 1077.72L1312.46 1079.75L1312.87 1081.66L1313.31 1083.45L1313.77 1085.11L1314.27 1086.63L1314.8 1088.01L1315.38 1089.24L1316.02 1090.32L1316.76 1091.24L1317.62 1092L1318.65 1092.51L1319.8 1092.7L1320.97 1092.52L1322.01 1092.01L1322.9 1091.26L1323.65 1090.34L1324.32 1089.26L1324.93 1088.03L1325.48 1086.65L1325.99 1085.12L1326.47 1083.46L1326.92 1081.67L1327.35 1079.76L1327.75 1077.73L1328.13 1075.6L1328.5 1073.37L1328.84 1071.05L1329.17 1068.65L1329.49 1066.19L1329.8 1063.67L1330.1 1061.09L1330.39 1058.49L1330.68 1055.85L1330.96 1053.19L1331.24 1050.53L1331.52 1047.86L1331.8 1045.21L1332.09 1042.58L1332.38 1039.98L1332.68 1037.43L1332.98 1034.92L1333.3 1032.48L1333.63 1030.12L1333.97 1027.83L1334.33 1025.64L1334.7 1023.56L1335.09 1021.59L1335.5 1019.74L1335.93 1018.04L1336.38 1016.49L1336.84 1015.1L1337.33 1013.9L1337.82 1012.88L1338.31 1012.08L1338.78 1011.51L1339.19 1011.16L1339.52 1011L1339.8 1010.95L1340.04 1010.99L1340.34 1011.15L1340.73 1011.49L1341.18 1012.06L1341.65 1012.86L1342.13 1013.88L1342.6 1015.09L1343.05 1016.48L1343.49 1018.03L1343.9 1019.73L1344.29 1021.58L1344.67 1023.55L1345.03 1025.63L1345.38 1027.82L1345.7 1030.11L1346.02 1032.48L1346.33 1034.92L1346.62 1037.42L1346.91 1039.98L1347.19 1042.58L1347.46 1045.21L1347.74 1047.86L1348.01 1050.52L1348.28 1053.19L1348.55 1055.84L1348.83 1058.48L1349.11 1061.09L1349.4 1063.66L1349.7 1066.18L1350 1068.64L1350.32 1071.04L1350.66 1073.36L1351.01 1075.59L1351.37 1077.72L1351.76 1079.75L1352.17 1081.66L1352.61 1083.45L1353.07 1085.11L1353.57 1086.63L1354.1 1088.01L1354.68 1089.24L1355.32 1090.32L1356.06 1091.24L1356.92 1092L1357.95 1092.51L1359.1 1092.7L1360.27 1092.52L1361.31 1092.01L1362.2 1091.26L1362.95 1090.34L1363.62 1089.26L1364.23 1088.03L1364.78 1086.65L1365.29 1085.12L1365.77 1083.46L1366.22 1081.67L1366.65 1079.76L1367.05 1077.73L1367.43 1075.6L1367.8 1073.37L1368.14 1071.05L1368.47 1068.65L1368.79 1066.19L1369.1 1063.67L1369.4 1061.09L1369.69 1058.49L1369.98 1055.85L1370.26 1053.19L1370.54 1050.53L1370.82 1047.86L1371.1 1045.21L1371.39 1042.58L1371.68 1039.98L1371.98 1037.43L1372.28 1034.92L1372.6 1032.48L1372.93 1030.12L1373.27 1027.83L1373.63 1025.64L1374 1023.56L1374.39 1021.59L1374.8 1019.74L1375.23 1018.04L1375.68 1016.49L1376.14 1015.1L1376.63 1013.9L1377.12 1012.88L1377.61 1012.08L1378.08 1011.51L1378.49 1011.16L1378.82 1011L1379.1 1010.95L1379.34 1010.99L1379.64 1011.15L1380.03 1011.49L1380.48 1012.06L1380.95 1012.86L1381.43 1013.88L1381.9 1015.09L1382.35 1016.48L1382.79 1018.03L1383.2 1019.73L1383.59 1021.58L1383.97 1023.55L1384.33 1025.63L1384.68 1027.82L1385 1030.11L1385.32 1032.48L1385.63 1034.92L1385.92 1037.42L1386.21 1039.98L1386.49 1042.58L1386.76 1045.21L1387.04 1047.86L1387.31 1050.52L1387.58 1053.19L1387.85 1055.84L1388.13 1058.48L1388.41 1061.09L1388.7 1063.66L1389 1066.18L1389.3 1068.64L1389.62 1071.04L1389.96 1073.36L1390.31 1075.59L1390.67 1077.72L1391.06 1079.75L1391.47 1081.66L1391.91 1083.45L1392.37 1085.11L1392.87 1086.63L1393.4 1088.01L1393.98 1089.24L1394.62 1090.32L1395.36 1091.24L1396.22 1092L1397.25 1092.51L1398.4 1092.7L1399.57 1092.52L1400.61 1092.01L1401.5 1091.26L1402.25 1090.34L1402.92 1089.26L1403.53 1088.03L1404.08 1086.65L1404.59 1085.12L1405.07 1083.46L1405.52 1081.67L1405.95 1079.76L1406.35 1077.73L1406.73 1075.6L1407.1 1073.37L1407.44 1071.05L1407.77 1068.65L1408.09 1066.19L1408.4 1063.67L1408.7 1061.09L1408.99 1058.49L1409.28 1055.85L1409.56 1053.19L1409.84 1050.53L1410.12 1047.86L1410.4 1045.21L1410.69 1042.58L1410.98 1039.98L1411.28 1037.43L1411.58 1034.92L1411.9 1032.48L1412.23 1030.12L1412.57 1027.83L1412.93 1025.64L1413.3 1023.56L1413.69 1021.59L1414.1 1019.74L1414.53 1018.04L1414.98 1016.49L1415.44 1015.1L1415.93 1013.9L1416.42 1012.88L1416.91 1012.08L1417.38 1011.51L1417.79 1011.16L1418.12 1011L1418.4 1010.95L1418.64 1010.99L1418.94 1011.15L1419.33 1011.49L1419.78 1012.06L1420.25 1012.86L1420.73 1013.88L1421.2 1015.09L1421.65 1016.48L1422.09 1018.03L1422.5 1019.73L1422.89 1021.58L1423.27 1023.55L1423.63 1025.63L1423.98 1027.82L1424.3 1030.11L1424.62 1032.48L1424.93 1034.92L1425.22 1037.42L1425.51 1039.98L1425.79 1042.58L1426.06 1045.21L1426.34 1047.86L1426.61 1050.52L1426.88 1053.19L1427.15 1055.84L1427.43 1058.48L1427.71 1061.09L1428 1063.66L1428.3 1066.18L1428.6 1068.64L1428.92 1071.04L1429.26 1073.36L1429.61 1075.59L1429.97 1077.72L1430.36 1079.75L1430.77 1081.66L1431.21 1083.45L1431.67 1085.11L1432.17 1086.63L1432.7 1088.01L1433.28 1089.24L1433.92 1090.32L1434.66 1091.24L1435.52 1092L1436.55 1092.51L1437.7 1092.7L1438.87 1092.52L1439.91 1092.01L1440.8 1091.26L1441.55 1090.34L1442.22 1089.26L1442.83 1088.03L1443.38 1086.65L1443.89 1085.12L1444.37 1083.46L1444.82 1081.67L1445.25 1079.76L1445.65 1077.73L1446.02 1075.59L1446.38 1073.36L1446.72 1071.04L1447.05 1068.65L1447.36 1066.18L1447.67 1063.66L1447.96 1061.09L1448.25 1058.48L1448.53 1055.84L1448.81 1053.19L1449.09 1050.52L1449.36 1047.86L1449.64 1045.21L1449.92 1042.57L1450.21 1039.98L1450.5 1037.42L1450.81 1034.91L1451.12 1032.47L1451.44 1030.1L1451.78 1027.82L1452.13 1025.62L1452.5 1023.54L1452.88 1021.56L1453.29 1019.72L1453.71 1018.01L1454.15 1016.45L1454.62 1015.06L1455.1 1013.84L1455.59 1012.81L1456.09 1011.99L1456.56 1011.39L1457 1011.01L1457.36 1010.82L1457.7 1010.76L1458.01 1010.8L1458.36 1010.97L1458.79 1011.34L1459.27 1011.93L1459.76 1012.75L1460.26 1013.78L1460.74 1015L1461.2 1016.4L1461.64 1017.96L1462.06 1019.67L1462.47 1021.52L1462.85 1023.5L1463.21 1025.59L1463.56 1027.78L1463.9 1030.07L1464.22 1032.44L1464.53 1034.88L1464.83 1037.39L1465.12 1039.94L1465.4 1042.54L1465.68 1045.17L1465.96 1047.83L1466.23 1050.49L1466.51 1053.15L1466.78 1055.81L1467.06 1058.44L1467.35 1061.05L1467.64 1063.62L1467.94 1066.14L1468.26 1068.6L1468.58 1070.99L1468.92 1073.3L1469.27 1075.53L1469.64 1077.65L1470.03 1079.67L1470.45 1081.58L1470.89 1083.35L1471.35 1085L1471.85 1086.5L1472.38 1087.85L1472.95 1089.04L1473.58 1090.08L1474.27 1090.95L1475.07 1091.63L1475.99 1092.08L1477 1092.24L1478.02 1092.07L1478.94 1091.61L1479.74 1090.92L1480.45 1090.05L1481.08 1089.02L1481.65 1087.82L1482.19 1086.47L1482.69 1084.97L1483.16 1083.32L1483.6 1081.55L1484.01 1079.65L1484.41 1077.63L1484.78 1075.5L1485.14 1073.28L1485.48 1070.97L1485.81 1068.58L1486.12 1066.12L1486.42 1063.6L1486.72 1061.03L1487.01 1058.42L1487.29 1055.78L1487.57 1053.13L1487.84 1050.46L1488.12 1047.8L1488.4 1045.15L1488.68 1042.51L1488.97 1039.91L1489.26 1037.35L1489.56 1034.85L1489.88 1032.4L1490.2 1030.03L1490.54 1027.73L1490.89 1025.53L1491.26 1023.44L1491.65 1021.45L1492.06 1019.59L1492.48 1017.87L1492.93 1016.29L1493.41 1014.87L1493.9 1013.62L1494.41 1012.55L1494.94 1011.68L1495.47 1011.01L1495.99 1010.56L1496.5 1010.3L1497 1010.21L1497.48 1010.28L1497.96 1010.52L1498.48 1010.96L1499.01 1011.63L1499.54 1012.5L1500.05 1013.57L1500.54 1014.82L1501.01 1016.24L1501.46 1017.82L1501.88 1019.55L1502.28 1021.41L1502.67 1023.4L1503.04 1025.5L1503.38 1027.7L1503.72 1029.99L1504.04 1032.37L1504.35 1034.82L1504.65 1037.32L1504.94 1039.88L1505.22 1042.49L1505.5 1045.12L1505.78 1047.77L1506.05 1050.43L1506.33 1053.1L1506.6 1055.75L1506.88 1058.39L1507.16 1060.99L1507.46 1063.56L1507.76 1066.07L1508.07 1068.53L1508.39 1070.92L1508.72 1073.22L1509.08 1075.44L1509.45 1077.56L1509.83 1079.57L1510.24 1081.45L1510.68 1083.22L1511.14 1084.84L1511.62 1086.31L1512.14 1087.63L1512.69 1088.79L1513.28 1089.77L1513.93 1090.57L1514.63 1091.18L1515.41 1091.57L1516.25 1091.69L1517.05 1091.54L1517.77 1091.13L1518.41 1090.5L1518.98 1089.68L1519.51 1088.67L1520.01 1087.49L1520.47 1086.15L1520.9 1084.64L1521.31 1082.99L1521.7 1081.2L1522.06 1079.27L1522.41 1077.23L1522.74 1075.08L1523.05 1072.83L1523.35 1070.49L1523.64 1068.07L1523.91 1065.58L1524.18 1063.04L1524.44 1060.45L1524.7 1057.82L1524.95 1055.16L1525.2 1052.49L1525.44 1049.82L1525.69 1047.15L1525.94 1044.5L1526.2 1041.87L1526.46 1039.28L1526.72 1036.74L1527 1034.26L1527.29 1031.84L1527.59 1029.51L1527.9 1027.26L1528.23 1025.12L1528.57 1023.09L1528.93 1021.18L1529.32 1019.41L1529.72 1017.77L1530.14 1016.3L1530.59 1014.99L1531.07 1013.86L1531.57 1012.91L1532.09 1012.17L1532.62 1011.63L1533.18 1011.31L1533.79 1011.2L1533.71 1010.8L1533.03 1010.92L1532.36 1011.29L1531.74 1011.88L1531.17 1012.67L1530.63 1013.65L1530.13 1014.81L1529.66 1016.14L1529.22 1017.64L1528.8 1019.29L1528.4 1021.07L1528.03 1022.99L1527.67 1025.03L1527.33 1027.18L1527.01 1029.43L1526.7 1031.77L1526.41 1034.19L1526.13 1036.67L1525.85 1039.22L1525.58 1041.81L1525.32 1044.43L1525.06 1047.09L1524.81 1049.76L1524.55 1052.43L1524.3 1055.1L1524.04 1057.75L1523.78 1060.38L1523.51 1062.97L1523.24 1065.51L1522.95 1067.99L1522.66 1070.4L1522.35 1072.73L1522.03 1074.98L1521.69 1077.12L1521.34 1079.14L1520.97 1081.05L1520.57 1082.82L1520.16 1084.44L1519.73 1085.91L1519.27 1087.21L1518.79 1088.32L1518.28 1089.25L1517.77 1089.96L1517.25 1090.45L1516.75 1090.73L1516.25 1090.81L1515.7 1090.71L1515.16 1090.42L1514.61 1089.93L1514.08 1089.23L1513.55 1088.34L1513.05 1087.25L1512.57 1085.98L1512.11 1084.55L1511.67 1082.96L1511.26 1081.22L1510.86 1079.36L1510.49 1077.37L1510.13 1075.27L1509.79 1073.06L1509.47 1070.77L1509.16 1068.39L1508.85 1065.94L1508.56 1063.43L1508.28 1060.87L1508 1058.27L1507.73 1055.63L1507.47 1052.98L1507.2 1050.32L1506.93 1047.65L1506.66 1045L1506.39 1042.36L1506.12 1039.75L1505.83 1037.19L1505.54 1034.67L1505.24 1032.21L1504.92 1029.83L1504.6 1027.52L1504.25 1025.3L1503.9 1023.18L1503.52 1021.16L1503.12 1019.27L1502.69 1017.5L1502.25 1015.87L1501.77 1014.39L1501.26 1013.05L1500.72 1011.88L1500.13 1010.87L1499.48 1010.03L1498.75 1009.38L1497.92 1008.95L1497 1008.79L1496.06 1008.93L1495.19 1009.34L1494.41 1009.98L1493.72 1010.82L1493.09 1011.82L1492.5 1013L1491.96 1014.34L1491.45 1015.83L1490.97 1017.46L1490.52 1019.23L1490.09 1021.13L1489.69 1023.14L1489.3 1025.26L1488.93 1027.48L1488.59 1029.79L1488.25 1032.18L1487.93 1034.64L1487.62 1037.16L1487.31 1039.72L1487.02 1042.33L1486.73 1044.97L1486.44 1047.62L1486.16 1050.29L1485.87 1052.95L1485.58 1055.6L1485.29 1058.23L1485 1060.83L1484.7 1063.39L1484.39 1065.9L1484.07 1068.34L1483.73 1070.72L1483.39 1073.01L1483.02 1075.2L1482.64 1077.3L1482.25 1079.28L1481.83 1081.13L1481.39 1082.85L1480.93 1084.42L1480.45 1085.83L1479.94 1087.06L1479.42 1088.11L1478.89 1088.95L1478.37 1089.58L1477.87 1089.99L1477.43 1090.2L1477 1090.26L1476.62 1090.19L1476.21 1089.97L1475.76 1089.56L1475.27 1088.93L1474.78 1088.08L1474.29 1087.03L1473.82 1085.8L1473.37 1084.39L1472.94 1082.82L1472.52 1081.1L1472.13 1079.25L1471.76 1077.27L1471.4 1075.18L1471.06 1072.98L1470.74 1070.69L1470.43 1068.32L1470.13 1065.87L1469.83 1063.37L1469.55 1060.81L1469.27 1058.21L1469 1055.58L1468.73 1052.93L1468.47 1050.26L1468.2 1047.6L1467.93 1044.94L1467.66 1042.3L1467.38 1039.69L1467.1 1037.13L1466.8 1034.61L1466.5 1032.14L1466.18 1029.75L1465.86 1027.44L1465.51 1025.21L1465.15 1023.08L1464.77 1021.06L1464.36 1019.15L1463.94 1017.36L1463.48 1015.71L1463 1014.2L1462.47 1012.84L1461.91 1011.62L1461.29 1010.56L1460.58 1009.66L1459.76 1008.93L1458.79 1008.43L1457.7 1008.24L1456.59 1008.41L1455.59 1008.89L1454.72 1009.6L1453.97 1010.5L1453.31 1011.56L1452.7 1012.78L1452.15 1014.15L1451.63 1015.66L1451.14 1017.32L1450.69 1019.1L1450.26 1021.01L1449.85 1023.04L1449.46 1025.17L1449.1 1027.4L1448.74 1029.72L1448.41 1032.11L1448.09 1034.57L1447.77 1037.09L1447.47 1039.66L1447.17 1042.27L1446.88 1044.91L1446.6 1047.56L1446.31 1050.23L1446.03 1052.89L1445.74 1055.54L1445.45 1058.17L1445.16 1060.77L1444.86 1063.33L1444.55 1065.83L1444.23 1068.27L1443.89 1070.64L1443.55 1072.92L1443.19 1075.11L1442.81 1077.2L1442.41 1079.16L1442 1081.01L1441.57 1082.71L1441.12 1084.26L1440.66 1085.65L1440.17 1086.85L1439.68 1087.87L1439.19 1088.67L1438.72 1089.24L1438.31 1089.59L1437.98 1089.75L1437.7 1089.8L1437.46 1089.76L1437.16 1089.6L1436.77 1089.26L1436.32 1088.69L1435.85 1087.89L1435.37 1086.87L1434.9 1085.66L1434.45 1084.27L1434.01 1082.72L1433.6 1081.02L1433.21 1079.17L1432.83 1077.2L1432.47 1075.12L1432.12 1072.93L1431.8 1070.64L1431.48 1068.27L1431.17 1065.83L1430.88 1063.33L1430.59 1060.77L1430.31 1058.17L1430.04 1055.54L1429.76 1052.89L1429.49 1050.23L1429.22 1047.56L1428.95 1044.91L1428.67 1042.27L1428.39 1039.66L1428.1 1037.09L1427.8 1034.57L1427.5 1032.11L1427.18 1029.71L1426.84 1027.39L1426.49 1025.16L1426.13 1023.03L1425.74 1021L1425.33 1019.09L1424.89 1017.3L1424.43 1015.64L1423.93 1014.12L1423.4 1012.74L1422.82 1011.51L1422.18 1010.43L1421.44 1009.51L1420.58 1008.75L1419.55 1008.24L1418.4 1008.05L1417.23 1008.23L1416.19 1008.74L1415.3 1009.49L1414.55 1010.41L1413.88 1011.49L1413.27 1012.72L1412.72 1014.1L1412.21 1015.63L1411.73 1017.29L1411.28 1019.08L1410.85 1020.99L1410.45 1023.02L1410.07 1025.15L1409.7 1027.38L1409.36 1029.7L1409.03 1032.1L1408.71 1034.56L1408.4 1037.08L1408.1 1039.66L1407.81 1042.26L1407.52 1044.9L1407.24 1047.56L1406.96 1050.22L1406.68 1052.89L1406.4 1055.54L1406.11 1058.17L1405.82 1060.77L1405.52 1063.32L1405.22 1065.83L1404.9 1068.27L1404.57 1070.63L1404.23 1072.92L1403.87 1075.11L1403.5 1077.19L1403.11 1079.16L1402.7 1081.01L1402.27 1082.71L1401.82 1084.26L1401.36 1085.65L1400.87 1086.85L1400.38 1087.87L1399.89 1088.67L1399.42 1089.24L1399.01 1089.59L1398.68 1089.75L1398.4 1089.8L1398.16 1089.76L1397.86 1089.6L1397.47 1089.26L1397.02 1088.69L1396.55 1087.89L1396.07 1086.87L1395.6 1085.66L1395.15 1084.27L1394.71 1082.72L1394.3 1081.02L1393.91 1079.17L1393.53 1077.2L1393.17 1075.12L1392.82 1072.93L1392.5 1070.64L1392.18 1068.27L1391.87 1065.83L1391.58 1063.33L1391.29 1060.77L1391.01 1058.17L1390.74 1055.54L1390.46 1052.89L1390.19 1050.23L1389.92 1047.56L1389.65 1044.91L1389.37 1042.27L1389.09 1039.66L1388.8 1037.09L1388.5 1034.57L1388.2 1032.11L1387.88 1029.71L1387.54 1027.39L1387.19 1025.16L1386.83 1023.03L1386.44 1021L1386.03 1019.09L1385.59 1017.3L1385.13 1015.64L1384.63 1014.12L1384.1 1012.74L1383.52 1011.51L1382.88 1010.43L1382.14 1009.51L1381.28 1008.75L1380.25 1008.24L1379.1 1008.05L1377.93 1008.23L1376.89 1008.74L1376 1009.49L1375.25 1010.41L1374.58 1011.49L1373.97 1012.72L1373.42 1014.1L1372.91 1015.63L1372.43 1017.29L1371.98 1019.08L1371.55 1020.99L1371.15 1023.02L1370.77 1025.15L1370.4 1027.38L1370.06 1029.7L1369.73 1032.1L1369.41 1034.56L1369.1 1037.08L1368.8 1039.66L1368.51 1042.26L1368.22 1044.9L1367.94 1047.56L1367.66 1050.22L1367.38 1052.89L1367.1 1055.54L1366.81 1058.17L1366.52 1060.77L1366.22 1063.32L1365.92 1065.83L1365.6 1068.27L1365.27 1070.63L1364.93 1072.92L1364.57 1075.11L1364.2 1077.19L1363.81 1079.16L1363.4 1081.01L1362.97 1082.71L1362.52 1084.26L1362.06 1085.65L1361.57 1086.85L1361.08 1087.87L1360.59 1088.67L1360.12 1089.24L1359.71 1089.59L1359.38 1089.75L1359.1 1089.8L1358.86 1089.76L1358.56 1089.6L1358.17 1089.26L1357.72 1088.69L1357.25 1087.89L1356.77 1086.87L1356.3 1085.66L1355.85 1084.27L1355.41 1082.72L1355 1081.02L1354.61 1079.17L1354.23 1077.2L1353.87 1075.12L1353.52 1072.93L1353.2 1070.64L1352.88 1068.27L1352.57 1065.83L1352.28 1063.33L1351.99 1060.77L1351.71 1058.17L1351.44 1055.54L1351.16 1052.89L1350.89 1050.23L1350.62 1047.56L1350.35 1044.91L1350.07 1042.27L1349.79 1039.66L1349.5 1037.09L1349.2 1034.57L1348.9 1032.11L1348.58 1029.71L1348.24 1027.39L1347.89 1025.16L1347.53 1023.03L1347.14 1021L1346.73 1019.09L1346.29 1017.3L1345.83 1015.64L1345.33 1014.12L1344.8 1012.74L1344.22 1011.51L1343.58 1010.43L1342.84 1009.51L1341.98 1008.75L1340.95 1008.24L1339.8 1008.05L1338.63 1008.23L1337.59 1008.74L1336.7 1009.49L1335.95 1010.41L1335.28 1011.49L1334.67 1012.72L1334.12 1014.1L1333.61 1015.63L1333.13 1017.29L1332.68 1019.08L1332.25 1020.99L1331.85 1023.02L1331.47 1025.15L1331.1 1027.38L1330.76 1029.7L1330.43 1032.1L1330.11 1034.56L1329.8 1037.08L1329.5 1039.66L1329.21 1042.26L1328.92 1044.9L1328.64 1047.56L1328.36 1050.22L1328.08 1052.89L1327.8 1055.54L1327.51 1058.17L1327.22 1060.77L1326.92 1063.32L1326.62 1065.83L1326.3 1068.27L1325.97 1070.63L1325.63 1072.92L1325.27 1075.11L1324.9 1077.19L1324.51 1079.16L1324.1 1081.01L1323.67 1082.71L1323.22 1084.26L1322.76 1085.65L1322.27 1086.85L1321.78 1087.87L1321.29 1088.67L1320.82 1089.24L1320.41 1089.59L1320.08 1089.75L1319.8 1089.8L1319.56 1089.76L1319.26 1089.6L1318.87 1089.26L1318.42 1088.69L1317.95 1087.89L1317.47 1086.87L1317 1085.66L1316.55 1084.27L1316.11 1082.72L1315.7 1081.02L1315.31 1079.17L1314.93 1077.2L1314.57 1075.12L1314.22 1072.93L1313.9 1070.64L1313.58 1068.27L1313.27 1065.83L1312.98 1063.33L1312.69 1060.77L1312.41 1058.17L1312.14 1055.54L1311.86 1052.89L1311.59 1050.23L1311.32 1047.56L1311.05 1044.91L1310.77 1042.27L1310.49 1039.66L1310.2 1037.09L1309.9 1034.57L1309.6 1032.11L1309.28 1029.71L1308.94 1027.39L1308.59 1025.16L1308.23 1023.03L1307.84 1021L1307.43 1019.09L1306.99 1017.3L1306.53 1015.64L1306.03 1014.12L1305.5 1012.74L1304.92 1011.51L1304.28 1010.43L1303.54 1009.51L1302.68 1008.75L1301.65 1008.24L1300.5 1008.05L1299.33 1008.23L1298.29 1008.74L1297.4 1009.49L1296.65 1010.41L1295.98 1011.49L1295.37 1012.72L1294.82 1014.1L1294.31 1015.63L1293.83 1017.29L1293.38 1019.08L1292.95 1020.99L1292.55 1023.02L1292.17 1025.15L1291.8 1027.38L1291.46 1029.7L1291.13 1032.1L1290.81 1034.56L1290.5 1037.08L1290.2 1039.66L1289.91 1042.26L1289.62 1044.9L1289.34 1047.56L1289.06 1050.22L1288.78 1052.89L1288.5 1055.54L1288.21 1058.17L1287.92 1060.77L1287.62 1063.32L1287.32 1065.83L1287 1068.27L1286.67 1070.63L1286.33 1072.92L1285.97 1075.11L1285.6 1077.19L1285.21 1079.16L1284.8 1081.01L1284.37 1082.71L1283.92 1084.26L1283.46 1085.65L1282.97 1086.85L1282.48 1087.87L1281.99 1088.67L1281.52 1089.24L1281.11 1089.59L1280.78 1089.75L1280.5 1089.8L1280.26 1089.76L1279.96 1089.6L1279.57 1089.26L1279.12 1088.69L1278.65 1087.89L1278.17 1086.87L1277.7 1085.66L1277.25 1084.27L1276.81 1082.72L1276.4 1081.02L1276.01 1079.17L1275.63 1077.2L1275.27 1075.12L1274.92 1072.93L1274.6 1070.64L1274.28 1068.27L1273.97 1065.83L1273.68 1063.33L1273.39 1060.77L1273.11 1058.17L1272.84 1055.54L1272.56 1052.89L1272.29 1050.23L1272.02 1047.56L1271.75 1044.91L1271.47 1042.27L1271.19 1039.66L1270.9 1037.09L1270.6 1034.57L1270.3 1032.11L1269.98 1029.71L1269.64 1027.39L1269.29 1025.16L1268.93 1023.03L1268.54 1021L1268.13 1019.09L1267.69 1017.3L1267.23 1015.64L1266.73 1014.12L1266.2 1012.74L1265.62 1011.51L1264.98 1010.43L1264.24 1009.51L1263.38 1008.75L1262.35 1008.24L1261.2 1008.05L1260.03 1008.23L1258.99 1008.74L1258.1 1009.49L1257.35 1010.41L1256.68 1011.49L1256.07 1012.72L1255.52 1014.1L1255.01 1015.63L1254.53 1017.29L1254.08 1019.08L1253.65 1020.99L1253.25 1023.02L1252.87 1025.15L1252.5 1027.38L1252.16 1029.7L1251.83 1032.1L1251.51 1034.56L1251.2 1037.08L1250.9 1039.66L1250.61 1042.26L1250.32 1044.9L1250.04 1047.56L1249.76 1050.22L1249.48 1052.89L1249.2 1055.54L1248.91 1058.17L1248.62 1060.77L1248.32 1063.32L1248.02 1065.83L1247.7 1068.27L1247.37 1070.63L1247.03 1072.92L1246.67 1075.11L1246.3 1077.19L1245.91 1079.16L1245.5 1081.01L1245.07 1082.71L1244.62 1084.26L1244.16 1085.65L1243.67 1086.85L1243.18 1087.87L1242.69 1088.67L1242.22 1089.24L1241.81 1089.59L1241.48 1089.75L1241.2 1089.8L1240.96 1089.76L1240.66 1089.6L1240.27 1089.26L1239.82 1088.69L1239.35 1087.89L1238.87 1086.87L1238.4 1085.66L1237.95 1084.27L1237.51 1082.72L1237.1 1081.02L1236.71 1079.17L1236.33 1077.2L1235.97 1075.12L1235.62 1072.93L1235.3 1070.64L1234.98 1068.27L1234.67 1065.83L1234.38 1063.33L1234.09 1060.77L1233.81 1058.17L1233.54 1055.54L1233.26 1052.89L1232.99 1050.23L1232.72 1047.56L1232.45 1044.91L1232.17 1042.27L1231.89 1039.66L1231.6 1037.09L1231.3 1034.57L1231 1032.11L1230.68 1029.71L1230.34 1027.39L1229.99 1025.16L1229.63 1023.03L1229.24 1021L1228.83 1019.09L1228.39 1017.3L1227.93 1015.64L1227.43 1014.12L1226.9 1012.74L1226.32 1011.51L1225.68 1010.43L1224.94 1009.51L1224.08 1008.75L1223.05 1008.24L1221.9 1008.05L1220.73 1008.23L1219.69 1008.74L1218.8 1009.49L1218.05 1010.41L1217.38 1011.49L1216.77 1012.72L1216.22 1014.1L1215.71 1015.63L1215.23 1017.29L1214.78 1019.08L1214.35 1020.99L1213.95 1023.02L1213.57 1025.15L1213.2 1027.38L1212.86 1029.7L1212.53 1032.1L1212.21 1034.56L1211.9 1037.08L1211.6 1039.66L1211.31 1042.26L1211.02 1044.9L1210.74 1047.56L1210.46 1050.22L1210.18 1052.89L1209.9 1055.54L1209.61 1058.17L1209.32 1060.77L1209.02 1063.32L1208.72 1065.83L1208.4 1068.27L1208.07 1070.63L1207.73 1072.92L1207.37 1075.11L1207 1077.19L1206.61 1079.16L1206.2 1081.01L1205.77 1082.71L1205.32 1084.26L1204.86 1085.65L1204.37 1086.85L1203.88 1087.87L1203.39 1088.67L1202.92 1089.24L1202.51 1089.59L1202.18 1089.75L1201.9 1089.8L1201.66 1089.76L1201.36 1089.6L1200.97 1089.26L1200.52 1088.69L1200.05 1087.89L1199.57 1086.87L1199.1 1085.66L1198.65 1084.27L1198.21 1082.72L1197.8 1081.02L1197.41 1079.17L1197.03 1077.2L1196.67 1075.12L1196.32 1072.93L1196 1070.64L1195.68 1068.27L1195.37 1065.83L1195.08 1063.33L1194.79 1060.77L1194.51 1058.17L1194.24 1055.54L1193.96 1052.89L1193.69 1050.23L1193.42 1047.56L1193.15 1044.91L1192.87 1042.27L1192.59 1039.66L1192.3 1037.09L1192 1034.57L1191.7 1032.11L1191.38 1029.71L1191.04 1027.39L1190.69 1025.16L1190.33 1023.03L1189.94 1021L1189.53 1019.09L1189.09 1017.3L1188.63 1015.64L1188.13 1014.12L1187.6 1012.74L1187.02 1011.51L1186.38 1010.43L1185.64 1009.51L1184.78 1008.75L1183.75 1008.24L1182.6 1008.05L1181.43 1008.23L1180.39 1008.74L1179.5 1009.49L1178.75 1010.41L1178.08 1011.49L1177.47 1012.72L1176.92 1014.1L1176.41 1015.63L1175.93 1017.29L1175.48 1019.08L1175.05 1020.99L1174.65 1023.02L1174.27 1025.15L1173.9 1027.38L1173.56 1029.7L1173.23 1032.1L1172.91 1034.56L1172.6 1037.08L1172.3 1039.66L1172.01 1042.26L1171.72 1044.9L1171.44 1047.56L1171.16 1050.22L1170.88 1052.89L1170.6 1055.54L1170.31 1058.17L1170.02 1060.77L1169.72 1063.32L1169.42 1065.83L1169.1 1068.27L1168.77 1070.63L1168.43 1072.92L1168.07 1075.11L1167.7 1077.19L1167.31 1079.16L1166.9 1081.01L1166.47 1082.71L1166.02 1084.26L1165.56 1085.65L1165.07 1086.85L1164.58 1087.87L1164.09 1088.67L1163.62 1089.24L1163.21 1089.59L1162.88 1089.75L1162.6 1089.8L1162.36 1089.76L1162.06 1089.6L1161.67 1089.26L1161.22 1088.69L1160.75 1087.89L1160.27 1086.87L1159.8 1085.66L1159.35 1084.27L1158.91 1082.72L1158.5 1081.02L1158.11 1079.17L1157.73 1077.2L1157.37 1075.12L1157.02 1072.93L1156.7 1070.64L1156.38 1068.27L1156.07 1065.83L1155.78 1063.33L1155.49 1060.77L1155.21 1058.17L1154.94 1055.54L1154.66 1052.89L1154.39 1050.23L1154.12 1047.56L1153.85 1044.91L1153.57 1042.27L1153.29 1039.66L1153 1037.09L1152.7 1034.57L1152.4 1032.11L1152.08 1029.71L1151.74 1027.39L1151.39 1025.16L1151.03 1023.03L1150.64 1021L1150.23 1019.09L1149.79 1017.3L1149.33 1015.64L1148.83 1014.12L1148.3 1012.74L1147.72 1011.51L1147.08 1010.43L1146.34 1009.51L1145.48 1008.75L1144.45 1008.24L1143.3 1008.05L1142.13 1008.23L1141.09 1008.74L1140.2 1009.49L1139.45 1010.41L1138.78 1011.49L1138.17 1012.72L1137.62 1014.1L1137.11 1015.63L1136.63 1017.29L1136.18 1019.08L1135.75 1020.99L1135.35 1023.02L1134.97 1025.15L1134.6 1027.38L1134.26 1029.7L1133.93 1032.1L1133.61 1034.56L1133.3 1037.08L1133 1039.66L1132.71 1042.26L1132.42 1044.9L1132.14 1047.56L1131.86 1050.22L1131.58 1052.89L1131.3 1055.54L1131.01 1058.17L1130.72 1060.77L1130.42 1063.32L1130.12 1065.83L1129.8 1068.27L1129.47 1070.63L1129.13 1072.92L1128.77 1075.11L1128.4 1077.19L1128.01 1079.16L1127.6 1081.01L1127.17 1082.71L1126.72 1084.26L1126.26 1085.65L1125.77 1086.85L1125.28 1087.87L1124.79 1088.67L1124.32 1089.24L1123.91 1089.59L1123.58 1089.75L1123.3 1089.8L1123.06 1089.76L1122.76 1089.6L1122.37 1089.26L1121.92 1088.69L1121.45 1087.89L1120.97 1086.87L1120.5 1085.66L1120.05 1084.27L1119.61 1082.72L1119.2 1081.02L1118.81 1079.17L1118.43 1077.2L1118.07 1075.12L1117.72 1072.93L1117.4 1070.64L1117.08 1068.27L1116.77 1065.83L1116.48 1063.33L1116.19 1060.77L1115.91 1058.17L1115.64 1055.54L1115.36 1052.89L1115.09 1050.23L1114.82 1047.56L1114.55 1044.91L1114.27 1042.27L1113.99 1039.66L1113.7 1037.09L1113.4 1034.57L1113.1 1032.11L1112.78 1029.71L1112.44 1027.39L1112.09 1025.16L1111.73 1023.03L1111.34 1021L1110.93 1019.09L1110.49 1017.3L1110.03 1015.64L1109.53 1014.12L1109 1012.74L1108.42 1011.51L1107.78 1010.43L1107.04 1009.51L1106.18 1008.75L1105.15 1008.24L1104 1008.05L1102.83 1008.23L1101.79 1008.74L1100.9 1009.49L1100.15 1010.41L1099.48 1011.49L1098.87 1012.72L1098.32 1014.1L1097.81 1015.63L1097.33 1017.29L1096.88 1019.08L1096.45 1020.99L1096.05 1023.02L1095.67 1025.15L1095.3 1027.38L1094.96 1029.7L1094.63 1032.1L1094.31 1034.56L1094 1037.08L1093.7 1039.66L1093.41 1042.26L1093.12 1044.9L1092.84 1047.56L1092.56 1050.22L1092.28 1052.89L1092 1055.54L1091.71 1058.17L1091.42 1060.77L1091.12 1063.32L1090.82 1065.83L1090.5 1068.27L1090.17 1070.63L1089.83 1072.92L1089.47 1075.11L1089.1 1077.19L1088.71 1079.16L1088.3 1081.01L1087.87 1082.71L1087.42 1084.26L1086.96 1085.65L1086.47 1086.85L1085.98 1087.87L1085.49 1088.67L1085.02 1089.24L1084.61 1089.59L1084.28 1089.75L1084 1089.8L1083.76 1089.76L1083.46 1089.6L1083.07 1089.26L1082.62 1088.69L1082.15 1087.89L1081.67 1086.87L1081.2 1085.66L1080.75 1084.27L1080.31 1082.72L1079.9 1081.02L1079.51 1079.17L1079.13 1077.2L1078.77 1075.12L1078.42 1072.93L1078.1 1070.64L1077.78 1068.27L1077.47 1065.83L1077.18 1063.33L1076.89 1060.77L1076.61 1058.17L1076.34 1055.54L1076.06 1052.89L1075.79 1050.23L1075.52 1047.56L1075.25 1044.91L1074.97 1042.27L1074.69 1039.66L1074.4 1037.09L1074.1 1034.57L1073.8 1032.11L1073.48 1029.71L1073.14 1027.39L1072.79 1025.16L1072.43 1023.03L1072.04 1021L1071.63 1019.09L1071.19 1017.3L1070.73 1015.64L1070.23 1014.12L1069.7 1012.74L1069.12 1011.51L1068.48 1010.43L1067.74 1009.51L1066.88 1008.75L1065.85 1008.24L1064.7 1008.05L1063.53 1008.23L1062.49 1008.74L1061.6 1009.49L1060.85 1010.41L1060.18 1011.49L1059.57 1012.72L1059.02 1014.1L1058.51 1015.63L1058.03 1017.29L1057.58 1019.08L1057.15 1020.99L1056.75 1023.02L1056.37 1025.15L1056 1027.38L1055.66 1029.7L1055.33 1032.1L1055.01 1034.56L1054.7 1037.08L1054.4 1039.66L1054.11 1042.26L1053.82 1044.9L1053.54 1047.56L1053.26 1050.22L1052.98 1052.89L1052.7 1055.54L1052.41 1058.17L1052.12 1060.77L1051.82 1063.32L1051.52 1065.83L1051.2 1068.27L1050.87 1070.63L1050.53 1072.92L1050.17 1075.11L1049.8 1077.19L1049.41 1079.16L1049 1081.01L1048.57 1082.71L1048.12 1084.26L1047.66 1085.65L1047.17 1086.85L1046.68 1087.87L1046.19 1088.67L1045.72 1089.24L1045.31 1089.59L1044.98 1089.75L1044.7 1089.8L1044.46 1089.76L1044.16 1089.6L1043.77 1089.26L1043.32 1088.69L1042.85 1087.89L1042.37 1086.87L1041.9 1085.66L1041.45 1084.27L1041.01 1082.72L1040.6 1081.02L1040.21 1079.17L1039.83 1077.2L1039.47 1075.12L1039.12 1072.93L1038.8 1070.64L1038.48 1068.27L1038.17 1065.83L1037.88 1063.33L1037.59 1060.77L1037.31 1058.17L1037.04 1055.54L1036.76 1052.89L1036.49 1050.23L1036.22 1047.56L1035.95 1044.91L1035.67 1042.27L1035.39 1039.66L1035.1 1037.09L1034.8 1034.57L1034.5 1032.11L1034.18 1029.71L1033.84 1027.39L1033.49 1025.16L1033.13 1023.03L1032.74 1021L1032.33 1019.09L1031.89 1017.3L1031.43 1015.64L1030.93 1014.12L1030.4 1012.74L1029.82 1011.51L1029.18 1010.43L1028.44 1009.51L1027.58 1008.75L1026.55 1008.24L1025.4 1008.05L1024.23 1008.23L1023.19 1008.74L1022.3 1009.49L1021.55 1010.41L1020.88 1011.49L1020.27 1012.72L1019.72 1014.1L1019.21 1015.63L1018.73 1017.29L1018.28 1019.08L1017.85 1020.99L1017.45 1023.02L1017.07 1025.15L1016.7 1027.38L1016.36 1029.7L1016.03 1032.1L1015.71 1034.56L1015.4 1037.08L1015.1 1039.66L1014.81 1042.26L1014.52 1044.9L1014.24 1047.56L1013.96 1050.22L1013.68 1052.89L1013.4 1055.54L1013.11 1058.17L1012.82 1060.77L1012.52 1063.32L1012.22 1065.83L1011.9 1068.27L1011.57 1070.63L1011.23 1072.92L1010.87 1075.11L1010.5 1077.19L1010.11 1079.16L1009.7 1081.01L1009.27 1082.71L1008.82 1084.26L1008.36 1085.65L1007.87 1086.85L1007.38 1087.87L1006.89 1088.67L1006.42 1089.24L1006.01 1089.59L1005.68 1089.75L1005.4 1089.8L1005.16 1089.76L1004.86 1089.6L1004.47 1089.26L1004.02 1088.69L1003.55 1087.89L1003.07 1086.87L1002.6 1085.66L1002.15 1084.27L1001.71 1082.72L1001.3 1081.02L1000.91 1079.17L1000.53 1077.2L1000.17 1075.12L999.82 1072.93L999.5 1070.64L999.18 1068.27L998.87 1065.83L998.58 1063.33L998.29 1060.77L998.01 1058.17L997.74 1055.54L997.46 1052.89L997.19 1050.23L996.92 1047.56L996.65 1044.91L996.37 1042.27L996.09 1039.66L995.8 1037.09L995.5 1034.57L995.2 1032.11L994.88 1029.71L994.54 1027.39L994.19 1025.16L993.83 1023.03L993.44 1021L993.03 1019.09L992.59 1017.3L992.13 1015.64L991.63 1014.12L991.1 1012.74L990.52 1011.51L989.88 1010.43L989.14 1009.51L988.28 1008.75L987.25 1008.24L986.1 1008.05L984.93 1008.23L983.89 1008.74L983 1009.49L982.25 1010.41L981.58 1011.49L980.97 1012.72L980.42 1014.1L979.91 1015.63L979.43 1017.29L978.98 1019.08L978.55 1020.99L978.15 1023.02L977.77 1025.15L977.4 1027.38L977.06 1029.7L976.73 1032.1L976.41 1034.56L976.1 1037.08L975.8 1039.66L975.51 1042.26L975.22 1044.9L974.94 1047.56L974.66 1050.22L974.38 1052.89L974.1 1055.54L973.81 1058.17L973.52 1060.77L973.22 1063.32L972.92 1065.83L972.6 1068.27L972.27 1070.63L971.93 1072.92L971.57 1075.11L971.2 1077.19L970.81 1079.16L970.4 1081.01L969.97 1082.71L969.52 1084.26L969.06 1085.65L968.57 1086.85L968.08 1087.87L967.59 1088.67L967.12 1089.24L966.71 1089.59L966.38 1089.75L966.1 1089.8L965.86 1089.76L965.56 1089.6L965.17 1089.26L964.72 1088.69L964.25 1087.89L963.77 1086.87L963.3 1085.66L962.85 1084.27L962.41 1082.72L962 1081.02L961.61 1079.17L961.23 1077.2L960.86 1075.12L960.51 1072.93L960.18 1070.64L959.86 1068.28L959.55 1065.84L959.25 1063.33L958.96 1060.78L958.67 1058.18L958.39 1055.55L958.12 1052.9L957.84 1050.23L957.57 1047.57L957.29 1044.91L957.01 1042.28L956.73 1039.67L956.43 1037.1L956.13 1034.58L955.82 1032.11L955.5 1029.72L955.16 1027.4L954.8 1025.18L954.43 1023.05L954.04 1021.02L953.62 1019.11L953.18 1017.33L952.71 1015.67L952.22 1014.16L951.68 1012.79L951.1 1011.58L950.45 1010.51L949.73 1009.61L948.89 1008.89L947.9 1008.4L946.8 1008.23L945.69 1008.42L944.7 1008.91L943.86 1009.63L943.13 1010.54L942.48 1011.6L941.89 1012.82L941.35 1014.19L940.85 1015.7L940.37 1017.35L939.93 1019.14L939.51 1021.05L939.12 1023.07L938.74 1025.2L938.38 1027.43L938.04 1029.74L937.72 1032.14L937.4 1034.6L937.1 1037.12L936.8 1039.69L936.52 1042.3L936.23 1044.94L935.96 1047.59L935.68 1050.26L935.4 1052.92L935.12 1055.57L934.84 1058.2L934.55 1060.8L934.26 1063.36L933.96 1065.87L933.65 1068.31L933.32 1070.69L932.99 1072.97L932.63 1075.17L932.27 1077.26L931.88 1079.24L931.47 1081.09L931.05 1082.81L930.6 1084.38L930.13 1085.79L929.65 1087.02L929.14 1088.07L928.63 1088.91L928.13 1089.54L927.65 1089.96L927.22 1090.18L926.8 1090.26L926.41 1090.21L925.99 1090L925.52 1089.59L925.01 1088.97L924.5 1088.12L924 1087.07L923.51 1085.84L923.04 1084.43L922.6 1082.86L922.18 1081.14L921.77 1079.28L921.39 1077.3L921.02 1075.21L920.67 1073.01L920.34 1070.72L920.02 1068.35L919.71 1065.9L919.41 1063.39L919.12 1060.84L918.83 1058.24L918.55 1055.6L918.28 1052.95L918 1050.29L917.73 1047.62L917.45 1044.97L917.17 1042.33L916.88 1039.73L916.59 1037.16L916.29 1034.64L915.98 1032.18L915.66 1029.8L915.32 1027.49L914.96 1025.27L914.59 1023.14L914.2 1021.13L913.79 1019.23L913.35 1017.46L912.89 1015.83L912.4 1014.34L911.88 1013.01L911.31 1011.83L910.7 1010.82L910.03 1009.99L909.28 1009.34L908.43 1008.92L907.5 1008.78L906.56 1008.94L905.7 1009.37L904.95 1010.02L904.27 1010.85L903.66 1011.86L903.09 1013.04L902.56 1014.38L902.07 1015.86L901.6 1017.49L901.16 1019.26L900.75 1021.16L900.35 1023.17L899.98 1025.29L899.62 1027.51L899.28 1029.82L898.96 1032.21L898.64 1034.67L898.34 1037.18L898.05 1039.75L897.76 1042.36L897.48 1044.99L897.2 1047.65L896.92 1050.31L896.64 1052.98L896.37 1055.63L896.08 1058.26L895.8 1060.87L895.5 1063.43L895.2 1065.94L894.89 1068.39L894.56 1070.76L894.23 1073.06L893.87 1075.26L893.5 1077.36L893.11 1079.35L892.7 1081.22L892.27 1082.95L891.82 1084.54L891.35 1085.97L890.85 1087.24L890.32 1088.33L889.78 1089.23L889.22 1089.92L888.65 1090.41L888.09 1090.7L887.5 1090.81L887 1090.73L886.5 1090.45L885.98 1089.96L885.47 1089.24L884.97 1088.32L884.48 1087.2L884.02 1085.89L883.59 1084.42L883.18 1082.79L882.78 1081.02L882.41 1079.11L882.06 1077.07L881.72 1074.92L881.4 1072.68L881.09 1070.34L880.8 1067.92L880.51 1065.43L880.24 1062.88L879.97 1060.28L879.71 1057.65L879.45 1054.99L879.2 1052.31L878.94 1049.63L878.69 1046.95L878.43 1044.29L878.17 1041.65L877.9 1039.05L877.62 1036.5L877.34 1034.01L877.05 1031.58L876.74 1029.24L876.42 1026.98L876.08 1024.83L875.72 1022.78L875.35 1020.85L874.95 1019.06L874.53 1017.41L874.09 1015.91L873.62 1014.57L873.12 1013.41L872.58 1012.42L872.01 1011.63L871.39 1011.04L870.72 1010.67L870.04 1010.55Z"/><text class="lbl" y="937.75" font-size="44.2"><tspan x="843.96" textLength="131.05" lengthAdjust="spacingAndGlyphs">Carrier</tspan> <tspan x="986.97" textLength="115.12" lengthAdjust="spacingAndGlyphs">signal</tspan></text></g>
<g id="footer"><rect x="0" y="1238.75" width="1600" height="91" fill="#1275ae"/><text class="brand" y="1302" font-size="37"><tspan x="19" textLength="132.01" lengthAdjust="spacingAndGlyphs">dreamst</tspan><tspan x="157.25" textLength="8.17" lengthAdjust="spacingAndGlyphs">i</tspan><tspan x="167.45" textLength="117.11" lengthAdjust="spacingAndGlyphs">me.com</tspan></text><path fill="#fff" d="M161.05 1273.36L161.02 1273.36L161.03 1273.35L161.04 1273.35L161.04 1273.34L161.04 1273.33L161.03 1273.32L161.02 1273.31L161.01 1273.3L160.99 1273.28L160.98 1273.25L160.96 1273.22L160.94 1273.18L160.93 1273.13L160.92 1273.08L160.91 1273.02L160.91 1272.96L160.92 1272.9L160.93 1272.82L160.96 1272.75L160.99 1272.67L161.03 1272.6L161.08 1272.52L161.15 1272.45L161.22 1272.38L161.31 1272.31L161.4 1272.25L161.51 1272.2L161.62 1272.16L161.74 1272.12L161.87 1272.1L162.01 1272.09L162.15 1272.1L162.3 1272.12L162.44 1272.15L162.59 1272.2L162.74 1272.27L162.88 1272.35L163.02 1272.45L163.15 1272.57L163.28 1272.7L163.39 1272.85L163.49 1273.01L163.58 1273.18L163.65 1273.37L163.7 1273.57L163.73 1273.78L163.75 1273.99L163.74 1274.21L163.72 1274.43L163.67 1274.66L163.59 1274.88L163.5 1275.1L163.38 1275.31L163.24 1275.51L163.07 1275.71L162.89 1275.89L162.68 1276.05L162.46 1276.2L162.22 1276.33L161.96 1276.43L161.69 1276.51L161.41 1276.57L161.12 1276.6L160.82 1276.6L160.52 1276.57L160.22 1276.51L159.92 1276.42L159.62 1276.31L159.34 1276.16L159.06 1275.98L158.8 1275.78L158.56 1275.55L158.34 1275.29L158.14 1275.01L157.96 1274.7L157.82 1274.38L157.7 1274.04L157.61 1273.68L157.56 1273.32L157.54 1272.94L157.56 1272.56L157.62 1272.18L157.71 1271.81L157.84 1271.43L158.01 1271.07L158.21 1270.72L158.45 1270.39L158.72 1270.08L159.03 1269.79L159.36 1269.53L159.72 1269.3L160.11 1269.1L160.52 1268.94L160.94 1268.82L161.38 1268.73L161.83 1268.69L162.29 1268.69L162.75 1268.74L163.21 1268.83L163.66 1268.96L164.1 1269.14L164.53 1269.36L164.94 1269.63L165.32 1269.93L165.68 1270.27L166.03 1270.64L166.38 1271.02L166.69 1271.44L166.98 1271.89L167.22 1272.38L167.41 1272.91L167.56 1273.46L167.66 1274.03L167.7 1274.62L167.69 1275.23L167.62 1275.84L167.48 1276.45L167.29 1277.06L167.03 1277.66L166.7 1278.26L167.44 1278.77L167.92 1278.21L168.34 1277.59L168.71 1276.92L169 1276.23L169.24 1275.5L169.4 1274.76L169.49 1274.01L169.5 1273.25L169.44 1272.49L169.32 1271.74L169.11 1271.01L168.84 1270.29L168.51 1269.61L168.1 1268.97L167.61 1268.39L167.06 1267.88L166.46 1267.43L165.83 1267.04L165.17 1266.72L164.49 1266.47L163.8 1266.28L163.09 1266.16L162.38 1266.1L161.68 1266.12L160.99 1266.2L160.31 1266.34L159.66 1266.55L159.03 1266.82L158.44 1267.14L157.89 1267.51L157.38 1267.93L156.91 1268.39L156.5 1268.89L156.14 1269.42L155.83 1269.98L155.59 1270.56L155.4 1271.16L155.26 1271.76L155.19 1272.37L155.18 1272.98L155.22 1273.58L155.32 1274.16L155.48 1274.73L155.68 1275.27L155.94 1275.79L156.23 1276.28L156.57 1276.73L156.95 1277.14L157.36 1277.5L157.8 1277.83L158.27 1278.11L158.75 1278.33L159.25 1278.51L159.75 1278.64L160.26 1278.72L160.77 1278.75L161.27 1278.73L161.77 1278.66L162.24 1278.55L162.7 1278.39L163.14 1278.2L163.55 1277.96L163.93 1277.69L164.28 1277.39L164.59 1277.06L164.87 1276.7L165.11 1276.33L165.31 1275.94L165.46 1275.53L165.58 1275.12L165.65 1274.71L165.68 1274.3L165.67 1273.89L165.63 1273.49L165.54 1273.1L165.42 1272.73L165.27 1272.38L165.08 1272.05L164.87 1271.75L164.63 1271.47L164.37 1271.22L164.09 1271L163.8 1270.81L163.49 1270.66L163.18 1270.53L162.86 1270.45L162.54 1270.39L162.22 1270.37L161.9 1270.38L161.6 1270.42L161.3 1270.49L161.02 1270.59L160.76 1270.72L160.51 1270.86L160.29 1271.03L160.09 1271.22L159.91 1271.42L159.76 1271.64L159.63 1271.86L159.53 1272.1L159.46 1272.33L159.41 1272.57L159.39 1272.81L159.4 1273.04L159.43 1273.26L159.49 1273.48L159.56 1273.68L159.66 1273.87L159.77 1274.05L159.9 1274.2L160.05 1274.34L160.21 1274.45L160.38 1274.55L160.55 1274.62L160.73 1274.66L160.91 1274.69L161.09 1274.69L161.27 1274.66L161.43 1274.61L161.55 1274.56Z"/><text class="credit" y="1292" font-size="23.7"><tspan x="1281.53" textLength="24.63" lengthAdjust="spacingAndGlyphs">ID</tspan> <tspan x="1313.48" textLength="116.28" lengthAdjust="spacingAndGlyphs">42626498</tspan> <tspan x="1437.14" textLength="20.18" lengthAdjust="spacingAndGlyphs" font-weight="400">©</tspan> <tspan x="1463.46" textLength="107.29" lengthAdjust="spacingAndGlyphs">Designua</tspan></text></g>
</svg>
</body>
</html>
